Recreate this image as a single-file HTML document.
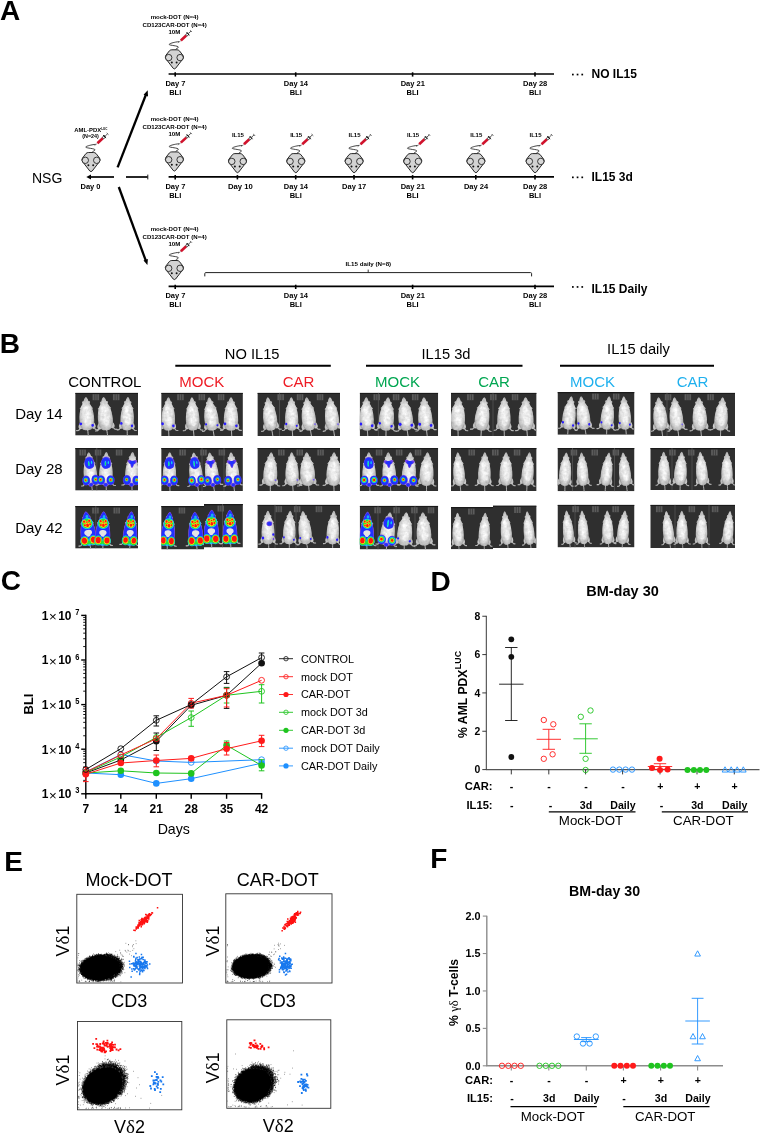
<!DOCTYPE html>
<html lang="en"><head><meta charset="utf-8"><title>Figure</title>
<style>
html,body{margin:0;padding:0;background:#fff;width:760px;height:1134px;overflow:hidden}
svg{display:block;font-family:"Liberation Sans",sans-serif}
.ser{font-family:"Liberation Serif",serif}
</style></head><body>
<svg width="760" height="1134" viewBox="0 0 760 1134">
<rect width="760" height="1134" fill="#fff"/>
<g id="panelA">
<text x="-0.1" y="19.7" font-size="28" font-weight="bold">A</text>
<defs>
<g id="mh">
<path d="M-2.6,-9.7 L2.6,-9.7 Q4,-9.7 5,-8.7 L8.5,-4.2 Q9.7,-2.4 8.6,-0.8 L1.2,8.8 Q0,10 -1.2,8.8 L-8.6,-0.8 Q-9.7,-2.4 -8.5,-4.2 L-5,-8.7 Q-4,-9.7 -2.6,-9.7Z" fill="#d3d3d3" stroke="#111" stroke-width="0.9" stroke-linejoin="round"/>
<circle cx="-5.7" cy="-1.9" r="3.2" fill="#d8d8d8" stroke="#111" stroke-width="0.8"/>
<circle cx="5.7" cy="-1.9" r="3.2" fill="#d8d8d8" stroke="#111" stroke-width="0.8"/>
<circle cx="-2.6" cy="3.1" r="1" fill="#111"/>
<circle cx="2.2" cy="3.1" r="1" fill="#111"/>
<path d="M4.9,-17.9 C1,-17.6 -5.6,-16 -5.2,-15 C-4.8,-14 4.2,-13.8 4,-12.3 C3.9,-11.4 1.8,-11 1.3,-10.2" fill="none" stroke="#222" stroke-width="0.85"/>
<line x1="3.4" y1="-16.5" x2="6.4" y2="-18.8" stroke="#555" stroke-width="0.6"/>
<line x1="6.45" y1="-19" x2="11.8" y2="-24" stroke="#d0122c" stroke-width="2.6"/>
<line x1="11.8" y1="-24" x2="14.2" y2="-26.2" stroke="#222" stroke-width="2.6"/>
<line x1="12.1" y1="-24.3" x2="13.9" y2="-25.9" stroke="#fff" stroke-width="1.4"/>
<line x1="12.2" y1="-27.2" x2="14.9" y2="-24.1" stroke="#111" stroke-width="1"/>
<line x1="14.2" y1="-26.2" x2="16.6" y2="-28.4" stroke="#444" stroke-width="0.9"/>
<line x1="15.7" y1="-29.3" x2="17.5" y2="-27.5" stroke="#444" stroke-width="0.8"/>
</g>
</defs>
<text x="32" y="183" font-size="14">NSG</text>
<use href="#mh" x="91" y="162.2"/>
<text x="74.3" y="131.7" font-size="5.9" font-weight="bold">AML-PDX<tspan font-size="3" dy="-1.7">LUC</tspan></text>
<text x="90.6" y="138.3" font-size="5.4" font-weight="bold" text-anchor="middle">(N=24)</text>
<line x1="89" y1="177" x2="114" y2="177" stroke="#000" stroke-width="1.7"/>
<path d="M86.3,177 L91,174.6 L91,179.4 Z"/>
<text x="90.5" y="188.6" font-size="7.5" font-weight="bold" text-anchor="middle">Day 0</text>
<line x1="126" y1="177" x2="147.6" y2="177" stroke="#000" stroke-width="1.7"/>
<line x1="147.8" y1="174.6" x2="147.8" y2="179.4" stroke="#000" stroke-width="0.9"/>
<line x1="117.6" y1="167.4" x2="146.2" y2="94" stroke="#000" stroke-width="2.3"/>
<path d="M147.7,90.2 L148,96.4 L143.6,94.7 Z"/>
<line x1="118.8" y1="187" x2="146" y2="261.2" stroke="#000" stroke-width="2.3"/>
<path d="M147.4,265 L143.5,260.6 L147.9,259 Z"/>
<line x1="168.6" y1="74" x2="554" y2="74" stroke="#000" stroke-width="1.7"/>
<line x1="175.2" y1="72.3" x2="175.2" y2="76.6" stroke="#000" stroke-width="1.6"/>
<text x="175.4" y="85.8" font-size="7.5" font-weight="bold" text-anchor="middle">Day 7</text>
<text x="175.2" y="94.9" font-size="7.5" font-weight="bold" text-anchor="middle">BLI</text>
<line x1="295.7" y1="72.3" x2="295.7" y2="76.6" stroke="#000" stroke-width="1.6"/>
<text x="295.9" y="85.8" font-size="7.5" font-weight="bold" text-anchor="middle">Day 14</text>
<text x="295.7" y="94.9" font-size="7.5" font-weight="bold" text-anchor="middle">BLI</text>
<line x1="412.6" y1="72.3" x2="412.6" y2="76.6" stroke="#000" stroke-width="1.6"/>
<text x="412.8" y="85.8" font-size="7.5" font-weight="bold" text-anchor="middle">Day 21</text>
<text x="412.6" y="94.9" font-size="7.5" font-weight="bold" text-anchor="middle">BLI</text>
<line x1="535" y1="72.3" x2="535" y2="76.6" stroke="#000" stroke-width="1.6"/>
<text x="535.2" y="85.8" font-size="7.5" font-weight="bold" text-anchor="middle">Day 28</text>
<text x="535" y="94.9" font-size="7.5" font-weight="bold" text-anchor="middle">BLI</text>
<rect x="572" y="73.7" width="1.7" height="1.7"/>
<rect x="576.7" y="73.7" width="1.7" height="1.7"/>
<rect x="581.4" y="73.7" width="1.7" height="1.7"/>
<text x="591.5" y="78.4" font-size="12" font-weight="bold">NO IL15</text>
<line x1="168.6" y1="176.8" x2="554" y2="176.8" stroke="#000" stroke-width="1.7"/>
<line x1="175.2" y1="175.1" x2="175.2" y2="179.4" stroke="#000" stroke-width="1.6"/>
<text x="175.4" y="188.6" font-size="7.5" font-weight="bold" text-anchor="middle">Day 7</text>
<text x="175.2" y="197.7" font-size="7.5" font-weight="bold" text-anchor="middle">BLI</text>
<line x1="237.4" y1="175.1" x2="237.4" y2="179.4" stroke="#000" stroke-width="1.6"/>
<text x="240.4" y="188.6" font-size="7.7" font-weight="bold" text-anchor="middle">Day 10</text>
<line x1="295.7" y1="175.1" x2="295.7" y2="179.4" stroke="#000" stroke-width="1.6"/>
<text x="295.9" y="188.6" font-size="7.5" font-weight="bold" text-anchor="middle">Day 14</text>
<text x="295.7" y="197.7" font-size="7.5" font-weight="bold" text-anchor="middle">BLI</text>
<line x1="354" y1="175.1" x2="354" y2="179.4" stroke="#000" stroke-width="1.6"/>
<text x="354.2" y="188.6" font-size="7.5" font-weight="bold" text-anchor="middle">Day 17</text>
<line x1="412.6" y1="175.1" x2="412.6" y2="179.4" stroke="#000" stroke-width="1.6"/>
<text x="412.8" y="188.6" font-size="7.5" font-weight="bold" text-anchor="middle">Day 21</text>
<text x="412.6" y="197.7" font-size="7.5" font-weight="bold" text-anchor="middle">BLI</text>
<line x1="475.8" y1="175.1" x2="475.8" y2="179.4" stroke="#000" stroke-width="1.6"/>
<text x="476" y="188.6" font-size="7.5" font-weight="bold" text-anchor="middle">Day 24</text>
<line x1="535" y1="175.1" x2="535" y2="179.4" stroke="#000" stroke-width="1.6"/>
<text x="535.2" y="188.6" font-size="7.5" font-weight="bold" text-anchor="middle">Day 28</text>
<text x="535" y="197.7" font-size="7.5" font-weight="bold" text-anchor="middle">BLI</text>
<rect x="572" y="176.5" width="1.7" height="1.7"/>
<rect x="576.7" y="176.5" width="1.7" height="1.7"/>
<rect x="581.4" y="176.5" width="1.7" height="1.7"/>
<text x="591.5" y="181.2" font-size="12" font-weight="bold">IL15 3d</text>
<line x1="168.6" y1="286.4" x2="554" y2="286.4" stroke="#000" stroke-width="1.7"/>
<line x1="175.2" y1="284.7" x2="175.2" y2="289" stroke="#000" stroke-width="1.6"/>
<text x="175.4" y="298.2" font-size="7.5" font-weight="bold" text-anchor="middle">Day 7</text>
<text x="175.2" y="307.3" font-size="7.5" font-weight="bold" text-anchor="middle">BLI</text>
<line x1="295.7" y1="284.7" x2="295.7" y2="289" stroke="#000" stroke-width="1.6"/>
<text x="295.9" y="298.2" font-size="7.5" font-weight="bold" text-anchor="middle">Day 14</text>
<text x="295.7" y="307.3" font-size="7.5" font-weight="bold" text-anchor="middle">BLI</text>
<line x1="412.6" y1="284.7" x2="412.6" y2="289" stroke="#000" stroke-width="1.6"/>
<text x="412.8" y="298.2" font-size="7.5" font-weight="bold" text-anchor="middle">Day 21</text>
<text x="412.6" y="307.3" font-size="7.5" font-weight="bold" text-anchor="middle">BLI</text>
<line x1="535" y1="284.7" x2="535" y2="289" stroke="#000" stroke-width="1.6"/>
<text x="535.2" y="298.2" font-size="7.5" font-weight="bold" text-anchor="middle">Day 28</text>
<text x="535" y="307.3" font-size="7.5" font-weight="bold" text-anchor="middle">BLI</text>
<rect x="572" y="286.1" width="1.7" height="1.7"/>
<rect x="576.7" y="286.1" width="1.7" height="1.7"/>
<rect x="581.4" y="286.1" width="1.7" height="1.7"/>
<text x="591.5" y="293" font-size="12" font-weight="bold">IL15 Daily</text>
<use href="#mh" x="174.4" y="59.5"/>
<text x="174.6" y="19" font-size="6.1" font-weight="bold" text-anchor="middle">mock-DOT (N=4)</text>
<text x="174.6" y="26.5" font-size="6.1" font-weight="bold" text-anchor="middle">CD123CAR-DOT (N=4)</text>
<text x="174.4" y="33.9" font-size="6.1" font-weight="bold" text-anchor="middle">10M</text>
<use href="#mh" x="174.4" y="161.6"/>
<text x="174.6" y="121.1" font-size="6.1" font-weight="bold" text-anchor="middle">mock-DOT (N=4)</text>
<text x="174.6" y="128.6" font-size="6.1" font-weight="bold" text-anchor="middle">CD123CAR-DOT (N=4)</text>
<text x="174.4" y="136" font-size="6.1" font-weight="bold" text-anchor="middle">10M</text>
<use href="#mh" x="174.4" y="270.2"/>
<text x="174.6" y="231.3" font-size="6.1" font-weight="bold" text-anchor="middle">mock-DOT (N=4)</text>
<text x="174.6" y="238.8" font-size="6.1" font-weight="bold" text-anchor="middle">CD123CAR-DOT (N=4)</text>
<text x="174.4" y="246.2" font-size="6.1" font-weight="bold" text-anchor="middle">10M</text>
<use href="#mh" x="237.5" y="163.3"/>
<text x="237.9" y="136.8" font-size="6" font-weight="bold" text-anchor="middle">IL15</text>
<use href="#mh" x="295.8" y="163.3"/>
<text x="296.2" y="136.8" font-size="6" font-weight="bold" text-anchor="middle">IL15</text>
<use href="#mh" x="354.1" y="163.3"/>
<text x="354.5" y="136.8" font-size="6" font-weight="bold" text-anchor="middle">IL15</text>
<use href="#mh" x="412.7" y="163.3"/>
<text x="413.1" y="136.8" font-size="6" font-weight="bold" text-anchor="middle">IL15</text>
<use href="#mh" x="475.9" y="163.3"/>
<text x="476.3" y="136.8" font-size="6" font-weight="bold" text-anchor="middle">IL15</text>
<use href="#mh" x="535.1" y="163.3"/>
<text x="535.5" y="136.8" font-size="6" font-weight="bold" text-anchor="middle">IL15</text>
<path d="M204.8,276.4 L204.8,273.6 Q204.8,272.6 205.8,272.6 L530.6,272.6 Q531.6,272.6 531.6,273.6 L531.6,276.4" fill="none" stroke="#222" stroke-width="1"/>
<line x1="368.2" y1="269.6" x2="368.2" y2="272.6" stroke="#222" stroke-width="0.9"/>
<text x="368.4" y="265.6" font-size="6.2" font-weight="bold" text-anchor="middle">IL15 daily (N=8)</text>
</g>
<g id="panelB">
<text x="-0.3" y="352.8" font-size="28" font-weight="bold">B</text>
<defs>
<filter id="bl" x="-5%" y="-5%" width="110%" height="110%"><feTurbulence type="fractalNoise" baseFrequency="0.32" numOctaves="2" seed="4" result="n"/><feColorMatrix in="n" type="matrix" values="0.5 0.5 0 0 0  0.5 0.5 0 0 0  0.5 0.5 0 0 0  0 0 0 0 1" result="g"/><feComposite in="SourceGraphic" in2="g" operator="arithmetic" k1="0.7" k2="0.64" k3="0" k4="0" result="m"/><feGaussianBlur in="m" stdDeviation="0.5"/></filter>
<filter id="bl2" x="-10%" y="-10%" width="120%" height="120%"><feGaussianBlur stdDeviation="0.75"/></filter>
<radialGradient id="mg" cx="50%" cy="52%" r="58%"><stop offset="0" stop-color="#f3f3f3"/><stop offset="0.5" stop-color="#e0e0e0"/><stop offset="0.82" stop-color="#bdbdbd"/><stop offset="1" stop-color="#8a8a8a"/></radialGradient>
<radialGradient id="hot"><stop offset="0" stop-color="#ff0a00"/><stop offset="0.28" stop-color="#ff3000"/><stop offset="0.42" stop-color="#ffe000"/><stop offset="0.55" stop-color="#20e020"/><stop offset="0.68" stop-color="#00d8f0"/><stop offset="0.82" stop-color="#1038ff"/><stop offset="1" stop-color="#5a20e8" stop-opacity="0.85"/></radialGradient>
<radialGradient id="warm"><stop offset="0" stop-color="#ffe000"/><stop offset="0.25" stop-color="#30e030"/><stop offset="0.5" stop-color="#00d0f0"/><stop offset="0.75" stop-color="#1038ff"/><stop offset="1" stop-color="#5a20e8" stop-opacity="0.85"/></radialGradient>
<radialGradient id="cool"><stop offset="0" stop-color="#00e8e0"/><stop offset="0.35" stop-color="#0070ff"/><stop offset="0.7" stop-color="#2828ff"/><stop offset="1" stop-color="#6a28e0" stop-opacity="0.8"/></radialGradient>
<radialGradient id="vio"><stop offset="0" stop-color="#2a2aff"/><stop offset="0.6" stop-color="#4a28f0"/><stop offset="1" stop-color="#7a40e0" stop-opacity="0.7"/></radialGradient>
<g id="pm">
<path d="M-5.6,12 L-8.6,15.4 L-10.6,15.6 M5.6,12 L8.6,15.4 L10.6,15.6 M-3.8,-8.4 L-6,-6.4 M3.8,-8.4 L6,-6.4" stroke="#b4b4b4" stroke-width="1.15" fill="none" stroke-linecap="round"/>
<path d="M0.3,15 C1,18 0.3,20.5 1.4,24" stroke="#b8b8b8" stroke-width="0.9" fill="none"/>
<ellipse cx="-5.7" cy="10.6" rx="2.5" ry="3.8" transform="rotate(22 -5.7 10.6)" fill="#c4c4c4"/>
<ellipse cx="5.7" cy="10.6" rx="2.5" ry="3.8" transform="rotate(-22 5.7 10.6)" fill="#c4c4c4"/>
<circle cx="-2.7" cy="-12.4" r="1.3" fill="#bdbdbd"/><circle cx="2.7" cy="-12.4" r="1.3" fill="#bdbdbd"/>
<path d="M0,-18 C1.2,-17.6 2,-15.5 2.6,-13 C3,-11.5 4.6,-10 5.4,-7.5 C6.6,-4 7.3,0 7.4,5 C7.5,10 5.8,14.5 3,15.4 C1.5,15.9 -1.5,15.9 -3,15.4 C-5.8,14.5 -7.5,10 -7.4,5 C-7.3,0 -6.6,-4 -5.4,-7.5 C-4.6,-10 -3,-11.5 -2.6,-13 C-2,-15.5 -1.2,-17.6 0,-18Z" fill="url(#mg)"/>
<ellipse cx="-0.8" cy="-5.5" rx="2.4" ry="3.2" fill="#fff" opacity="0.5"/>
<ellipse cx="1" cy="6.5" rx="3.2" ry="4.6" fill="#fff" opacity="0.42"/>
</g>
<path id="sil" d="M0,-18.6 C2.2,-17.4 3.6,-13.5 4.6,-10 C6.1,-6 7.6,-1 7.9,5 C8.2,10.4 6,16.4 0,16.4 C-6,16.4 -8.2,10.4 -7.9,5 C-7.6,-1 -6.1,-6 -4.6,-10 C-3.6,-13.5 -2.2,-17.4 0,-18.6Z"/>
</defs>
<text x="252.2" y="359.2" font-size="14.7" text-anchor="middle">NO IL15</text>
<text x="446" y="359.2" font-size="14.7" text-anchor="middle">IL15 3d</text>
<text x="638.5" y="354.3" font-size="14.7" text-anchor="middle">IL15 daily</text>
<line x1="175.3" y1="365.7" x2="330.8" y2="365.7" stroke="#000" stroke-width="2"/>
<line x1="366" y1="365.7" x2="522.5" y2="365.7" stroke="#000" stroke-width="2"/>
<line x1="560" y1="365.7" x2="714" y2="365.7" stroke="#000" stroke-width="2"/>
<text x="104.8" y="386.8" font-size="15" text-anchor="middle">CONTROL</text>
<text x="201.8" y="386.8" font-size="15" text-anchor="middle" fill="#ee1c25">MOCK</text>
<text x="298.5" y="386.8" font-size="15" text-anchor="middle" fill="#ee1c25">CAR</text>
<text x="397.6" y="386.8" font-size="15" text-anchor="middle" fill="#00a651">MOCK</text>
<text x="494" y="386.8" font-size="15" text-anchor="middle" fill="#00a651">CAR</text>
<text x="592.5" y="386.8" font-size="15" text-anchor="middle" fill="#1fb0ee">MOCK</text>
<text x="692.5" y="386.8" font-size="15" text-anchor="middle" fill="#1fb0ee">CAR</text>
<text x="15.2" y="418.7" font-size="15">Day 14</text>
<text x="15.2" y="474" font-size="15">Day 28</text>
<text x="15.2" y="532.5" font-size="15">Day 42</text>
<clipPath id="c0"><rect x="75.2" y="392.7" width="62.8" height="42.9"/></clipPath>
<g clip-path="url(#c0)">
<rect x="75.2" y="392.7" width="62.8" height="42.9" fill="#2f2f2f"/>
<rect x="92.6" y="394.2" width="6.5" height="6" fill="#5c5c5c"/>
<path d="M94.8,394.2v6M97,394.2v6" stroke="#333" stroke-width="0.7"/>
<rect x="112.95" y="394.2" width="6.5" height="6" fill="#5c5c5c"/>
<path d="M115.15,394.2v6M117.35,394.2v6" stroke="#333" stroke-width="0.7"/>
<rect x="75.2" y="392.7" width="62.8" height="1.2" fill="#1a1a1a"/>
<g filter="url(#bl)">
<use href="#pm" transform="translate(86.6,414.75) rotate(-2.47) scale(1,0.99)"/>
<use href="#pm" transform="translate(105,414.75) rotate(-4.89) scale(1.01,0.99)"/>
<use href="#pm" transform="translate(127.3,414.75) rotate(2.11) scale(0.91,0.99)"/>
</g>
<g filter="url(#bl2)">
<g transform="translate(86.6,414.75) rotate(-2.47) scale(1,0.99)"><ellipse cx="-6.2" cy="9" rx="1.4" ry="1.4" fill="#2a1cff"/><ellipse cx="5.6" cy="11" rx="1.33" ry="1.33" fill="#2a1cff"/></g>
<g transform="translate(127.3,414.75) rotate(2.11) scale(0.91,0.99)"><ellipse cx="-6.2" cy="9" rx="1.4" ry="1.4" fill="#2a1cff"/><ellipse cx="5.6" cy="11" rx="1.33" ry="1.33" fill="#2a1cff"/></g>
</g>
</g>
<clipPath id="c1"><rect x="161.2" y="392.7" width="81.7" height="43.3"/></clipPath>
<g clip-path="url(#c1)">
<rect x="161.2" y="392.7" width="81.7" height="43.3" fill="#2f2f2f"/>
<rect x="177.2" y="394.2" width="6.5" height="6" fill="#5c5c5c"/>
<path d="M179.4,394.2v6M181.6,394.2v6" stroke="#333" stroke-width="0.7"/>
<rect x="198.55" y="394.2" width="6.5" height="6" fill="#5c5c5c"/>
<path d="M200.75,394.2v6M202.95,394.2v6" stroke="#333" stroke-width="0.7"/>
<rect x="217.8" y="394.2" width="6.5" height="6" fill="#5c5c5c"/>
<path d="M220,394.2v6M222.2,394.2v6" stroke="#333" stroke-width="0.7"/>
<rect x="161.2" y="392.7" width="81.7" height="1.2" fill="#1a1a1a"/>
<g filter="url(#bl)">
<use href="#pm" transform="translate(168.3,414.95) rotate(0.5) scale(0.92,0.99)"/>
<use href="#pm" transform="translate(192.5,414.95) rotate(-1.88) scale(0.92,0.99)"/>
<use href="#pm" transform="translate(211,414.95) rotate(-6.19) scale(0.95,0.99)"/>
<use href="#pm" transform="translate(231,414.95) rotate(0.1) scale(0.97,0.99)"/>
</g>
<g filter="url(#bl2)">
<g transform="translate(168.3,414.95) rotate(0.5) scale(0.92,0.99)"><ellipse cx="-6.2" cy="9" rx="1.53" ry="1.53" fill="#2a1cff"/><ellipse cx="5.6" cy="11" rx="1.45" ry="1.45" fill="#2a1cff"/></g>
<g transform="translate(211,414.95) rotate(-6.19) scale(0.95,0.99)"><ellipse cx="-6.2" cy="9" rx="1.14" ry="1.14" fill="#2a1cff"/><ellipse cx="5.6" cy="11" rx="1.08" ry="1.08" fill="#2a1cff"/></g>
<g transform="translate(231,414.95) rotate(0.1) scale(0.97,0.99)"><ellipse cx="-6.2" cy="9" rx="1.4" ry="1.4" fill="#2a1cff"/><ellipse cx="5.6" cy="11" rx="1.33" ry="1.33" fill="#2a1cff"/></g>
</g>
</g>
<clipPath id="c2"><rect x="257.4" y="392.7" width="82.6" height="43.3"/></clipPath>
<g clip-path="url(#c2)">
<rect x="257.4" y="392.7" width="82.6" height="43.3" fill="#2f2f2f"/>
<rect x="277.45" y="394.2" width="6.5" height="6" fill="#5c5c5c"/>
<path d="M279.65,394.2v6M281.85,394.2v6" stroke="#333" stroke-width="0.7"/>
<rect x="296.8" y="394.2" width="6.5" height="6" fill="#5c5c5c"/>
<path d="M299,394.2v6M301.2,394.2v6" stroke="#333" stroke-width="0.7"/>
<rect x="316.8" y="394.2" width="6.5" height="6" fill="#5c5c5c"/>
<path d="M319,394.2v6M321.2,394.2v6" stroke="#333" stroke-width="0.7"/>
<rect x="257.4" y="392.7" width="82.6" height="1.2" fill="#1a1a1a"/>
<line x1="279.5" y1="392.7" x2="279.5" y2="436" stroke="#5a5a5a" stroke-width="0.7"/>
<g filter="url(#bl)">
<use href="#pm" transform="translate(269.7,414.95) rotate(-6.48) scale(0.93,0.99)"/>
<use href="#pm" transform="translate(291.6,414.95) rotate(-0.93) scale(0.89,0.99)"/>
<use href="#pm" transform="translate(308.4,414.95) rotate(-6.02) scale(0.95,0.99)"/>
<use href="#pm" transform="translate(331.6,414.95) rotate(-5.73) scale(0.94,0.99)"/>
</g>
<g filter="url(#bl2)">
<g transform="translate(291.6,414.95) rotate(-0.93) scale(0.89,0.99)"><ellipse cx="-6.2" cy="9" rx="1.21" ry="1.21" fill="#2a1cff"/><ellipse cx="5.6" cy="11" rx="1.14" ry="1.14" fill="#2a1cff"/></g>
<g transform="translate(308.4,414.95) rotate(-6.02) scale(0.95,0.99)"><ellipse cx="5.8" cy="10" rx="0.9" ry="0.9" fill="#6a50ff" opacity="0.85"/></g>
<g transform="translate(331.6,414.95) rotate(-5.73) scale(0.94,0.99)"><ellipse cx="5.8" cy="10" rx="0.9" ry="0.9" fill="#6a50ff" opacity="0.85"/></g>
</g>
</g>
<clipPath id="c3"><rect x="359.7" y="392.7" width="78.5" height="43.3"/></clipPath>
<g clip-path="url(#c3)">
<rect x="359.7" y="392.7" width="78.5" height="43.3" fill="#2f2f2f"/>
<rect x="373.5" y="394.2" width="6.5" height="6" fill="#5c5c5c"/>
<path d="M375.7,394.2v6M377.9,394.2v6" stroke="#333" stroke-width="0.7"/>
<rect x="392.85" y="394.2" width="6.5" height="6" fill="#5c5c5c"/>
<path d="M395.05,394.2v6M397.25,394.2v6" stroke="#333" stroke-width="0.7"/>
<rect x="411.95" y="394.2" width="6.5" height="6" fill="#5c5c5c"/>
<path d="M414.15,394.2v6M416.35,394.2v6" stroke="#333" stroke-width="0.7"/>
<rect x="359.7" y="392.7" width="78.5" height="1.2" fill="#1a1a1a"/>
<line x1="378.4" y1="392.7" x2="378.4" y2="436" stroke="#5a5a5a" stroke-width="0.7"/>
<g filter="url(#bl)">
<use href="#pm" transform="translate(366.6,414.95) rotate(-1.06) scale(0.96,0.99)"/>
<use href="#pm" transform="translate(386.8,414.95) rotate(4.58) scale(1.01,0.99)"/>
<use href="#pm" transform="translate(405.3,414.95) rotate(-5.27) scale(0.98,0.99)"/>
<use href="#pm" transform="translate(425,414.95) rotate(-3.87) scale(0.96,0.99)"/>
</g>
<g filter="url(#bl2)">
<g transform="translate(366.6,414.95) rotate(-1.06) scale(0.96,0.99)"><ellipse cx="-6.2" cy="9" rx="1.53" ry="1.53" fill="#2a1cff"/><ellipse cx="5.6" cy="11" rx="1.45" ry="1.45" fill="#2a1cff"/></g>
<g transform="translate(386.8,414.95) rotate(4.58) scale(1.01,0.99)"><ellipse cx="-6.2" cy="9" rx="1.27" ry="1.27" fill="#2a1cff"/><ellipse cx="5.6" cy="11" rx="1.21" ry="1.21" fill="#2a1cff"/></g>
<g transform="translate(405.3,414.95) rotate(-5.27) scale(0.98,0.99)"><ellipse cx="-6.2" cy="9" rx="1.53" ry="1.53" fill="#2a1cff"/><ellipse cx="5.6" cy="11" rx="1.45" ry="1.45" fill="#2a1cff"/></g>
<g transform="translate(425,414.95) rotate(-3.87) scale(0.96,0.99)"><ellipse cx="-6.2" cy="9" rx="1.53" ry="1.53" fill="#2a1cff"/><ellipse cx="5.6" cy="11" rx="1.45" ry="1.45" fill="#2a1cff"/></g>
</g>
</g>
<clipPath id="c4"><rect x="451" y="392.7" width="85.6" height="43.3"/></clipPath>
<g clip-path="url(#c4)">
<rect x="451" y="392.7" width="85.6" height="43.3" fill="#2f2f2f"/>
<rect x="467.05" y="394.2" width="6.5" height="6" fill="#5c5c5c"/>
<path d="M469.25,394.2v6M471.45,394.2v6" stroke="#333" stroke-width="0.7"/>
<rect x="490.05" y="394.2" width="6.5" height="6" fill="#5c5c5c"/>
<path d="M492.25,394.2v6M494.45,394.2v6" stroke="#333" stroke-width="0.7"/>
<rect x="511.8" y="394.2" width="6.5" height="6" fill="#5c5c5c"/>
<path d="M514,394.2v6M516.2,394.2v6" stroke="#333" stroke-width="0.7"/>
<rect x="451" y="392.7" width="85.6" height="1.2" fill="#1a1a1a"/>
<line x1="493" y1="392.7" x2="493" y2="436" stroke="#5a5a5a" stroke-width="0.7"/>
<g filter="url(#bl)">
<use href="#pm" transform="translate(458,414.95) rotate(1.78) scale(0.97,0.99)"/>
<use href="#pm" transform="translate(482.5,414.95) rotate(6.27) scale(0.98,0.99)"/>
<use href="#pm" transform="translate(504,414.95) rotate(1.08) scale(0.9,0.99)"/>
<use href="#pm" transform="translate(526,414.95) rotate(-1.45) scale(1.01,0.99)"/>
</g>
</g>
<clipPath id="c5"><rect x="557.5" y="392" width="77" height="42.8"/></clipPath>
<g clip-path="url(#c5)">
<rect x="557.5" y="392" width="77" height="42.8" fill="#2f2f2f"/>
<rect x="592.15" y="393.5" width="6.5" height="6" fill="#5c5c5c"/>
<path d="M594.35,393.5v6M596.55,393.5v6" stroke="#333" stroke-width="0.7"/>
<rect x="612.95" y="393.5" width="6.5" height="6" fill="#5c5c5c"/>
<path d="M615.15,393.5v6M617.35,393.5v6" stroke="#333" stroke-width="0.7"/>
<rect x="557.5" y="392" width="77" height="1.2" fill="#1a1a1a"/>
<g filter="url(#bl)">
<use href="#pm" transform="translate(569.4,414) rotate(6.67) scale(0.89,0.99)"/>
<use href="#pm" transform="translate(583,414) rotate(-6.35) scale(0.9,0.99)"/>
<use href="#pm" transform="translate(607.7,414) rotate(5.02) scale(0.89,0.99)"/>
<use href="#pm" transform="translate(624.6,414) rotate(-2.95) scale(0.84,0.99)"/>
</g>
<g filter="url(#bl2)">
<g transform="translate(569.4,414) rotate(6.67) scale(0.89,0.99)"><ellipse cx="-6.2" cy="9" rx="1.33" ry="1.33" fill="#2a1cff"/><ellipse cx="5.6" cy="11" rx="1.27" ry="1.27" fill="#2a1cff"/></g>
<g transform="translate(583,414) rotate(-6.35) scale(0.9,0.99)"><ellipse cx="-6.2" cy="9" rx="1.27" ry="1.27" fill="#2a1cff"/><ellipse cx="5.6" cy="11" rx="1.21" ry="1.21" fill="#2a1cff"/></g>
<g transform="translate(607.7,414) rotate(5.02) scale(0.89,0.99)"><ellipse cx="-6.2" cy="9" rx="1.14" ry="1.14" fill="#2a1cff"/><ellipse cx="5.6" cy="11" rx="1.08" ry="1.08" fill="#2a1cff"/></g>
<g transform="translate(624.6,414) rotate(-2.95) scale(0.84,0.99)"><ellipse cx="-6.2" cy="9" rx="1.14" ry="1.14" fill="#2a1cff"/><ellipse cx="5.6" cy="11" rx="1.08" ry="1.08" fill="#2a1cff"/></g>
</g>
</g>
<clipPath id="c6"><rect x="650.3" y="392.7" width="84.7" height="43.3"/></clipPath>
<g clip-path="url(#c6)">
<rect x="650.3" y="392.7" width="84.7" height="43.3" fill="#2f2f2f"/>
<rect x="664.8" y="394.2" width="6.5" height="6" fill="#5c5c5c"/>
<path d="M667,394.2v6M669.2,394.2v6" stroke="#333" stroke-width="0.7"/>
<rect x="684.6" y="394.2" width="6.5" height="6" fill="#5c5c5c"/>
<path d="M686.8,394.2v6M689,394.2v6" stroke="#333" stroke-width="0.7"/>
<rect x="707.3" y="394.2" width="6.5" height="6" fill="#5c5c5c"/>
<path d="M709.5,394.2v6M711.7,394.2v6" stroke="#333" stroke-width="0.7"/>
<rect x="650.3" y="392.7" width="84.7" height="1.2" fill="#1a1a1a"/>
<line x1="667" y1="392.7" x2="667" y2="436" stroke="#5a5a5a" stroke-width="0.7"/>
<g filter="url(#bl)">
<use href="#pm" transform="translate(660,414.95) rotate(-4.98) scale(0.94,0.99)"/>
<use href="#pm" transform="translate(676,414.95) rotate(-5.35) scale(0.91,0.99)"/>
<use href="#pm" transform="translate(699.6,414.95) rotate(-2.68) scale(0.97,0.99)"/>
<use href="#pm" transform="translate(721.4,414.95) rotate(4.43) scale(0.9,0.99)"/>
</g>
<g filter="url(#bl2)">
<g transform="translate(676,414.95) rotate(-5.35) scale(0.91,0.99)"><ellipse cx="5.8" cy="10" rx="0.9" ry="0.9" fill="#6a50ff" opacity="0.85"/></g>
</g>
</g>
<clipPath id="c7"><rect x="75.2" y="448" width="62.8" height="42.6"/></clipPath>
<g clip-path="url(#c7)">
<rect x="75.2" y="448" width="62.8" height="42.6" fill="#2f2f2f"/>
<rect x="79.4" y="449.5" width="6.5" height="6" fill="#5c5c5c"/>
<path d="M81.6,449.5v6M83.8,449.5v6" stroke="#333" stroke-width="0.7"/>
<rect x="94.8" y="449.5" width="6.5" height="6" fill="#5c5c5c"/>
<path d="M97,449.5v6M99.2,449.5v6" stroke="#333" stroke-width="0.7"/>
<rect x="115.8" y="449.5" width="6.5" height="6" fill="#5c5c5c"/>
<path d="M118,449.5v6M120.2,449.5v6" stroke="#333" stroke-width="0.7"/>
<rect x="75.2" y="448" width="62.8" height="1.2" fill="#1a1a1a"/>
<line x1="96.8" y1="448" x2="96.8" y2="490.6" stroke="#5a5a5a" stroke-width="0.7"/>
<g filter="url(#bl)">
<use href="#pm" transform="translate(90,469.9) rotate(-4.47) scale(0.9,0.99)"/>
<use href="#pm" transform="translate(106,469.9) rotate(1.14) scale(0.92,0.99)"/>
<use href="#pm" transform="translate(132,469.9) rotate(1.94) scale(0.91,0.99)"/>
</g>
<g filter="url(#bl2)">
<g transform="translate(90,469.9) rotate(-4.47) scale(0.9,0.99)"><ellipse cx="0" cy="-7.2" rx="5.6" ry="6.4" fill="#6d3fe6" opacity="0.8"/><ellipse cx="-0.3" cy="-7" rx="5" ry="5.7" fill="#2230ff"/><ellipse cx="2.8" cy="-4.5" rx="2" ry="2.4" fill="#2230ff"/><ellipse cx="-0.8" cy="-6.5" rx="1" ry="2.7" fill="#14d2ee"/><ellipse cx="2.4" cy="-7.5" rx="0.8" ry="1.6" fill="#14d2ee"/><ellipse cx="-0.8" cy="-6.2" rx="0.45" ry="1.5" fill="#2fe02f"/><ellipse cx="-5.2" cy="10.4" rx="4.5" ry="5" fill="#6d3fe6" opacity="0.8"/><ellipse cx="-5.2" cy="10.4" rx="4" ry="4.5" fill="#2230ff"/><ellipse cx="-5.5" cy="10" rx="2.5" ry="2.5" fill="#14d2ee"/><ellipse cx="-5.5" cy="10" rx="1.95" ry="1.95" fill="#2fe02f"/><ellipse cx="-5.5" cy="10" rx="1.45" ry="1.45" fill="#ffe614"/><ellipse cx="-5.5" cy="10" rx="1" ry="1" fill="#ff1408"/><ellipse cx="5.2" cy="10.4" rx="4.5" ry="5" fill="#6d3fe6" opacity="0.8"/><ellipse cx="5.2" cy="10.4" rx="4" ry="4.5" fill="#2230ff"/><ellipse cx="5.5" cy="10" rx="2.5" ry="2.5" fill="#14d2ee"/><ellipse cx="5.5" cy="10" rx="1.95" ry="1.95" fill="#2fe02f"/><ellipse cx="5.5" cy="10" rx="1.45" ry="1.45" fill="#ffe614"/><ellipse cx="5.5" cy="10" rx="1" ry="1" fill="#ff1408"/><ellipse cx="0" cy="15" rx="2.6" ry="2.1" fill="#6d3fe6"/><ellipse cx="0" cy="15" rx="1.8" ry="1.4" fill="#2230ff"/></g>
<g transform="translate(106,469.9) rotate(1.14) scale(0.92,0.99)"><ellipse cx="0" cy="-7.2" rx="5.6" ry="6.4" fill="#6d3fe6" opacity="0.8"/><ellipse cx="-0.3" cy="-7" rx="5" ry="5.7" fill="#2230ff"/><ellipse cx="2.8" cy="-4.5" rx="2" ry="2.4" fill="#2230ff"/><ellipse cx="-0.8" cy="-6.5" rx="1" ry="2.7" fill="#14d2ee"/><ellipse cx="2.4" cy="-7.5" rx="0.8" ry="1.6" fill="#14d2ee"/><ellipse cx="-0.8" cy="-6.2" rx="0.45" ry="1.5" fill="#2fe02f"/><ellipse cx="-5.2" cy="10.4" rx="4.5" ry="5" fill="#6d3fe6" opacity="0.8"/><ellipse cx="-5.2" cy="10.4" rx="4" ry="4.5" fill="#2230ff"/><ellipse cx="-5.5" cy="10" rx="2.5" ry="2.5" fill="#14d2ee"/><ellipse cx="-5.5" cy="10" rx="1.95" ry="1.95" fill="#2fe02f"/><ellipse cx="-5.5" cy="10" rx="1.45" ry="1.45" fill="#ffe614"/><ellipse cx="-5.5" cy="10" rx="1" ry="1" fill="#ff1408"/><ellipse cx="5.2" cy="10.4" rx="4.5" ry="5" fill="#6d3fe6" opacity="0.8"/><ellipse cx="5.2" cy="10.4" rx="4" ry="4.5" fill="#2230ff"/><ellipse cx="5.5" cy="10" rx="2.5" ry="2.5" fill="#14d2ee"/><ellipse cx="5.5" cy="10" rx="1.95" ry="1.95" fill="#2fe02f"/><ellipse cx="5.5" cy="10" rx="1.45" ry="1.45" fill="#ffe614"/><ellipse cx="5.5" cy="10" rx="1" ry="1" fill="#ff1408"/><ellipse cx="0" cy="15" rx="2.6" ry="2.1" fill="#6d3fe6"/><ellipse cx="0" cy="15" rx="1.8" ry="1.4" fill="#2230ff"/></g>
<g transform="translate(132,469.9) rotate(1.94) scale(0.91,0.99)"><path d="M-5.4,-9.5 C-3,-11 -1,-9.5 0,-8.5 C1,-9.5 3,-11 5.4,-9.5 C5,-7 3,-6.5 2,-5.5 C1.6,-3.6 0.8,-2.2 0,-2 C-0.8,-2.2 -1.6,-3.6 -2,-5.5 C-3,-6.5 -5,-7 -5.4,-9.5Z" fill="#6d3fe6"/><ellipse cx="0" cy="-7.6" rx="3.4" ry="1.7" fill="#2230ff"/><ellipse cx="0" cy="-5.5" rx="1.1" ry="2.2" fill="#2230ff"/><ellipse cx="-5.2" cy="10.4" rx="4.5" ry="5" fill="#6d3fe6" opacity="0.8"/><ellipse cx="-5.2" cy="10.4" rx="4" ry="4.5" fill="#2230ff"/><ellipse cx="-5.5" cy="10" rx="2" ry="2" fill="#14d2ee"/><ellipse cx="-5.5" cy="10" rx="1.56" ry="1.56" fill="#2fe02f"/><ellipse cx="-5.5" cy="10" rx="1.16" ry="1.16" fill="#ffe614"/><ellipse cx="-5.5" cy="10" rx="0.8" ry="0.8" fill="#ff1408"/><ellipse cx="5.2" cy="10.4" rx="4.5" ry="5" fill="#6d3fe6" opacity="0.8"/><ellipse cx="5.2" cy="10.4" rx="4" ry="4.5" fill="#2230ff"/><ellipse cx="5.5" cy="10" rx="2" ry="2" fill="#14d2ee"/><ellipse cx="5.5" cy="10" rx="1.56" ry="1.56" fill="#2fe02f"/><ellipse cx="5.5" cy="10" rx="1.16" ry="1.16" fill="#ffe614"/><ellipse cx="5.5" cy="10" rx="0.8" ry="0.8" fill="#ff1408"/><ellipse cx="0" cy="15" rx="2.6" ry="2.1" fill="#6d3fe6"/><ellipse cx="0" cy="15" rx="1.8" ry="1.4" fill="#2230ff"/></g>
</g>
</g>
<clipPath id="c8"><rect x="161.2" y="448" width="81.7" height="43"/></clipPath>
<g clip-path="url(#c8)">
<rect x="161.2" y="448" width="81.7" height="43" fill="#2f2f2f"/>
<rect x="179.3" y="449.5" width="6.5" height="6" fill="#5c5c5c"/>
<path d="M181.5,449.5v6M183.7,449.5v6" stroke="#333" stroke-width="0.7"/>
<rect x="200.25" y="449.5" width="6.5" height="6" fill="#5c5c5c"/>
<path d="M202.45,449.5v6M204.65,449.5v6" stroke="#333" stroke-width="0.7"/>
<rect x="218.6" y="449.5" width="6.5" height="6" fill="#5c5c5c"/>
<path d="M220.8,449.5v6M223,449.5v6" stroke="#333" stroke-width="0.7"/>
<rect x="161.2" y="448" width="81.7" height="1.2" fill="#1a1a1a"/>
<line x1="202" y1="448" x2="202" y2="491" stroke="#5a5a5a" stroke-width="0.7"/>
<line x1="224" y1="448" x2="224" y2="491" stroke="#5a5a5a" stroke-width="0.7"/>
<g filter="url(#bl)">
<use href="#pm" transform="translate(169.5,470.1) rotate(0.67) scale(0.9,0.99)"/>
<use href="#pm" transform="translate(195.5,470.1) rotate(-6.12) scale(0.89,0.99)"/>
<use href="#pm" transform="translate(211.4,470.1) rotate(-6.17) scale(0.91,0.99)"/>
<use href="#pm" transform="translate(232.2,470.1) rotate(-4.12) scale(0.91,0.99)"/>
</g>
<g filter="url(#bl2)">
<g transform="translate(169.5,470.1) rotate(0.67) scale(0.9,0.99)"><ellipse cx="0" cy="-7.2" rx="5.6" ry="6.4" fill="#6d3fe6" opacity="0.8"/><ellipse cx="-0.3" cy="-7" rx="5" ry="5.7" fill="#2230ff"/><ellipse cx="2.8" cy="-4.5" rx="2" ry="2.4" fill="#2230ff"/><ellipse cx="-0.8" cy="-6.5" rx="1" ry="2.7" fill="#14d2ee"/><ellipse cx="2.4" cy="-7.5" rx="0.8" ry="1.6" fill="#14d2ee"/><ellipse cx="-0.8" cy="-6.2" rx="0.45" ry="1.5" fill="#2fe02f"/><ellipse cx="-5.2" cy="10.4" rx="4.5" ry="5" fill="#6d3fe6" opacity="0.8"/><ellipse cx="-5.2" cy="10.4" rx="4" ry="4.5" fill="#2230ff"/><ellipse cx="-5.5" cy="10" rx="2.5" ry="2.5" fill="#14d2ee"/><ellipse cx="-5.5" cy="10" rx="1.95" ry="1.95" fill="#2fe02f"/><ellipse cx="-5.5" cy="10" rx="1.45" ry="1.45" fill="#ffe614"/><ellipse cx="-5.5" cy="10" rx="1" ry="1" fill="#ff1408"/><ellipse cx="5.2" cy="10.4" rx="4.5" ry="5" fill="#6d3fe6" opacity="0.8"/><ellipse cx="5.2" cy="10.4" rx="4" ry="4.5" fill="#2230ff"/><ellipse cx="5.5" cy="10" rx="2.5" ry="2.5" fill="#14d2ee"/><ellipse cx="5.5" cy="10" rx="1.95" ry="1.95" fill="#2fe02f"/><ellipse cx="5.5" cy="10" rx="1.45" ry="1.45" fill="#ffe614"/><ellipse cx="5.5" cy="10" rx="1" ry="1" fill="#ff1408"/><ellipse cx="0" cy="15" rx="2.6" ry="2.1" fill="#6d3fe6"/><ellipse cx="0" cy="15" rx="1.8" ry="1.4" fill="#2230ff"/></g>
<g transform="translate(195.5,470.1) rotate(-6.12) scale(0.89,0.99)"><ellipse cx="0" cy="-7.2" rx="5.6" ry="6.4" fill="#6d3fe6" opacity="0.8"/><ellipse cx="-0.3" cy="-7" rx="5" ry="5.7" fill="#2230ff"/><ellipse cx="2.8" cy="-4.5" rx="2" ry="2.4" fill="#2230ff"/><ellipse cx="-0.8" cy="-6.5" rx="1" ry="3.24" fill="#14d2ee"/><ellipse cx="2.4" cy="-7.5" rx="0.8" ry="1.6" fill="#14d2ee"/><ellipse cx="-0.8" cy="-6.2" rx="0.45" ry="1.5" fill="#2fe02f"/><ellipse cx="-5.2" cy="10.4" rx="4.5" ry="5" fill="#6d3fe6" opacity="0.8"/><ellipse cx="-5.2" cy="10.4" rx="4" ry="4.5" fill="#2230ff"/><ellipse cx="-5.5" cy="10" rx="3" ry="3" fill="#14d2ee"/><ellipse cx="-5.5" cy="10" rx="2.34" ry="2.34" fill="#2fe02f"/><ellipse cx="-5.5" cy="10" rx="1.74" ry="1.74" fill="#ffe614"/><ellipse cx="-5.5" cy="10" rx="1.2" ry="1.2" fill="#ff1408"/><ellipse cx="5.2" cy="10.4" rx="4.5" ry="5" fill="#6d3fe6" opacity="0.8"/><ellipse cx="5.2" cy="10.4" rx="4" ry="4.5" fill="#2230ff"/><ellipse cx="5.5" cy="10" rx="3" ry="3" fill="#14d2ee"/><ellipse cx="5.5" cy="10" rx="2.34" ry="2.34" fill="#2fe02f"/><ellipse cx="5.5" cy="10" rx="1.74" ry="1.74" fill="#ffe614"/><ellipse cx="5.5" cy="10" rx="1.2" ry="1.2" fill="#ff1408"/><ellipse cx="0" cy="15" rx="2.6" ry="2.1" fill="#6d3fe6"/><ellipse cx="0" cy="15" rx="1.8" ry="1.4" fill="#2230ff"/></g>
<g transform="translate(211.4,470.1) rotate(-6.17) scale(0.91,0.99)"><path d="M-5.4,-9.5 C-3,-11 -1,-9.5 0,-8.5 C1,-9.5 3,-11 5.4,-9.5 C5,-7 3,-6.5 2,-5.5 C1.6,-3.6 0.8,-2.2 0,-2 C-0.8,-2.2 -1.6,-3.6 -2,-5.5 C-3,-6.5 -5,-7 -5.4,-9.5Z" fill="#6d3fe6"/><ellipse cx="0" cy="-7.6" rx="3.4" ry="1.7" fill="#2230ff"/><ellipse cx="0" cy="-5.5" rx="1.1" ry="2.2" fill="#2230ff"/><ellipse cx="-5.2" cy="10.4" rx="4.5" ry="5" fill="#6d3fe6" opacity="0.8"/><ellipse cx="-5.2" cy="10.4" rx="4" ry="4.5" fill="#2230ff"/><ellipse cx="-5.5" cy="10" rx="2.25" ry="2.25" fill="#14d2ee"/><ellipse cx="-5.5" cy="10" rx="1.75" ry="1.75" fill="#2fe02f"/><ellipse cx="-5.5" cy="10" rx="1.3" ry="1.3" fill="#ffe614"/><ellipse cx="-5.5" cy="10" rx="0.9" ry="0.9" fill="#ff1408"/><ellipse cx="5.2" cy="10.4" rx="4.5" ry="5" fill="#6d3fe6" opacity="0.8"/><ellipse cx="5.2" cy="10.4" rx="4" ry="4.5" fill="#2230ff"/><ellipse cx="5.5" cy="10" rx="2.25" ry="2.25" fill="#14d2ee"/><ellipse cx="5.5" cy="10" rx="1.75" ry="1.75" fill="#2fe02f"/><ellipse cx="5.5" cy="10" rx="1.3" ry="1.3" fill="#ffe614"/><ellipse cx="5.5" cy="10" rx="0.9" ry="0.9" fill="#ff1408"/><ellipse cx="0" cy="15" rx="2.6" ry="2.1" fill="#6d3fe6"/><ellipse cx="0" cy="15" rx="1.8" ry="1.4" fill="#2230ff"/></g>
<g transform="translate(232.2,470.1) rotate(-4.12) scale(0.91,0.99)"><path d="M-5.4,-9.5 C-3,-11 -1,-9.5 0,-8.5 C1,-9.5 3,-11 5.4,-9.5 C5,-7 3,-6.5 2,-5.5 C1.6,-3.6 0.8,-2.2 0,-2 C-0.8,-2.2 -1.6,-3.6 -2,-5.5 C-3,-6.5 -5,-7 -5.4,-9.5Z" fill="#6d3fe6"/><ellipse cx="0" cy="-7.6" rx="3.4" ry="1.7" fill="#2230ff"/><ellipse cx="0" cy="-5.5" rx="1.1" ry="2.2" fill="#2230ff"/><ellipse cx="-5.2" cy="10.4" rx="4.5" ry="5" fill="#6d3fe6" opacity="0.8"/><ellipse cx="-5.2" cy="10.4" rx="4" ry="4.5" fill="#2230ff"/><ellipse cx="-5.5" cy="10" rx="2.25" ry="2.25" fill="#14d2ee"/><ellipse cx="-5.5" cy="10" rx="1.75" ry="1.75" fill="#2fe02f"/><ellipse cx="-5.5" cy="10" rx="1.3" ry="1.3" fill="#ffe614"/><ellipse cx="-5.5" cy="10" rx="0.9" ry="0.9" fill="#ff1408"/><ellipse cx="5.2" cy="10.4" rx="4.5" ry="5" fill="#6d3fe6" opacity="0.8"/><ellipse cx="5.2" cy="10.4" rx="4" ry="4.5" fill="#2230ff"/><ellipse cx="5.5" cy="10" rx="2.25" ry="2.25" fill="#14d2ee"/><ellipse cx="5.5" cy="10" rx="1.75" ry="1.75" fill="#2fe02f"/><ellipse cx="5.5" cy="10" rx="1.3" ry="1.3" fill="#ffe614"/><ellipse cx="5.5" cy="10" rx="0.9" ry="0.9" fill="#ff1408"/><ellipse cx="0" cy="15" rx="2.6" ry="2.1" fill="#6d3fe6"/><ellipse cx="0" cy="15" rx="1.8" ry="1.4" fill="#2230ff"/></g>
</g>
</g>
<clipPath id="c9"><rect x="257.4" y="448" width="82.6" height="43"/></clipPath>
<g clip-path="url(#c9)">
<rect x="257.4" y="448" width="82.6" height="43" fill="#2f2f2f"/>
<rect x="278.05" y="449.5" width="6.5" height="6" fill="#5c5c5c"/>
<path d="M280.25,449.5v6M282.45,449.5v6" stroke="#333" stroke-width="0.7"/>
<rect x="296.5" y="449.5" width="6.5" height="6" fill="#5c5c5c"/>
<path d="M298.7,449.5v6M300.9,449.5v6" stroke="#333" stroke-width="0.7"/>
<rect x="317.35" y="449.5" width="6.5" height="6" fill="#5c5c5c"/>
<path d="M319.55,449.5v6M321.75,449.5v6" stroke="#333" stroke-width="0.7"/>
<rect x="257.4" y="448" width="82.6" height="1.2" fill="#1a1a1a"/>
<g filter="url(#bl)">
<use href="#pm" transform="translate(270.5,470.1) rotate(2.53) scale(0.94,0.99)"/>
<use href="#pm" transform="translate(292,470.1) rotate(-1.01) scale(0.9,0.99)"/>
<use href="#pm" transform="translate(307.4,470.1) rotate(-2.6) scale(1,0.99)"/>
<use href="#pm" transform="translate(333.7,470.1) rotate(1.2) scale(0.97,0.99)"/>
</g>
<g filter="url(#bl2)">
<g transform="translate(270.5,470.1) rotate(2.53) scale(0.94,0.99)"><ellipse cx="5.8" cy="10" rx="0.9" ry="0.9" fill="#6a50ff" opacity="0.85"/></g>
<g transform="translate(292,470.1) rotate(-1.01) scale(0.9,0.99)"><ellipse cx="5.8" cy="10" rx="0.9" ry="0.9" fill="#6a50ff" opacity="0.85"/></g>
<g transform="translate(307.4,470.1) rotate(-2.6) scale(1,0.99)"><ellipse cx="5.8" cy="10" rx="0.9" ry="0.9" fill="#6a50ff" opacity="0.85"/></g>
</g>
</g>
<clipPath id="c10"><rect x="359.7" y="448" width="78.5" height="43"/></clipPath>
<g clip-path="url(#c10)">
<rect x="359.7" y="448" width="78.5" height="43" fill="#2f2f2f"/>
<rect x="375.8" y="449.5" width="6.5" height="6" fill="#5c5c5c"/>
<path d="M378,449.5v6M380.2,449.5v6" stroke="#333" stroke-width="0.7"/>
<rect x="395.9" y="449.5" width="6.5" height="6" fill="#5c5c5c"/>
<path d="M398.1,449.5v6M400.3,449.5v6" stroke="#333" stroke-width="0.7"/>
<rect x="414.8" y="449.5" width="6.5" height="6" fill="#5c5c5c"/>
<path d="M417,449.5v6M419.2,449.5v6" stroke="#333" stroke-width="0.7"/>
<rect x="359.7" y="448" width="78.5" height="1.2" fill="#1a1a1a"/>
<g filter="url(#bl)">
<use href="#pm" transform="translate(369,470.1) rotate(-0.66) scale(0.91,0.99)"/>
<use href="#pm" transform="translate(389,470.1) rotate(-2.8) scale(0.92,0.99)"/>
<use href="#pm" transform="translate(409.2,470.1) rotate(4.12) scale(0.94,0.99)"/>
<use href="#pm" transform="translate(426.8,470.1) rotate(2.79) scale(0.94,0.99)"/>
</g>
<g filter="url(#bl2)">
<g transform="translate(369,470.1) rotate(-0.66) scale(0.91,0.99)"><ellipse cx="0" cy="-7.2" rx="5.6" ry="6.4" fill="#6d3fe6" opacity="0.8"/><ellipse cx="-0.3" cy="-7" rx="5" ry="5.7" fill="#2230ff"/><ellipse cx="2.8" cy="-4.5" rx="2" ry="2.4" fill="#2230ff"/><ellipse cx="-0.8" cy="-6.5" rx="1" ry="3.24" fill="#14d2ee"/><ellipse cx="2.4" cy="-7.5" rx="0.8" ry="1.6" fill="#14d2ee"/><ellipse cx="-0.8" cy="-6.2" rx="0.45" ry="1.5" fill="#2fe02f"/><ellipse cx="-5.2" cy="10.4" rx="4.5" ry="5" fill="#6d3fe6" opacity="0.8"/><ellipse cx="-5.2" cy="10.4" rx="4" ry="4.5" fill="#2230ff"/><ellipse cx="-5.5" cy="10" rx="3" ry="3" fill="#14d2ee"/><ellipse cx="-5.5" cy="10" rx="2.34" ry="2.34" fill="#2fe02f"/><ellipse cx="-5.5" cy="10" rx="1.74" ry="1.74" fill="#ffe614"/><ellipse cx="-5.5" cy="10" rx="1.2" ry="1.2" fill="#ff1408"/><ellipse cx="5.2" cy="10.4" rx="4.5" ry="5" fill="#6d3fe6" opacity="0.8"/><ellipse cx="5.2" cy="10.4" rx="4" ry="4.5" fill="#2230ff"/><ellipse cx="5.5" cy="10" rx="3" ry="3" fill="#14d2ee"/><ellipse cx="5.5" cy="10" rx="2.34" ry="2.34" fill="#2fe02f"/><ellipse cx="5.5" cy="10" rx="1.74" ry="1.74" fill="#ffe614"/><ellipse cx="5.5" cy="10" rx="1.2" ry="1.2" fill="#ff1408"/><ellipse cx="0" cy="15" rx="2.6" ry="2.1" fill="#6d3fe6"/><ellipse cx="0" cy="15" rx="1.8" ry="1.4" fill="#2230ff"/></g>
<g transform="translate(389,470.1) rotate(-2.8) scale(0.92,0.99)"><path d="M-5.4,-9.5 C-3,-11 -1,-9.5 0,-8.5 C1,-9.5 3,-11 5.4,-9.5 C5,-7 3,-6.5 2,-5.5 C1.6,-3.6 0.8,-2.2 0,-2 C-0.8,-2.2 -1.6,-3.6 -2,-5.5 C-3,-6.5 -5,-7 -5.4,-9.5Z" fill="#6d3fe6"/><ellipse cx="0" cy="-7.6" rx="3.4" ry="1.7" fill="#2230ff"/><ellipse cx="0" cy="-5.5" rx="1.1" ry="2.2" fill="#2230ff"/><ellipse cx="-5.2" cy="10.4" rx="4.5" ry="5" fill="#6d3fe6" opacity="0.8"/><ellipse cx="-5.2" cy="10.4" rx="4" ry="4.5" fill="#2230ff"/><ellipse cx="-5.5" cy="10" rx="2.25" ry="2.25" fill="#14d2ee"/><ellipse cx="-5.5" cy="10" rx="1.75" ry="1.75" fill="#2fe02f"/><ellipse cx="-5.5" cy="10" rx="1.3" ry="1.3" fill="#ffe614"/><ellipse cx="-5.5" cy="10" rx="0.9" ry="0.9" fill="#ff1408"/><ellipse cx="5.2" cy="10.4" rx="4.5" ry="5" fill="#6d3fe6" opacity="0.8"/><ellipse cx="5.2" cy="10.4" rx="4" ry="4.5" fill="#2230ff"/><ellipse cx="5.5" cy="10" rx="2.25" ry="2.25" fill="#14d2ee"/><ellipse cx="5.5" cy="10" rx="1.75" ry="1.75" fill="#2fe02f"/><ellipse cx="5.5" cy="10" rx="1.3" ry="1.3" fill="#ffe614"/><ellipse cx="5.5" cy="10" rx="0.9" ry="0.9" fill="#ff1408"/><ellipse cx="0" cy="15" rx="2.6" ry="2.1" fill="#6d3fe6"/><ellipse cx="0" cy="15" rx="1.8" ry="1.4" fill="#2230ff"/></g>
<g transform="translate(409.2,470.1) rotate(4.12) scale(0.94,0.99)"><path d="M-5.4,-9.5 C-3,-11 -1,-9.5 0,-8.5 C1,-9.5 3,-11 5.4,-9.5 C5,-7 3,-6.5 2,-5.5 C1.6,-3.6 0.8,-2.2 0,-2 C-0.8,-2.2 -1.6,-3.6 -2,-5.5 C-3,-6.5 -5,-7 -5.4,-9.5Z" fill="#6d3fe6"/><ellipse cx="0" cy="-7.6" rx="3.4" ry="1.7" fill="#2230ff"/><ellipse cx="0" cy="-5.5" rx="1.1" ry="2.2" fill="#2230ff"/><ellipse cx="-5.2" cy="10.4" rx="4.5" ry="5" fill="#6d3fe6" opacity="0.8"/><ellipse cx="-5.2" cy="10.4" rx="4" ry="4.5" fill="#2230ff"/><ellipse cx="-5.5" cy="10" rx="2.25" ry="2.25" fill="#14d2ee"/><ellipse cx="-5.5" cy="10" rx="1.75" ry="1.75" fill="#2fe02f"/><ellipse cx="-5.5" cy="10" rx="1.3" ry="1.3" fill="#ffe614"/><ellipse cx="-5.5" cy="10" rx="0.9" ry="0.9" fill="#ff1408"/><ellipse cx="5.2" cy="10.4" rx="4.5" ry="5" fill="#6d3fe6" opacity="0.8"/><ellipse cx="5.2" cy="10.4" rx="4" ry="4.5" fill="#2230ff"/><ellipse cx="5.5" cy="10" rx="2.25" ry="2.25" fill="#14d2ee"/><ellipse cx="5.5" cy="10" rx="1.75" ry="1.75" fill="#2fe02f"/><ellipse cx="5.5" cy="10" rx="1.3" ry="1.3" fill="#ffe614"/><ellipse cx="5.5" cy="10" rx="0.9" ry="0.9" fill="#ff1408"/><ellipse cx="0" cy="15" rx="2.6" ry="2.1" fill="#6d3fe6"/><ellipse cx="0" cy="15" rx="1.8" ry="1.4" fill="#2230ff"/></g>
</g>
</g>
<clipPath id="c11"><rect x="451" y="448" width="85.6" height="43"/></clipPath>
<g clip-path="url(#c11)">
<rect x="451" y="448" width="85.6" height="43" fill="#2f2f2f"/>
<rect x="468.45" y="449.5" width="6.5" height="6" fill="#5c5c5c"/>
<path d="M470.65,449.5v6M472.85,449.5v6" stroke="#333" stroke-width="0.7"/>
<rect x="492.05" y="449.5" width="6.5" height="6" fill="#5c5c5c"/>
<path d="M494.25,449.5v6M496.45,449.5v6" stroke="#333" stroke-width="0.7"/>
<rect x="513.8" y="449.5" width="6.5" height="6" fill="#5c5c5c"/>
<path d="M516,449.5v6M518.2,449.5v6" stroke="#333" stroke-width="0.7"/>
<rect x="451" y="448" width="85.6" height="1.2" fill="#1a1a1a"/>
<g filter="url(#bl)">
<use href="#pm" transform="translate(458.8,470.1) rotate(-3.58) scale(0.78,0.99)"/>
<use href="#pm" transform="translate(484.5,470.1) rotate(1.04) scale(0.85,0.99)"/>
<use href="#pm" transform="translate(506,470.1) rotate(0.35) scale(0.87,0.99)"/>
<use href="#pm" transform="translate(528,470.1) rotate(5.25) scale(0.81,0.99)"/>
</g>
</g>
<clipPath id="c12"><rect x="557.5" y="448" width="77" height="43.3"/></clipPath>
<g clip-path="url(#c12)">
<rect x="557.5" y="448" width="77" height="43.3" fill="#2f2f2f"/>
<rect x="570.7" y="449.5" width="6.5" height="6" fill="#5c5c5c"/>
<path d="M572.9,449.5v6M575.1,449.5v6" stroke="#333" stroke-width="0.7"/>
<rect x="591.5" y="449.5" width="6.5" height="6" fill="#5c5c5c"/>
<path d="M593.7,449.5v6M595.9,449.5v6" stroke="#333" stroke-width="0.7"/>
<rect x="612.6" y="449.5" width="6.5" height="6" fill="#5c5c5c"/>
<path d="M614.8,449.5v6M617,449.5v6" stroke="#333" stroke-width="0.7"/>
<rect x="557.5" y="448" width="77" height="1.2" fill="#1a1a1a"/>
<line x1="572.5" y1="448" x2="572.5" y2="491.3" stroke="#5a5a5a" stroke-width="0.7"/>
<line x1="614.5" y1="448" x2="614.5" y2="491.3" stroke="#5a5a5a" stroke-width="0.7"/>
<g filter="url(#bl)">
<use href="#pm" transform="translate(565.4,470.25) rotate(3.21) scale(0.81,0.99)"/>
<use href="#pm" transform="translate(582.4,470.25) rotate(-2.97) scale(0.77,0.99)"/>
<use href="#pm" transform="translate(607,470.25) rotate(6.72) scale(0.77,0.99)"/>
<use href="#pm" transform="translate(624.6,470.25) rotate(-5.35) scale(0.8,0.99)"/>
</g>
</g>
<clipPath id="c13"><rect x="650.3" y="448" width="84.7" height="42"/></clipPath>
<g clip-path="url(#c13)">
<rect x="650.3" y="448" width="84.7" height="42" fill="#2f2f2f"/>
<rect x="669.15" y="449.5" width="6.5" height="6" fill="#5c5c5c"/>
<path d="M671.35,449.5v6M673.55,449.5v6" stroke="#333" stroke-width="0.7"/>
<rect x="687.95" y="449.5" width="6.5" height="6" fill="#5c5c5c"/>
<path d="M690.15,449.5v6M692.35,449.5v6" stroke="#333" stroke-width="0.7"/>
<rect x="711.1" y="449.5" width="6.5" height="6" fill="#5c5c5c"/>
<path d="M713.3,449.5v6M715.5,449.5v6" stroke="#333" stroke-width="0.7"/>
<rect x="650.3" y="448" width="84.7" height="1.2" fill="#1a1a1a"/>
<line x1="672" y1="448" x2="672" y2="490" stroke="#5a5a5a" stroke-width="0.7"/>
<line x1="692" y1="448" x2="692" y2="490" stroke="#5a5a5a" stroke-width="0.7"/>
<g filter="url(#bl)">
<use href="#pm" transform="translate(664,469.6) rotate(-1.15) scale(0.79,0.99)"/>
<use href="#pm" transform="translate(680.7,469.6) rotate(3.6) scale(0.85,0.99)"/>
<use href="#pm" transform="translate(701.6,469.6) rotate(-4.87) scale(0.78,0.99)"/>
<use href="#pm" transform="translate(727,469.6) rotate(-0.15) scale(0.77,0.99)"/>
</g>
</g>
<clipPath id="c14"><rect x="75.2" y="506" width="62.8" height="42.6"/></clipPath>
<g clip-path="url(#c14)">
<rect x="75.2" y="506" width="62.8" height="42.6" fill="#2f2f2f"/>
<rect x="92.2" y="507.5" width="6.5" height="6" fill="#5c5c5c"/>
<path d="M94.4,507.5v6M96.6,507.5v6" stroke="#333" stroke-width="0.7"/>
<rect x="113.5" y="507.5" width="6.5" height="6" fill="#5c5c5c"/>
<path d="M115.7,507.5v6M117.9,507.5v6" stroke="#333" stroke-width="0.7"/>
<rect x="75.2" y="506" width="62.8" height="1.2" fill="#1a1a1a"/>
<line x1="95.8" y1="506" x2="95.8" y2="548.6" stroke="#5a5a5a" stroke-width="0.7"/>
<g filter="url(#bl)">
<use href="#pm" transform="translate(87.8,529.6) rotate(-6.45) scale(1,0.99)"/>
<use href="#pm" transform="translate(103,529.6) rotate(2.36) scale(0.95,0.99)"/>
<use href="#pm" transform="translate(130.4,529.6) rotate(3.7) scale(0.9,0.99)"/>
</g>
<g filter="url(#bl2)">
<g transform="translate(87.8,529.6) rotate(-6.45) scale(1,0.99)"><use href="#sil" fill="#6d3fe6"/><use href="#sil" fill="#2230ff" transform="scale(0.9,0.95)"/><ellipse cx="0" cy="3" rx="3.9" ry="2.7" fill="#e4e4e4"/><ellipse cx="0" cy="4" rx="2.4" ry="3.2" fill="#e4e4e4"/><ellipse cx="0" cy="-6.2" rx="5.9" ry="5.7" fill="#14d2ee"/><ellipse cx="0" cy="-6.2" rx="5" ry="4.8" fill="#2fe02f"/><ellipse cx="-2.8" cy="-8.4" rx="1.8" ry="1.8" fill="#ffe614"/><ellipse cx="-2.8" cy="-8.4" rx="1.2" ry="1.2" fill="#ff1408"/><ellipse cx="2.4" cy="-8.6" rx="1.65" ry="1.65" fill="#ffe614"/><ellipse cx="2.4" cy="-8.6" rx="1.1" ry="1.1" fill="#ff1408"/><ellipse cx="0.3" cy="-4.4" rx="2.55" ry="2.55" fill="#ffe614"/><ellipse cx="0.3" cy="-4.4" rx="1.7" ry="1.7" fill="#ff1408"/><ellipse cx="-2.4" cy="-4.6" rx="1.5" ry="1.5" fill="#ffe614"/><ellipse cx="-2.4" cy="-4.6" rx="1" ry="1" fill="#ff1408"/><ellipse cx="2.9" cy="-5.2" rx="1.5" ry="1.5" fill="#ffe614"/><ellipse cx="2.9" cy="-5.2" rx="1" ry="1" fill="#ff1408"/><ellipse cx="0" cy="-7.6" rx="1.2" ry="1.2" fill="#ffe614"/><ellipse cx="0" cy="-7.6" rx="0.8" ry="0.8" fill="#ff1408"/><ellipse cx="0.6" cy="-13.2" rx="1.5" ry="1.6" fill="#14d2ee" opacity="0.8"/><ellipse cx="-4.4" cy="11.2" rx="4.4" ry="5" fill="#14d2ee"/><ellipse cx="-4.4" cy="11.2" rx="3.8" ry="4.3" fill="#2fe02f"/><ellipse cx="-4.5" cy="11" rx="3.2" ry="3.6" fill="#ffe614"/><ellipse cx="-4.6" cy="10.8" rx="2.7" ry="3.1" fill="#ff1408"/><ellipse cx="4.4" cy="11.2" rx="4.4" ry="5" fill="#14d2ee"/><ellipse cx="4.4" cy="11.2" rx="3.8" ry="4.3" fill="#2fe02f"/><ellipse cx="4.5" cy="11" rx="3.2" ry="3.6" fill="#ffe614"/><ellipse cx="4.6" cy="10.8" rx="2.7" ry="3.1" fill="#ff1408"/><ellipse cx="0" cy="13.6" rx="1.6" ry="2.2" fill="#2fe02f"/><ellipse cx="0" cy="15.4" rx="1.4" ry="1" fill="#14d2ee"/></g>
<g transform="translate(103,529.6) rotate(2.36) scale(0.95,0.99)"><use href="#sil" fill="#6d3fe6"/><use href="#sil" fill="#2230ff" transform="scale(0.9,0.95)"/><ellipse cx="0" cy="3" rx="3.9" ry="2.7" fill="#e4e4e4"/><ellipse cx="0" cy="4" rx="2.4" ry="3.2" fill="#e4e4e4"/><ellipse cx="0" cy="-6.2" rx="5.9" ry="5.7" fill="#14d2ee"/><ellipse cx="0" cy="-6.2" rx="5" ry="4.8" fill="#2fe02f"/><ellipse cx="-2.8" cy="-8.4" rx="1.8" ry="1.8" fill="#ffe614"/><ellipse cx="-2.8" cy="-8.4" rx="1.2" ry="1.2" fill="#ff1408"/><ellipse cx="2.4" cy="-8.6" rx="1.65" ry="1.65" fill="#ffe614"/><ellipse cx="2.4" cy="-8.6" rx="1.1" ry="1.1" fill="#ff1408"/><ellipse cx="0.3" cy="-4.4" rx="2.55" ry="2.55" fill="#ffe614"/><ellipse cx="0.3" cy="-4.4" rx="1.7" ry="1.7" fill="#ff1408"/><ellipse cx="-2.4" cy="-4.6" rx="1.5" ry="1.5" fill="#ffe614"/><ellipse cx="-2.4" cy="-4.6" rx="1" ry="1" fill="#ff1408"/><ellipse cx="2.9" cy="-5.2" rx="1.5" ry="1.5" fill="#ffe614"/><ellipse cx="2.9" cy="-5.2" rx="1" ry="1" fill="#ff1408"/><ellipse cx="0" cy="-7.6" rx="1.2" ry="1.2" fill="#ffe614"/><ellipse cx="0" cy="-7.6" rx="0.8" ry="0.8" fill="#ff1408"/><ellipse cx="0.6" cy="-13.2" rx="1.5" ry="1.6" fill="#14d2ee" opacity="0.8"/><ellipse cx="-4.4" cy="11.2" rx="4.4" ry="5" fill="#14d2ee"/><ellipse cx="-4.4" cy="11.2" rx="3.8" ry="4.3" fill="#2fe02f"/><ellipse cx="-4.5" cy="11" rx="3.2" ry="3.6" fill="#ffe614"/><ellipse cx="-4.6" cy="10.8" rx="2.7" ry="3.1" fill="#ff1408"/><ellipse cx="4.4" cy="11.2" rx="4.4" ry="5" fill="#14d2ee"/><ellipse cx="4.4" cy="11.2" rx="3.8" ry="4.3" fill="#2fe02f"/><ellipse cx="4.5" cy="11" rx="3.2" ry="3.6" fill="#ffe614"/><ellipse cx="4.6" cy="10.8" rx="2.7" ry="3.1" fill="#ff1408"/><ellipse cx="0" cy="13.6" rx="1.6" ry="2.2" fill="#2fe02f"/><ellipse cx="0" cy="15.4" rx="1.4" ry="1" fill="#14d2ee"/></g>
<g transform="translate(130.4,529.6) rotate(3.7) scale(0.9,0.99)"><use href="#sil" fill="#6d3fe6"/><use href="#sil" fill="#2230ff" transform="scale(0.9,0.95)"/><ellipse cx="0" cy="3" rx="3.9" ry="2.7" fill="#e4e4e4"/><ellipse cx="0" cy="4" rx="2.4" ry="3.2" fill="#e4e4e4"/><ellipse cx="0" cy="-6.2" rx="5.51" ry="5.32" fill="#14d2ee"/><ellipse cx="0" cy="-6.2" rx="4.67" ry="4.48" fill="#2fe02f"/><ellipse cx="-2.8" cy="-8.4" rx="1.68" ry="1.68" fill="#ffe614"/><ellipse cx="-2.8" cy="-8.4" rx="1.12" ry="1.12" fill="#ff1408"/><ellipse cx="2.4" cy="-8.6" rx="1.54" ry="1.54" fill="#ffe614"/><ellipse cx="2.4" cy="-8.6" rx="1.03" ry="1.03" fill="#ff1408"/><ellipse cx="0.3" cy="-4.4" rx="2.38" ry="2.38" fill="#ffe614"/><ellipse cx="0.3" cy="-4.4" rx="1.59" ry="1.59" fill="#ff1408"/><ellipse cx="-2.4" cy="-4.6" rx="1.4" ry="1.4" fill="#ffe614"/><ellipse cx="-2.4" cy="-4.6" rx="0.93" ry="0.93" fill="#ff1408"/><ellipse cx="2.9" cy="-5.2" rx="1.4" ry="1.4" fill="#ffe614"/><ellipse cx="2.9" cy="-5.2" rx="0.93" ry="0.93" fill="#ff1408"/><ellipse cx="0" cy="-7.6" rx="1.12" ry="1.12" fill="#ffe614"/><ellipse cx="0" cy="-7.6" rx="0.75" ry="0.75" fill="#ff1408"/><ellipse cx="0.6" cy="-13.2" rx="1.5" ry="1.6" fill="#14d2ee" opacity="0.8"/><ellipse cx="-4.4" cy="11.2" rx="4.4" ry="5" fill="#14d2ee"/><ellipse cx="-4.4" cy="11.2" rx="3.8" ry="4.3" fill="#2fe02f"/><ellipse cx="-4.5" cy="11" rx="2.99" ry="3.36" fill="#ffe614"/><ellipse cx="-4.6" cy="10.8" rx="2.52" ry="2.89" fill="#ff1408"/><ellipse cx="4.4" cy="11.2" rx="4.4" ry="5" fill="#14d2ee"/><ellipse cx="4.4" cy="11.2" rx="3.8" ry="4.3" fill="#2fe02f"/><ellipse cx="4.5" cy="11" rx="2.99" ry="3.36" fill="#ffe614"/><ellipse cx="4.6" cy="10.8" rx="2.52" ry="2.89" fill="#ff1408"/><ellipse cx="0" cy="13.6" rx="1.6" ry="2.2" fill="#2fe02f"/><ellipse cx="0" cy="15.4" rx="1.4" ry="1" fill="#14d2ee"/></g>
</g>
</g>
<clipPath id="c15"><rect x="161.2" y="506" width="42.8" height="43.5"/></clipPath>
<g clip-path="url(#c15)">
<rect x="161.2" y="506" width="42.8" height="43.5" fill="#2f2f2f"/>
<rect x="178.7" y="507.5" width="6.5" height="6" fill="#5c5c5c"/>
<path d="M180.9,507.5v6M183.1,507.5v6" stroke="#333" stroke-width="0.7"/>
<rect x="161.2" y="506" width="42.8" height="1.2" fill="#1a1a1a"/>
<g filter="url(#bl)">
<use href="#pm" transform="translate(168.3,530.05) rotate(5.26) scale(0.89,0.99)"/>
<use href="#pm" transform="translate(195.5,530.05) rotate(-2.61) scale(0.95,0.99)"/>
</g>
<g filter="url(#bl2)">
<g transform="translate(168.3,530.05) rotate(5.26) scale(0.89,0.99)"><use href="#sil" fill="#6d3fe6"/><use href="#sil" fill="#2230ff" transform="scale(0.9,0.95)"/><ellipse cx="0" cy="3" rx="3.9" ry="2.7" fill="#e4e4e4"/><ellipse cx="0" cy="4" rx="2.4" ry="3.2" fill="#e4e4e4"/><ellipse cx="0" cy="-6.2" rx="5.9" ry="5.7" fill="#14d2ee"/><ellipse cx="0" cy="-6.2" rx="5" ry="4.8" fill="#2fe02f"/><ellipse cx="-2.8" cy="-8.4" rx="1.8" ry="1.8" fill="#ffe614"/><ellipse cx="-2.8" cy="-8.4" rx="1.2" ry="1.2" fill="#ff1408"/><ellipse cx="2.4" cy="-8.6" rx="1.65" ry="1.65" fill="#ffe614"/><ellipse cx="2.4" cy="-8.6" rx="1.1" ry="1.1" fill="#ff1408"/><ellipse cx="0.3" cy="-4.4" rx="2.55" ry="2.55" fill="#ffe614"/><ellipse cx="0.3" cy="-4.4" rx="1.7" ry="1.7" fill="#ff1408"/><ellipse cx="-2.4" cy="-4.6" rx="1.5" ry="1.5" fill="#ffe614"/><ellipse cx="-2.4" cy="-4.6" rx="1" ry="1" fill="#ff1408"/><ellipse cx="2.9" cy="-5.2" rx="1.5" ry="1.5" fill="#ffe614"/><ellipse cx="2.9" cy="-5.2" rx="1" ry="1" fill="#ff1408"/><ellipse cx="0" cy="-7.6" rx="1.2" ry="1.2" fill="#ffe614"/><ellipse cx="0" cy="-7.6" rx="0.8" ry="0.8" fill="#ff1408"/><ellipse cx="0.6" cy="-13.2" rx="1.5" ry="1.6" fill="#14d2ee" opacity="0.8"/><ellipse cx="-4.4" cy="11.2" rx="4.4" ry="5" fill="#14d2ee"/><ellipse cx="-4.4" cy="11.2" rx="3.8" ry="4.3" fill="#2fe02f"/><ellipse cx="-4.5" cy="11" rx="3.2" ry="3.6" fill="#ffe614"/><ellipse cx="-4.6" cy="10.8" rx="2.7" ry="3.1" fill="#ff1408"/><ellipse cx="4.4" cy="11.2" rx="4.4" ry="5" fill="#14d2ee"/><ellipse cx="4.4" cy="11.2" rx="3.8" ry="4.3" fill="#2fe02f"/><ellipse cx="4.5" cy="11" rx="3.2" ry="3.6" fill="#ffe614"/><ellipse cx="4.6" cy="10.8" rx="2.7" ry="3.1" fill="#ff1408"/><ellipse cx="0" cy="13.6" rx="1.6" ry="2.2" fill="#2fe02f"/><ellipse cx="0" cy="15.4" rx="1.4" ry="1" fill="#14d2ee"/></g>
<g transform="translate(195.5,530.05) rotate(-2.61) scale(0.95,0.99)"><use href="#sil" fill="#6d3fe6"/><use href="#sil" fill="#2230ff" transform="scale(0.9,0.95)"/><ellipse cx="0" cy="3" rx="3.9" ry="2.7" fill="#e4e4e4"/><ellipse cx="0" cy="4" rx="2.4" ry="3.2" fill="#e4e4e4"/><ellipse cx="0" cy="-6.2" rx="5.9" ry="5.7" fill="#14d2ee"/><ellipse cx="0" cy="-6.2" rx="5" ry="4.8" fill="#2fe02f"/><ellipse cx="-2.8" cy="-8.4" rx="1.8" ry="1.8" fill="#ffe614"/><ellipse cx="-2.8" cy="-8.4" rx="1.2" ry="1.2" fill="#ff1408"/><ellipse cx="2.4" cy="-8.6" rx="1.65" ry="1.65" fill="#ffe614"/><ellipse cx="2.4" cy="-8.6" rx="1.1" ry="1.1" fill="#ff1408"/><ellipse cx="0.3" cy="-4.4" rx="2.55" ry="2.55" fill="#ffe614"/><ellipse cx="0.3" cy="-4.4" rx="1.7" ry="1.7" fill="#ff1408"/><ellipse cx="-2.4" cy="-4.6" rx="1.5" ry="1.5" fill="#ffe614"/><ellipse cx="-2.4" cy="-4.6" rx="1" ry="1" fill="#ff1408"/><ellipse cx="2.9" cy="-5.2" rx="1.5" ry="1.5" fill="#ffe614"/><ellipse cx="2.9" cy="-5.2" rx="1" ry="1" fill="#ff1408"/><ellipse cx="0" cy="-7.6" rx="1.2" ry="1.2" fill="#ffe614"/><ellipse cx="0" cy="-7.6" rx="0.8" ry="0.8" fill="#ff1408"/><ellipse cx="0.6" cy="-13.2" rx="1.5" ry="1.6" fill="#14d2ee" opacity="0.8"/><ellipse cx="-4.4" cy="11.2" rx="4.4" ry="5" fill="#14d2ee"/><ellipse cx="-4.4" cy="11.2" rx="3.8" ry="4.3" fill="#2fe02f"/><ellipse cx="-4.5" cy="11" rx="3.2" ry="3.6" fill="#ffe614"/><ellipse cx="-4.6" cy="10.8" rx="2.7" ry="3.1" fill="#ff1408"/><ellipse cx="4.4" cy="11.2" rx="4.4" ry="5" fill="#14d2ee"/><ellipse cx="4.4" cy="11.2" rx="3.8" ry="4.3" fill="#2fe02f"/><ellipse cx="4.5" cy="11" rx="3.2" ry="3.6" fill="#ffe614"/><ellipse cx="4.6" cy="10.8" rx="2.7" ry="3.1" fill="#ff1408"/><ellipse cx="0" cy="13.6" rx="1.6" ry="2.2" fill="#2fe02f"/><ellipse cx="0" cy="15.4" rx="1.4" ry="1" fill="#14d2ee"/></g>
</g>
</g>
<clipPath id="c16"><rect x="204" y="504" width="38.9" height="43.5"/></clipPath>
<g clip-path="url(#c16)">
<rect x="204" y="504" width="38.9" height="43.5" fill="#2f2f2f"/>
<rect x="217.5" y="505.5" width="6.5" height="6" fill="#5c5c5c"/>
<path d="M219.7,505.5v6M221.9,505.5v6" stroke="#333" stroke-width="0.7"/>
<rect x="204" y="504" width="38.9" height="1.2" fill="#1a1a1a"/>
<line x1="222.5" y1="504" x2="222.5" y2="547.5" stroke="#5a5a5a" stroke-width="0.7"/>
<g filter="url(#bl)">
<use href="#pm" transform="translate(211.4,528.05) rotate(1.12) scale(0.97,0.99)"/>
<use href="#pm" transform="translate(230,528.05) rotate(-0.61) scale(0.92,0.99)"/>
</g>
<g filter="url(#bl2)">
<g transform="translate(211.4,528.05) rotate(1.12) scale(0.97,0.99)"><use href="#sil" fill="#6d3fe6"/><use href="#sil" fill="#2230ff" transform="scale(0.9,0.95)"/><ellipse cx="0" cy="3" rx="3.9" ry="2.7" fill="#e4e4e4"/><ellipse cx="0" cy="4" rx="2.4" ry="3.2" fill="#e4e4e4"/><ellipse cx="0" cy="-6.2" rx="5.9" ry="5.7" fill="#14d2ee"/><ellipse cx="0" cy="-6.2" rx="5" ry="4.8" fill="#2fe02f"/><ellipse cx="-2.8" cy="-8.4" rx="1.8" ry="1.8" fill="#ffe614"/><ellipse cx="-2.8" cy="-8.4" rx="1.2" ry="1.2" fill="#ff1408"/><ellipse cx="2.4" cy="-8.6" rx="1.65" ry="1.65" fill="#ffe614"/><ellipse cx="2.4" cy="-8.6" rx="1.1" ry="1.1" fill="#ff1408"/><ellipse cx="0.3" cy="-4.4" rx="2.55" ry="2.55" fill="#ffe614"/><ellipse cx="0.3" cy="-4.4" rx="1.7" ry="1.7" fill="#ff1408"/><ellipse cx="-2.4" cy="-4.6" rx="1.5" ry="1.5" fill="#ffe614"/><ellipse cx="-2.4" cy="-4.6" rx="1" ry="1" fill="#ff1408"/><ellipse cx="2.9" cy="-5.2" rx="1.5" ry="1.5" fill="#ffe614"/><ellipse cx="2.9" cy="-5.2" rx="1" ry="1" fill="#ff1408"/><ellipse cx="0" cy="-7.6" rx="1.2" ry="1.2" fill="#ffe614"/><ellipse cx="0" cy="-7.6" rx="0.8" ry="0.8" fill="#ff1408"/><ellipse cx="0.6" cy="-13.2" rx="1.5" ry="1.6" fill="#14d2ee" opacity="0.8"/><ellipse cx="-4.4" cy="11.2" rx="4.4" ry="5" fill="#14d2ee"/><ellipse cx="-4.4" cy="11.2" rx="3.8" ry="4.3" fill="#2fe02f"/><ellipse cx="-4.5" cy="11" rx="3.2" ry="3.6" fill="#ffe614"/><ellipse cx="-4.6" cy="10.8" rx="2.7" ry="3.1" fill="#ff1408"/><ellipse cx="4.4" cy="11.2" rx="4.4" ry="5" fill="#14d2ee"/><ellipse cx="4.4" cy="11.2" rx="3.8" ry="4.3" fill="#2fe02f"/><ellipse cx="4.5" cy="11" rx="3.2" ry="3.6" fill="#ffe614"/><ellipse cx="4.6" cy="10.8" rx="2.7" ry="3.1" fill="#ff1408"/><ellipse cx="0" cy="13.6" rx="1.6" ry="2.2" fill="#2fe02f"/><ellipse cx="0" cy="15.4" rx="1.4" ry="1" fill="#14d2ee"/></g>
<g transform="translate(230,528.05) rotate(-0.61) scale(0.92,0.99)"><use href="#sil" fill="#6d3fe6"/><use href="#sil" fill="#2230ff" transform="scale(0.9,0.95)"/><ellipse cx="0" cy="3" rx="3.9" ry="2.7" fill="#e4e4e4"/><ellipse cx="0" cy="4" rx="2.4" ry="3.2" fill="#e4e4e4"/><ellipse cx="0" cy="-6.2" rx="5.9" ry="5.7" fill="#14d2ee"/><ellipse cx="0" cy="-6.2" rx="5" ry="4.8" fill="#2fe02f"/><ellipse cx="-2.8" cy="-8.4" rx="1.8" ry="1.8" fill="#ffe614"/><ellipse cx="-2.8" cy="-8.4" rx="1.2" ry="1.2" fill="#ff1408"/><ellipse cx="2.4" cy="-8.6" rx="1.65" ry="1.65" fill="#ffe614"/><ellipse cx="2.4" cy="-8.6" rx="1.1" ry="1.1" fill="#ff1408"/><ellipse cx="0.3" cy="-4.4" rx="2.55" ry="2.55" fill="#ffe614"/><ellipse cx="0.3" cy="-4.4" rx="1.7" ry="1.7" fill="#ff1408"/><ellipse cx="-2.4" cy="-4.6" rx="1.5" ry="1.5" fill="#ffe614"/><ellipse cx="-2.4" cy="-4.6" rx="1" ry="1" fill="#ff1408"/><ellipse cx="2.9" cy="-5.2" rx="1.5" ry="1.5" fill="#ffe614"/><ellipse cx="2.9" cy="-5.2" rx="1" ry="1" fill="#ff1408"/><ellipse cx="0" cy="-7.6" rx="1.2" ry="1.2" fill="#ffe614"/><ellipse cx="0" cy="-7.6" rx="0.8" ry="0.8" fill="#ff1408"/><ellipse cx="0.6" cy="-13.2" rx="1.5" ry="1.6" fill="#14d2ee" opacity="0.8"/><ellipse cx="-4.4" cy="11.2" rx="4.4" ry="5" fill="#14d2ee"/><ellipse cx="-4.4" cy="11.2" rx="3.8" ry="4.3" fill="#2fe02f"/><ellipse cx="-4.5" cy="11" rx="3.2" ry="3.6" fill="#ffe614"/><ellipse cx="-4.6" cy="10.8" rx="2.7" ry="3.1" fill="#ff1408"/><ellipse cx="4.4" cy="11.2" rx="4.4" ry="5" fill="#14d2ee"/><ellipse cx="4.4" cy="11.2" rx="3.8" ry="4.3" fill="#2fe02f"/><ellipse cx="4.5" cy="11" rx="3.2" ry="3.6" fill="#ffe614"/><ellipse cx="4.6" cy="10.8" rx="2.7" ry="3.1" fill="#ff1408"/><ellipse cx="0" cy="13.6" rx="1.6" ry="2.2" fill="#2fe02f"/><ellipse cx="0" cy="15.4" rx="1.4" ry="1" fill="#14d2ee"/></g>
</g>
</g>
<clipPath id="c17"><rect x="257.4" y="504.7" width="82.6" height="43.3"/></clipPath>
<g clip-path="url(#c17)">
<rect x="257.4" y="504.7" width="82.6" height="43.3" fill="#2f2f2f"/>
<rect x="275.55" y="506.2" width="6.5" height="6" fill="#5c5c5c"/>
<path d="M277.75,506.2v6M279.95,506.2v6" stroke="#333" stroke-width="0.7"/>
<rect x="293.9" y="506.2" width="6.5" height="6" fill="#5c5c5c"/>
<path d="M296.1,506.2v6M298.3,506.2v6" stroke="#333" stroke-width="0.7"/>
<rect x="315.65" y="506.2" width="6.5" height="6" fill="#5c5c5c"/>
<path d="M317.85,506.2v6M320.05,506.2v6" stroke="#333" stroke-width="0.7"/>
<rect x="257.4" y="504.7" width="82.6" height="1.2" fill="#1a1a1a"/>
<line x1="275" y1="504.7" x2="275" y2="548" stroke="#5a5a5a" stroke-width="0.7"/>
<line x1="296" y1="504.7" x2="296" y2="548" stroke="#5a5a5a" stroke-width="0.7"/>
<g filter="url(#bl)">
<use href="#pm" transform="translate(268,528.65) rotate(-0.36) scale(0.88,0.99)"/>
<use href="#pm" transform="translate(289.5,528.65) rotate(2.3) scale(0.85,0.99)"/>
<use href="#pm" transform="translate(304.7,528.65) rotate(-6.15) scale(0.88,0.99)"/>
<use href="#pm" transform="translate(333,528.65) rotate(2.82) scale(0.83,0.99)"/>
</g>
<g filter="url(#bl2)">
<g transform="translate(268,528.65) rotate(-0.36) scale(0.88,0.99)"><ellipse cx="1.6" cy="-5" rx="3.3" ry="2.5" fill="#6d3fe6"/><ellipse cx="1.6" cy="-5" rx="2.3" ry="1.6" fill="#2230ff"/><ellipse cx="-5.8" cy="9.5" rx="1.5" ry="1.5" fill="#2a1cff"/><ellipse cx="6" cy="6" rx="1.3" ry="1.3" fill="#2a1cff"/><ellipse cx="6.2" cy="10.5" rx="0.9" ry="0.9" fill="#6d3fe6"/></g>
<g transform="translate(289.5,528.65) rotate(2.3) scale(0.85,0.99)"><ellipse cx="-6.2" cy="9" rx="1.07" ry="1.07" fill="#2a1cff"/><ellipse cx="5.6" cy="11" rx="1.02" ry="1.02" fill="#2a1cff"/></g>
<g transform="translate(304.7,528.65) rotate(-6.15) scale(0.88,0.99)"><ellipse cx="-6.2" cy="9" rx="1.07" ry="1.07" fill="#2a1cff"/><ellipse cx="5.6" cy="11" rx="1.02" ry="1.02" fill="#2a1cff"/></g>
<g transform="translate(333,528.65) rotate(2.82) scale(0.83,0.99)"><ellipse cx="-6.2" cy="9" rx="1.4" ry="1.4" fill="#2a1cff"/><ellipse cx="5.6" cy="11" rx="1.33" ry="1.33" fill="#2a1cff"/></g>
</g>
</g>
<clipPath id="c18"><rect x="359.7" y="505.8" width="78.5" height="43.7"/></clipPath>
<g clip-path="url(#c18)">
<rect x="359.7" y="505.8" width="78.5" height="43.7" fill="#2f2f2f"/>
<rect x="374.3" y="507.3" width="6.5" height="6" fill="#5c5c5c"/>
<path d="M376.5,507.3v6M378.7,507.3v6" stroke="#333" stroke-width="0.7"/>
<rect x="393.3" y="507.3" width="6.5" height="6" fill="#5c5c5c"/>
<path d="M395.5,507.3v6M397.7,507.3v6" stroke="#333" stroke-width="0.7"/>
<rect x="411.15" y="507.3" width="6.5" height="6" fill="#5c5c5c"/>
<path d="M413.35,507.3v6M415.55,507.3v6" stroke="#333" stroke-width="0.7"/>
<rect x="427.75" y="507.3" width="6.5" height="6" fill="#5c5c5c"/>
<path d="M429.95,507.3v6M432.15,507.3v6" stroke="#333" stroke-width="0.7"/>
<rect x="359.7" y="505.8" width="78.5" height="1.2" fill="#1a1a1a"/>
<line x1="378" y1="505.8" x2="378" y2="549.5" stroke="#5a5a5a" stroke-width="0.7"/>
<line x1="396" y1="505.8" x2="396" y2="549.5" stroke="#5a5a5a" stroke-width="0.7"/>
<line x1="415" y1="505.8" x2="415" y2="549.5" stroke="#5a5a5a" stroke-width="0.7"/>
<g filter="url(#bl)">
<use href="#pm" transform="translate(367,529.95) rotate(2.06) scale(0.91,0.99)"/>
<use href="#pm" transform="translate(388,529.95) rotate(6.9) scale(0.98,0.99)"/>
<use href="#pm" transform="translate(405,529.95) rotate(4.51) scale(1.01,0.99)"/>
<use href="#pm" transform="translate(423.7,529.95) rotate(-3.02) scale(0.99,0.99)"/>
</g>
<g filter="url(#bl2)">
<g transform="translate(367,529.95) rotate(2.06) scale(0.91,0.99)"><use href="#sil" fill="#6d3fe6"/><use href="#sil" fill="#2230ff" transform="scale(0.9,0.95)"/><ellipse cx="0" cy="3" rx="3.9" ry="2.7" fill="#e4e4e4"/><ellipse cx="0" cy="4" rx="2.4" ry="3.2" fill="#e4e4e4"/><ellipse cx="0" cy="-6.2" rx="5.41" ry="5.22" fill="#14d2ee"/><ellipse cx="0" cy="-6.2" rx="4.58" ry="4.4" fill="#2fe02f"/><ellipse cx="-2.8" cy="-8.4" rx="1.65" ry="1.65" fill="#ffe614"/><ellipse cx="-2.8" cy="-8.4" rx="1.1" ry="1.1" fill="#ff1408"/><ellipse cx="2.4" cy="-8.6" rx="1.51" ry="1.51" fill="#ffe614"/><ellipse cx="2.4" cy="-8.6" rx="1.01" ry="1.01" fill="#ff1408"/><ellipse cx="0.3" cy="-4.4" rx="2.34" ry="2.34" fill="#ffe614"/><ellipse cx="0.3" cy="-4.4" rx="1.56" ry="1.56" fill="#ff1408"/><ellipse cx="-2.4" cy="-4.6" rx="1.38" ry="1.38" fill="#ffe614"/><ellipse cx="-2.4" cy="-4.6" rx="0.92" ry="0.92" fill="#ff1408"/><ellipse cx="2.9" cy="-5.2" rx="1.38" ry="1.38" fill="#ffe614"/><ellipse cx="2.9" cy="-5.2" rx="0.92" ry="0.92" fill="#ff1408"/><ellipse cx="0" cy="-7.6" rx="1.1" ry="1.1" fill="#ffe614"/><ellipse cx="0" cy="-7.6" rx="0.73" ry="0.73" fill="#ff1408"/><ellipse cx="0.6" cy="-13.2" rx="1.5" ry="1.6" fill="#14d2ee" opacity="0.8"/><ellipse cx="-4.4" cy="11.2" rx="4.4" ry="5" fill="#14d2ee"/><ellipse cx="-4.4" cy="11.2" rx="3.8" ry="4.3" fill="#2fe02f"/><ellipse cx="-4.5" cy="11" rx="2.93" ry="3.3" fill="#ffe614"/><ellipse cx="-4.6" cy="10.8" rx="2.48" ry="2.84" fill="#ff1408"/><ellipse cx="4.4" cy="11.2" rx="4.4" ry="5" fill="#14d2ee"/><ellipse cx="4.4" cy="11.2" rx="3.8" ry="4.3" fill="#2fe02f"/><ellipse cx="4.5" cy="11" rx="2.93" ry="3.3" fill="#ffe614"/><ellipse cx="4.6" cy="10.8" rx="2.48" ry="2.84" fill="#ff1408"/><ellipse cx="0" cy="13.6" rx="1.6" ry="2.2" fill="#2fe02f"/><ellipse cx="0" cy="15.4" rx="1.4" ry="1" fill="#14d2ee"/></g>
<g transform="translate(388,529.95) rotate(6.9) scale(0.98,0.99)"><ellipse cx="0" cy="-7.2" rx="5.6" ry="6.4" fill="#6d3fe6" opacity="0.8"/><ellipse cx="-0.3" cy="-7" rx="5" ry="5.7" fill="#2230ff"/><ellipse cx="2.8" cy="-4.5" rx="2" ry="2.4" fill="#2230ff"/><ellipse cx="-0.8" cy="-6.5" rx="1" ry="3.78" fill="#14d2ee"/><ellipse cx="2.4" cy="-7.5" rx="0.8" ry="1.6" fill="#14d2ee"/><ellipse cx="-0.8" cy="-6.2" rx="0.45" ry="1.5" fill="#2fe02f"/><ellipse cx="-5.2" cy="10.4" rx="4.5" ry="5" fill="#6d3fe6" opacity="0.8"/><ellipse cx="-5.2" cy="10.4" rx="4" ry="4.5" fill="#2230ff"/><ellipse cx="-5.5" cy="10" rx="3.5" ry="3.5" fill="#14d2ee"/><ellipse cx="-5.5" cy="10" rx="2.73" ry="2.73" fill="#2fe02f"/><ellipse cx="-5.5" cy="10" rx="2.03" ry="2.03" fill="#ffe614"/><ellipse cx="-5.5" cy="10" rx="1.4" ry="1.4" fill="#ff1408"/><ellipse cx="5.2" cy="10.4" rx="4.5" ry="5" fill="#6d3fe6" opacity="0.8"/><ellipse cx="5.2" cy="10.4" rx="4" ry="4.5" fill="#2230ff"/><ellipse cx="5.5" cy="10" rx="3.5" ry="3.5" fill="#14d2ee"/><ellipse cx="5.5" cy="10" rx="2.73" ry="2.73" fill="#2fe02f"/><ellipse cx="5.5" cy="10" rx="2.03" ry="2.03" fill="#ffe614"/><ellipse cx="5.5" cy="10" rx="1.4" ry="1.4" fill="#ff1408"/><ellipse cx="0" cy="15" rx="2.6" ry="2.1" fill="#6d3fe6"/><ellipse cx="0" cy="15" rx="1.8" ry="1.4" fill="#2230ff"/></g>
<g transform="translate(405,529.95) rotate(4.51) scale(1.01,0.99)"><ellipse cx="-6.2" cy="9" rx="1.14" ry="1.14" fill="#2a1cff"/><ellipse cx="5.6" cy="11" rx="1.08" ry="1.08" fill="#2a1cff"/></g>
</g>
</g>
<clipPath id="c19"><rect x="451" y="507" width="42" height="42.3"/></clipPath>
<g clip-path="url(#c19)">
<rect x="451" y="507" width="42" height="42.3" fill="#2f2f2f"/>
<rect x="468.05" y="508.5" width="6.5" height="6" fill="#5c5c5c"/>
<path d="M470.25,508.5v6M472.45,508.5v6" stroke="#333" stroke-width="0.7"/>
<rect x="451" y="507" width="42" height="1.2" fill="#1a1a1a"/>
<g filter="url(#bl)">
<use href="#pm" transform="translate(458,530.45) rotate(-1.6) scale(0.77,0.99)"/>
<use href="#pm" transform="translate(484.5,530.45) rotate(2.36) scale(0.77,0.99)"/>
</g>
</g>
<clipPath id="c20"><rect x="493" y="505.5" width="43.6" height="42.5"/></clipPath>
<g clip-path="url(#c20)">
<rect x="493" y="505.5" width="43.6" height="42.5" fill="#2f2f2f"/>
<rect x="514.15" y="507" width="6.5" height="6" fill="#5c5c5c"/>
<path d="M516.35,507v6M518.55,507v6" stroke="#333" stroke-width="0.7"/>
<rect x="493" y="505.5" width="43.6" height="1.2" fill="#1a1a1a"/>
<g filter="url(#bl)">
<use href="#pm" transform="translate(506,529.05) rotate(-4.65) scale(0.74,0.99)"/>
<use href="#pm" transform="translate(528.7,529.05) rotate(-5.36) scale(0.72,0.99)"/>
</g>
</g>
<clipPath id="c21"><rect x="557.5" y="504.7" width="77" height="42.7"/></clipPath>
<g clip-path="url(#c21)">
<rect x="557.5" y="504.7" width="77" height="42.7" fill="#2f2f2f"/>
<rect x="572.3" y="506.2" width="6.5" height="6" fill="#5c5c5c"/>
<path d="M574.5,506.2v6M576.7,506.2v6" stroke="#333" stroke-width="0.7"/>
<rect x="592.15" y="506.2" width="6.5" height="6" fill="#5c5c5c"/>
<path d="M594.35,506.2v6M596.55,506.2v6" stroke="#333" stroke-width="0.7"/>
<rect x="612.35" y="506.2" width="6.5" height="6" fill="#5c5c5c"/>
<path d="M614.55,506.2v6M616.75,506.2v6" stroke="#333" stroke-width="0.7"/>
<rect x="557.5" y="504.7" width="77" height="1.2" fill="#1a1a1a"/>
<line x1="575" y1="504.7" x2="575" y2="547.4" stroke="#5a5a5a" stroke-width="0.7"/>
<g filter="url(#bl)">
<use href="#pm" transform="translate(568,528.35) rotate(-5.19) scale(0.72,0.99)"/>
<use href="#pm" transform="translate(583,528.35) rotate(-3.53) scale(0.71,0.99)"/>
<use href="#pm" transform="translate(607.7,528.35) rotate(-1.53) scale(0.75,0.99)"/>
<use href="#pm" transform="translate(623.4,528.35) rotate(5.2) scale(0.78,0.99)"/>
</g>
</g>
<clipPath id="c22"><rect x="650.3" y="504.7" width="84.7" height="43.3"/></clipPath>
<g clip-path="url(#c22)">
<rect x="650.3" y="504.7" width="84.7" height="43.3" fill="#2f2f2f"/>
<rect x="655.95" y="506.2" width="6.5" height="6" fill="#5c5c5c"/>
<path d="M658.15,506.2v6M660.35,506.2v6" stroke="#333" stroke-width="0.7"/>
<rect x="688.6" y="506.2" width="6.5" height="6" fill="#5c5c5c"/>
<path d="M690.8,506.2v6M693,506.2v6" stroke="#333" stroke-width="0.7"/>
<rect x="711.85" y="506.2" width="6.5" height="6" fill="#5c5c5c"/>
<path d="M714.05,506.2v6M716.25,506.2v6" stroke="#333" stroke-width="0.7"/>
<rect x="650.3" y="504.7" width="84.7" height="1.2" fill="#1a1a1a"/>
<line x1="675" y1="504.7" x2="675" y2="548" stroke="#5a5a5a" stroke-width="0.7"/>
<line x1="709" y1="504.7" x2="709" y2="548" stroke="#5a5a5a" stroke-width="0.7"/>
<g filter="url(#bl)">
<use href="#pm" transform="translate(668,528.65) rotate(-5.87) scale(0.73,0.99)"/>
<use href="#pm" transform="translate(682,528.65) rotate(-0.71) scale(0.77,0.99)"/>
<use href="#pm" transform="translate(701.6,528.65) rotate(0.69) scale(0.78,0.99)"/>
<use href="#pm" transform="translate(728.5,528.65) rotate(5.37) scale(0.7,0.99)"/>
</g>
</g>
</g>
<g id="panelC">
<text x="0.7" y="590.3" font-size="28" font-weight="bold">C</text>
<line x1="85.8" y1="614.75" x2="85.8" y2="794.45" stroke="#000" stroke-width="1.4"/>
<line x1="85.1" y1="793.8" x2="262.3" y2="793.8" stroke="#000" stroke-width="1.4"/>
<line x1="81.2" y1="793.8" x2="85.8" y2="793.8" stroke="#000" stroke-width="1.4"/>
<text transform="translate(41.7,798.1) scale(0.9,1)" font-size="13.3" font-weight="bold">1</text>
<text x="48.9" y="799.6" font-size="13.3">×</text>
<text transform="translate(58.2,798.1) scale(0.9,1)" font-size="13.3" font-weight="bold">10</text>
<text transform="translate(75.2,793.4) scale(0.87,1)" font-size="8.6" font-weight="bold">3</text>
<line x1="83.2" y1="780.37" x2="85.8" y2="780.37" stroke="#000" stroke-width="0.9"/>
<line x1="83.2" y1="772.52" x2="85.8" y2="772.52" stroke="#000" stroke-width="0.9"/>
<line x1="83.2" y1="766.95" x2="85.8" y2="766.95" stroke="#000" stroke-width="0.9"/>
<line x1="83.2" y1="762.63" x2="85.8" y2="762.63" stroke="#000" stroke-width="0.9"/>
<line x1="83.2" y1="759.09" x2="85.8" y2="759.09" stroke="#000" stroke-width="0.9"/>
<line x1="83.2" y1="756.11" x2="85.8" y2="756.11" stroke="#000" stroke-width="0.9"/>
<line x1="83.2" y1="753.52" x2="85.8" y2="753.52" stroke="#000" stroke-width="0.9"/>
<line x1="83.2" y1="751.24" x2="85.8" y2="751.24" stroke="#000" stroke-width="0.9"/>
<line x1="81.2" y1="749.2" x2="85.8" y2="749.2" stroke="#000" stroke-width="1.4"/>
<text transform="translate(41.7,753.5) scale(0.9,1)" font-size="13.3" font-weight="bold">1</text>
<text x="48.9" y="755" font-size="13.3">×</text>
<text transform="translate(58.2,753.5) scale(0.9,1)" font-size="13.3" font-weight="bold">10</text>
<text transform="translate(75.2,748.8) scale(0.87,1)" font-size="8.6" font-weight="bold">4</text>
<line x1="83.2" y1="735.77" x2="85.8" y2="735.77" stroke="#000" stroke-width="0.9"/>
<line x1="83.2" y1="727.92" x2="85.8" y2="727.92" stroke="#000" stroke-width="0.9"/>
<line x1="83.2" y1="722.35" x2="85.8" y2="722.35" stroke="#000" stroke-width="0.9"/>
<line x1="83.2" y1="718.03" x2="85.8" y2="718.03" stroke="#000" stroke-width="0.9"/>
<line x1="83.2" y1="714.49" x2="85.8" y2="714.49" stroke="#000" stroke-width="0.9"/>
<line x1="83.2" y1="711.51" x2="85.8" y2="711.51" stroke="#000" stroke-width="0.9"/>
<line x1="83.2" y1="708.92" x2="85.8" y2="708.92" stroke="#000" stroke-width="0.9"/>
<line x1="83.2" y1="706.64" x2="85.8" y2="706.64" stroke="#000" stroke-width="0.9"/>
<line x1="81.2" y1="704.6" x2="85.8" y2="704.6" stroke="#000" stroke-width="1.4"/>
<text transform="translate(41.7,708.9) scale(0.9,1)" font-size="13.3" font-weight="bold">1</text>
<text x="48.9" y="710.4" font-size="13.3">×</text>
<text transform="translate(58.2,708.9) scale(0.9,1)" font-size="13.3" font-weight="bold">10</text>
<text transform="translate(75.2,704.2) scale(0.87,1)" font-size="8.6" font-weight="bold">5</text>
<line x1="83.2" y1="691.17" x2="85.8" y2="691.17" stroke="#000" stroke-width="0.9"/>
<line x1="83.2" y1="683.32" x2="85.8" y2="683.32" stroke="#000" stroke-width="0.9"/>
<line x1="83.2" y1="677.75" x2="85.8" y2="677.75" stroke="#000" stroke-width="0.9"/>
<line x1="83.2" y1="673.43" x2="85.8" y2="673.43" stroke="#000" stroke-width="0.9"/>
<line x1="83.2" y1="669.89" x2="85.8" y2="669.89" stroke="#000" stroke-width="0.9"/>
<line x1="83.2" y1="666.91" x2="85.8" y2="666.91" stroke="#000" stroke-width="0.9"/>
<line x1="83.2" y1="664.32" x2="85.8" y2="664.32" stroke="#000" stroke-width="0.9"/>
<line x1="83.2" y1="662.04" x2="85.8" y2="662.04" stroke="#000" stroke-width="0.9"/>
<line x1="81.2" y1="660" x2="85.8" y2="660" stroke="#000" stroke-width="1.4"/>
<text transform="translate(41.7,664.3) scale(0.9,1)" font-size="13.3" font-weight="bold">1</text>
<text x="48.9" y="665.8" font-size="13.3">×</text>
<text transform="translate(58.2,664.3) scale(0.9,1)" font-size="13.3" font-weight="bold">10</text>
<text transform="translate(75.2,659.6) scale(0.87,1)" font-size="8.6" font-weight="bold">6</text>
<line x1="83.2" y1="646.57" x2="85.8" y2="646.57" stroke="#000" stroke-width="0.9"/>
<line x1="83.2" y1="638.72" x2="85.8" y2="638.72" stroke="#000" stroke-width="0.9"/>
<line x1="83.2" y1="633.15" x2="85.8" y2="633.15" stroke="#000" stroke-width="0.9"/>
<line x1="83.2" y1="628.83" x2="85.8" y2="628.83" stroke="#000" stroke-width="0.9"/>
<line x1="83.2" y1="625.29" x2="85.8" y2="625.29" stroke="#000" stroke-width="0.9"/>
<line x1="83.2" y1="622.31" x2="85.8" y2="622.31" stroke="#000" stroke-width="0.9"/>
<line x1="83.2" y1="619.72" x2="85.8" y2="619.72" stroke="#000" stroke-width="0.9"/>
<line x1="83.2" y1="617.44" x2="85.8" y2="617.44" stroke="#000" stroke-width="0.9"/>
<line x1="81.2" y1="615.4" x2="85.8" y2="615.4" stroke="#000" stroke-width="1.4"/>
<text transform="translate(41.7,619.7) scale(0.9,1)" font-size="13.3" font-weight="bold">1</text>
<text x="48.9" y="621.2" font-size="13.3">×</text>
<text transform="translate(58.2,619.7) scale(0.9,1)" font-size="13.3" font-weight="bold">10</text>
<text transform="translate(75.2,615) scale(0.87,1)" font-size="8.6" font-weight="bold">7</text>
<line x1="85.8" y1="793.8" x2="85.8" y2="798.8" stroke="#000" stroke-width="1.4"/>
<text x="85.8" y="813" font-size="12" font-weight="bold" text-anchor="middle">7</text>
<line x1="120.8" y1="793.8" x2="120.8" y2="798.8" stroke="#000" stroke-width="1.4"/>
<text x="120.8" y="813" font-size="12" font-weight="bold" text-anchor="middle">14</text>
<line x1="156.3" y1="793.8" x2="156.3" y2="798.8" stroke="#000" stroke-width="1.4"/>
<text x="156.3" y="813" font-size="12" font-weight="bold" text-anchor="middle">21</text>
<line x1="191.2" y1="793.8" x2="191.2" y2="798.8" stroke="#000" stroke-width="1.4"/>
<text x="191.2" y="813" font-size="12" font-weight="bold" text-anchor="middle">28</text>
<line x1="226.6" y1="793.8" x2="226.6" y2="798.8" stroke="#000" stroke-width="1.4"/>
<text x="226.6" y="813" font-size="12" font-weight="bold" text-anchor="middle">35</text>
<line x1="261.6" y1="793.8" x2="261.6" y2="798.8" stroke="#000" stroke-width="1.4"/>
<text x="261.6" y="813" font-size="12" font-weight="bold" text-anchor="middle">42</text>
<text x="173.8" y="834.3" font-size="14.2" text-anchor="middle">Days</text>
<text transform="translate(32.6,704) rotate(-90)" font-size="13" font-weight="bold" text-anchor="middle">BLI</text>
<polyline points="85.8,773 120.8,760 156.3,741.3 191.2,705.3 226.6,695.3 261.6,663.2" fill="none" stroke="#111" stroke-width="1"/>
<path d="M156.3,733V750.5M153.5,733h5.6M153.5,750.5h5.6" stroke="#111" stroke-width="1" fill="none"/>
<path d="M226.6,687.4V708.4M223.8,687.4h5.6M223.8,708.4h5.6" stroke="#111" stroke-width="1" fill="none"/>
<circle cx="85.8" cy="773" r="3.3" fill="#111"/>
<circle cx="120.8" cy="760" r="3.3" fill="#111"/>
<circle cx="156.3" cy="741.3" r="3.3" fill="#111"/>
<circle cx="191.2" cy="705.3" r="3.3" fill="#111"/>
<circle cx="226.6" cy="695.3" r="3.3" fill="#111"/>
<circle cx="261.6" cy="663.2" r="3.3" fill="#111"/>
<polyline points="85.8,773 120.8,774.7 156.3,783.4 191.2,778.7 261.6,763.2" fill="none" stroke="#1e90ff" stroke-width="1"/>
<circle cx="85.8" cy="773" r="3.3" fill="#1e90ff"/>
<circle cx="120.8" cy="774.7" r="3.3" fill="#1e90ff"/>
<circle cx="156.3" cy="783.4" r="3.3" fill="#1e90ff"/>
<circle cx="191.2" cy="778.7" r="3.3" fill="#1e90ff"/>
<circle cx="261.6" cy="763.2" r="3.3" fill="#1e90ff"/>
<polyline points="85.8,772 120.8,754.5 156.3,761 191.2,762.4 261.6,759.7" fill="none" stroke="#1e90ff" stroke-width="1"/>
<circle cx="85.8" cy="772" r="2.9" fill="none" stroke="#1e90ff" stroke-width="0.9"/>
<circle cx="120.8" cy="754.5" r="2.9" fill="none" stroke="#1e90ff" stroke-width="0.9"/>
<circle cx="156.3" cy="761" r="2.9" fill="none" stroke="#1e90ff" stroke-width="0.9"/>
<circle cx="191.2" cy="762.4" r="2.9" fill="none" stroke="#1e90ff" stroke-width="0.9"/>
<circle cx="261.6" cy="759.7" r="2.9" fill="none" stroke="#1e90ff" stroke-width="0.9"/>
<polyline points="85.8,773 120.8,770.8 156.3,773 191.2,773.4 226.6,745.3 261.6,765.5" fill="none" stroke="#1fc41f" stroke-width="1"/>
<path d="M261.6,759.7V770.8M258.8,759.7h5.6M258.8,770.8h5.6" stroke="#1fc41f" stroke-width="1" fill="none"/>
<path d="M226.6,741V749.5M223.8,741h5.6M223.8,749.5h5.6" stroke="#1fc41f" stroke-width="1" fill="none"/>
<circle cx="85.8" cy="773" r="3.3" fill="#1fc41f"/>
<circle cx="120.8" cy="770.8" r="3.3" fill="#1fc41f"/>
<circle cx="156.3" cy="773" r="3.3" fill="#1fc41f"/>
<circle cx="191.2" cy="773.4" r="3.3" fill="#1fc41f"/>
<circle cx="226.6" cy="745.3" r="3.3" fill="#1fc41f"/>
<circle cx="261.6" cy="765.5" r="3.3" fill="#1fc41f"/>
<polyline points="85.8,772.5 120.8,757 156.3,737.4 191.2,717.6 226.6,695.3 261.6,691.3" fill="none" stroke="#1fc41f" stroke-width="1"/>
<path d="M191.2,711V726.3M188.4,711h5.6M188.4,726.3h5.6" stroke="#1fc41f" stroke-width="1" fill="none"/>
<path d="M261.6,684.7V703M258.8,684.7h5.6M258.8,703h5.6" stroke="#1fc41f" stroke-width="1" fill="none"/>
<path d="M226.6,688V703M223.8,688h5.6M223.8,703h5.6" stroke="#1fc41f" stroke-width="1" fill="none"/>
<circle cx="85.8" cy="772.5" r="2.9" fill="none" stroke="#1fc41f" stroke-width="0.9"/>
<circle cx="120.8" cy="757" r="2.9" fill="none" stroke="#1fc41f" stroke-width="0.9"/>
<circle cx="156.3" cy="737.4" r="2.9" fill="none" stroke="#1fc41f" stroke-width="0.9"/>
<circle cx="191.2" cy="717.6" r="2.9" fill="none" stroke="#1fc41f" stroke-width="0.9"/>
<circle cx="226.6" cy="695.3" r="2.9" fill="none" stroke="#1fc41f" stroke-width="0.9"/>
<circle cx="261.6" cy="691.3" r="2.9" fill="none" stroke="#1fc41f" stroke-width="0.9"/>
<polyline points="85.8,774.2 120.8,763 156.3,760.5 191.2,758.4 226.6,748.7 261.6,740.8" fill="none" stroke="#ff1a1a" stroke-width="1"/>
<path d="M85.8,767.6V781.6M83,767.6h5.6M83,781.6h5.6" stroke="#ff1a1a" stroke-width="1" fill="none"/>
<path d="M156.3,755V766.8M153.5,755h5.6M153.5,766.8h5.6" stroke="#ff1a1a" stroke-width="1" fill="none"/>
<path d="M226.6,742.6V755M223.8,742.6h5.6M223.8,755h5.6" stroke="#ff1a1a" stroke-width="1" fill="none"/>
<path d="M261.6,735.3V746.6M258.8,735.3h5.6M258.8,746.6h5.6" stroke="#ff1a1a" stroke-width="1" fill="none"/>
<circle cx="85.8" cy="774.2" r="3.3" fill="#ff1a1a"/>
<circle cx="120.8" cy="763" r="3.3" fill="#ff1a1a"/>
<circle cx="156.3" cy="760.5" r="3.3" fill="#ff1a1a"/>
<circle cx="191.2" cy="758.4" r="3.3" fill="#ff1a1a"/>
<circle cx="226.6" cy="748.7" r="3.3" fill="#ff1a1a"/>
<circle cx="261.6" cy="740.8" r="3.3" fill="#ff1a1a"/>
<polyline points="85.8,772 120.8,755 156.3,738.7 191.2,703.2 226.6,695.3 261.6,680.3" fill="none" stroke="#ff1a1a" stroke-width="1"/>
<path d="M191.2,698.4V708M188.4,698.4h5.6M188.4,708h5.6" stroke="#ff1a1a" stroke-width="1" fill="none"/>
<path d="M226.6,688.7V707M223.8,688.7h5.6M223.8,707h5.6" stroke="#ff1a1a" stroke-width="1" fill="none"/>
<circle cx="85.8" cy="772" r="2.9" fill="none" stroke="#ff1a1a" stroke-width="0.9"/>
<circle cx="120.8" cy="755" r="2.9" fill="none" stroke="#ff1a1a" stroke-width="0.9"/>
<circle cx="156.3" cy="738.7" r="2.9" fill="none" stroke="#ff1a1a" stroke-width="0.9"/>
<circle cx="191.2" cy="703.2" r="2.9" fill="none" stroke="#ff1a1a" stroke-width="0.9"/>
<circle cx="226.6" cy="695.3" r="2.9" fill="none" stroke="#ff1a1a" stroke-width="0.9"/>
<circle cx="261.6" cy="680.3" r="2.9" fill="none" stroke="#ff1a1a" stroke-width="0.9"/>
<polyline points="85.8,769.5 120.8,748.7 156.3,720.3 191.2,704.5 226.6,676.8 261.6,657.6" fill="none" stroke="#111" stroke-width="1"/>
<path d="M156.3,715.8V726M153.5,715.8h5.6M153.5,726h5.6" stroke="#111" stroke-width="1" fill="none"/>
<path d="M226.6,671.6V683.4M223.8,671.6h5.6M223.8,683.4h5.6" stroke="#111" stroke-width="1" fill="none"/>
<path d="M261.6,653V662M258.8,653h5.6M258.8,662h5.6" stroke="#111" stroke-width="1" fill="none"/>
<circle cx="85.8" cy="769.5" r="2.9" fill="none" stroke="#111" stroke-width="0.9"/>
<circle cx="120.8" cy="748.7" r="2.9" fill="none" stroke="#111" stroke-width="0.9"/>
<circle cx="156.3" cy="720.3" r="2.9" fill="none" stroke="#111" stroke-width="0.9"/>
<circle cx="191.2" cy="704.5" r="2.9" fill="none" stroke="#111" stroke-width="0.9"/>
<circle cx="226.6" cy="676.8" r="2.9" fill="none" stroke="#111" stroke-width="0.9"/>
<circle cx="261.6" cy="657.6" r="2.9" fill="none" stroke="#111" stroke-width="0.9"/>
<line x1="279" y1="658.7" x2="293" y2="658.7" stroke="#111" stroke-width="0.9"/>
<circle cx="286" cy="658.7" r="2.2" fill="none" stroke="#111" stroke-width="0.8"/>
<text x="301" y="662.6" font-size="10.85">CONTROL</text>
<line x1="279" y1="676.7" x2="293" y2="676.7" stroke="#ff1a1a" stroke-width="0.9"/>
<circle cx="286" cy="676.7" r="2.2" fill="none" stroke="#ff1a1a" stroke-width="0.8"/>
<text x="301" y="680.6" font-size="10.85">mock DOT</text>
<line x1="279" y1="694.5" x2="293" y2="694.5" stroke="#ff1a1a" stroke-width="0.9"/>
<circle cx="286" cy="694.5" r="2.6" fill="#ff1a1a"/>
<text x="301" y="698.4" font-size="10.85">CAR-DOT</text>
<line x1="279" y1="712.3" x2="293" y2="712.3" stroke="#1fc41f" stroke-width="0.9"/>
<circle cx="286" cy="712.3" r="2.2" fill="none" stroke="#1fc41f" stroke-width="0.8"/>
<text x="301" y="716.2" font-size="10.85">mock DOT 3d</text>
<line x1="279" y1="730.3" x2="293" y2="730.3" stroke="#1fc41f" stroke-width="0.9"/>
<circle cx="286" cy="730.3" r="2.6" fill="#1fc41f"/>
<text x="301" y="734.2" font-size="10.85">CAR-DOT 3d</text>
<line x1="279" y1="748.2" x2="293" y2="748.2" stroke="#1e90ff" stroke-width="0.9"/>
<circle cx="286" cy="748.2" r="2.2" fill="none" stroke="#1e90ff" stroke-width="0.8"/>
<text x="301" y="752.1" font-size="10.85">mock DOT Daily</text>
<line x1="279" y1="765.9" x2="293" y2="765.9" stroke="#1e90ff" stroke-width="0.9"/>
<circle cx="286" cy="765.9" r="2.6" fill="#1e90ff"/>
<text x="301" y="769.8" font-size="10.85">CAR-DOT Daily</text>
</g>
<g id="panelD">
<text x="430.5" y="591" font-size="28" font-weight="bold">D</text>
<text x="622.5" y="596" font-size="14.5" font-weight="bold" text-anchor="middle">BM-day 30</text>
<line x1="486.3" y1="615.8" x2="486.3" y2="769.6" stroke="#222" stroke-width="0.9"/>
<line x1="485.9" y1="769.6" x2="759.5" y2="769.6" stroke="#555" stroke-width="1.3"/>
<line x1="482.3" y1="769.6" x2="486.3" y2="769.6" stroke="#222" stroke-width="0.9"/>
<text x="480.4" y="773.3" font-size="10.4" font-weight="bold" text-anchor="end">0</text>
<line x1="482.3" y1="731.26" x2="486.3" y2="731.26" stroke="#222" stroke-width="0.9"/>
<text x="480.4" y="734.96" font-size="10.4" font-weight="bold" text-anchor="end">2</text>
<line x1="482.3" y1="692.92" x2="486.3" y2="692.92" stroke="#222" stroke-width="0.9"/>
<text x="480.4" y="696.62" font-size="10.4" font-weight="bold" text-anchor="end">4</text>
<line x1="482.3" y1="654.58" x2="486.3" y2="654.58" stroke="#222" stroke-width="0.9"/>
<text x="480.4" y="658.28" font-size="10.4" font-weight="bold" text-anchor="end">6</text>
<line x1="482.3" y1="616.24" x2="486.3" y2="616.24" stroke="#222" stroke-width="0.9"/>
<text x="480.4" y="619.94" font-size="10.4" font-weight="bold" text-anchor="end">8</text>
<text transform="translate(467.2,737.9) rotate(-90)" font-size="12.2" font-weight="bold">% AML PDX<tspan font-size="8.9" dy="-6.2" dx="0.3">LUC</tspan></text>
<line x1="511.3" y1="769.6" x2="511.3" y2="774.4" stroke="#222" stroke-width="0.9"/>
<line x1="548.8" y1="769.6" x2="548.8" y2="774.4" stroke="#222" stroke-width="0.9"/>
<line x1="585.6" y1="769.6" x2="585.6" y2="774.4" stroke="#222" stroke-width="0.9"/>
<line x1="622.6" y1="769.6" x2="622.6" y2="774.4" stroke="#222" stroke-width="0.9"/>
<line x1="660" y1="769.6" x2="660" y2="774.4" stroke="#222" stroke-width="0.9"/>
<line x1="697" y1="769.6" x2="697" y2="774.4" stroke="#222" stroke-width="0.9"/>
<line x1="734.3" y1="769.6" x2="734.3" y2="774.4" stroke="#222" stroke-width="0.9"/>
<path d="M499.1,684.2h24.4M511.3,647.5V720.5M505.1,647.5h12.4M505.1,720.5h12.4" stroke="#111" stroke-width="0.9" fill="none"/>
<circle cx="511.3" cy="639.3" r="2.9" fill="#111"/>
<circle cx="511.3" cy="656.8" r="2.9" fill="#111"/>
<circle cx="511.3" cy="757" r="2.9" fill="#111"/>
<path d="M536.6,739.3h24.4M548.8,729.3V749.3M542.6,729.3h12.4M542.6,749.3h12.4" stroke="#ff1a1a" stroke-width="0.9" fill="none"/>
<circle cx="543.8" cy="720" r="2.7" fill="none" stroke="#ff1a1a" stroke-width="0.9"/>
<circle cx="553.3" cy="724.3" r="2.7" fill="none" stroke="#ff1a1a" stroke-width="0.9"/>
<circle cx="543.8" cy="758.8" r="2.7" fill="none" stroke="#ff1a1a" stroke-width="0.9"/>
<circle cx="552.6" cy="754.3" r="2.7" fill="none" stroke="#ff1a1a" stroke-width="0.9"/>
<path d="M573.4,738.8h24.4M585.6,723.8V753.3M579.4,723.8h12.4M579.4,753.3h12.4" stroke="#1fc41f" stroke-width="0.9" fill="none"/>
<circle cx="580.8" cy="716.8" r="2.7" fill="none" stroke="#1fc41f" stroke-width="0.9"/>
<circle cx="590.5" cy="710.5" r="2.7" fill="none" stroke="#1fc41f" stroke-width="0.9"/>
<circle cx="585.6" cy="758.8" r="2.7" fill="none" stroke="#1fc41f" stroke-width="0.9"/>
<circle cx="585.6" cy="770" r="2.7" fill="none" stroke="#1fc41f" stroke-width="0.9"/>
<circle cx="613" cy="769.6" r="2.7" fill="none" stroke="#1e90ff" stroke-width="0.9"/>
<circle cx="619.3" cy="769.6" r="2.7" fill="none" stroke="#1e90ff" stroke-width="0.9"/>
<circle cx="625.6" cy="769.6" r="2.7" fill="none" stroke="#1e90ff" stroke-width="0.9"/>
<circle cx="632" cy="769.6" r="2.7" fill="none" stroke="#1e90ff" stroke-width="0.9"/>
<path d="M647.8,766.5h24.4M660,763.7V769.3M653.8,763.7h12.4M653.8,769.3h12.4" stroke="#ff1a1a" stroke-width="0.9" fill="none"/>
<circle cx="659.6" cy="758.8" r="3" fill="#ff1a1a"/>
<circle cx="652" cy="768" r="3" fill="#ff1a1a"/>
<circle cx="660" cy="770" r="3" fill="#ff1a1a"/>
<circle cx="667.6" cy="769.5" r="3" fill="#ff1a1a"/>
<circle cx="687.5" cy="770" r="3" fill="#1fc41f"/>
<circle cx="693.8" cy="770" r="3" fill="#1fc41f"/>
<circle cx="700" cy="770" r="3" fill="#1fc41f"/>
<circle cx="706.3" cy="770" r="3" fill="#1fc41f"/>
<path d="M725,766.8L727.85,772.05L722.15,772.05Z" fill="none" stroke="#1e90ff" stroke-width="0.9"/>
<path d="M731.2,766.8L734.05,772.05L728.35,772.05Z" fill="none" stroke="#1e90ff" stroke-width="0.9"/>
<path d="M737.2,766.8L740.05,772.05L734.35,772.05Z" fill="none" stroke="#1e90ff" stroke-width="0.9"/>
<path d="M743.3,766.8L746.15,772.05L740.45,772.05Z" fill="none" stroke="#1e90ff" stroke-width="0.9"/>
<text x="492.6" y="789.6" font-size="11.2" font-weight="bold" text-anchor="end">CAR:</text>
<text x="492.6" y="808.8" font-size="11.2" font-weight="bold" text-anchor="end">IL15:</text>
<text x="511.6" y="789.6" font-size="10.6" font-weight="bold" text-anchor="middle">-</text>
<text x="549.1" y="789.6" font-size="10.6" font-weight="bold" text-anchor="middle">-</text>
<text x="585.9" y="789.6" font-size="10.6" font-weight="bold" text-anchor="middle">-</text>
<text x="622.9" y="789.6" font-size="10.6" font-weight="bold" text-anchor="middle">-</text>
<text x="660.3" y="789.6" font-size="10.6" font-weight="bold" text-anchor="middle">+</text>
<text x="697.3" y="789.6" font-size="10.6" font-weight="bold" text-anchor="middle">+</text>
<text x="734.6" y="789.6" font-size="10.6" font-weight="bold" text-anchor="middle">+</text>
<text x="511.7" y="808.8" font-size="10.6" font-weight="bold" text-anchor="middle">-</text>
<text x="550.4" y="808.8" font-size="10.6" font-weight="bold" text-anchor="middle">-</text>
<text x="586" y="808.8" font-size="10.6" font-weight="bold" text-anchor="middle">3d</text>
<text x="623" y="808.8" font-size="10.6" font-weight="bold" text-anchor="middle">Daily</text>
<text x="661.6" y="808.8" font-size="10.6" font-weight="bold" text-anchor="middle">-</text>
<text x="697.4" y="808.8" font-size="10.6" font-weight="bold" text-anchor="middle">3d</text>
<text x="734.7" y="808.8" font-size="10.6" font-weight="bold" text-anchor="middle">Daily</text>
<line x1="548.8" y1="811.8" x2="635.5" y2="811.8" stroke="#000" stroke-width="1.3"/>
<line x1="661.8" y1="811.8" x2="748" y2="811.8" stroke="#000" stroke-width="1.3"/>
<text x="591" y="825" font-size="13.3" text-anchor="middle">Mock-DOT</text>
<text x="703.4" y="825" font-size="13.3" text-anchor="middle">CAR-DOT</text>
</g>
<g id="panelE">
<text x="4.3" y="870.7" font-size="28" font-weight="bold">E</text>
<text x="129" y="886.2" font-size="18" text-anchor="middle">Mock-DOT</text>
<text x="277.8" y="886.2" font-size="18" text-anchor="middle">CAR-DOT</text>
<clipPath id="e0"><rect x="77.3" y="894.8" width="104.7" height="87.7"/></clipPath>
<g clip-path="url(#e0)">
<ellipse cx="100.4" cy="967.6" rx="19.35" ry="11.75" transform="rotate(-5.73 100.4 967.6)" fill="#000"/>
<path d="M79.7,973.6h0.6M81.3,972.1h0.6M81.1,968.9h0.6M81.5,968.6h0.6M86.8,960.7h0.6M95.0,979.1h0.6M118.6,972.8h0.6M122.8,969.0h0.6M88.5,959.2h0.6M119.3,966.8h0.6M107.8,977.3h0.6M82.4,971.9h0.6M82.7,973.7h0.6M86.6,959.5h0.6M81.1,969.5h0.6M97.8,979.8h0.6M121.6,965.2h0.6M94.2,957.1h0.6M96.6,979.5h0.6M118.4,971.0h0.6M112.5,954.2h0.6M110.2,956.8h0.6M119.4,957.8h0.6M84.6,976.7h0.6M102.3,955.7h0.6M98.9,979.6h0.6M118.2,963.2h0.6M101.7,979.1h0.6M118.6,973.8h0.6M110.2,978.0h0.6M108.1,977.7h0.6M87.2,959.5h0.6M105.7,978.6h0.6M98.8,980.8h0.6M95.0,979.0h0.6M114.2,958.0h0.6M110.8,957.2h0.6M119.4,964.9h0.6M101.6,956.0h0.6M119.5,971.4h0.6M102.1,979.3h0.6M83.8,962.1h0.6M120.4,962.2h0.6M111.7,957.9h0.6M115.7,959.5h0.6M108.4,978.0h0.6M109.9,981.4h0.6M84.2,962.0h0.6M84.5,974.6h0.6M117.8,963.2h0.6M100.5,980.5h0.6M107.9,955.8h0.6M109.5,977.0h0.6M104.3,980.3h0.6M84.8,961.3h0.6M97.7,979.4h0.6M118.9,966.9h0.6M119.7,970.4h0.6M82.0,964.1h0.6M116.6,976.4h0.6M121.2,963.9h0.6M83.8,963.5h0.6M120.4,967.0h0.6M120.8,962.4h0.6M82.0,970.7h0.6M96.3,955.1h0.6M124.6,972.7h0.6M114.8,959.2h0.6M104.5,954.7h0.6M117.9,959.0h0.6M115.9,958.6h0.6M103.9,955.5h0.6M85.3,960.4h0.6M86.1,977.4h0.6M120.2,972.2h0.6M115.6,956.4h0.6M97.0,955.7h0.6M80.9,963.1h0.6M117.3,971.9h0.6M84.6,962.4h0.6M82.0,970.8h0.6M79.4,969.9h0.6M84.9,961.3h0.6M119.5,966.5h0.6M107.3,979.1h0.6M111.6,978.1h0.6M82.6,973.6h0.6M89.5,958.5h0.6M108.4,979.8h0.6M116.9,959.5h0.6M83.6,963.6h0.6M81.3,969.7h0.6M110.2,955.2h0.6M117.9,962.2h0.6M83.1,972.7h0.6M84.2,975.3h0.6M85.5,960.5h0.6M109.5,956.3h0.6M119.6,971.6h0.6M119.0,968.8h0.6M93.9,979.9h0.6M103.9,955.9h0.6M83.0,972.5h0.6M119.6,967.5h0.6M114.4,976.3h0.6M81.8,973.5h0.6M106.6,954.1h0.6M107.4,978.4h0.6M120.6,966.4h0.6M109.2,977.1h0.6M92.6,956.8h0.6M79.8,968.0h0.6M85.2,976.8h0.6M103.8,956.1h0.6M116.5,961.2h0.6M82.3,972.8h0.6M85.5,960.5h0.6M82.4,964.5h0.6M115.6,956.4h0.6M82.2,972.0h0.6M95.6,956.5h0.6M107.9,954.6h0.6M106.5,980.3h0.6M123.2,963.2h0.6M93.1,978.8h0.6M116.4,959.3h0.6M118.8,972.1h0.6M101.1,956.2h0.6M106.4,955.1h0.6M110.8,977.8h0.6M115.0,976.6h0.6M95.6,956.0h0.6M111.2,954.5h0.6M81.5,970.0h0.6M104.5,978.3h0.6M81.5,967.5h0.6M85.7,959.2h0.6M80.9,967.8h0.6M93.7,979.7h0.6M86.1,977.5h0.6M106.9,979.6h0.6M111.2,956.2h0.6M82.9,964.2h0.6M80.0,969.4h0.6M81.3,960.8h0.6M81.3,968.3h0.6M85.6,975.8h0.6M80.0,970.3h0.6M91.7,956.9h0.6M84.5,975.2h0.6M118.8,962.4h0.6M81.3,971.5h0.6M107.3,955.1h0.6M93.3,979.1h0.6M109.8,980.1h0.6M113.5,974.5h0.6M108.4,978.8h0.6M92.6,979.2h0.6M116.7,973.5h0.6M81.2,968.7h0.6M101.2,979.1h0.6M82.1,974.2h0.6M86.8,977.6h0.6M111.7,976.8h0.6M86.0,959.3h0.6M80.8,967.3h0.6M111.7,956.6h0.6M107.0,954.2h0.6M93.7,979.0h0.6M121.1,958.4h0.6M114.3,958.2h0.6M96.4,956.9h0.6M109.4,955.3h0.6M116.0,975.4h0.6M120.4,967.0h0.6M117.5,958.9h0.6M81.9,969.0h0.6M99.9,954.8h0.6M108.1,977.5h0.6M119.9,968.5h0.6M82.7,964.5h0.6M112.8,975.9h0.6M110.9,954.8h0.6M120.3,973.8h0.6M82.8,972.0h0.6M81.2,972.0h0.6M79.9,968.4h0.6M120.0,966.6h0.6M111.3,979.8h0.6M85.2,975.6h0.6M108.3,978.8h0.6M122.3,966.7h0.6M93.4,956.6h0.6M84.3,976.2h0.6M80.5,961.2h0.6M105.2,956.4h0.6M98.0,954.2h0.6M102.2,956.0h0.6M116.3,958.0h0.6M101.0,955.2h0.6M100.8,954.9h0.6M119.2,971.1h0.6M121.1,966.4h0.6M85.0,960.4h0.6M103.7,979.9h0.6M91.2,978.5h0.6M88.3,958.3h0.6M86.3,976.5h0.6M121.7,965.4h0.6M100.3,956.2h0.6M85.9,961.6h0.6M97.7,956.7h0.6M119.8,969.6h0.6M116.8,973.0h0.6M78.8,965.5h0.6M79.8,969.0h0.6M120.3,965.2h0.6M120.8,972.0h0.6M120.2,969.1h0.6M82.2,971.4h0.6M111.2,977.6h0.6M119.5,970.2h0.6M80.8,967.5h0.6M97.0,979.4h0.6M88.2,958.9h0.6M95.1,956.9h0.6M95.7,979.5h0.6M119.2,968.9h0.6M85.1,977.2h0.6M114.2,959.3h0.6M118.8,964.9h0.6M116.4,958.8h0.6M119.5,963.6h0.6M118.1,961.0h0.6M120.6,963.8h0.6M116.4,974.4h0.6M107.0,978.8h0.6M115.7,975.1h0.6M82.2,972.6h0.6M99.8,979.8h0.6M102.3,955.8h0.6M77.8,967.2h0.6M97.2,956.8h0.6M102.9,980.2h0.6M103.2,954.9h0.6M85.9,960.7h0.6M91.4,957.6h0.6M81.1,964.6h0.6M99.3,955.7h0.6M109.6,979.4h0.6M115.6,960.2h0.6M118.9,970.3h0.6M85.1,960.5h0.6M119.8,971.4h0.6M81.3,965.7h0.6M86.0,960.2h0.6M106.0,978.7h0.6M91.0,977.8h0.6M121.7,972.0h0.6M84.8,960.3h0.6M101.1,956.2h0.6M100.3,979.9h0.6M106.7,954.6h0.6M120.7,964.7h0.6M98.4,955.6h0.6M88.1,977.4h0.6M116.3,972.7h0.6M118.6,972.1h0.6M91.6,957.7h0.6M119.8,971.8h0.6M119.4,972.2h0.6M91.8,956.4h0.6M97.3,979.4h0.6M96.0,956.2h0.6M87.6,978.1h0.6M81.5,964.3h0.6M119.4,958.7h0.6M83.4,973.6h0.6M93.2,979.3h0.6M83.5,977.1h0.6M101.5,979.6h0.6M88.7,977.8h0.6M85.6,976.3h0.6M86.6,976.5h0.6M104.8,955.2h0.6M81.2,966.5h0.6M110.2,977.8h0.6M97.1,981.1h0.6M120.5,967.3h0.6M80.8,964.3h0.6M105.7,955.2h0.6M103.4,955.9h0.6M119.6,972.4h0.6M116.5,958.1h0.6M113.6,976.1h0.6M101.8,978.9h0.6M79.1,967.9h0.6M100.7,955.6h0.6M119.3,963.2h0.6M80.5,966.7h0.6M95.5,956.5h0.6M82.3,976.6h0.6M109.2,954.4h0.6M106.6,953.8h0.6M119.8,962.2h0.6M94.4,957.0h0.6M83.3,975.2h0.6M115.1,977.4h0.6M87.7,977.0h0.6M83.7,974.6h0.6M96.4,979.1h0.6M94.6,978.6h0.6M117.5,974.8h0.6M110.0,978.1h0.6M83.6,963.5h0.6M115.3,973.4h0.6M103.0,979.1h0.6M95.1,956.5h0.6M108.7,977.5h0.6M99.8,955.8h0.6M93.3,980.4h0.6M81.4,971.0h0.6M100.0,980.6h0.6M89.9,979.3h0.6M80.6,965.9h0.6M104.6,978.4h0.6M121.4,969.6h0.6M85.8,977.3h0.6M98.4,979.0h0.6M119.6,964.9h0.6M120.1,966.4h0.6M104.4,956.2h0.6M112.8,977.3h0.6M100.1,979.5h0.6M113.3,956.8h0.6M120.1,965.1h0.6M111.6,975.5h0.6M108.5,954.4h0.6M118.7,972.1h0.6M117.4,973.1h0.6M121.4,961.6h0.6M95.1,978.9h0.6M118.6,958.9h0.6M106.4,978.8h0.6M81.5,966.3h0.6M108.3,956.7h0.6M118.4,971.5h0.6M94.6,956.1h0.6M89.3,977.4h0.6M86.0,976.2h0.6M79.7,972.8h0.6M88.6,959.2h0.6M121.8,966.5h0.6M102.9,979.6h0.6M121.6,966.3h0.6M106.0,977.8h0.6M85.6,961.4h0.6M80.7,966.5h0.6M95.6,979.3h0.6M89.3,958.2h0.6M100.5,979.3h0.6M91.3,979.8h0.6M120.0,961.1h0.6M92.1,978.3h0.6M114.1,976.1h0.6M93.9,956.5h0.6M110.9,979.1h0.6M83.5,962.8h0.6M112.0,976.6h0.6M119.2,971.3h0.6M81.2,968.6h0.6M88.2,959.7h0.6M84.9,977.8h0.6M92.2,978.3h0.6M86.0,975.6h0.6M92.3,955.9h0.6M89.3,959.1h0.6M84.1,961.5h0.6M91.1,977.9h0.6M87.8,959.1h0.6M81.0,968.8h0.6M103.5,955.8h0.6M112.3,977.1h0.6M78.8,965.7h0.6M89.6,978.1h0.6M94.9,957.3h0.6M121.0,964.4h0.6M110.6,954.4h0.6M86.6,960.9h0.6M101.9,979.0h0.6M83.2,964.0h0.6M118.1,960.3h0.6M115.4,974.9h0.6M115.9,959.0h0.6M82.4,965.1h0.6M99.4,981.7h0.6M107.8,954.6h0.6M107.8,956.2h0.6M102.7,980.8h0.6M83.0,964.2h0.6M81.6,966.0h0.6M117.8,971.3h0.6M121.2,964.4h0.6M94.3,979.4h0.6M85.8,977.7h0.6M84.3,963.1h0.6M107.2,978.1h0.6M87.1,976.3h0.6M82.4,964.4h0.6M99.6,980.0h0.6M82.1,964.5h0.6M120.5,968.6h0.6M119.4,962.5h0.6M84.4,975.5h0.6M85.7,960.7h0.6M99.0,954.8h0.6M78.9,970.9h0.6M111.1,957.0h0.6M82.2,964.6h0.6M116.3,958.9h0.6M83.0,974.3h0.6M118.7,969.8h0.6M96.3,954.5h0.6M84.7,962.7h0.6M83.2,962.6h0.6M119.2,971.1h0.6M81.6,969.3h0.6M92.8,957.6h0.6M82.1,967.6h0.6M85.4,976.5h0.6M103.3,980.6h0.6M120.5,962.8h0.6M82.1,975.6h0.6M106.0,954.8h0.6M82.6,964.6h0.6M103.9,956.2h0.6M117.6,975.9h0.6M119.4,965.7h0.6M91.5,980.4h0.6M107.2,955.2h0.6M83.2,963.3h0.6M122.0,969.4h0.6M93.5,981.1h0.6M118.8,964.1h0.6M96.1,978.8h0.6M116.8,960.3h0.6M109.8,955.8h0.6M113.6,980.3h0.6M106.8,978.0h0.6M113.5,958.0h0.6M96.2,956.8h0.6M93.2,980.3h0.6M94.3,956.0h0.6M116.2,976.5h0.6M82.5,973.4h0.6M94.6,978.9h0.6M94.5,957.1h0.6M103.0,979.1h0.6M89.7,958.8h0.6M88.7,958.4h0.6M114.0,958.1h0.6M94.9,980.1h0.6M98.0,979.5h0.6M84.8,958.5h0.6M81.3,974.2h0.6M81.7,967.4h0.6M84.8,962.6h0.6M97.3,978.8h0.6M119.4,972.7h0.6M101.9,980.4h0.6M97.8,979.5h0.6M114.3,959.2h0.6M82.9,972.0h0.6M98.9,954.6h0.6M79.4,969.7h0.6M110.3,978.5h0.6M88.5,978.2h0.6M79.4,968.3h0.6M80.5,969.1h0.6M79.9,968.0h0.6M120.4,961.5h0.6M111.2,977.0h0.6M83.4,973.5h0.6M104.2,954.5h0.6M103.0,979.2h0.6M83.7,963.8h0.6M79.7,969.7h0.6M94.9,956.9h0.6M82.7,964.2h0.6M113.0,976.7h0.6M83.9,973.7h0.6M83.5,973.3h0.6M121.2,971.7h0.6M81.2,966.3h0.6M103.7,956.4h0.6M94.1,979.1h0.6M120.6,968.9h0.6M82.0,967.6h0.6M118.4,972.6h0.6M100.7,979.3h0.6M113.0,977.7h0.6M103.4,955.4h0.6M88.7,977.5h0.6M105.1,978.3h0.6M82.1,970.1h0.6M100.3,955.8h0.6M83.1,972.4h0.6M98.3,955.8h0.6M114.2,958.6h0.6M95.5,979.5h0.6M84.3,974.4h0.6M118.5,965.5h0.6M104.0,980.1h0.6M100.9,979.5h0.6M82.5,972.1h0.6M117.9,960.7h0.6M118.5,964.4h0.6M85.7,975.6h0.6M90.8,978.1h0.6M92.3,957.0h0.6M115.3,957.4h0.6M110.3,956.1h0.6M105.7,979.2h0.6M90.2,978.2h0.6M111.7,977.3h0.6M81.6,971.9h0.6M93.0,981.9h0.6M90.5,957.5h0.6M112.1,957.0h0.6M118.5,971.2h0.6M98.3,979.5h0.6M99.8,978.8h0.6M84.8,977.1h0.6M99.0,979.6h0.6M87.9,978.5h0.6M87.5,979.1h0.6M100.8,956.0h0.6M122.6,967.1h0.6M118.6,972.1h0.6M101.4,955.8h0.6M80.4,968.1h0.6M102.6,978.8h0.6M120.8,968.8h0.6M120.1,968.1h0.6M80.7,966.2h0.6M100.0,980.1h0.6M96.1,956.7h0.6M106.5,978.2h0.6M97.7,979.0h0.6M85.9,977.0h0.6M112.1,957.4h0.6M90.9,977.8h0.6M119.9,967.5h0.6M106.5,954.9h0.6M90.4,958.7h0.6M117.6,959.6h0.6M88.2,957.3h0.6M103.1,979.0h0.6M86.0,960.0h0.6M86.0,976.4h0.6M119.2,970.3h0.6M82.0,969.6h0.6M85.2,975.9h0.6M81.2,971.4h0.6M102.6,979.9h0.6M117.7,972.8h0.6M113.8,977.1h0.6M82.6,965.7h0.6M86.6,976.1h0.6M88.1,978.0h0.6M120.0,969.9h0.6M82.6,971.5h0.6M92.9,978.2h0.6M90.5,977.9h0.6M114.7,958.4h0.6M89.9,958.5h0.6M84.4,961.0h0.6M119.9,962.0h0.6M118.7,961.3h0.6M85.1,960.8h0.6M98.1,979.4h0.6M108.7,955.7h0.6M115.6,959.7h0.6M81.5,969.0h0.6M119.9,963.8h0.6M103.8,978.9h0.6M91.5,958.4h0.6M82.4,966.3h0.6M86.6,975.9h0.6M87.3,958.8h0.6M81.0,965.9h0.6M109.2,955.4h0.6M90.6,977.9h0.6M115.3,957.4h0.6M92.3,956.8h0.6M109.4,953.7h0.6M80.1,970.3h0.6M82.2,964.8h0.6M98.8,955.9h0.6M82.2,967.0h0.6M92.4,979.1h0.6M109.5,977.2h0.6M118.1,970.4h0.6M93.5,956.7h0.6M101.6,955.6h0.6M80.5,971.1h0.6M114.3,956.2h0.6M81.6,968.9h0.6M104.7,955.1h0.6M101.1,979.8h0.6M95.0,956.8h0.6M100.0,955.6h0.6M110.5,955.8h0.6M84.3,974.7h0.6M109.1,955.5h0.6M87.4,977.0h0.6M90.3,958.8h0.6M122.3,966.6h0.6M121.2,963.0h0.6M83.2,975.3h0.6M84.7,959.4h0.6M122.7,964.3h0.6M115.7,974.4h0.6M96.8,956.6h0.6M120.1,965.1h0.6M120.5,967.7h0.6M87.5,977.3h0.6M110.3,955.4h0.6M84.7,960.9h0.6M100.8,955.3h0.6M92.8,957.7h0.6M82.2,966.2h0.6M111.1,978.5h0.6M101.2,980.3h0.6M81.1,970.4h0.6M119.9,967.1h0.6M86.3,960.9h0.6M98.5,979.0h0.6M87.7,978.1h0.6M100.1,979.1h0.6M113.8,959.1h0.6M111.2,979.9h0.6M106.7,978.0h0.6M112.6,957.2h0.6M105.6,956.1h0.6M81.3,965.7h0.6M97.9,980.1h0.6M123.1,959.4h0.6M82.3,973.6h0.6M110.9,978.4h0.6M115.2,974.3h0.6M99.4,956.1h0.6M94.4,978.7h0.6M105.6,977.9h0.6M119.4,962.5h0.6M106.7,954.8h0.6M85.4,976.1h0.6M101.2,954.4h0.6M123.6,963.9h0.6M85.8,975.6h0.6M117.3,958.8h0.6M103.8,978.5h0.6M85.8,977.0h0.6M106.8,954.7h0.6M89.0,978.5h0.6M97.7,979.6h0.6M117.5,972.8h0.6M106.3,979.3h0.6M98.0,955.1h0.6M109.7,977.4h0.6M90.1,977.9h0.6M82.4,974.6h0.6M85.9,975.4h0.6M91.6,980.9h0.6M106.6,978.3h0.6M114.9,957.0h0.6M116.4,973.8h0.6M119.1,962.8h0.6M93.9,957.1h0.6M90.5,957.8h0.6M118.0,961.9h0.6M89.2,977.9h0.6M87.3,960.5h0.6M87.4,976.9h0.6M85.2,961.3h0.6M115.4,957.5h0.6M81.3,969.1h0.6M109.0,956.7h0.6M89.0,958.1h0.6M84.1,974.9h0.6M84.2,962.3h0.6M83.1,964.3h0.6M86.8,960.9h0.6M81.6,973.5h0.6M118.0,960.6h0.6M119.8,965.1h0.6M97.3,955.8h0.6M122.6,964.4h0.6M115.1,975.0h0.6M103.2,979.2h0.6M119.4,960.6h0.6M79.2,968.8h0.6M122.6,964.8h0.6M94.7,957.3h0.6M80.1,973.4h0.6M81.6,966.8h0.6M97.8,979.3h0.6M86.7,959.2h0.6M103.4,955.8h0.6M82.1,970.1h0.6M112.2,955.9h0.6M116.4,958.9h0.6M88.4,977.6h0.6M116.9,973.2h0.6M111.8,957.5h0.6M110.7,979.2h0.6M85.6,961.3h0.6M118.9,964.8h0.6M113.9,957.3h0.6M89.7,958.3h0.6M82.8,974.5h0.6M93.9,978.5h0.6M86.6,960.6h0.6M92.0,956.5h0.6M110.4,978.7h0.6M82.2,971.8h0.6M118.0,961.4h0.6M108.4,979.3h0.6M97.4,956.7h0.6M89.1,977.6h0.6M113.7,976.5h0.6M107.8,955.2h0.6M81.0,969.0h0.6M119.7,960.9h0.6M103.1,979.2h0.6M112.7,957.7h0.6M89.4,956.8h0.6M81.6,972.9h0.6M98.2,956.2h0.6M84.5,962.3h0.6M84.8,974.6h0.6M97.1,981.4h0.6M96.0,979.7h0.6M92.7,957.5h0.6M84.4,975.4h0.6M114.3,975.2h0.6M83.3,975.2h0.6M112.2,955.2h0.6M116.8,973.1h0.6M88.9,977.4h0.6M87.9,976.9h0.6M89.7,979.3h0.6M114.2,959.3h0.6M86.0,960.0h0.6M82.5,971.9h0.6M93.5,979.1h0.6M124.2,962.3h0.6M85.9,976.2h0.6M109.1,954.9h0.6M120.6,965.4h0.6M85.6,975.8h0.6M119.4,964.9h0.6M114.6,976.6h0.6M118.8,972.2h0.6M84.7,960.4h0.6M98.1,956.6h0.6M96.2,954.9h0.6M102.1,955.5h0.6M121.8,966.8h0.6M117.3,957.3h0.6M82.1,966.9h0.6M79.9,967.0h0.6M94.9,979.9h0.6M80.4,969.0h0.6M115.6,975.6h0.6M96.0,979.4h0.6M102.1,956.4h0.6M119.5,969.8h0.6M81.1,965.1h0.6M82.5,972.3h0.6M111.4,956.0h0.6M78.2,967.7h0.6M83.6,976.4h0.6M119.8,962.8h0.6M111.9,976.2h0.6M94.1,955.7h0.6M111.3,976.0h0.6M118.8,974.9h0.6M87.8,960.0h0.6M84.7,974.9h0.6M117.2,971.4h0.6M117.4,959.7h0.6M86.9,958.0h0.6M80.6,964.2h0.6M80.6,969.5h0.6M95.4,979.3h0.6M97.8,956.7h0.6M82.8,974.6h0.6M81.3,971.2h0.6M81.9,973.1h0.6M118.3,969.3h0.6M80.5,967.4h0.6M104.4,978.5h0.6M117.1,973.1h0.6M82.0,970.6h0.6M79.3,970.7h0.6M124.2,966.0h0.6M124.1,965.9h0.6M88.1,977.8h0.6M95.2,979.3h0.6M84.4,961.6h0.6M81.3,969.7h0.6M82.1,968.3h0.6M116.2,972.3h0.6M104.4,955.6h0.6M83.5,974.6h0.6M96.9,979.6h0.6M89.3,956.1h0.6M109.4,955.2h0.6M107.4,955.7h0.6M119.8,970.1h0.6M86.2,960.9h0.6M80.5,965.5h0.6M121.5,967.3h0.6M82.7,963.6h0.6M119.8,966.1h0.6M89.5,956.3h0.6M117.3,971.1h0.6M99.1,955.4h0.6M86.7,977.5h0.6M115.4,974.3h0.6M121.2,971.6h0.6M88.8,957.9h0.6M81.9,966.0h0.6M94.3,978.9h0.6M121.8,961.3h0.6M106.1,979.0h0.6M110.3,955.4h0.6M80.1,971.8h0.6M120.1,968.0h0.6M89.9,957.7h0.6M92.0,957.5h0.6M87.0,976.2h0.6M98.0,956.2h0.6M110.9,977.0h0.6M90.3,978.2h0.6M83.1,962.8h0.6M80.3,968.0h0.6M110.4,955.8h0.6M80.6,971.1h0.6M121.1,963.9h0.6M103.1,978.5h0.6M80.9,963.6h0.6M100.5,980.6h0.6M87.1,977.2h0.6M94.6,955.9h0.6M82.0,965.1h0.6M120.2,963.6h0.6M81.9,970.4h0.6M118.5,973.9h0.6M121.8,968.4h0.6M80.5,965.6h0.6M91.0,979.6h0.6M100.8,954.2h0.6M106.4,954.1h0.6M104.9,978.5h0.6M83.8,961.3h0.6M115.6,974.7h0.6M116.7,958.1h0.6M87.5,978.6h0.6M96.4,979.3h0.6M111.3,957.1h0.6M101.4,980.0h0.6M100.8,978.8h0.6M96.4,978.7h0.6M81.4,970.6h0.6M98.6,979.0h0.6M80.7,968.9h0.6M114.8,956.2h0.6M111.9,956.2h0.6M96.8,955.2h0.6M115.9,960.4h0.6M120.0,969.9h0.6M103.3,956.0h0.6M103.3,979.4h0.6M96.6,956.6h0.6M118.8,961.3h0.6M90.3,977.9h0.6M119.9,975.3h0.6M118.2,971.1h0.6M82.7,964.8h0.6M115.3,974.4h0.6M113.9,956.7h0.6M119.4,971.0h0.6M121.9,963.9h0.6M103.0,956.0h0.6M82.1,967.5h0.6M109.2,978.0h0.6M81.2,969.6h0.6M82.8,975.7h0.6M80.5,970.7h0.6M81.9,965.3h0.6M118.8,963.7h0.6M95.2,979.5h0.6M121.8,959.8h0.6M118.1,959.9h0.6M123.4,967.1h0.6M91.9,958.1h0.6M83.2,960.8h0.6M121.9,973.3h0.6M120.8,968.1h0.6M119.7,962.2h0.6M108.1,956.6h0.6M82.0,963.4h0.6M99.8,956.5h0.6M118.0,970.7h0.6M110.8,953.7h0.6M90.3,978.2h0.6M119.4,966.8h0.6M82.7,963.1h0.6M90.8,958.5h0.6M82.8,972.5h0.6M111.4,978.9h0.6M81.3,971.0h0.6M102.9,956.0h0.6M88.3,959.0h0.6M100.0,979.6h0.6M112.6,958.3h0.6M95.1,979.4h0.6M92.3,978.4h0.6M104.0,954.8h0.6M79.7,966.4h0.6M102.0,979.5h0.6M106.0,980.8h0.6M86.7,978.3h0.6M87.1,979.9h0.6M85.1,977.6h0.6M115.1,976.0h0.6M91.4,978.2h0.6M96.7,979.8h0.6M84.4,963.0h0.6M107.9,954.5h0.6M87.6,976.5h0.6M118.2,970.5h0.6M107.2,979.6h0.6M120.5,959.6h0.6M115.2,976.8h0.6M109.8,980.4h0.6M114.5,957.6h0.6M79.1,973.7h0.6M87.7,977.3h0.6M118.0,961.2h0.6M90.4,977.9h0.6M118.8,969.4h0.6M115.7,974.9h0.6M83.1,964.7h0.6M119.6,961.4h0.6M118.0,971.4h0.6M118.8,959.5h0.6M92.4,978.1h0.6M82.5,964.5h0.6M122.6,962.9h0.6M110.2,956.6h0.6M117.1,961.9h0.6M100.4,956.4h0.6M85.4,976.0h0.6M109.7,976.7h0.6M119.8,967.1h0.6M78.9,969.8h0.6M88.2,959.1h0.6M118.5,966.8h0.6M100.0,979.0h0.6M85.1,961.0h0.6M85.4,960.6h0.6M92.9,979.8h0.6M81.2,963.2h0.6M83.4,975.4h0.6M91.9,978.4h0.6M118.2,958.8h0.6M110.8,956.9h0.6M80.6,968.9h0.6M109.8,976.6h0.6M82.8,963.3h0.6M112.0,976.7h0.6M117.1,972.9h0.6M79.0,964.7h0.6M82.0,968.4h0.6M86.4,977.6h0.6M99.0,978.8h0.6M82.3,964.0h0.6M118.7,972.8h0.6M87.9,960.2h0.6M119.5,963.4h0.6M117.4,972.0h0.6M108.3,956.2h0.6M115.7,958.9h0.6M80.9,965.3h0.6M81.7,970.7h0.6M96.4,979.5h0.6M90.3,978.8h0.6M108.4,979.3h0.6M106.2,953.9h0.6M91.6,957.7h0.6M106.6,954.8h0.6M106.7,955.9h0.6M117.9,959.5h0.6M90.9,978.0h0.6M104.3,954.6h0.6M118.6,960.4h0.6M89.9,958.7h0.6M117.9,974.5h0.6M94.1,979.2h0.6M99.9,954.9h0.6M119.1,964.6h0.6M95.7,954.9h0.6M101.2,955.6h0.6M103.2,955.4h0.6M119.1,961.2h0.6M86.2,977.1h0.6M89.5,978.1h0.6M104.2,956.4h0.6M103.9,979.4h0.6M91.9,956.4h0.6M81.5,968.3h0.6M109.2,978.5h0.6M120.0,960.8h0.6M118.5,958.4h0.6M82.8,959.9h0.6M118.8,962.9h0.6M97.6,980.1h0.6M119.4,968.3h0.6M80.9,971.6h0.6M98.4,956.6h0.6M82.8,963.6h0.6M102.2,978.7h0.6M119.1,969.6h0.6M119.4,961.6h0.6M84.6,975.8h0.6M103.5,981.2h0.6M116.0,975.0h0.6M100.4,955.8h0.6M80.2,965.2h0.6M116.8,958.3h0.6M121.3,965.3h0.6M100.8,956.3h0.6M120.1,970.1h0.6M98.6,979.1h0.6M92.5,980.1h0.6M101.0,955.4h0.6M80.9,972.9h0.6M82.7,974.3h0.6M118.6,962.3h0.6M117.4,970.9h0.6M81.4,974.4h0.6M115.6,975.4h0.6M98.1,955.3h0.6M90.9,957.6h0.6M83.8,960.7h0.6M115.1,975.2h0.6M120.1,966.9h0.6M81.9,971.7h0.6M118.4,974.2h0.6M80.9,970.5h0.6M119.6,964.4h0.6M104.7,978.7h0.6M112.4,957.1h0.6M85.5,976.1h0.6M103.8,955.9h0.6M93.8,956.5h0.6M83.5,973.7h0.6M82.3,972.8h0.6M83.5,975.9h0.6M95.1,978.8h0.6M80.6,971.6h0.6M113.8,957.7h0.6M116.6,958.0h0.6M85.0,976.1h0.6M95.4,980.3h0.6M95.5,955.5h0.6M89.9,958.5h0.6M83.4,973.9h0.6M101.4,955.8h0.6M80.8,966.6h0.6M94.7,957.2h0.6M122.1,966.8h0.6M100.1,979.3h0.6M85.7,976.0h0.6M122.4,964.8h0.6M121.3,970.5h0.6M110.0,955.4h0.6M94.7,957.2h0.6M81.0,963.3h0.6M101.1,979.0h0.6M80.3,966.1h0.6M121.9,964.3h0.6M92.7,978.6h0.6M98.0,981.5h0.6M81.3,964.4h0.6M111.4,977.5h0.6M88.3,957.8h0.6M96.7,979.1h0.6M114.0,976.5h0.6M81.0,967.3h0.6M123.6,964.4h0.6M90.2,977.5h0.6M95.4,979.1h0.6M92.1,957.3h0.6M85.6,978.0h0.6M98.4,979.7h0.6M121.3,967.5h0.6M113.6,976.7h0.6M119.1,960.3h0.6M116.8,974.9h0.6M97.5,955.7h0.6M99.5,980.5h0.6M119.4,967.8h0.6M106.5,979.7h0.6M93.7,957.3h0.6M113.6,957.7h0.6M93.4,979.7h0.6M82.9,973.5h0.6M83.7,961.3h0.6M119.2,964.7h0.6M84.1,960.4h0.6M89.4,980.0h0.6M81.0,974.3h0.6M116.6,959.7h0.6M89.4,978.0h0.6M93.9,957.0h0.6M114.3,956.4h0.6M103.9,979.3h0.6M94.8,955.6h0.6M118.9,970.4h0.6M82.3,963.2h0.6M117.3,972.9h0.6M122.5,964.0h0.6M117.6,970.2h0.6M92.9,957.4h0.6M89.5,958.3h0.6M92.7,957.3h0.6M96.5,979.9h0.6M82.0,965.0h0.6M101.4,979.4h0.6M96.5,978.7h0.6M94.4,978.7h0.6M84.4,963.1h0.6M110.8,956.0h0.6M94.2,978.7h0.6M114.6,958.0h0.6M89.0,958.9h0.6M83.7,975.7h0.6M85.5,977.0h0.6M82.2,967.4h0.6M81.4,967.1h0.6M105.0,980.4h0.6M118.6,967.3h0.6M104.4,955.8h0.6M108.9,978.8h0.6M90.6,956.9h0.6M92.6,957.9h0.6M84.9,976.6h0.6M78.8,965.3h0.6M118.6,958.9h0.6M101.6,979.0h0.6M120.1,963.3h0.6M94.1,979.4h0.6M123.8,964.3h0.6M121.6,966.6h0.6M86.8,959.7h0.6M118.9,975.0h0.6M83.9,973.7h0.6M81.8,963.2h0.6M111.8,978.8h0.6M90.7,958.4h0.6M80.6,966.2h0.6M90.7,979.3h0.6M119.7,967.0h0.6M105.9,979.5h0.6M118.1,971.1h0.6M118.1,962.7h0.6M87.4,960.3h0.6M95.4,955.0h0.6M99.9,956.2h0.6M104.4,956.4h0.6M112.7,975.2h0.6M113.3,978.5h0.6M93.2,978.4h0.6M110.5,979.5h0.6M119.5,960.3h0.6M87.1,976.7h0.6M108.1,955.5h0.6M110.4,979.6h0.6M102.4,978.9h0.6M88.9,956.6h0.6M118.4,970.6h0.6M96.4,979.7h0.6M121.1,963.8h0.6M85.9,977.4h0.6M95.2,956.8h0.6M82.2,970.0h0.6M87.0,976.6h0.6M119.5,967.8h0.6M92.3,978.2h0.6M115.1,977.6h0.6M109.7,977.9h0.6M100.8,955.7h0.6M108.0,977.5h0.6M112.2,957.2h0.6M82.5,971.6h0.6M111.2,955.2h0.6M100.2,956.4h0.6M107.7,956.3h0.6M121.7,968.6h0.6M87.2,976.7h0.6M119.8,972.7h0.6M84.6,962.4h0.6M114.9,973.6h0.6M116.0,974.0h0.6M111.8,978.0h0.6M86.8,977.6h0.6M113.3,976.6h0.6M86.7,976.4h0.6M85.8,961.6h0.6M107.5,977.5h0.6M114.7,958.0h0.6M81.6,966.4h0.6M87.2,976.5h0.6M93.7,956.3h0.6M117.2,958.7h0.6M96.3,978.9h0.6M99.0,956.2h0.6M118.5,959.7h0.6M111.0,956.7h0.6M118.8,964.2h0.6M87.1,979.1h0.6M82.1,961.1h0.6M82.8,963.9h0.6M115.8,957.5h0.6M88.6,959.0h0.6M85.8,975.5h0.6M81.1,964.6h0.6M120.1,970.6h0.6M92.7,978.9h0.6M84.8,961.9h0.6M112.2,956.2h0.6M88.9,977.1h0.6M92.3,957.2h0.6M108.6,980.0h0.6M118.7,965.8h0.6M92.6,978.2h0.6M98.1,980.4h0.6M117.4,970.4h0.6M81.1,970.9h0.6M95.3,955.5h0.6M82.0,975.7h0.6M93.2,979.1h0.6M97.9,956.1h0.6M82.5,972.0h0.6M102.8,955.8h0.6M120.1,962.9h0.6M111.7,977.1h0.6M109.5,978.1h0.6M90.6,958.3h0.6M116.9,973.0h0.6M107.7,956.2h0.6M111.8,956.4h0.6M87.5,959.9h0.6M118.4,967.6h0.6M112.1,977.3h0.6M116.6,975.9h0.6M90.0,978.9h0.6M96.2,955.8h0.6M114.8,957.5h0.6M114.5,955.0h0.6M97.0,979.0h0.6M80.2,972.1h0.6M119.7,966.5h0.6M83.2,961.9h0.6M118.7,970.1h0.6M90.8,957.4h0.6M119.6,964.9h0.6M80.0,973.2h0.6M86.5,975.9h0.6M117.0,960.0h0.6M78.0,971.6h0.6M123.6,969.5h0.6M91.0,958.2h0.6M113.0,976.6h0.6M84.9,962.4h0.6M95.7,979.9h0.6M88.2,977.5h0.6M120.2,966.5h0.6M115.5,975.9h0.6M98.7,954.8h0.6M118.5,970.5h0.6M83.1,973.1h0.6M116.9,961.3h0.6M102.5,955.9h0.6M117.2,974.1h0.6M80.1,972.0h0.6M106.6,978.8h0.6M120.3,969.2h0.6M95.2,979.3h0.6M87.6,959.8h0.6M121.9,971.9h0.6M85.1,961.1h0.6M116.4,958.6h0.6M81.6,969.2h0.6M116.1,977.1h0.6M112.3,957.1h0.6M93.2,979.3h0.6M100.0,954.9h0.6M90.6,979.4h0.6M96.2,956.1h0.6M82.3,972.0h0.6M110.5,977.0h0.6M86.9,959.2h0.6M88.6,977.5h0.6M119.1,963.8h0.6M93.6,957.3h0.6M82.8,962.1h0.6M83.8,961.4h0.6M113.6,957.5h0.6M87.6,959.2h0.6M88.1,977.7h0.6M87.7,959.4h0.6M110.5,956.4h0.6M111.3,955.0h0.6M101.2,979.7h0.6M93.0,980.0h0.6M117.4,959.9h0.6M116.5,974.7h0.6M115.6,957.9h0.6M100.0,956.0h0.6M104.2,979.0h0.6M81.4,971.4h0.6M106.7,977.9h0.6M97.8,979.9h0.6M96.2,955.4h0.6M105.1,956.0h0.6M116.6,975.0h0.6M83.8,961.9h0.6M121.0,966.7h0.6M92.8,979.5h0.6M89.9,977.7h0.6M122.7,962.8h0.6M112.2,957.6h0.6M106.3,954.8h0.6M117.5,973.1h0.6M112.5,976.9h0.6M116.5,957.9h0.6M86.2,958.6h0.6M90.1,958.6h0.6M112.1,976.8h0.6M81.5,968.3h0.6M80.8,964.1h0.6M103.4,956.2h0.6M113.0,975.9h0.6M118.1,962.8h0.6M81.0,972.2h0.6M82.6,964.8h0.6M90.9,979.9h0.6M109.4,957.4h0.6M79.5,965.8h0.6M119.1,971.0h0.6M81.7,962.4h0.6M89.1,958.0h0.6M106.8,978.3h0.6M82.8,972.0h0.6M117.6,974.1h0.6M81.4,967.1h0.6M79.1,962.6h0.6M108.7,956.8h0.6M108.0,956.0h0.6M99.7,956.4h0.6M107.1,955.9h0.6M115.2,974.4h0.6M116.0,958.5h0.6M114.7,974.9h0.6M88.1,959.6h0.6M81.2,974.5h0.6M81.5,972.7h0.6M82.8,972.5h0.6M91.8,958.0h0.6M81.8,964.5h0.6M113.4,976.1h0.6M89.1,977.7h0.6M84.4,974.2h0.6M117.0,961.8h0.6M93.4,979.1h0.6M115.1,976.2h0.6M86.3,977.3h0.6M109.3,976.9h0.6M100.7,956.2h0.6M104.1,954.7h0.6M117.8,972.0h0.6M101.1,956.4h0.6M81.8,973.0h0.6M88.2,979.2h0.6M99.9,979.1h0.6M106.7,954.8h0.6M118.5,962.7h0.6M121.5,964.7h0.6M115.5,974.7h0.6M109.4,956.5h0.6M116.0,958.3h0.6M119.0,969.5h0.6M83.0,975.4h0.6M107.4,955.7h0.6M96.8,956.5h0.6M91.3,977.9h0.6M119.7,969.6h0.6M85.3,976.1h0.6M83.1,964.9h0.6M90.7,958.5h0.6M91.0,979.0h0.6M98.9,978.8h0.6M119.1,969.6h0.6M116.2,974.3h0.6M120.3,967.1h0.6M83.3,973.2h0.6M115.6,972.9h0.6M79.9,970.2h0.6M91.0,977.8h0.6M104.2,955.2h0.6M110.1,955.0h0.6M89.7,957.5h0.6M83.3,963.8h0.6M80.7,967.6h0.6M120.6,969.8h0.6M82.7,962.0h0.6M116.6,959.0h0.6M87.5,977.2h0.6M82.8,965.0h0.6M113.2,975.9h0.6M97.2,956.0h0.6M122.0,966.0h0.6M114.5,957.1h0.6M118.2,971.8h0.6M121.5,970.6h0.6M120.1,968.2h0.6M117.4,973.7h0.6M116.6,975.5h0.6M90.4,958.5h0.6M116.5,973.9h0.6M80.4,971.7h0.6M120.0,960.6h0.6M108.4,956.0h0.6M81.7,972.4h0.6M87.2,959.5h0.6M119.1,965.1h0.6M116.6,972.3h0.6M110.8,955.1h0.6M102.1,978.7h0.6M103.3,955.7h0.6M119.1,974.1h0.6M95.0,956.6h0.6M82.5,971.3h0.6M79.0,969.0h0.6M98.6,980.4h0.6M92.8,978.5h0.6M85.7,959.1h0.6M106.6,980.1h0.6M104.8,980.8h0.6M117.9,960.0h0.6M108.2,954.8h0.6M96.9,956.7h0.6M108.7,956.8h0.6M119.0,970.3h0.6M115.1,958.4h0.6M90.3,957.9h0.6M87.3,978.2h0.6M85.3,958.8h0.6M95.7,956.1h0.6M105.3,955.7h0.6M82.4,972.9h0.6M117.7,974.3h0.6M101.8,978.6h0.6M103.9,978.5h0.6M92.3,956.8h0.6M115.2,960.1h0.6M113.8,956.2h0.6M85.0,961.4h0.6M118.2,971.0h0.6M91.3,958.1h0.6M117.2,959.0h0.6M106.6,954.3h0.6M118.3,965.1h0.6M84.0,960.9h0.6M83.5,960.9h0.6M87.1,978.9h0.6M86.5,961.1h0.6M122.4,964.1h0.6M101.7,955.2h0.6M114.0,959.4h0.6M92.8,978.3h0.6M89.3,978.6h0.6M98.4,978.8h0.6M92.0,957.3h0.6M85.9,976.2h0.6M115.5,975.0h0.6M106.4,952.8h0.6M107.7,978.2h0.6M122.4,966.6h0.6M96.1,980.1h0.6M99.4,978.9h0.6M80.8,966.9h0.6M97.2,979.2h0.6M107.2,955.2h0.6M82.9,962.4h0.6M121.1,970.1h0.6M111.1,954.6h0.6M112.1,976.8h0.6M84.3,962.0h0.6M114.6,975.6h0.6M99.0,979.9h0.6M117.6,970.8h0.6M105.1,978.8h0.6M95.0,979.4h0.6M89.4,958.6h0.6M117.5,958.2h0.6M117.8,959.7h0.6M116.7,972.2h0.6M116.3,972.9h0.6M95.3,957.1h0.6M103.9,956.5h0.6M121.3,970.6h0.6M81.8,969.7h0.6M93.4,957.6h0.6M122.4,968.8h0.6M90.2,957.4h0.6M93.0,956.5h0.6M92.4,978.3h0.6M83.3,975.8h0.6M81.9,967.6h0.6M115.3,957.7h0.6M87.3,978.3h0.6M109.7,979.7h0.6M99.1,955.1h0.6M117.6,970.2h0.6M85.3,961.7h0.6M85.3,960.7h0.6M103.2,978.6h0.6M104.5,978.3h0.6M81.8,969.9h0.6M82.3,975.7h0.6M93.0,980.5h0.6M107.9,956.4h0.6M122.7,967.9h0.6M118.9,969.5h0.6M91.5,957.3h0.6M102.1,980.1h0.6M113.8,977.9h0.6M116.1,960.6h0.6M88.3,977.2h0.6M96.0,978.9h0.6M119.9,968.9h0.6M117.7,971.8h0.6M82.4,974.4h0.6M117.4,973.0h0.6M83.6,973.3h0.6M106.4,954.8h0.6M102.1,980.1h0.6M121.9,965.7h0.6M94.9,956.8h0.6M118.1,961.9h0.6M107.4,978.4h0.6M80.5,965.4h0.6M83.8,975.3h0.6M122.9,969.8h0.6M110.9,956.3h0.6M121.4,964.2h0.6M116.6,961.9h0.6M116.6,975.7h0.6M84.6,961.9h0.6M87.9,960.1h0.6M114.8,976.0h0.6M87.4,959.6h0.6M115.1,976.2h0.6M81.3,970.1h0.6M121.5,967.8h0.6M106.8,954.1h0.6M110.1,954.9h0.6M105.1,978.2h0.6M100.6,956.1h0.6M81.1,971.5h0.6M84.1,973.9h0.6M113.5,956.4h0.6M113.9,957.9h0.6M84.0,960.7h0.6M118.7,962.1h0.6M83.3,964.6h0.6M117.8,970.5h0.6M84.0,975.1h0.6M112.5,955.4h0.6M118.3,969.8h0.6M83.8,976.1h0.6M112.5,975.5h0.6M115.8,974.7h0.6M114.7,976.0h0.6M112.1,957.5h0.6M98.1,979.6h0.6M87.0,959.1h0.6M86.4,960.2h0.6M83.9,974.0h0.6M110.7,955.8h0.6M100.1,980.1h0.6M85.0,975.4h0.6M117.1,960.9h0.6M121.8,966.8h0.6M112.0,958.2h0.6M83.6,964.1h0.6M116.9,959.2h0.6M84.1,961.7h0.6M96.7,978.8h0.6M113.3,956.9h0.6M89.1,979.7h0.6M118.7,962.3h0.6M88.2,959.8h0.6M119.4,968.7h0.6M116.1,972.9h0.6M99.5,955.9h0.6M98.4,980.5h0.6M109.9,953.9h0.6M81.5,961.1h0.6M118.9,960.5h0.6M92.4,979.3h0.6M101.7,979.6h0.6M86.7,959.4h0.6M104.5,979.5h0.6M120.5,967.8h0.6M110.8,956.0h0.6M83.1,961.4h0.6M82.0,965.3h0.6M82.7,965.7h0.6M83.0,973.7h0.6M114.3,958.1h0.6M81.7,963.8h0.6M109.1,976.9h0.6M103.8,978.7h0.6M97.9,979.0h0.6M118.3,971.7h0.6M87.9,960.0h0.6M83.7,962.1h0.6M84.5,961.3h0.6M95.5,980.4h0.6M105.2,978.3h0.6M96.4,954.3h0.6M84.0,960.7h0.6M82.5,966.0h0.6M87.4,977.5h0.6M83.9,973.9h0.6M111.4,980.7h0.6M80.7,969.9h0.6M120.3,965.2h0.6M118.4,972.4h0.6M94.9,955.8h0.6M82.1,974.3h0.6M97.9,955.4h0.6M81.1,965.9h0.6M89.8,958.6h0.6M90.8,958.4h0.6M92.4,955.1h0.6M80.3,971.1h0.6M111.1,977.1h0.6M111.0,976.9h0.6M94.5,956.7h0.6M122.5,965.1h0.6M123.3,965.8h0.6M82.9,973.0h0.6M86.9,959.9h0.6M89.7,977.5h0.6M83.2,973.5h0.6M81.8,966.6h0.6M79.7,972.0h0.6M84.0,962.3h0.6M92.2,979.7h0.6M98.8,979.2h0.6M82.2,966.1h0.6M88.2,959.7h0.6M82.0,970.3h0.6M103.4,979.0h0.6M82.0,974.2h0.6M98.8,979.5h0.6M83.8,960.3h0.6M105.3,956.1h0.6M77.7,965.8h0.6M91.9,978.1h0.6M81.4,974.5h0.6M91.8,958.2h0.6M99.5,981.0h0.6M113.1,957.2h0.6M81.6,963.6h0.6M82.7,965.1h0.6M117.5,962.3h0.6M118.6,964.9h0.6M106.7,956.6h0.6M111.0,978.5h0.6M118.4,967.2h0.6M119.8,969.8h0.6M121.9,962.7h0.6M82.4,962.6h0.6M102.5,979.4h0.6M87.8,977.2h0.6M116.5,960.5h0.6M82.1,970.0h0.6M105.8,955.2h0.6M116.7,972.3h0.6M81.6,969.1h0.6M91.8,957.4h0.6M84.1,963.5h0.6M89.4,981.5h0.6M120.6,965.3h0.6M110.6,978.4h0.6M115.8,973.1h0.6M82.0,966.4h0.6M101.0,955.6h0.6M82.0,973.4h0.6M121.4,965.0h0.6M81.0,966.7h0.6M93.2,956.6h0.6M101.6,980.3h0.6M102.5,956.0h0.6M81.5,968.9h0.6M109.1,978.0h0.6M120.4,960.8h0.6M120.0,961.0h0.6M81.5,970.0h0.6M89.1,959.1h0.6M117.0,960.1h0.6M81.1,967.6h0.6M101.7,955.5h0.6M120.5,966.1h0.6M112.7,975.9h0.6M85.9,975.4h0.6M82.1,974.7h0.6M90.5,956.8h0.6M81.3,965.7h0.6M116.2,973.4h0.6M95.4,979.9h0.6M97.7,956.3h0.6M111.7,976.3h0.6M104.4,978.3h0.6M115.9,959.3h0.6M118.7,966.6h0.6M120.3,969.2h0.6M103.2,978.8h0.6M102.3,956.3h0.6M80.8,968.9h0.6M105.4,954.8h0.6M108.9,977.8h0.6M80.5,967.7h0.6M86.7,960.0h0.6M82.1,964.8h0.6M111.2,954.8h0.6M119.8,964.5h0.6M91.3,956.5h0.6M82.7,965.7h0.6M89.1,958.8h0.6M101.5,979.7h0.6M84.1,961.7h0.6M84.3,974.0h0.6M92.6,956.9h0.6M114.2,958.1h0.6M81.3,973.5h0.6M99.6,955.8h0.6M101.0,955.8h0.6M121.7,963.0h0.6M88.4,959.4h0.6M93.8,979.0h0.6M81.3,965.2h0.6M82.0,968.0h0.6M98.0,978.9h0.6M81.6,971.2h0.6M116.5,958.5h0.6M97.8,979.1h0.6M119.0,967.1h0.6M95.2,980.2h0.6M107.7,956.0h0.6M81.1,969.2h0.6M118.0,973.0h0.6M107.4,955.1h0.6M112.7,975.2h0.6M81.6,963.3h0.6M83.6,975.1h0.6M118.3,960.9h0.6M113.1,957.6h0.6M79.1,965.4h0.6M90.1,957.1h0.6M120.1,969.3h0.6M106.2,977.8h0.6M112.3,955.8h0.6M82.2,971.5h0.6M81.4,972.0h0.6M112.9,976.3h0.6M121.3,967.7h0.6M85.7,975.6h0.6M116.8,958.3h0.6M96.9,979.6h0.6M109.9,956.8h0.6M89.7,955.9h0.6M109.4,977.3h0.6M86.5,976.8h0.6M88.7,977.8h0.6M111.2,976.5h0.6M104.5,955.4h0.6M82.4,974.9h0.6M121.3,963.3h0.6M111.5,954.3h0.6M84.8,975.1h0.6M88.9,977.3h0.6M92.6,978.3h0.6M99.5,956.4h0.6M119.1,971.5h0.6M109.6,956.6h0.6M90.0,958.8h0.6M83.2,975.9h0.6M118.7,962.4h0.6M94.0,979.5h0.6M102.1,978.8h0.6M80.3,966.9h0.6M120.9,972.3h0.6M79.6,970.0h0.6M92.4,957.8h0.6M118.8,969.4h0.6M109.3,977.7h0.6M121.4,967.6h0.6M112.2,977.1h0.6M118.9,971.9h0.6M95.5,979.7h0.6M103.3,955.1h0.6M88.2,976.8h0.6M120.1,967.8h0.6M108.5,955.5h0.6M82.0,966.6h0.6M122.6,959.2h0.6M79.3,966.1h0.6M96.8,955.8h0.6M110.7,977.6h0.6M90.6,957.7h0.6M118.7,968.8h0.6M100.5,955.5h0.6M102.6,956.3h0.6M81.7,968.0h0.6M120.2,965.7h0.6M118.8,962.9h0.6M119.9,960.7h0.6M117.1,973.7h0.6M84.8,975.5h0.6M88.0,958.9h0.6M106.6,979.0h0.6M80.3,970.4h0.6M118.4,969.8h0.6M114.4,979.9h0.6M84.8,961.7h0.6M97.1,956.4h0.6M83.7,978.4h0.6M86.5,975.8h0.6M82.3,971.6h0.6M98.6,980.5h0.6M112.8,956.2h0.6M118.2,971.7h0.6M83.1,960.5h0.6M80.4,970.3h0.6M109.3,977.3h0.6M79.0,968.4h0.6M122.2,968.7h0.6M87.5,958.8h0.6M111.2,979.8h0.6M110.2,976.3h0.6M111.7,977.9h0.6M89.8,958.6h0.6M101.1,979.8h0.6M82.6,972.5h0.6M118.0,960.2h0.6M98.6,956.5h0.6M118.6,971.0h0.6M82.4,961.7h0.6M114.9,974.0h0.6M104.8,955.4h0.6M119.7,971.6h0.6M117.6,974.5h0.6M110.7,957.0h0.6M118.5,972.0h0.6M92.5,956.0h0.6M106.0,977.7h0.6M110.5,977.4h0.6M123.2,968.5h0.6M100.4,954.9h0.6M99.0,980.7h0.6M120.7,963.1h0.6M117.4,972.0h0.6M109.1,955.5h0.6M121.4,963.5h0.6M87.2,960.2h0.6M104.0,954.2h0.6M98.6,980.2h0.6M115.4,958.5h0.6M121.2,967.8h0.6M120.6,962.2h0.6M100.1,955.7h0.6M81.8,974.2h0.6M105.0,978.2h0.6M97.0,955.8h0.6M82.5,965.7h0.6M103.3,956.1h0.6M99.4,955.5h0.6M120.0,970.7h0.6M95.5,979.9h0.6M107.3,956.7h0.6M82.9,972.8h0.6M85.2,962.2h0.6M84.6,962.1h0.6M82.8,965.1h0.6M81.7,967.8h0.6M112.6,976.9h0.6M83.9,963.5h0.6M90.7,958.4h0.6M100.3,980.2h0.6M98.4,956.2h0.6M97.1,955.4h0.6M105.7,953.7h0.6M119.7,964.6h0.6M99.3,979.2h0.6M110.3,977.9h0.6M86.1,976.9h0.6M117.5,959.8h0.6M91.2,978.0h0.6M115.7,973.7h0.6M120.7,966.2h0.6M101.8,956.3h0.6M82.5,972.7h0.6M82.4,971.2h0.6M85.8,958.1h0.6M91.3,978.3h0.6M90.9,958.1h0.6M117.1,972.0h0.6M119.1,958.6h0.6M102.1,956.3h0.6M81.6,969.0h0.6M80.8,964.4h0.6M110.1,976.9h0.6M83.2,974.2h0.6M121.9,969.6h0.6M116.6,973.4h0.6M84.1,962.7h0.6M82.8,963.2h0.6M113.4,975.6h0.6M83.6,962.1h0.6M107.5,955.4h0.6M88.9,978.8h0.6M107.5,978.1h0.6M82.0,968.4h0.6M119.4,971.1h0.6M81.8,966.7h0.6M93.6,979.9h0.6M92.6,955.7h0.6M82.4,973.1h0.6M110.8,977.9h0.6M117.0,972.7h0.6M84.0,975.7h0.6M118.5,962.9h0.6M81.6,966.0h0.6M87.2,959.9h0.6M84.3,962.0h0.6M102.8,980.2h0.6M112.4,957.5h0.6M106.3,979.8h0.6M93.9,979.8h0.6M85.6,960.5h0.6M82.6,965.7h0.6M119.0,972.4h0.6M119.2,972.6h0.6M115.3,977.5h0.6M119.7,966.1h0.6M94.3,979.2h0.6M117.2,970.5h0.6M82.2,973.2h0.6M116.8,960.4h0.6M105.5,954.8h0.6M102.4,954.9h0.6M90.2,977.6h0.6M110.6,977.7h0.6M95.3,956.9h0.6M101.2,980.7h0.6M84.8,962.7h0.6M116.8,959.0h0.6M97.8,955.8h0.6M81.3,961.9h0.6M88.4,958.2h0.6M117.4,961.6h0.6M81.0,969.4h0.6M94.2,978.8h0.6M121.1,965.7h0.6M84.6,976.8h0.6M91.0,957.9h0.6M92.3,957.9h0.6M120.8,963.3h0.6M84.5,961.2h0.6M80.7,969.0h0.6M120.4,964.7h0.6M107.3,954.3h0.6M119.6,965.5h0.6M103.5,979.4h0.6M104.6,980.5h0.6M80.1,970.8h0.6M82.5,963.0h0.6M114.2,958.9h0.6M120.0,962.9h0.6M99.3,956.3h0.6M116.4,958.8h0.6M121.3,973.9h0.6M119.3,962.3h0.6M116.9,973.2h0.6M82.2,964.3h0.6M93.0,978.6h0.6M91.7,957.8h0.6M107.1,955.1h0.6M120.6,963.9h0.6M107.1,954.2h0.6M101.8,956.3h0.6M80.6,970.2h0.6M117.3,961.6h0.6M87.1,959.8h0.6M109.1,978.7h0.6M82.4,964.8h0.6M88.8,958.7h0.6M83.8,963.4h0.6M96.0,956.6h0.6M93.9,978.7h0.6M84.8,975.0h0.6M119.6,971.5h0.6M84.8,959.2h0.6M118.0,959.4h0.6M88.2,977.8h0.6M84.2,961.1h0.6M115.9,959.9h0.6M82.1,974.1h0.6M104.4,978.9h0.6M93.3,957.6h0.6M113.8,958.6h0.6M81.1,968.0h0.6M120.0,970.1h0.6M115.1,974.1h0.6M81.0,967.3h0.6M82.6,972.9h0.6M80.2,966.1h0.6M90.3,980.0h0.6M90.0,978.0h0.6M87.0,978.5h0.6M105.6,978.3h0.6M110.4,954.7h0.6M81.4,971.6h0.6M83.8,963.7h0.6M95.7,955.9h0.6M117.6,972.0h0.6M96.5,979.1h0.6M82.7,963.9h0.6M119.0,968.7h0.6M110.3,978.6h0.6M114.2,958.4h0.6M93.0,980.5h0.6M108.4,957.0h0.6M119.1,967.7h0.6M120.2,966.1h0.6M112.6,957.9h0.6M110.3,977.6h0.6M83.2,973.6h0.6M104.5,978.2h0.6M93.4,953.9h0.6M97.0,954.9h0.6M121.9,962.4h0.6M120.1,969.4h0.6M113.0,956.3h0.6M102.1,978.6h0.6M118.5,964.6h0.6M106.9,979.6h0.6M97.8,956.2h0.6M87.3,957.2h0.6M95.7,979.1h0.6M101.6,955.2h0.6M81.7,967.6h0.6M117.1,959.8h0.6M111.1,956.6h0.6M92.7,979.4h0.6M121.3,965.6h0.6M81.8,970.9h0.6M119.8,970.5h0.6M96.0,979.7h0.6M82.8,963.8h0.6M115.7,975.3h0.6M98.0,953.8h0.6M100.6,980.6h0.6M98.8,954.4h0.6M80.6,966.1h0.6M111.7,978.7h0.6M117.6,976.7h0.6M89.5,977.8h0.6M80.6,964.3h0.6M86.2,976.8h0.6M103.1,954.5h0.6M119.4,961.3h0.6M94.1,957.4h0.6M114.1,959.0h0.6M90.9,979.7h0.6M83.6,973.5h0.6M95.8,956.6h0.6M92.8,955.0h0.6M86.4,960.3h0.6M114.2,957.9h0.6M95.8,980.6h0.6M120.5,964.9h0.6M119.8,963.7h0.6M119.7,973.1h0.6M116.9,973.6h0.6M102.1,979.2h0.6M118.0,971.9h0.6M119.1,961.6h0.6M112.9,977.4h0.6M84.0,961.1h0.6M85.4,975.0h0.6M115.7,959.3h0.6M104.1,956.1h0.6M82.9,974.3h0.6M96.0,978.7h0.6M82.1,965.4h0.6M94.6,956.3h0.6M88.6,978.8h0.6M85.5,960.8h0.6M82.1,965.0h0.6M85.3,961.7h0.6M82.3,966.6h0.6M111.9,957.5h0.6M86.2,961.3h0.6M119.4,971.5h0.6M101.6,954.8h0.6M82.1,962.6h0.6M99.0,980.3h0.6M84.7,978.5h0.6M87.4,959.9h0.6M86.7,960.6h0.6M92.2,978.5h0.6M103.7,979.4h0.6M85.5,960.1h0.6M115.8,959.7h0.6M119.7,974.1h0.6M82.4,971.7h0.6M89.4,978.0h0.6M105.2,954.6h0.6M84.7,962.5h0.6M89.3,977.4h0.6M119.8,964.4h0.6M121.7,965.4h0.6M81.1,970.7h0.6M98.3,979.6h0.6M96.5,979.0h0.6M119.6,972.8h0.6M119.8,964.8h0.6M97.7,955.1h0.6M106.1,977.9h0.6M82.1,968.0h0.6M119.1,968.1h0.6M90.2,978.4h0.6M119.1,971.7h0.6M121.6,964.2h0.6M106.7,977.9h0.6M113.1,958.1h0.6M86.0,958.0h0.6M110.2,956.4h0.6M121.5,959.7h0.6M100.4,954.7h0.6M103.2,956.1h0.6M81.8,964.0h0.6M116.3,961.1h0.6M81.6,973.5h0.6M80.3,970.9h0.6M117.1,961.1h0.6M93.6,957.5h0.6M118.8,960.8h0.6M120.1,966.6h0.6M105.2,978.9h0.6M88.9,959.0h0.6M117.5,958.7h0.6M85.4,975.9h0.6M103.9,956.2h0.6M117.0,954.4h0.6M107.6,955.1h0.6M110.5,957.3h0.6M119.6,967.9h0.6M109.8,979.7h0.6M112.3,977.9h0.6M84.8,960.4h0.6M111.6,976.7h0.6M108.6,956.5h0.6M92.2,955.5h0.6M82.5,973.5h0.6M85.1,975.1h0.6M92.1,980.4h0.6M118.3,958.4h0.6M122.4,967.0h0.6M92.7,979.3h0.6M118.9,970.6h0.6M105.5,954.9h0.6M103.5,978.5h0.6M106.5,956.5h0.6M86.1,977.9h0.6M112.0,956.6h0.6M88.0,979.0h0.6M100.9,956.2h0.6M82.1,971.6h0.6M82.8,975.1h0.6M92.3,957.7h0.6M83.4,976.9h0.6M91.3,958.1h0.6M108.2,978.3h0.6M121.4,961.2h0.6M119.2,963.0h0.6M98.0,953.9h0.6M82.1,969.3h0.6M86.8,960.0h0.6M110.8,978.7h0.6M91.1,958.0h0.6M101.8,956.1h0.6M100.5,979.7h0.6M119.3,962.7h0.6M120.9,962.6h0.6M80.9,969.3h0.6M118.5,972.2h0.6M81.3,971.0h0.6M119.0,964.1h0.6M110.1,978.1h0.6M84.0,975.8h0.6M91.2,958.4h0.6M82.7,962.5h0.6M101.2,979.0h0.6M81.3,963.0h0.6M118.2,963.2h0.6M79.6,969.1h0.6M115.3,973.8h0.6M86.9,977.1h0.6M113.8,955.6h0.6M120.7,967.3h0.6M83.3,964.1h0.6M86.1,958.3h0.6M81.6,974.0h0.6M88.6,976.9h0.6M98.9,980.2h0.6M116.0,960.5h0.6M79.4,966.6h0.6M107.5,954.8h0.6M96.4,979.6h0.6M112.6,978.2h0.6M79.7,965.3h0.6M82.1,966.3h0.6M81.4,962.3h0.6M109.6,955.2h0.6M89.4,956.7h0.6M89.4,977.3h0.6M92.1,956.8h0.6M79.3,969.3h0.6M116.6,957.1h0.6M95.0,957.1h0.6M89.2,958.1h0.6M97.7,979.5h0.6M88.0,959.5h0.6M101.0,979.5h0.6M97.3,980.8h0.6M86.9,959.6h0.6M88.3,959.9h0.6M82.8,974.7h0.6M88.2,959.3h0.6M118.2,959.5h0.6M115.5,960.2h0.6M85.3,961.2h0.6M90.2,978.3h0.6M80.1,966.8h0.6M79.9,966.7h0.6M102.1,956.3h0.6M95.5,956.5h0.6M79.5,972.1h0.6M87.4,960.0h0.6M82.8,972.7h0.6M91.3,958.1h0.6M95.9,981.6h0.6M77.5,970.6h0.6M111.8,976.1h0.6M87.7,978.5h0.6M89.7,979.3h0.6M81.0,974.1h0.6M83.6,963.9h0.6M118.6,974.3h0.6M81.6,967.2h0.6M92.2,979.3h0.6M109.5,956.3h0.6M118.4,964.8h0.6M100.1,979.0h0.6M88.2,978.1h0.6M95.0,978.8h0.6M81.4,971.4h0.6M81.9,968.1h0.6M81.2,963.6h0.6M82.0,972.9h0.6M105.6,978.4h0.6M95.1,978.8h0.6M84.2,975.1h0.6M111.5,957.3h0.6M83.7,961.3h0.6M114.1,974.9h0.6M82.0,966.4h0.6M120.7,960.3h0.6M89.4,958.3h0.6M86.9,977.7h0.6M112.9,957.2h0.6M92.8,957.4h0.6M110.3,955.1h0.6M100.1,955.0h0.6M80.6,968.3h0.6M118.1,974.9h0.6M115.5,957.9h0.6M119.3,968.6h0.6M80.4,969.2h0.6M82.7,974.2h0.6M100.0,956.0h0.6M107.4,978.2h0.6M83.2,974.8h0.6M81.6,969.2h0.6M99.9,981.9h0.6M96.1,978.8h0.6M87.4,960.5h0.6M120.9,968.6h0.6M86.4,977.1h0.6M119.0,967.0h0.6M97.5,956.2h0.6M97.5,955.3h0.6M112.2,977.6h0.6M80.0,967.0h0.6M103.8,955.6h0.6M84.5,959.3h0.6M91.9,957.4h0.6M82.6,964.9h0.6M118.1,961.5h0.6M94.7,978.6h0.6M86.5,958.5h0.6M115.7,976.2h0.6M119.6,970.8h0.6M114.3,957.5h0.6M82.8,976.8h0.6M83.4,962.3h0.6M98.2,954.4h0.6M101.2,955.9h0.6M81.6,968.8h0.6M119.6,964.0h0.6M81.6,968.0h0.6M83.4,974.5h0.6M117.2,958.3h0.6M100.1,979.0h0.6M115.0,957.8h0.6M82.1,974.4h0.6M81.5,967.0h0.6M88.3,977.9h0.6M83.2,973.2h0.6M99.6,979.7h0.6M119.1,967.7h0.6M115.3,959.4h0.6M81.4,965.8h0.6M96.5,978.9h0.6M117.1,960.0h0.6M113.1,958.5h0.6M87.1,959.6h0.6M88.6,978.0h0.6M82.3,966.6h0.6M88.0,959.5h0.6M82.3,964.3h0.6M81.9,964.5h0.6M112.9,956.6h0.6M85.1,975.6h0.6M120.3,963.1h0.6M102.3,955.3h0.6M88.6,958.7h0.6M99.9,978.8h0.6M95.7,957.0h0.6M108.9,954.3h0.6M99.6,955.7h0.6M118.3,959.5h0.6M104.8,955.1h0.6M113.8,976.7h0.6M87.5,958.6h0.6M108.6,978.0h0.6M120.0,966.6h0.6M116.0,959.1h0.6M121.1,965.7h0.6M88.4,959.5h0.6M100.5,955.9h0.6M101.7,978.8h0.6M96.6,956.1h0.6M117.7,960.7h0.6M88.3,959.5h0.6M90.3,977.8h0.6M108.6,955.8h0.6M81.6,966.0h0.6M80.9,973.9h0.6M89.8,979.4h0.6M82.3,960.5h0.6M119.7,964.1h0.6M89.3,958.7h0.6M81.5,971.8h0.6M112.3,976.2h0.6M98.5,955.4h0.6M97.5,955.6h0.6M94.9,979.4h0.6M87.3,958.2h0.6M96.2,979.6h0.6M87.3,976.6h0.6M105.2,978.1h0.6M120.3,966.9h0.6M117.0,955.8h0.6M117.4,972.8h0.6M101.8,979.4h0.6M120.7,966.8h0.6M95.1,955.9h0.6M120.6,965.0h0.6M90.4,978.6h0.6M85.3,975.0h0.6M116.3,959.7h0.6M117.8,958.4h0.6M80.6,967.0h0.6M87.4,958.5h0.6M87.2,976.8h0.6M110.0,957.4h0.6M79.8,971.8h0.6M98.7,955.0h0.6M113.0,956.7h0.6M92.4,956.9h0.6M81.9,969.3h0.6M117.4,975.4h0.6M112.1,977.7h0.6M119.8,966.6h0.6M88.4,977.8h0.6M92.9,957.0h0.6M113.1,977.3h0.6M120.3,965.2h0.6M91.0,956.7h0.6M116.0,959.9h0.6M110.4,956.1h0.6M84.3,976.4h0.6M104.3,979.0h0.6M119.5,970.7h0.6M82.2,971.7h0.6M89.4,977.4h0.6M108.3,956.3h0.6M111.1,979.1h0.6M85.2,975.6h0.6M115.9,956.6h0.6M111.9,956.3h0.6M118.4,961.4h0.6M88.3,978.8h0.6M119.6,968.4h0.6M115.4,957.6h0.6M82.7,974.0h0.6M94.4,978.8h0.6M101.9,956.1h0.6M112.7,978.4h0.6M92.8,979.4h0.6M106.0,977.7h0.6M82.2,966.8h0.6M114.2,975.3h0.6M80.2,972.6h0.6M83.4,974.3h0.6M118.9,965.0h0.6M87.2,960.3h0.6M79.2,969.1h0.6M95.4,955.7h0.6M97.5,954.4h0.6M105.9,953.6h0.6M80.8,971.9h0.6M118.1,962.2h0.6M81.1,964.9h0.6M80.8,965.7h0.6M110.2,978.7h0.6M84.2,976.2h0.6M119.8,975.9h0.6M96.0,956.6h0.6M93.2,978.5h0.6M91.9,979.0h0.6M88.3,977.5h0.6M84.6,975.2h0.6M118.2,962.2h0.6M83.0,972.9h0.6M88.5,977.7h0.6M98.4,956.6h0.6M121.3,959.4h0.6M107.1,955.2h0.6M92.3,957.7h0.6M82.8,972.7h0.6M106.6,956.4h0.6M108.5,955.4h0.6M109.7,977.4h0.6M85.2,961.3h0.6M78.4,969.3h0.6M118.1,970.1h0.6M114.7,975.0h0.6M112.9,976.4h0.6M82.2,970.9h0.6M81.0,969.4h0.6M122.2,968.9h0.6M82.5,964.6h0.6M79.7,969.5h0.6M80.3,969.8h0.6M117.6,956.4h0.6M106.3,955.6h0.6M108.9,979.5h0.6M81.1,974.7h0.6M118.9,967.2h0.6M98.6,979.4h0.6M107.8,956.5h0.6M85.4,978.0h0.6M82.0,964.9h0.6M106.8,979.3h0.6M90.2,958.4h0.6M102.3,955.7h0.6M112.0,976.1h0.6M83.2,963.5h0.6M120.9,963.8h0.6M118.7,968.1h0.6M85.6,961.1h0.6M111.9,976.2h0.6M97.8,956.2h0.6M93.6,979.2h0.6M98.0,980.2h0.6M114.4,975.3h0.6M97.6,980.1h0.6M89.9,958.8h0.6M118.6,971.0h0.6M121.1,967.1h0.6M105.2,979.2h0.6M109.0,955.8h0.6M81.7,963.8h0.6M77.7,965.8h0.6M113.4,974.6h0.6M91.0,957.6h0.6M122.9,967.4h0.6M110.4,956.5h0.6M108.2,952.8h0.6M120.9,966.6h0.6M106.0,978.5h0.6M77.6,969.9h0.6M106.0,978.6h0.6M90.5,957.0h0.6M79.9,964.7h0.6M82.0,969.7h0.6M81.1,973.3h0.6M110.9,977.9h0.6M80.9,972.3h0.6M98.0,956.6h0.6M112.2,977.7h0.6M100.3,982.1h0.6M88.1,959.9h0.6M95.4,956.9h0.6M113.7,955.3h0.6M88.7,959.2h0.6M101.4,979.3h0.6M81.9,967.6h0.6M86.9,960.1h0.6M111.0,977.2h0.6M100.2,979.0h0.6M81.9,970.2h0.6M110.7,977.8h0.6M109.9,977.4h0.6M121.2,962.4h0.6M117.6,972.3h0.6M97.9,978.9h0.6M119.3,971.6h0.6M98.3,979.2h0.6M77.3,965.1h0.6M93.2,957.7h0.6M94.4,954.6h0.6M80.6,968.9h0.6M119.9,967.5h0.6M117.4,974.4h0.6M119.8,963.1h0.6M80.7,967.1h0.6M118.5,969.1h0.6M92.5,980.0h0.6M78.9,975.3h0.6M95.5,979.1h0.6M111.8,977.1h0.6M88.8,978.9h0.6M104.1,980.2h0.6M95.6,979.1h0.6M98.7,980.5h0.6M78.9,965.5h0.6M120.4,971.3h0.6M121.7,966.9h0.6M80.2,971.5h0.6M106.8,980.6h0.6M111.6,979.9h0.6M94.1,957.2h0.6M105.2,978.0h0.6M89.5,958.6h0.6M90.2,958.8h0.6M132.5,950.4h0.6M118.7,958.8h0.6M125.2,951.1h0.6M129.4,954.1h0.6M128.4,944.8h0.6M135.6,940.8h0.6M131.1,955.7h0.6M119.0,960.8h0.6M133.1,944.5h0.6M116.5,962.7h0.6M121.4,960.1h0.6M135.8,943.6h0.6M129.8,951.4h0.6M123.4,956.4h0.6M120.5,953.2h0.6M128.2,950.8h0.6M132.2,946.7h0.6M128.2,944.5h0.6M118.0,959.5h0.6M126.6,952.1h0.6M117.3,956.6h0.6M119.5,950.2h0.6M119.0,956.9h0.6M118.3,957.0h0.6M132.5,945.4h0.6M125.6,943.3h0.6M122.0,956.3h0.6M121.9,955.2h0.6M124.8,950.4h0.6M115.5,951.6h0.6M120.2,952.8h0.6M127.6,950.2h0.6M117.3,956.4h0.6M133.6,948.7h0.6M120.8,954.8h0.6M92.6,981.5h0.6M85.9,981.6h0.6M120.6,981.9h0.6M76.9,981.8h0.6M101.7,980.9h0.6M114.4,981.7h0.6M114.3,980.4h0.6M97.2,980.2h0.6M97.7,981.6h0.6M84.9,981.5h0.6M89.2,981.3h0.6M88.6,981.8h0.6M81.5,980.2h0.6M96.3,981.2h0.6M96.9,980.2h0.6M77.1,980.1h0.6M111.9,981.3h0.6M98.4,981.8h0.6M97.0,981.7h0.6M108.1,980.9h0.6M79.5,981.8h0.6M98.2,981.3h0.6M95.4,981.6h0.6M79.2,981.7h0.6M79.0,980.6h0.6M103.3,980.1h0.6M85.4,981.2h0.6M89.3,981.3h0.6M112.8,981.9h0.6M78.6,981.2h0.6M77.4,988.5h0.6M78.7,969.5h0.6M78.0,968.1h0.6M78.0,976.3h0.6M77.7,978.0h0.6M78.2,969.0h0.6M78.1,974.6h0.6M79.2,963.7h0.6M78.6,953.6h0.6M78.0,970.2h0.6M77.6,963.8h0.6M77.5,969.9h0.6M77.9,953.5h0.6M77.8,965.0h0.6M78.0,955.4h0.6M78.2,964.8h0.6M77.6,957.8h0.6M79.2,960.6h0.6" stroke="#000" stroke-width="0.6" fill="none"/>
<path d="M141.5,923.9h1.5M137.5,928.1h1.5M145.3,917.0h1.5M142.2,922.8h1.5M139.9,921.7h1.5M139.8,922.6h1.5M143.5,920.1h1.5M138.4,925.9h1.5M141.3,919.3h1.5M147.0,920.7h1.5M148.5,914.7h1.5M144.2,918.4h1.5M145.3,919.6h1.5M135.9,927.3h1.5M140.5,926.7h1.5M144.0,919.2h1.5M156.8,907.7h1.5M137.5,926.5h1.5M145.2,917.4h1.5M151.2,912.7h1.5M146.7,916.2h1.5M143.3,920.2h1.5M147.9,914.8h1.5M149.0,914.2h1.5M142.7,921.9h1.5M136.4,927.3h1.5M139.1,924.3h1.5M144.6,920.1h1.5M144.7,920.5h1.5M135.6,929.1h1.5M144.0,921.0h1.5M141.1,918.5h1.5M144.8,920.4h1.5M142.8,921.3h1.5M148.2,916.7h1.5M144.5,920.6h1.5M144.2,917.6h1.5M138.4,924.5h1.5M141.3,918.4h1.5M145.4,918.1h1.5M143.5,919.9h1.5M146.3,918.4h1.5M145.6,918.9h1.5M146.1,920.9h1.5M143.7,918.0h1.5M137.6,925.4h1.5M142.3,921.1h1.5M141.5,922.6h1.5M134.4,930.5h1.5M145.5,919.6h1.5M138.5,924.1h1.5M143.4,922.1h1.5M135.4,928.6h1.5M151.6,913.1h1.5M135.5,927.1h1.5M140.5,925.0h1.5M146.4,917.5h1.5M141.2,921.4h1.5M133.2,930.3h1.5M138.3,924.7h1.5M140.9,922.4h1.5M147.2,916.3h1.5M147.7,916.3h1.5M141.9,922.5h1.5M142.6,921.5h1.5M147.5,915.4h1.5M143.8,922.1h1.5M140.2,922.6h1.5M144.3,917.6h1.5M148.5,913.7h1.5M142.5,920.3h1.5M138.5,920.6h1.5M143.9,919.3h1.5M143.8,920.1h1.5M138.3,922.4h1.5M140.5,921.0h1.5M137.7,925.5h1.5M137.1,925.9h1.5M146.9,918.5h1.5M142.6,920.7h1.5M135.5,926.9h1.5M149.5,915.6h1.5M140.4,919.7h1.5M148.5,914.5h1.5M139.8,922.9h1.5M139.6,925.1h1.5M141.7,924.8h1.5M139.8,923.5h1.5M137.9,925.7h1.5M145.8,915.1h1.5M142.4,920.1h1.5M145.6,918.1h1.5M148.0,916.7h1.5M147.9,916.7h1.5M142.9,918.9h1.5M145.5,916.9h1.5M141.0,923.0h1.5M147.9,917.5h1.5M145.6,918.8h1.5M143.7,922.9h1.5M146.2,917.3h1.5M146.7,921.7h1.5M137.3,925.1h1.5M149.1,914.5h1.5M146.5,922.3h1.5M143.9,919.7h1.5M148.6,914.5h1.5M145.2,920.5h1.5M143.2,923.5h1.5M142.7,921.5h1.5M145.7,916.9h1.5M147.6,918.5h1.5M148.0,917.4h1.5M142.2,921.9h1.5M148.7,914.1h1.5M151.7,913.1h1.5M138.3,923.0h1.5M143.5,919.2h1.5M143.4,921.4h1.5M145.0,914.6h1.5M138.4,924.4h1.5M147.9,915.4h1.5M141.3,923.1h1.5M145.6,918.1h1.5M148.0,918.9h1.5M146.2,917.7h1.5M141.0,922.6h1.5M143.3,920.8h1.5M142.7,920.4h1.5M143.7,920.8h1.5M142.3,920.3h1.5M142.8,920.8h1.5M140.4,922.8h1.5M145.4,917.6h1.5M143.4,923.8h1.5M148.0,916.4h1.5M140.8,923.1h1.5M146.8,918.7h1.5M144.3,919.5h1.5M143.8,921.6h1.5M144.9,921.7h1.5M140.1,925.0h1.5M138.2,924.2h1.5M147.5,915.2h1.5M141.1,920.6h1.5M150.6,914.5h1.5M142.7,921.0h1.5M142.5,919.2h1.5M147.0,916.0h1.5M136.5,928.1h1.5" stroke="#ff1010" stroke-width="1.5" fill="none"/>
<path d="M145.0,961.9h1.5M135.6,965.8h1.5M138.6,957.1h1.5M133.7,965.9h1.5M134.9,962.8h1.5M139.9,967.3h1.5M138.9,974.6h1.5M141.8,964.9h1.5M141.2,970.7h1.5M137.7,961.9h1.5M143.6,967.8h1.5M139.1,959.5h1.5M138.2,959.9h1.5M145.7,965.7h1.5M140.8,963.0h1.5M131.4,971.2h1.5M146.0,963.5h1.5M140.4,962.8h1.5M144.1,959.9h1.5M141.8,971.8h1.5M142.4,957.3h1.5M140.6,963.6h1.5M142.5,970.0h1.5M140.8,967.4h1.5M140.9,958.1h1.5M136.2,966.6h1.5M135.2,953.6h1.5M136.9,962.2h1.5M139.4,966.7h1.5M134.7,960.9h1.5M140.3,970.2h1.5M135.4,961.7h1.5M135.5,963.9h1.5M143.8,964.9h1.5M135.2,958.3h1.5M144.5,963.6h1.5M143.2,970.4h1.5M131.1,969.1h1.5M140.8,964.0h1.5M140.4,964.9h1.5M137.3,960.9h1.5M136.9,962.3h1.5M137.9,963.6h1.5M140.9,970.0h1.5M139.5,966.2h1.5M133.0,956.4h1.5M146.3,961.7h1.5M139.1,964.1h1.5M142.0,968.3h1.5M132.3,963.2h1.5M144.3,965.4h1.5M144.8,967.1h1.5M142.9,966.7h1.5M140.7,954.4h1.5M141.1,958.7h1.5M137.7,969.3h1.5M135.1,963.4h1.5M135.9,962.4h1.5M134.7,968.6h1.5M133.2,956.9h1.5M145.2,961.7h1.5M142.6,967.1h1.5M132.7,964.6h1.5M141.3,963.3h1.5M146.7,965.0h1.5M142.6,964.0h1.5M136.3,962.5h1.5M135.3,967.8h1.5M136.4,957.5h1.5M136.4,967.6h1.5M129.0,967.6h1.5M131.0,963.7h1.5M140.1,964.3h1.5M139.5,962.8h1.5M134.0,964.6h1.5M143.5,966.7h1.5M138.0,961.5h1.5M135.6,963.6h1.5M140.9,966.7h1.5M144.2,962.7h1.5M132.8,962.9h1.5M142.5,959.5h1.5M135.5,967.0h1.5M138.7,965.6h1.5M140.6,963.8h1.5M134.2,969.4h1.5M136.2,971.7h1.5M141.3,964.8h1.5M134.3,966.1h1.5M141.4,957.3h1.5M140.3,962.5h1.5M140.4,964.4h1.5M135.9,965.2h1.5M141.7,964.9h1.5M149.0,964.1h1.5M130.4,976.9h1.5M139.2,963.6h1.5M137.2,963.1h1.5M138.2,970.0h1.5M140.2,967.6h1.5M142.5,964.6h1.5M138.6,966.1h1.5M142.3,966.6h1.5M146.8,968.5h1.5M139.1,967.8h1.5M145.5,967.0h1.5M139.8,965.8h1.5M133.6,970.1h1.5M142.9,962.6h1.5M138.0,963.8h1.5M144.3,961.1h1.5M139.4,971.2h1.5M141.5,967.9h1.5M138.2,968.9h1.5M139.2,968.9h1.5M139.2,965.1h1.5M144.2,968.5h1.5M135.1,965.9h1.5M137.7,962.2h1.5M140.7,967.8h1.5M139.3,958.8h1.5M134.4,965.7h1.5M139.0,973.0h1.5M135.0,959.6h1.5M135.9,967.9h1.5M138.1,960.3h1.5M139.4,961.7h1.5M140.0,961.5h1.5M137.2,964.3h1.5M132.9,968.7h1.5M141.6,964.9h1.5M134.0,963.2h1.5M137.1,959.6h1.5M138.3,959.8h1.5M141.9,968.1h1.5M139.2,964.9h1.5M129.2,964.1h1.5M133.1,965.7h1.5M138.5,963.8h1.5M128.7,961.3h1.5M137.5,962.1h1.5M143.8,961.6h1.5M145.8,961.7h1.5M135.7,962.5h1.5M136.1,963.9h1.5M140.4,963.0h1.5M142.6,964.3h1.5M134.5,966.3h1.5M137.4,968.9h1.5M146.3,966.9h1.5" stroke="#1878ee" stroke-width="1.5" fill="none"/>
</g>
<rect x="76.8" y="894.3" width="105.7" height="88.7" fill="none" stroke="#333" stroke-width="0.9"/>
<text transform="translate(68.6,941) rotate(-90)" font-size="18" text-anchor="middle">V<tspan class="ser" font-size="19">δ</tspan>1</text>
<text x="129.2" y="1006.5" font-size="18" text-anchor="middle">CD3</text>
<clipPath id="e1"><rect x="226.3" y="894.3" width="105.2" height="88.2"/></clipPath>
<g clip-path="url(#e1)">
<ellipse cx="251" cy="966.4" rx="17.64" ry="10.86" transform="rotate(-4.58 251 966.4)" fill="#000"/>
<path d="M267.6,973.0h0.6M253.7,956.2h0.6M234.4,963.2h0.6M268.6,969.4h0.6M255.7,976.4h0.6M241.7,958.1h0.6M243.9,955.9h0.6M263.5,957.4h0.6M248.8,978.7h0.6M270.7,966.1h0.6M258.2,976.7h0.6M266.9,970.8h0.6M263.5,973.6h0.6M232.9,970.6h0.6M268.0,970.9h0.6M236.4,972.2h0.6M246.8,955.5h0.6M248.8,955.4h0.6M254.6,976.5h0.6M269.9,963.8h0.6M239.0,959.6h0.6M247.3,977.2h0.6M269.3,964.6h0.6M266.6,970.9h0.6M258.1,956.4h0.6M270.0,968.1h0.6M238.8,976.8h0.6M243.3,976.0h0.6M250.6,955.4h0.6M267.2,962.9h0.6M253.2,955.7h0.6M233.3,962.1h0.6M266.2,972.6h0.6M234.3,968.6h0.6M238.9,975.0h0.6M236.1,958.1h0.6M264.9,957.2h0.6M232.6,966.1h0.6M233.7,970.5h0.6M267.7,960.0h0.6M267.0,956.5h0.6M268.9,963.2h0.6M266.8,962.1h0.6M262.6,975.2h0.6M235.3,961.5h0.6M235.4,961.2h0.6M233.7,964.4h0.6M233.4,971.6h0.6M237.7,957.4h0.6M232.3,968.3h0.6M268.9,968.1h0.6M238.3,973.9h0.6M254.5,976.4h0.6M264.6,973.1h0.6M267.2,972.5h0.6M255.8,976.8h0.6M252.3,955.4h0.6M269.6,965.0h0.6M230.8,968.5h0.6M235.4,971.9h0.6M261.9,974.7h0.6M243.9,977.3h0.6M261.9,956.8h0.6M253.6,955.6h0.6M268.2,963.7h0.6M233.0,966.8h0.6M233.5,963.4h0.6M253.0,955.8h0.6M251.5,978.1h0.6M263.6,958.4h0.6M233.2,969.9h0.6M249.4,979.2h0.6M253.3,976.6h0.6M259.1,955.4h0.6M240.8,976.2h0.6M260.3,956.0h0.6M258.6,955.7h0.6M251.7,955.0h0.6M233.7,967.1h0.6M241.9,977.1h0.6M241.5,957.7h0.6M252.6,954.3h0.6M264.7,973.5h0.6M238.3,959.0h0.6M267.7,969.2h0.6M234.3,965.2h0.6M242.7,978.2h0.6M268.2,969.6h0.6M242.3,956.3h0.6M255.2,977.2h0.6M258.1,955.4h0.6M268.9,961.7h0.6M235.8,961.8h0.6M268.2,962.7h0.6M262.7,973.9h0.6M241.1,976.0h0.6M256.2,976.0h0.6M240.1,956.3h0.6M243.7,976.1h0.6M250.7,953.3h0.6M267.3,959.1h0.6M233.2,969.6h0.6M232.6,970.0h0.6M262.9,975.2h0.6M235.2,973.9h0.6M249.5,976.7h0.6M265.1,973.4h0.6M243.2,956.7h0.6M249.0,955.7h0.6M241.3,975.5h0.6M268.0,969.3h0.6M259.2,956.4h0.6M263.7,975.0h0.6M234.5,964.3h0.6M249.1,977.2h0.6M252.1,954.7h0.6M260.8,954.3h0.6M258.2,955.5h0.6M233.6,967.6h0.6M236.9,973.0h0.6M249.9,956.1h0.6M259.7,956.2h0.6M259.3,956.5h0.6M257.0,953.2h0.6M257.3,975.7h0.6M267.2,974.2h0.6M250.4,955.7h0.6M233.3,964.4h0.6M261.1,974.9h0.6M245.3,979.2h0.6M269.2,963.0h0.6M234.6,964.2h0.6M260.5,954.1h0.6M268.3,961.9h0.6M271.7,960.9h0.6M233.9,967.7h0.6M237.7,974.0h0.6M240.2,958.0h0.6M234.9,975.5h0.6M235.2,963.4h0.6M244.5,956.2h0.6M248.1,956.2h0.6M242.0,976.6h0.6M234.5,962.0h0.6M234.8,963.4h0.6M250.8,955.7h0.6M264.1,973.5h0.6M265.7,960.7h0.6M251.8,955.0h0.6M248.0,977.3h0.6M245.1,956.6h0.6M241.3,976.0h0.6M246.0,976.7h0.6M233.6,968.1h0.6M267.1,972.6h0.6M240.1,974.8h0.6M269.0,963.8h0.6M240.3,975.0h0.6M234.0,969.6h0.6M234.3,965.5h0.6M268.7,967.1h0.6M247.1,956.0h0.6M262.6,957.8h0.6M253.1,955.7h0.6M270.3,964.9h0.6M255.9,976.5h0.6M259.0,978.0h0.6M245.2,976.7h0.6M241.4,976.4h0.6M238.8,974.4h0.6M240.6,975.0h0.6M233.7,964.5h0.6M246.7,956.0h0.6M234.4,972.8h0.6M256.8,977.6h0.6M245.0,956.5h0.6M250.5,955.9h0.6M253.0,954.8h0.6M266.6,976.2h0.6M233.8,966.1h0.6M263.9,956.7h0.6M233.8,968.7h0.6M246.0,955.1h0.6M250.9,955.8h0.6M254.9,954.8h0.6M249.4,955.7h0.6M271.0,965.9h0.6M252.0,976.8h0.6M236.4,961.1h0.6M254.0,954.9h0.6M261.9,956.2h0.6M233.6,965.2h0.6M269.8,967.4h0.6M259.4,954.7h0.6M258.2,977.4h0.6M269.7,959.3h0.6M245.8,956.7h0.6M244.3,956.6h0.6M249.2,955.5h0.6M256.5,976.3h0.6M260.2,975.6h0.6M255.7,976.6h0.6M266.0,972.0h0.6M263.1,974.3h0.6M266.4,969.7h0.6M248.6,955.5h0.6M264.0,974.4h0.6M243.9,954.6h0.6M266.2,970.8h0.6M265.1,957.0h0.6M252.0,955.5h0.6M235.6,973.2h0.6M241.0,976.0h0.6M244.9,956.0h0.6M234.7,971.9h0.6M249.3,977.9h0.6M236.3,972.5h0.6M271.4,968.6h0.6M236.5,960.8h0.6M265.2,971.9h0.6M248.6,976.8h0.6M270.4,964.7h0.6M242.9,956.8h0.6M267.6,959.9h0.6M234.2,971.5h0.6M260.0,976.3h0.6M269.8,963.1h0.6M256.5,976.5h0.6M233.5,963.7h0.6M250.4,954.4h0.6M238.5,975.3h0.6M233.1,972.6h0.6M267.5,970.5h0.6M264.5,972.8h0.6M258.0,976.2h0.6M241.6,978.0h0.6M235.4,961.7h0.6M234.4,972.4h0.6M269.4,958.0h0.6M252.6,955.8h0.6M245.9,956.6h0.6M256.6,977.3h0.6M266.4,960.5h0.6M234.0,965.6h0.6M237.8,959.6h0.6M263.4,974.5h0.6M237.6,960.5h0.6M245.3,976.5h0.6M266.2,973.8h0.6M262.6,975.3h0.6M236.6,959.6h0.6M255.6,976.1h0.6M268.5,969.4h0.6M262.7,974.4h0.6M270.2,965.8h0.6M249.0,954.1h0.6M242.0,957.2h0.6M266.7,960.6h0.6M235.6,972.1h0.6M237.1,975.1h0.6M234.3,970.3h0.6M235.7,961.8h0.6M247.3,956.2h0.6M237.3,960.4h0.6M236.2,959.1h0.6M266.7,961.2h0.6M269.0,960.2h0.6M256.2,976.3h0.6M243.9,976.7h0.6M249.0,977.3h0.6M259.4,976.7h0.6M235.1,971.9h0.6M267.9,959.8h0.6M240.8,958.4h0.6M266.0,960.2h0.6M271.8,966.4h0.6M262.2,958.3h0.6M265.6,972.3h0.6M234.5,963.0h0.6M238.3,959.0h0.6M267.6,960.8h0.6M246.0,956.4h0.6M248.0,978.1h0.6M269.0,966.9h0.6M265.3,957.8h0.6M239.1,974.2h0.6M230.3,970.1h0.6M239.0,958.7h0.6M265.1,959.0h0.6M266.6,959.8h0.6M256.0,976.3h0.6M239.9,974.7h0.6M236.3,959.4h0.6M267.7,961.5h0.6M236.5,959.4h0.6M261.0,956.9h0.6M239.2,959.3h0.6M252.0,977.3h0.6M256.4,954.4h0.6M261.9,975.4h0.6M232.9,963.6h0.6M234.7,964.6h0.6M260.4,977.2h0.6M233.5,968.1h0.6M234.9,963.7h0.6M268.8,968.9h0.6M250.2,978.3h0.6M257.7,976.5h0.6M250.6,956.1h0.6M236.6,973.8h0.6M261.0,957.2h0.6M263.8,974.7h0.6M240.3,958.4h0.6M261.7,955.6h0.6M258.4,955.9h0.6M248.7,955.6h0.6M267.2,959.4h0.6M233.6,960.2h0.6M240.5,957.4h0.6M233.0,968.6h0.6M235.4,972.8h0.6M242.4,957.1h0.6M256.6,975.8h0.6M252.1,954.7h0.6M257.6,976.1h0.6M259.9,975.7h0.6M268.6,961.5h0.6M265.7,971.2h0.6M261.3,956.6h0.6M265.3,971.5h0.6M241.2,957.5h0.6M240.2,958.8h0.6M244.7,954.9h0.6M263.4,957.1h0.6M240.5,977.7h0.6M266.0,974.7h0.6M241.9,956.6h0.6M256.9,954.1h0.6M263.2,956.7h0.6M234.3,963.0h0.6M253.6,955.8h0.6M258.4,976.4h0.6M246.5,977.0h0.6M274.2,964.5h0.6M237.1,973.2h0.6M235.6,961.0h0.6M269.4,966.8h0.6M240.3,975.1h0.6M268.8,969.6h0.6M238.9,958.6h0.6M236.8,961.2h0.6M234.7,971.4h0.6M242.4,956.6h0.6M266.8,970.5h0.6M238.4,974.1h0.6M256.1,955.2h0.6M234.4,971.0h0.6M264.8,973.1h0.6M271.3,965.0h0.6M259.1,955.8h0.6M241.2,976.2h0.6M267.5,960.7h0.6M240.5,975.0h0.6M271.4,964.3h0.6M265.6,959.7h0.6M233.6,967.2h0.6M249.4,978.3h0.6M266.6,972.3h0.6M252.2,954.9h0.6M262.0,974.2h0.6M235.5,972.5h0.6M236.4,973.5h0.6M232.7,966.8h0.6M267.0,970.2h0.6M234.0,968.8h0.6M271.1,965.1h0.6M249.2,955.1h0.6M250.4,955.8h0.6M267.8,970.5h0.6M260.0,975.8h0.6M263.4,974.4h0.6M263.9,973.3h0.6M234.4,963.1h0.6M234.8,960.9h0.6M270.5,965.0h0.6M242.7,976.1h0.6M267.9,959.5h0.6M232.8,969.3h0.6M266.4,970.9h0.6M254.9,955.9h0.6M251.3,954.7h0.6M235.3,972.3h0.6M271.1,965.9h0.6M233.8,967.9h0.6M265.0,958.8h0.6M261.3,975.1h0.6M267.6,973.5h0.6M253.2,955.5h0.6M233.7,968.0h0.6M242.8,976.5h0.6M237.6,959.9h0.6M251.6,956.0h0.6M234.3,963.2h0.6M233.6,962.6h0.6M233.0,970.6h0.6M233.8,968.2h0.6M265.2,973.4h0.6M241.8,957.8h0.6M253.1,955.9h0.6M237.2,973.4h0.6M270.3,966.2h0.6M256.7,976.0h0.6M262.4,974.3h0.6M238.6,957.8h0.6M234.1,970.8h0.6M235.6,972.3h0.6M253.6,955.8h0.6M234.2,966.4h0.6M253.2,977.6h0.6M250.7,977.9h0.6M232.5,967.8h0.6M237.8,974.9h0.6M241.1,975.4h0.6M254.4,976.4h0.6M233.0,967.0h0.6M234.1,973.6h0.6M241.3,975.7h0.6M234.1,959.8h0.6M236.5,961.6h0.6M266.5,960.4h0.6M255.9,976.1h0.6M247.2,977.1h0.6M261.2,955.5h0.6M237.9,974.1h0.6M262.9,955.5h0.6M234.2,964.1h0.6M267.4,970.1h0.6M244.2,977.4h0.6M234.6,963.7h0.6M264.3,973.6h0.6M258.7,954.1h0.6M234.6,971.9h0.6M235.9,973.9h0.6M235.1,970.5h0.6M266.7,972.4h0.6M269.7,963.5h0.6M268.0,971.3h0.6M241.1,976.6h0.6M239.6,975.2h0.6M258.5,977.0h0.6M266.2,960.2h0.6M233.3,967.7h0.6M253.0,977.6h0.6M233.7,964.7h0.6M264.1,956.2h0.6M264.3,972.8h0.6M234.0,966.9h0.6M256.7,978.0h0.6M237.8,974.5h0.6M245.5,956.4h0.6M233.9,968.2h0.6M259.5,955.7h0.6M267.6,960.5h0.6M234.4,964.4h0.6M263.5,956.5h0.6M245.9,976.9h0.6M268.1,961.0h0.6M269.6,965.8h0.6M246.5,977.5h0.6M266.6,959.1h0.6M254.1,976.4h0.6M263.3,975.1h0.6M262.6,973.6h0.6M256.5,954.4h0.6M246.5,956.1h0.6M262.3,957.7h0.6M232.9,969.2h0.6M241.3,977.1h0.6M240.5,975.8h0.6M240.2,975.4h0.6M249.9,976.9h0.6M246.9,955.7h0.6M264.9,973.5h0.6M270.3,966.5h0.6M252.1,976.9h0.6M263.0,957.2h0.6M235.7,962.1h0.6M240.0,957.7h0.6M234.3,970.1h0.6M250.6,955.5h0.6M233.6,968.2h0.6M235.9,973.2h0.6M268.3,962.7h0.6M271.0,966.1h0.6M247.4,977.1h0.6M235.8,972.5h0.6M233.8,967.1h0.6M254.6,954.5h0.6M267.6,965.0h0.6M243.4,976.8h0.6M234.8,964.6h0.6M262.2,954.5h0.6M245.3,955.5h0.6M262.2,957.5h0.6M254.7,978.5h0.6M244.2,977.7h0.6M257.3,954.8h0.6M263.0,957.0h0.6M235.4,961.2h0.6M256.2,977.7h0.6M264.7,973.8h0.6M233.7,970.4h0.6M242.1,955.6h0.6M262.4,956.6h0.6M234.0,967.0h0.6M236.5,961.7h0.6M240.1,976.0h0.6M240.7,956.9h0.6M235.6,962.9h0.6M240.5,957.1h0.6M250.8,977.0h0.6M242.3,957.9h0.6M235.6,972.0h0.6M255.5,954.7h0.6M255.3,977.4h0.6M268.2,961.5h0.6M236.0,960.6h0.6M244.8,956.0h0.6M270.6,968.2h0.6M245.6,955.8h0.6M236.5,961.8h0.6M268.9,963.8h0.6M271.0,965.7h0.6M258.5,977.8h0.6M247.8,956.4h0.6M234.6,971.6h0.6M257.2,977.5h0.6M237.3,975.2h0.6M234.3,963.1h0.6M268.3,967.2h0.6M262.1,957.0h0.6M234.2,963.2h0.6M242.7,954.9h0.6M262.9,957.9h0.6M254.1,955.3h0.6M251.9,954.3h0.6M262.7,956.3h0.6M267.8,967.0h0.6M266.8,969.2h0.6M233.7,968.1h0.6M255.8,954.6h0.6M237.7,960.6h0.6M260.6,977.4h0.6M267.3,970.0h0.6M254.6,977.2h0.6M241.7,977.0h0.6M270.0,963.7h0.6M240.5,975.0h0.6M267.5,964.0h0.6M243.1,977.8h0.6M268.1,966.2h0.6M253.2,956.1h0.6M234.1,965.2h0.6M234.7,961.9h0.6M270.5,968.8h0.6M249.4,955.2h0.6M268.3,965.4h0.6M263.4,957.8h0.6M255.7,976.0h0.6M234.0,970.1h0.6M250.2,955.7h0.6M233.4,966.9h0.6M258.7,977.0h0.6M253.3,977.4h0.6M269.6,965.7h0.6M233.7,960.9h0.6M233.0,966.2h0.6M233.8,965.0h0.6M237.2,960.4h0.6M262.2,974.5h0.6M245.2,976.5h0.6M232.9,967.1h0.6M269.6,963.9h0.6M265.8,956.1h0.6M244.3,956.6h0.6M248.5,954.7h0.6M238.9,958.4h0.6M258.0,954.7h0.6M264.0,957.0h0.6M250.1,977.8h0.6M259.4,954.9h0.6M234.2,964.5h0.6M253.0,978.4h0.6M267.0,958.6h0.6M253.0,955.6h0.6M231.5,962.5h0.6M259.4,976.6h0.6M258.9,954.8h0.6M269.7,960.3h0.6M259.4,956.3h0.6M245.7,956.4h0.6M261.7,956.1h0.6M260.3,955.2h0.6M265.0,959.1h0.6M242.5,975.8h0.6M248.1,976.7h0.6M262.9,957.0h0.6M232.7,966.7h0.6M267.1,960.3h0.6M257.9,954.3h0.6M246.0,956.5h0.6M259.4,975.8h0.6M268.7,969.7h0.6M249.7,955.8h0.6M233.8,966.9h0.6M247.4,978.0h0.6M239.3,976.3h0.6M243.2,977.0h0.6M243.1,955.7h0.6M242.8,976.2h0.6M267.4,964.3h0.6M260.2,975.5h0.6M269.4,972.9h0.6M240.6,957.1h0.6M266.3,960.3h0.6M266.7,970.9h0.6M263.2,957.3h0.6M251.6,955.8h0.6M264.9,973.5h0.6M235.8,972.4h0.6M269.6,966.7h0.6M242.6,976.0h0.6M231.5,968.6h0.6M233.9,963.2h0.6M234.4,969.9h0.6M259.1,956.8h0.6M234.5,965.3h0.6M265.5,972.4h0.6M250.0,976.8h0.6M244.8,956.2h0.6M233.9,968.0h0.6M252.2,977.5h0.6M234.8,970.5h0.6M267.3,961.7h0.6M231.5,969.8h0.6M245.3,976.5h0.6M267.4,970.1h0.6M268.7,971.0h0.6M239.1,975.3h0.6M240.4,956.1h0.6M262.9,958.1h0.6M242.7,957.8h0.6M267.2,957.0h0.6M268.9,968.5h0.6M266.2,959.5h0.6M251.0,955.8h0.6M234.4,959.3h0.6M267.6,970.0h0.6M252.4,976.9h0.6M239.5,957.3h0.6M245.3,977.0h0.6M254.8,955.6h0.6M254.3,955.7h0.6M265.2,959.9h0.6M234.1,971.7h0.6M248.1,977.1h0.6M232.6,965.8h0.6M254.8,954.9h0.6M268.2,968.9h0.6M247.3,956.4h0.6M260.9,957.6h0.6M237.8,960.3h0.6M231.6,965.3h0.6M234.1,969.8h0.6M253.1,955.2h0.6M244.2,977.0h0.6M239.7,958.1h0.6M236.4,959.7h0.6M261.1,975.5h0.6M247.1,956.3h0.6M251.1,976.7h0.6M235.8,961.7h0.6M236.3,973.5h0.6M262.8,974.4h0.6M264.9,959.6h0.6M238.5,973.9h0.6M245.7,956.9h0.6M246.6,956.7h0.6M245.4,976.6h0.6M243.5,976.2h0.6M260.0,974.9h0.6M236.3,961.6h0.6M239.4,975.1h0.6M241.8,976.5h0.6M254.8,955.1h0.6M242.9,957.0h0.6M260.4,955.8h0.6M270.0,966.9h0.6M264.1,974.5h0.6M232.9,965.6h0.6M242.5,976.1h0.6M236.7,961.2h0.6M234.2,965.1h0.6M234.2,970.3h0.6M234.6,970.9h0.6M264.6,972.9h0.6M262.2,957.6h0.6M259.0,977.0h0.6M262.9,956.7h0.6M240.7,975.7h0.6M262.6,957.4h0.6M265.8,972.1h0.6M268.2,963.9h0.6M266.6,970.3h0.6M268.9,970.0h0.6M251.6,955.1h0.6M242.0,976.2h0.6M243.2,956.8h0.6M269.9,963.9h0.6M254.7,956.2h0.6M233.7,967.0h0.6M232.1,967.1h0.6M242.4,976.9h0.6M256.0,955.6h0.6M253.9,978.3h0.6M263.5,957.0h0.6M233.9,968.1h0.6M249.5,954.6h0.6M233.9,966.7h0.6M234.8,963.6h0.6M233.6,967.0h0.6M267.9,961.6h0.6M248.7,976.9h0.6M264.0,974.7h0.6M234.5,971.5h0.6M255.2,955.0h0.6M268.4,971.8h0.6M267.4,970.5h0.6M239.8,958.9h0.6M255.7,976.6h0.6M234.1,966.1h0.6M236.1,972.6h0.6M239.9,958.4h0.6M266.9,959.9h0.6M256.1,976.5h0.6M250.7,955.6h0.6M250.8,977.4h0.6M246.9,976.7h0.6M239.0,959.1h0.6M242.8,976.3h0.6M241.0,957.9h0.6M247.4,977.9h0.6M233.8,963.4h0.6M264.9,972.7h0.6M268.3,961.3h0.6M253.5,977.0h0.6M239.2,974.7h0.6M252.2,955.0h0.6M268.2,967.1h0.6M237.6,960.2h0.6M240.5,977.0h0.6M264.4,958.5h0.6M262.6,974.8h0.6M236.5,961.1h0.6M249.8,956.0h0.6M239.3,958.3h0.6M236.1,961.4h0.6M235.4,972.3h0.6M233.4,968.3h0.6M254.0,955.4h0.6M266.9,972.1h0.6M234.3,969.7h0.6M260.8,975.5h0.6M258.7,976.4h0.6M236.6,957.3h0.6M261.1,955.0h0.6M248.2,956.3h0.6M272.3,968.2h0.6M270.7,970.5h0.6M247.9,976.8h0.6M271.3,965.1h0.6M258.2,955.5h0.6M269.4,966.7h0.6M268.3,959.4h0.6M244.6,957.0h0.6M238.5,975.2h0.6M249.0,955.7h0.6M267.9,963.4h0.6M231.5,964.0h0.6M244.1,976.6h0.6M237.5,974.0h0.6M232.2,968.3h0.6M237.0,961.3h0.6M235.3,971.8h0.6M234.2,965.8h0.6M242.2,976.8h0.6M267.7,962.2h0.6M260.5,957.2h0.6M255.5,953.9h0.6M235.4,971.9h0.6M270.0,968.0h0.6M253.3,976.8h0.6M241.4,957.6h0.6M268.3,965.8h0.6M238.2,974.4h0.6M268.1,970.4h0.6M234.9,963.3h0.6M232.1,966.0h0.6M257.2,955.7h0.6M233.1,967.6h0.6M262.2,975.7h0.6M268.6,963.8h0.6M241.4,977.6h0.6M236.5,961.6h0.6M268.7,971.0h0.6M239.9,975.1h0.6M243.0,957.1h0.6M233.6,966.9h0.6M251.6,977.0h0.6M235.4,975.5h0.6M258.2,976.3h0.6M254.7,977.4h0.6M268.9,965.3h0.6M240.1,958.5h0.6M235.7,971.4h0.6M268.5,972.0h0.6M266.5,958.3h0.6M236.1,960.0h0.6M244.6,976.3h0.6M264.4,956.0h0.6M240.8,975.1h0.6M244.5,955.6h0.6M234.3,968.6h0.6M238.5,959.5h0.6M263.8,974.1h0.6M247.1,956.3h0.6M252.8,978.7h0.6M270.4,964.2h0.6M246.0,977.8h0.6M248.1,955.9h0.6M234.6,964.7h0.6M238.5,975.1h0.6M240.8,957.7h0.6M257.2,976.2h0.6M269.5,966.8h0.6M248.8,955.9h0.6M269.4,961.9h0.6M264.8,958.2h0.6M262.3,956.6h0.6M251.1,976.7h0.6M244.4,977.0h0.6M232.7,972.0h0.6M269.4,965.0h0.6M252.6,954.4h0.6M268.8,966.5h0.6M268.5,966.3h0.6M270.0,963.4h0.6M255.5,976.1h0.6M250.2,956.0h0.6M269.7,958.6h0.6M261.8,956.5h0.6M267.8,965.4h0.6M242.2,975.6h0.6M266.9,969.3h0.6M263.0,973.8h0.6M266.9,971.1h0.6M254.4,976.7h0.6M268.9,968.1h0.6M233.0,961.9h0.6M264.2,959.1h0.6M243.8,956.1h0.6M255.2,976.9h0.6M270.1,966.8h0.6M246.5,978.8h0.6M264.7,973.1h0.6M234.9,962.8h0.6M243.8,976.7h0.6M267.8,960.1h0.6M237.7,960.6h0.6M267.8,958.7h0.6M247.3,956.3h0.6M262.5,975.0h0.6M234.0,966.7h0.6M244.5,977.6h0.6M271.0,966.1h0.6M240.0,956.7h0.6M267.6,968.3h0.6M270.7,966.6h0.6M233.2,969.9h0.6M239.9,958.0h0.6M268.1,959.0h0.6M241.6,976.1h0.6M247.6,977.8h0.6M251.7,955.0h0.6M266.6,957.6h0.6M239.7,958.6h0.6M253.0,976.8h0.6M265.8,972.5h0.6M249.0,955.0h0.6M239.3,959.0h0.6M242.7,956.8h0.6M233.6,966.3h0.6M234.9,962.3h0.6M232.9,967.7h0.6M251.0,955.5h0.6M246.2,954.1h0.6M237.5,959.9h0.6M242.5,975.7h0.6M245.2,976.8h0.6M267.3,966.4h0.6M246.4,976.5h0.6M236.5,974.0h0.6M247.5,976.7h0.6M232.1,969.0h0.6M242.8,956.1h0.6M269.9,970.9h0.6M267.8,972.9h0.6M259.8,956.1h0.6M238.9,959.3h0.6M234.6,960.3h0.6M263.9,957.7h0.6M266.8,961.5h0.6M267.4,958.5h0.6M264.4,957.5h0.6M243.3,977.1h0.6M256.0,956.0h0.6M252.6,955.1h0.6M265.4,972.8h0.6M242.5,957.5h0.6M264.3,957.9h0.6M265.0,972.1h0.6M247.2,976.9h0.6M262.5,973.5h0.6M264.9,971.7h0.6M245.4,976.9h0.6M235.4,962.4h0.6M239.3,974.8h0.6M239.8,958.3h0.6M248.1,977.4h0.6M266.3,971.3h0.6M267.5,965.2h0.6M264.7,971.6h0.6M239.1,975.2h0.6M242.5,976.5h0.6M237.3,975.6h0.6M266.4,957.7h0.6M235.1,972.2h0.6M270.8,964.7h0.6M258.2,955.6h0.6M268.8,964.8h0.6M231.4,969.9h0.6M264.6,972.9h0.6M244.7,978.1h0.6M233.7,962.4h0.6M240.3,958.2h0.6M251.8,955.1h0.6M234.9,960.1h0.6M263.8,958.0h0.6M261.3,974.2h0.6M262.7,956.8h0.6M258.0,956.2h0.6M271.4,967.7h0.6M235.2,962.0h0.6M268.1,964.0h0.6M252.2,977.8h0.6M232.8,964.6h0.6M251.5,976.7h0.6M258.3,977.7h0.6M258.8,955.6h0.6M271.1,961.8h0.6M234.2,967.5h0.6M233.6,966.7h0.6M249.9,977.3h0.6M268.6,963.2h0.6M248.8,956.1h0.6M253.8,954.3h0.6M245.6,976.4h0.6M248.5,955.1h0.6M249.6,977.1h0.6M253.4,976.7h0.6M238.6,974.3h0.6M245.0,976.8h0.6M269.8,965.5h0.6M262.5,974.2h0.6M233.4,964.5h0.6M265.3,972.4h0.6M263.3,958.4h0.6M234.7,970.9h0.6M243.0,975.9h0.6M254.3,976.5h0.6M244.4,977.2h0.6M265.3,957.8h0.6M268.7,965.7h0.6M233.8,965.4h0.6M236.7,959.6h0.6M251.2,977.1h0.6M266.3,970.8h0.6M244.3,977.8h0.6M236.7,961.0h0.6M270.1,965.8h0.6M263.2,956.5h0.6M249.2,978.1h0.6M243.9,978.2h0.6M265.5,959.2h0.6M269.0,962.3h0.6M268.3,965.7h0.6M234.2,963.3h0.6M266.0,960.5h0.6M263.0,958.4h0.6M263.5,974.9h0.6M245.6,977.9h0.6M252.0,955.8h0.6M245.1,956.6h0.6M247.3,977.2h0.6M268.7,967.5h0.6M270.1,963.6h0.6M236.5,961.6h0.6M268.9,964.0h0.6M233.3,969.6h0.6M257.7,955.0h0.6M243.3,976.1h0.6M261.4,956.7h0.6M270.5,965.9h0.6M268.3,967.9h0.6M271.8,963.9h0.6M235.9,973.1h0.6M267.4,971.4h0.6M259.6,975.9h0.6M246.3,955.5h0.6M237.1,961.1h0.6M258.9,976.4h0.6M263.5,973.5h0.6M268.5,963.3h0.6M269.2,963.8h0.6M241.8,977.9h0.6M232.6,965.3h0.6M243.0,957.3h0.6M251.8,954.9h0.6M264.0,956.6h0.6M234.8,970.0h0.6M258.9,976.1h0.6M239.0,975.3h0.6M243.0,976.3h0.6M239.5,957.3h0.6M264.3,973.5h0.6M263.5,974.8h0.6M259.2,955.4h0.6M259.0,977.1h0.6M252.8,976.6h0.6M257.1,955.3h0.6M263.9,957.9h0.6M241.9,957.3h0.6M235.2,972.5h0.6M259.4,975.6h0.6M233.6,964.8h0.6M242.8,977.1h0.6M246.6,955.6h0.6M259.3,955.7h0.6M263.5,959.0h0.6M249.5,955.8h0.6M266.3,971.5h0.6M267.5,968.5h0.6M244.5,956.6h0.6M233.7,963.7h0.6M235.7,975.4h0.6M253.3,978.0h0.6M233.6,960.6h0.6M267.8,968.9h0.6M234.1,964.7h0.6M251.5,977.2h0.6M257.6,954.6h0.6M252.1,976.8h0.6M243.3,977.7h0.6M256.5,953.7h0.6M231.5,968.2h0.6M235.0,961.3h0.6M255.9,977.2h0.6M240.0,976.5h0.6M246.9,956.1h0.6M254.2,976.8h0.6M234.4,973.0h0.6M271.7,962.6h0.6M270.7,963.2h0.6M269.8,968.9h0.6M261.7,977.1h0.6M260.0,975.8h0.6M241.6,975.6h0.6M234.2,970.7h0.6M260.2,955.9h0.6M266.0,961.2h0.6M235.2,963.2h0.6M264.1,955.4h0.6M271.2,966.0h0.6M239.7,974.7h0.6M265.9,972.6h0.6M269.2,963.9h0.6M267.5,972.9h0.6M267.9,974.2h0.6M235.0,961.3h0.6M233.4,969.8h0.6M260.7,955.6h0.6M265.6,959.3h0.6M234.7,973.6h0.6M232.9,964.9h0.6M266.4,970.8h0.6M256.0,955.8h0.6M240.2,957.0h0.6M268.5,969.3h0.6M235.0,971.1h0.6M260.7,975.8h0.6M252.8,955.8h0.6M241.1,976.4h0.6M250.5,977.0h0.6M244.8,956.1h0.6M265.1,972.9h0.6M271.3,965.2h0.6M234.8,972.0h0.6M241.6,976.1h0.6M240.9,975.8h0.6M267.2,969.2h0.6M257.3,976.2h0.6M262.6,974.6h0.6M248.5,977.3h0.6M245.0,956.3h0.6M261.3,957.3h0.6M233.9,967.9h0.6M270.4,968.5h0.6M238.1,974.0h0.6M235.7,971.3h0.6M263.1,956.9h0.6M267.8,964.0h0.6M257.8,955.5h0.6M234.4,969.2h0.6M269.0,963.9h0.6M257.3,955.5h0.6M257.3,955.2h0.6M266.0,959.4h0.6M263.7,958.3h0.6M233.3,965.9h0.6M260.8,974.6h0.6M269.1,964.6h0.6M266.4,958.8h0.6M264.1,959.6h0.6M244.3,977.9h0.6M256.8,976.1h0.6M268.1,965.3h0.6M233.5,973.9h0.6M249.9,977.2h0.6M252.3,977.6h0.6M255.8,977.0h0.6M267.6,963.3h0.6M266.9,969.0h0.6M234.8,961.3h0.6M267.4,962.2h0.6M234.4,974.3h0.6M234.4,963.3h0.6M249.2,955.9h0.6M256.0,977.0h0.6M236.5,961.4h0.6M261.7,956.4h0.6M244.7,955.2h0.6M262.1,957.0h0.6M238.8,974.3h0.6M269.4,962.9h0.6M232.2,974.5h0.6M233.6,967.0h0.6M270.0,973.4h0.6M238.3,976.0h0.6M239.4,976.1h0.6M234.8,972.4h0.6M239.3,975.2h0.6M270.5,967.8h0.6M235.4,971.6h0.6M249.9,977.1h0.6M264.6,972.6h0.6M245.1,976.4h0.6M233.5,963.8h0.6M262.8,956.1h0.6M253.0,977.5h0.6M239.0,974.4h0.6M232.8,968.4h0.6M268.4,963.8h0.6M248.0,976.8h0.6M269.4,962.7h0.6M264.1,958.4h0.6M245.7,976.9h0.6M253.2,977.0h0.6M233.8,969.2h0.6M248.7,979.6h0.6M267.8,968.7h0.6M255.5,976.4h0.6M268.5,962.2h0.6M267.7,964.9h0.6M260.2,976.8h0.6M241.9,976.5h0.6M235.8,961.4h0.6M252.7,956.0h0.6M241.9,977.1h0.6M262.5,977.3h0.6M270.5,964.3h0.6M272.2,966.0h0.6M232.9,967.1h0.6M233.5,963.4h0.6M239.6,958.0h0.6M267.4,961.6h0.6M267.8,961.7h0.6M268.7,965.7h0.6M233.7,968.6h0.6M269.8,966.7h0.6M238.9,958.7h0.6M236.4,972.6h0.6M270.1,961.8h0.6M248.2,976.8h0.6M264.0,972.4h0.6M264.6,972.7h0.6M262.8,973.5h0.6M260.1,956.4h0.6M257.6,955.8h0.6M270.3,970.8h0.6M266.4,961.8h0.6M239.7,975.6h0.6M269.2,966.9h0.6M260.3,955.7h0.6M236.1,960.7h0.6M266.5,961.0h0.6M259.3,975.1h0.6M273.7,966.5h0.6M260.6,955.4h0.6M235.6,961.3h0.6M234.3,962.2h0.6M267.6,960.8h0.6M268.0,963.8h0.6M234.5,971.9h0.6M261.6,954.7h0.6M255.1,955.1h0.6M250.1,956.1h0.6M254.7,956.0h0.6M235.0,970.8h0.6M244.5,978.5h0.6M259.4,976.2h0.6M246.5,956.4h0.6M242.5,957.6h0.6M252.6,978.2h0.6M238.8,957.5h0.6M265.8,974.1h0.6M268.5,967.2h0.6M236.0,961.2h0.6M234.6,971.0h0.6M268.1,967.1h0.6M233.9,964.7h0.6M242.0,976.4h0.6M254.6,977.1h0.6M254.8,954.8h0.6M265.9,960.0h0.6M241.5,975.9h0.6M246.6,977.5h0.6M249.3,956.0h0.6M271.1,963.3h0.6M258.2,977.1h0.6M268.8,963.0h0.6M239.8,975.1h0.6M251.3,954.3h0.6M254.8,954.6h0.6M260.1,957.2h0.6M258.3,956.5h0.6M235.0,963.8h0.6M246.2,976.8h0.6M261.2,956.2h0.6M236.4,960.9h0.6M263.0,975.4h0.6M234.5,973.9h0.6M257.7,954.7h0.6M243.6,976.1h0.6M270.2,965.6h0.6M267.0,967.4h0.6M268.2,963.2h0.6M266.9,960.0h0.6M265.4,960.6h0.6M240.4,957.5h0.6M236.7,973.8h0.6M251.3,955.8h0.6M259.4,954.8h0.6M268.3,969.7h0.6M269.2,967.2h0.6M237.8,977.8h0.6M267.5,962.4h0.6M250.7,977.2h0.6M247.5,978.2h0.6M233.5,967.0h0.6M259.8,953.8h0.6M237.5,958.9h0.6M233.7,962.5h0.6M233.8,966.5h0.6M270.7,968.8h0.6M233.5,966.7h0.6M260.9,975.4h0.6M239.9,958.2h0.6M263.0,974.1h0.6M269.7,970.4h0.6M264.8,958.7h0.6M267.4,958.3h0.6M259.3,975.5h0.6M269.3,967.0h0.6M263.1,956.9h0.6M269.5,966.0h0.6M271.5,967.7h0.6M268.7,969.3h0.6M267.8,965.0h0.6M233.3,969.8h0.6M244.4,957.1h0.6M259.5,956.0h0.6M253.3,977.4h0.6M246.4,956.5h0.6M237.1,974.4h0.6M248.6,978.2h0.6M237.8,973.7h0.6M262.9,974.6h0.6M234.4,964.6h0.6M270.7,965.9h0.6M233.1,961.6h0.6M264.2,972.8h0.6M250.2,955.3h0.6M237.9,974.8h0.6M267.7,968.9h0.6M265.5,958.7h0.6M232.5,968.9h0.6M233.8,967.9h0.6M262.6,973.9h0.6M247.5,977.6h0.6M254.4,976.7h0.6M239.5,976.2h0.6M238.4,959.6h0.6M257.7,976.7h0.6M245.9,977.2h0.6M264.0,973.4h0.6M242.2,956.7h0.6M233.0,966.0h0.6M267.3,959.6h0.6M259.0,977.0h0.6M269.0,966.4h0.6M261.0,974.4h0.6M235.8,972.7h0.6M243.4,955.9h0.6M254.5,954.8h0.6M266.4,958.2h0.6M247.0,977.9h0.6M236.6,973.0h0.6M235.1,971.2h0.6M246.8,956.4h0.6M239.4,974.6h0.6M258.3,955.7h0.6M251.6,976.6h0.6M250.8,955.8h0.6M247.6,978.6h0.6M255.2,956.0h0.6M263.3,974.4h0.6M247.6,977.6h0.6M235.8,974.4h0.6M251.2,954.8h0.6M235.9,971.6h0.6M248.6,978.6h0.6M257.5,975.8h0.6M247.3,955.9h0.6M263.6,958.0h0.6M264.9,956.6h0.6M235.5,962.8h0.6M267.8,968.6h0.6M241.1,975.7h0.6M242.2,975.9h0.6M267.2,960.0h0.6M269.2,968.0h0.6M261.5,957.1h0.6M249.6,976.8h0.6M266.7,960.5h0.6M237.6,974.2h0.6M237.6,959.9h0.6M235.9,972.2h0.6M264.7,972.4h0.6M261.7,956.6h0.6M238.8,975.1h0.6M261.9,974.8h0.6M245.5,976.7h0.6M250.7,977.8h0.6M250.4,955.8h0.6M270.5,966.5h0.6M236.8,959.9h0.6M262.4,957.5h0.6M232.5,966.8h0.6M232.1,971.7h0.6M235.0,961.1h0.6M267.1,960.9h0.6M272.3,962.8h0.6M268.3,969.9h0.6M262.5,957.6h0.6M269.4,966.7h0.6M253.2,977.6h0.6M264.6,975.3h0.6M265.6,957.6h0.6M263.0,957.4h0.6M266.2,971.2h0.6M236.1,971.9h0.6M245.8,956.5h0.6M237.2,973.4h0.6M242.6,957.6h0.6M236.5,972.5h0.6M246.6,956.2h0.6M254.1,955.3h0.6M259.5,956.8h0.6M253.5,976.6h0.6M263.8,975.1h0.6M232.9,968.5h0.6M241.2,976.5h0.6M234.3,964.8h0.6M267.1,959.0h0.6M236.5,973.2h0.6M270.4,965.3h0.6M244.5,977.4h0.6M249.9,955.0h0.6M265.6,971.7h0.6M265.3,971.8h0.6M269.2,964.7h0.6M252.5,976.6h0.6M237.6,974.2h0.6M232.0,969.5h0.6M237.3,960.0h0.6M262.7,973.9h0.6M233.1,969.0h0.6M268.4,967.3h0.6M243.1,956.5h0.6M268.3,969.5h0.6M236.1,973.1h0.6M234.7,963.5h0.6M240.0,975.6h0.6M249.4,954.8h0.6M259.9,975.6h0.6M252.4,954.3h0.6M237.0,972.8h0.6M236.5,960.8h0.6M232.4,963.3h0.6M233.0,966.3h0.6M252.7,977.7h0.6M267.4,972.8h0.6M270.5,968.8h0.6M262.1,956.0h0.6M269.1,965.5h0.6M231.4,968.4h0.6M241.0,958.4h0.6M237.0,974.1h0.6M251.3,955.5h0.6M266.4,961.5h0.6M254.1,955.7h0.6M246.8,977.6h0.6M265.0,972.0h0.6M252.4,976.9h0.6M267.6,970.3h0.6M253.7,976.9h0.6M262.6,976.0h0.6M235.8,972.9h0.6M235.0,972.2h0.6M265.9,958.8h0.6M233.9,967.7h0.6M233.3,965.3h0.6M239.2,974.3h0.6M242.1,978.6h0.6M233.2,971.9h0.6M241.1,975.8h0.6M251.8,976.8h0.6M234.0,964.0h0.6M258.2,955.1h0.6M260.1,956.7h0.6M263.4,974.3h0.6M239.0,974.4h0.6M241.5,958.3h0.6M239.7,975.0h0.6M239.3,959.3h0.6M240.1,958.4h0.6M243.0,977.2h0.6M267.8,963.2h0.6M243.8,977.4h0.6M249.8,976.7h0.6M268.7,964.3h0.6M264.4,975.0h0.6M237.7,960.1h0.6M255.0,976.4h0.6M237.1,973.1h0.6M234.5,972.8h0.6M234.2,964.4h0.6M235.9,971.8h0.6M262.4,957.2h0.6M234.4,971.0h0.6M231.6,966.4h0.6M252.5,955.3h0.6M241.3,975.9h0.6M262.3,976.2h0.6M251.0,977.9h0.6M251.7,977.5h0.6M233.0,964.7h0.6M265.7,971.2h0.6M267.5,961.6h0.6M240.1,958.4h0.6M238.2,959.9h0.6M270.3,961.3h0.6M237.5,960.8h0.6M268.0,970.1h0.6M265.4,957.9h0.6M262.0,956.6h0.6M267.2,961.1h0.6M236.0,961.9h0.6M232.5,966.4h0.6M254.6,955.5h0.6M253.1,954.3h0.6M232.4,969.5h0.6M252.3,955.9h0.6M234.5,972.1h0.6M270.3,964.5h0.6M245.1,977.0h0.6M256.2,955.0h0.6M235.8,974.0h0.6M268.8,966.3h0.6M238.6,974.5h0.6M262.5,956.5h0.6M234.7,963.9h0.6M246.2,977.5h0.6M239.8,976.4h0.6M244.2,956.9h0.6M257.0,954.6h0.6M233.0,967.9h0.6M251.2,955.9h0.6M232.4,964.6h0.6M263.9,956.0h0.6M234.0,965.0h0.6M234.7,974.1h0.6M244.1,977.4h0.6M264.9,975.2h0.6M251.8,954.9h0.6M239.4,959.3h0.6M233.9,966.8h0.6M245.5,956.3h0.6M266.5,974.0h0.6M240.2,958.7h0.6M255.3,955.2h0.6M232.3,971.1h0.6M263.5,956.3h0.6M244.8,977.2h0.6M265.7,960.2h0.6M242.7,955.9h0.6M267.9,960.2h0.6M271.0,966.7h0.6M241.4,958.2h0.6M236.7,961.3h0.6M266.1,960.6h0.6M247.1,978.1h0.6M268.7,960.8h0.6M233.5,963.2h0.6M231.1,965.7h0.6M263.3,973.5h0.6M253.6,955.1h0.6M262.7,958.2h0.6M258.8,955.4h0.6M263.6,975.0h0.6M261.6,957.0h0.6M263.2,955.8h0.6M235.5,959.3h0.6M233.9,967.7h0.6M234.3,965.5h0.6M231.3,971.6h0.6M232.9,966.3h0.6M264.6,972.4h0.6M266.9,972.5h0.6M233.9,969.3h0.6M244.4,955.8h0.6M256.8,955.0h0.6M250.3,976.7h0.6M236.2,975.5h0.6M244.3,977.1h0.6M237.4,959.2h0.6M239.9,958.3h0.6M269.1,967.6h0.6M250.2,955.4h0.6M271.9,966.1h0.6M261.2,975.6h0.6M266.5,971.0h0.6M238.5,975.3h0.6M236.3,962.0h0.6M259.4,975.9h0.6M267.1,958.1h0.6M268.8,962.9h0.6M248.6,956.1h0.6M238.8,957.9h0.6M267.2,969.0h0.6M258.6,956.9h0.6M234.3,970.5h0.6M254.4,955.4h0.6M268.8,967.6h0.6M266.5,960.7h0.6M269.3,963.8h0.6M237.4,956.4h0.6M233.0,972.5h0.6M249.4,955.5h0.6M249.7,978.5h0.6M232.8,966.0h0.6M234.8,961.9h0.6M250.6,977.8h0.6M252.4,954.7h0.6M235.2,973.4h0.6M239.3,959.4h0.6M248.7,976.9h0.6M237.0,973.4h0.6M234.4,972.3h0.6M268.4,968.6h0.6M236.5,960.9h0.6M244.1,976.6h0.6M231.7,969.9h0.6M254.6,977.5h0.6M251.7,955.3h0.6M234.7,960.4h0.6M234.2,970.8h0.6M262.8,957.4h0.6M234.5,971.3h0.6M258.0,955.1h0.6M243.9,957.0h0.6M258.8,952.8h0.6M254.3,977.7h0.6M258.2,978.0h0.6M254.4,976.4h0.6M233.0,960.4h0.6M234.2,970.4h0.6M234.7,963.4h0.6M268.0,962.5h0.6M238.3,959.4h0.6M235.8,959.9h0.6M232.4,968.1h0.6M264.1,974.7h0.6M267.4,961.8h0.6M252.2,978.6h0.6M254.8,976.2h0.6M253.8,955.9h0.6M239.0,959.7h0.6M237.8,959.1h0.6M266.5,958.9h0.6M267.0,973.4h0.6M260.5,957.1h0.6M256.9,977.1h0.6M267.7,961.8h0.6M234.1,963.7h0.6M241.5,955.6h0.6M252.0,977.2h0.6M237.7,974.4h0.6M235.5,972.6h0.6M248.1,956.2h0.6M235.2,960.1h0.6M263.4,957.9h0.6M266.3,961.6h0.6M240.1,975.3h0.6M269.1,968.4h0.6M243.8,957.0h0.6M267.8,972.7h0.6M243.4,976.7h0.6M242.8,976.1h0.6M239.4,974.9h0.6M259.3,976.4h0.6M259.5,955.5h0.6M233.7,967.7h0.6M264.7,959.3h0.6M256.3,956.0h0.6M246.0,976.8h0.6M254.1,976.6h0.6M267.7,969.6h0.6M234.7,971.5h0.6M266.6,958.6h0.6M267.7,963.5h0.6M233.7,966.0h0.6M235.2,962.1h0.6M263.6,958.2h0.6M262.9,974.7h0.6M264.0,957.0h0.6M256.5,955.7h0.6M240.5,958.0h0.6M245.8,977.5h0.6M233.7,961.1h0.6M243.1,957.5h0.6M255.8,954.4h0.6M245.4,977.7h0.6M267.6,961.0h0.6M250.4,955.9h0.6M233.8,964.7h0.6M239.2,958.0h0.6M264.6,957.8h0.6M268.6,967.3h0.6M253.4,955.7h0.6M239.4,974.8h0.6M235.7,960.6h0.6M246.8,977.0h0.6M233.7,969.4h0.6M253.6,977.9h0.6M247.6,954.2h0.6M241.1,957.0h0.6M266.0,971.6h0.6M262.8,957.3h0.6M234.1,968.2h0.6M241.5,956.3h0.6M270.0,963.5h0.6M268.7,963.0h0.6M270.5,965.4h0.6M265.8,958.5h0.6M233.4,964.7h0.6M233.6,969.6h0.6M234.3,968.6h0.6M260.5,957.3h0.6M260.2,954.7h0.6M265.5,958.8h0.6M262.1,976.4h0.6M245.1,956.1h0.6M265.3,971.4h0.6M240.6,976.6h0.6M252.3,954.8h0.6M246.5,956.5h0.6M259.3,975.2h0.6M265.3,973.2h0.6M235.3,971.4h0.6M253.8,955.6h0.6M238.4,958.9h0.6M244.3,976.5h0.6M273.8,963.3h0.6M242.5,975.9h0.6M236.2,975.1h0.6M265.2,972.7h0.6M239.9,975.7h0.6M271.7,967.1h0.6M267.6,960.8h0.6M245.0,976.8h0.6M269.4,970.5h0.6M267.5,961.3h0.6M260.6,975.8h0.6M234.3,971.4h0.6M270.2,969.7h0.6M250.5,954.0h0.6M247.8,955.8h0.6M234.1,960.0h0.6M236.1,961.8h0.6M248.3,978.2h0.6M266.9,958.7h0.6M247.0,955.3h0.6M259.9,975.7h0.6M258.9,955.7h0.6M260.6,954.5h0.6M254.4,978.6h0.6M265.5,956.9h0.6M254.7,955.6h0.6M231.9,970.0h0.6M269.9,961.7h0.6M252.4,955.9h0.6M264.8,958.7h0.6M250.5,955.4h0.6M233.7,968.1h0.6M265.1,958.4h0.6M253.0,955.7h0.6M233.4,964.6h0.6M257.6,955.9h0.6M233.9,968.0h0.6M265.5,972.2h0.6M270.7,965.1h0.6M250.7,955.7h0.6M271.0,964.6h0.6M239.7,957.7h0.6M255.9,976.4h0.6M258.3,977.4h0.6M234.2,974.7h0.6M239.8,959.1h0.6M260.9,975.1h0.6M238.9,974.2h0.6M266.6,958.9h0.6M233.6,966.2h0.6M253.6,955.8h0.6M250.0,977.3h0.6M269.4,971.4h0.6M264.0,974.0h0.6M238.8,958.1h0.6M257.5,976.4h0.6M233.7,970.9h0.6M253.1,976.7h0.6M247.2,976.9h0.6M244.8,978.6h0.6M270.0,967.7h0.6M235.6,961.6h0.6M247.3,956.5h0.6M264.1,958.5h0.6M244.4,956.3h0.6M249.4,977.6h0.6M264.7,972.6h0.6M268.5,965.2h0.6M265.4,972.3h0.6M235.3,974.8h0.6M260.7,975.9h0.6M233.1,965.5h0.6M234.5,961.0h0.6M265.7,972.5h0.6M239.4,975.0h0.6M235.2,973.3h0.6M234.3,966.0h0.6M246.0,978.2h0.6M233.8,969.1h0.6M251.9,956.0h0.6M234.7,961.9h0.6M251.9,955.1h0.6M263.4,956.7h0.6M249.4,976.9h0.6M239.0,958.2h0.6M243.2,956.5h0.6M235.2,960.5h0.6M259.8,954.3h0.6M236.7,960.7h0.6M235.6,960.9h0.6M243.5,956.3h0.6M268.7,962.9h0.6M233.6,966.8h0.6M244.4,957.2h0.6M235.7,973.6h0.6M269.8,971.1h0.6M265.0,958.8h0.6M248.8,954.8h0.6M270.3,970.6h0.6M259.5,955.3h0.6M231.4,969.9h0.6M241.5,977.0h0.6M261.1,974.2h0.6M244.6,956.2h0.6M260.9,955.0h0.6M233.9,963.7h0.6M268.9,968.2h0.6M239.3,974.9h0.6M264.1,956.8h0.6M264.9,972.3h0.6M241.5,975.8h0.6M250.9,955.8h0.6M267.5,972.1h0.6M233.1,964.8h0.6M244.4,976.2h0.6M232.7,963.8h0.6M234.7,961.3h0.6M247.9,956.3h0.6M241.7,976.6h0.6M233.8,970.4h0.6M241.1,957.3h0.6M233.2,968.2h0.6M269.1,964.4h0.6M254.2,956.2h0.6M234.5,964.8h0.6M243.8,955.4h0.6M250.6,976.9h0.6M262.6,956.7h0.6M237.3,959.2h0.6M254.5,977.3h0.6M261.6,954.9h0.6M246.5,954.9h0.6M232.9,969.9h0.6M236.4,973.3h0.6M267.3,970.7h0.6M270.5,964.9h0.6M265.2,972.1h0.6M248.0,976.8h0.6M268.9,961.0h0.6M265.5,959.8h0.6M269.6,968.2h0.6M256.4,955.7h0.6M234.9,972.1h0.6M238.2,960.0h0.6M263.7,973.9h0.6M245.6,955.7h0.6M244.3,976.3h0.6M267.5,971.9h0.6M240.0,976.7h0.6M254.4,977.0h0.6M244.6,976.9h0.6M259.2,953.7h0.6M244.8,957.0h0.6M236.8,959.5h0.6M232.8,969.0h0.6M267.7,969.0h0.6M239.3,959.1h0.6M272.0,968.1h0.6M252.2,955.4h0.6M249.6,956.0h0.6M262.8,956.8h0.6M268.9,967.1h0.6M244.4,956.4h0.6M266.8,970.3h0.6M259.8,978.9h0.6M236.1,961.7h0.6M255.4,955.4h0.6M267.6,958.7h0.6M269.6,968.2h0.6M251.1,954.4h0.6M253.3,978.1h0.6M268.8,961.5h0.6M267.7,969.4h0.6M241.3,976.0h0.6M248.2,955.6h0.6M237.5,974.0h0.6M237.2,973.9h0.6M234.9,970.4h0.6M233.6,970.9h0.6M254.6,955.1h0.6M235.2,971.1h0.6M269.3,962.4h0.6M268.9,968.6h0.6M268.1,962.3h0.6M270.5,963.2h0.6M234.1,962.6h0.6M234.2,965.8h0.6M266.3,973.5h0.6M263.7,958.1h0.6M238.2,959.0h0.6M250.1,955.9h0.6M234.4,972.0h0.6M270.4,962.7h0.6M253.1,956.0h0.6M236.2,974.4h0.6M266.0,970.7h0.6M240.6,958.6h0.6M237.4,973.8h0.6M264.9,956.1h0.6M272.0,968.3h0.6M256.2,975.9h0.6M252.6,955.2h0.6M234.6,973.6h0.6M234.0,966.5h0.6M263.9,958.4h0.6M237.9,974.5h0.6M237.0,960.1h0.6M270.9,965.8h0.6M234.0,969.9h0.6M270.3,967.0h0.6M244.9,976.9h0.6M247.0,977.6h0.6M245.3,977.0h0.6M246.7,955.0h0.6M265.4,972.8h0.6M244.1,976.2h0.6M238.6,959.4h0.6M269.3,964.9h0.6M270.8,966.0h0.6M249.1,955.7h0.6M256.8,977.4h0.6M250.3,954.6h0.6M234.0,971.4h0.6M245.5,954.3h0.6M263.7,956.6h0.6M273.0,965.3h0.6M242.7,957.3h0.6M265.5,957.1h0.6M271.8,962.1h0.6M268.7,965.4h0.6M234.2,969.8h0.6M266.6,970.8h0.6M263.6,973.2h0.6M242.4,957.6h0.6M269.8,969.9h0.6M267.6,960.9h0.6M234.2,965.8h0.6M247.1,955.5h0.6M267.8,961.2h0.6M270.5,966.8h0.6M260.7,955.7h0.6M233.7,967.7h0.6M233.0,967.0h0.6M257.0,955.7h0.6M250.2,977.5h0.6M234.4,972.7h0.6M236.1,973.0h0.6M267.9,962.0h0.6M271.5,964.4h0.6M251.3,977.1h0.6M236.3,960.3h0.6M245.7,977.1h0.6M233.8,966.3h0.6M242.7,955.9h0.6M235.8,973.1h0.6M253.4,955.6h0.6M269.2,965.6h0.6M233.7,964.6h0.6M248.8,978.9h0.6M263.9,973.0h0.6M239.7,974.7h0.6M234.6,974.4h0.6M251.2,978.6h0.6M262.3,974.3h0.6M269.1,966.2h0.6M233.2,967.5h0.6M238.2,974.6h0.6M268.0,968.1h0.6M255.2,977.6h0.6M234.2,969.2h0.6M233.6,965.7h0.6M260.1,975.3h0.6M236.6,974.6h0.6M246.1,956.0h0.6M269.8,965.7h0.6M232.4,968.0h0.6M252.9,954.8h0.6M234.8,963.5h0.6M235.0,971.6h0.6M236.1,961.2h0.6M255.0,955.9h0.6M248.8,976.8h0.6M232.5,967.7h0.6M261.0,955.6h0.6M268.5,962.2h0.6M238.8,974.9h0.6M254.5,977.2h0.6M262.7,976.1h0.6M249.1,955.3h0.6M262.7,955.4h0.6M234.3,963.3h0.6M259.7,976.4h0.6M241.0,977.3h0.6M247.4,977.7h0.6M238.8,976.3h0.6M270.0,967.9h0.6M249.7,955.9h0.6M267.5,973.5h0.6M262.4,957.6h0.6M250.8,955.8h0.6M240.5,958.5h0.6M247.9,956.4h0.6M264.8,959.1h0.6M263.8,974.0h0.6M268.7,961.0h0.6M266.0,972.4h0.6M236.5,973.2h0.6M256.3,977.3h0.6M253.4,977.5h0.6M238.8,975.6h0.6M262.9,974.7h0.6M241.6,975.4h0.6M236.5,961.9h0.6M268.7,969.2h0.6M244.2,976.3h0.6M233.2,969.3h0.6M241.3,957.8h0.6M233.8,963.2h0.6M251.5,955.2h0.6M245.3,956.9h0.6M266.5,971.7h0.6M240.6,976.1h0.6M261.0,974.8h0.6M262.4,955.6h0.6M252.2,977.5h0.6M240.3,974.9h0.6M253.6,977.3h0.6M253.4,979.4h0.6M245.8,955.5h0.6M251.6,977.0h0.6M233.8,963.2h0.6M241.2,958.3h0.6M253.0,955.7h0.6M237.2,974.7h0.6M247.0,956.3h0.6M242.1,975.7h0.6M247.0,956.1h0.6M238.8,959.0h0.6M266.2,970.9h0.6M244.2,956.1h0.6M268.4,972.5h0.6M269.8,966.3h0.6M232.0,967.6h0.6M255.6,955.1h0.6M265.0,974.6h0.6M268.2,969.5h0.6M233.7,965.9h0.6M265.3,972.7h0.6M265.2,971.9h0.6M235.5,961.6h0.6M240.8,975.9h0.6M230.7,967.1h0.6M237.3,960.5h0.6M270.0,963.6h0.6M257.3,953.7h0.6M242.5,957.1h0.6M260.5,974.8h0.6M235.1,962.5h0.6M244.3,976.6h0.6M263.2,958.0h0.6M237.5,973.8h0.6M255.3,977.8h0.6M266.2,960.7h0.6M250.2,977.5h0.6M235.5,971.8h0.6M233.8,971.9h0.6M262.9,957.0h0.6M267.9,961.9h0.6M262.9,955.8h0.6M268.2,958.1h0.6M240.3,958.1h0.6M266.6,956.3h0.6M242.1,956.5h0.6M234.2,961.7h0.6M260.0,953.4h0.6M251.8,977.1h0.6M258.5,976.5h0.6M253.2,955.1h0.6M247.4,978.3h0.6M244.6,976.6h0.6M264.1,958.7h0.6M258.3,954.8h0.6M252.4,955.6h0.6M262.4,973.5h0.6M239.4,959.4h0.6M252.4,978.2h0.6M237.1,960.9h0.6M250.2,955.4h0.6M258.4,954.8h0.6M234.3,962.5h0.6M238.8,959.6h0.6M234.1,961.5h0.6M262.9,955.6h0.6M261.4,955.4h0.6M236.8,974.1h0.6M264.4,976.0h0.6M247.0,956.5h0.6M252.1,955.7h0.6M256.7,955.4h0.6M270.2,968.8h0.6M259.2,954.2h0.6M235.5,962.0h0.6M258.4,955.5h0.6M256.0,976.3h0.6M242.4,957.1h0.6M255.4,976.2h0.6M265.7,974.1h0.6M256.0,956.0h0.6M267.9,970.5h0.6M258.5,955.8h0.6M237.9,960.1h0.6M238.1,960.3h0.6M232.0,965.8h0.6M237.5,973.2h0.6M264.2,975.0h0.6M232.4,969.2h0.6M232.8,963.7h0.6M262.5,957.0h0.6M233.5,968.4h0.6M265.3,971.6h0.6M233.6,966.1h0.6M241.8,976.4h0.6M265.9,959.7h0.6M268.4,965.8h0.6M236.0,973.9h0.6M266.5,959.9h0.6M267.1,960.9h0.6M232.8,962.5h0.6M235.9,972.7h0.6M259.3,956.0h0.6M241.9,976.5h0.6M267.4,970.2h0.6M256.4,977.4h0.6M233.9,963.4h0.6M240.8,957.9h0.6M267.1,970.2h0.6M235.7,971.5h0.6M235.3,971.2h0.6M232.8,964.5h0.6M263.7,957.4h0.6M232.0,966.6h0.6M261.7,974.1h0.6M268.9,970.2h0.6M245.4,956.9h0.6M263.9,974.4h0.6M247.0,976.8h0.6M249.3,956.2h0.6M250.4,977.6h0.6M232.1,967.6h0.6M248.0,954.7h0.6M245.9,956.7h0.6M244.7,956.9h0.6M268.4,965.9h0.6M246.5,976.7h0.6M255.3,977.7h0.6M269.0,963.1h0.6M258.6,954.9h0.6M248.9,976.9h0.6M249.1,956.2h0.6M235.3,962.2h0.6M263.7,973.4h0.6M241.3,976.1h0.6M252.1,977.4h0.6M242.2,957.8h0.6M238.3,974.6h0.6M268.5,965.5h0.6M245.6,977.1h0.6M234.9,963.9h0.6M234.5,961.9h0.6M265.3,959.4h0.6M267.3,972.8h0.6M236.9,961.3h0.6M268.1,960.6h0.6M263.6,975.2h0.6M255.4,977.6h0.6M245.4,954.1h0.6M233.3,969.7h0.6M232.5,966.1h0.6M259.5,978.6h0.6M269.1,962.1h0.6M237.4,974.0h0.6M253.9,977.8h0.6M235.2,971.6h0.6M233.6,963.3h0.6M236.1,974.1h0.6M248.4,977.8h0.6M240.6,958.1h0.6M269.8,964.8h0.6M260.4,976.3h0.6M234.3,968.3h0.6M236.9,973.6h0.6M252.7,977.2h0.6M266.6,959.5h0.6M266.5,971.5h0.6M270.0,964.8h0.6M233.6,971.3h0.6M268.2,969.6h0.6M256.5,977.8h0.6M235.7,971.4h0.6M242.5,956.0h0.6M238.2,973.9h0.6M242.8,976.1h0.6M267.5,971.1h0.6M242.2,976.2h0.6M256.6,953.9h0.6M255.3,977.4h0.6M249.4,976.8h0.6M254.7,976.8h0.6M259.6,975.4h0.6M263.4,956.6h0.6M233.4,970.6h0.6M248.0,976.9h0.6M265.9,973.5h0.6M267.3,964.2h0.6M235.6,962.8h0.6M237.0,959.5h0.6M255.6,977.0h0.6M244.5,976.5h0.6M232.3,964.2h0.6M235.9,972.7h0.6M235.5,974.4h0.6M260.8,975.4h0.6M243.4,976.0h0.6M235.0,963.2h0.6M231.4,971.5h0.6M267.8,960.8h0.6M245.9,956.2h0.6M245.8,976.7h0.6M256.0,977.3h0.6M234.3,966.6h0.6M269.0,965.1h0.6M242.7,957.6h0.6M269.4,969.7h0.6M266.8,961.8h0.6M244.9,976.9h0.6M240.7,976.8h0.6M259.9,956.9h0.6M239.1,975.5h0.6M268.9,969.6h0.6M263.9,958.2h0.6M241.6,958.0h0.6M262.6,976.2h0.6M262.2,955.7h0.6M249.0,954.7h0.6M254.1,977.8h0.6M264.2,955.5h0.6M238.8,975.7h0.6M240.2,975.4h0.6M260.1,977.3h0.6M240.4,958.8h0.6M266.2,961.6h0.6M253.7,955.7h0.6M250.0,955.6h0.6M265.5,959.1h0.6M249.6,978.6h0.6M261.0,976.0h0.6M238.4,975.0h0.6M241.5,957.6h0.6M268.0,960.4h0.6M267.5,963.9h0.6M259.8,976.6h0.6M269.8,965.3h0.6M248.3,977.6h0.6M270.5,964.5h0.6M253.0,978.4h0.6M235.4,963.2h0.6M237.2,973.7h0.6M270.8,967.2h0.6M240.8,975.3h0.6M234.4,969.9h0.6M260.9,956.3h0.6M248.7,977.8h0.6M235.8,974.8h0.6M266.6,962.6h0.6M255.1,976.6h0.6M247.6,955.1h0.6M248.0,977.9h0.6M260.8,956.8h0.6M269.0,967.0h0.6M243.8,957.4h0.6M234.8,960.2h0.6M257.2,955.3h0.6M268.2,966.7h0.6M234.3,970.8h0.6M239.7,976.1h0.6M269.2,960.6h0.6M266.6,971.5h0.6M245.7,956.4h0.6M237.7,959.0h0.6M238.3,974.3h0.6M234.6,960.9h0.6M233.1,966.4h0.6M255.1,977.2h0.6M257.6,955.8h0.6M267.2,971.7h0.6M255.7,955.8h0.6M243.4,956.5h0.6M245.4,956.5h0.6M267.2,960.0h0.6M233.2,964.4h0.6M271.4,960.7h0.6M264.8,971.7h0.6M268.9,968.6h0.6M268.5,971.7h0.6M231.9,969.8h0.6M241.2,977.8h0.6M252.0,977.3h0.6M231.5,967.3h0.6M241.0,957.7h0.6M268.2,968.1h0.6M235.9,962.0h0.6M246.9,955.9h0.6M243.7,957.4h0.6M270.0,966.5h0.6M264.8,956.7h0.6M234.2,964.3h0.6M237.3,960.1h0.6M268.8,971.5h0.6M271.4,964.1h0.6M260.3,956.0h0.6M243.5,977.3h0.6M232.6,972.8h0.6M256.7,955.5h0.6M268.7,969.2h0.6M235.9,973.1h0.6M271.6,964.9h0.6M265.0,971.8h0.6M235.0,962.6h0.6M267.6,964.5h0.6M268.8,964.9h0.6M251.1,977.0h0.6M259.1,956.3h0.6M239.2,958.6h0.6M253.0,954.4h0.6M265.9,960.1h0.6M231.4,968.6h0.6M262.1,975.7h0.6M269.8,969.5h0.6M267.5,960.6h0.6M235.6,962.6h0.6M235.1,971.3h0.6M231.4,967.2h0.6M249.9,976.8h0.6M258.0,976.6h0.6M268.9,968.1h0.6M267.4,960.1h0.6M246.6,977.3h0.6M252.4,976.8h0.6M234.5,974.4h0.6M256.9,955.2h0.6M265.2,957.4h0.6M237.4,960.0h0.6M258.3,977.2h0.6M242.7,956.8h0.6M265.4,974.4h0.6M266.1,956.9h0.6M259.7,975.0h0.6M236.8,973.8h0.6M268.0,963.7h0.6M252.2,953.9h0.6M261.0,976.0h0.6M236.0,958.9h0.6M272.4,965.4h0.6M269.4,966.0h0.6M257.3,975.7h0.6M233.7,967.7h0.6M248.3,977.3h0.6M270.8,965.0h0.6M244.5,976.3h0.6M241.5,958.3h0.6M270.4,967.9h0.6M261.9,956.8h0.6M269.0,964.3h0.6M233.0,970.7h0.6M236.0,971.8h0.6M248.8,955.0h0.6M268.2,961.4h0.6M234.0,969.1h0.6M234.0,970.9h0.6M248.2,976.9h0.6M270.0,965.7h0.6M236.8,973.8h0.6M240.5,958.5h0.6M269.4,965.2h0.6M243.2,976.1h0.6M248.2,956.3h0.6M243.7,977.4h0.6M257.4,954.6h0.6M250.8,977.0h0.6M235.3,962.4h0.6M246.9,955.1h0.6M266.3,972.5h0.6M249.8,977.3h0.6M256.5,977.0h0.6M270.5,969.7h0.6M261.9,975.1h0.6M262.6,957.4h0.6M261.0,974.4h0.6M259.4,976.1h0.6M246.9,977.6h0.6M246.6,977.4h0.6M269.0,960.5h0.6M254.2,976.4h0.6M245.7,956.4h0.6M236.4,961.7h0.6M238.0,973.7h0.6M236.4,974.3h0.6M236.5,974.8h0.6M235.7,971.6h0.6M246.8,976.8h0.6M243.9,956.1h0.6M243.0,956.6h0.6M248.0,954.7h0.6M240.1,958.1h0.6M255.2,977.3h0.6M236.1,973.9h0.6M253.9,977.3h0.6M233.6,962.9h0.6M269.7,964.7h0.6M245.7,955.6h0.6M241.5,977.0h0.6M241.4,957.8h0.6M250.0,978.1h0.6M232.4,971.0h0.6M261.9,976.9h0.6M259.0,978.9h0.6M256.3,975.8h0.6M266.9,959.6h0.6M261.5,955.7h0.6M249.0,977.4h0.6M248.5,955.9h0.6M247.2,955.7h0.6M249.2,955.6h0.6M236.6,973.4h0.6M253.0,955.3h0.6M268.0,960.3h0.6M241.0,975.4h0.6M267.6,961.7h0.6M270.5,972.8h0.6M267.9,963.4h0.6M243.5,957.2h0.6M260.0,975.6h0.6M269.7,965.1h0.6M251.4,977.8h0.6M268.5,962.5h0.6M263.4,954.8h0.6M233.8,965.5h0.6M249.7,978.0h0.6M242.7,975.8h0.6M248.9,955.4h0.6M241.7,957.6h0.6M237.5,974.5h0.6M232.4,969.6h0.6M235.5,962.2h0.6M260.5,974.4h0.6M247.2,976.8h0.6M238.5,958.6h0.6M257.0,976.5h0.6M268.5,966.0h0.6M232.3,966.3h0.6M270.8,968.4h0.6M267.4,968.8h0.6M232.7,968.1h0.6M246.2,977.6h0.6M251.8,954.0h0.6M247.4,977.7h0.6M262.4,957.0h0.6M264.8,957.5h0.6M267.1,968.8h0.6M263.0,976.0h0.6M232.5,969.4h0.6M252.4,956.1h0.6M246.7,976.6h0.6M238.5,977.2h0.6M252.2,978.3h0.6M262.5,973.4h0.6M260.6,976.7h0.6M263.4,972.6h0.6M269.6,967.5h0.6M260.9,956.5h0.6M235.1,970.6h0.6M268.9,958.6h0.6M255.4,976.3h0.6M248.4,956.3h0.6M245.2,956.8h0.6M255.4,955.4h0.6M266.4,959.4h0.6M265.2,959.7h0.6M257.3,955.5h0.6M234.4,964.0h0.6M235.7,960.8h0.6M268.7,973.2h0.6M269.2,968.1h0.6M238.3,960.1h0.6M265.4,973.9h0.6M246.3,955.1h0.6M258.2,976.9h0.6M265.8,971.6h0.6M246.9,976.6h0.6M235.5,958.3h0.6M256.6,954.8h0.6M251.6,977.1h0.6M247.3,955.8h0.6M260.4,976.8h0.6M269.9,966.2h0.6M255.0,955.0h0.6M242.7,957.8h0.6M263.9,958.2h0.6M264.1,958.2h0.6M259.7,956.0h0.6M234.2,966.2h0.6M234.2,965.5h0.6M256.0,954.9h0.6M265.3,972.6h0.6M259.6,976.6h0.6M245.0,976.6h0.6M265.4,958.4h0.6M255.0,977.9h0.6M275.4,967.3h0.6M235.7,961.3h0.6M230.1,970.7h0.6M252.9,977.0h0.6M236.2,972.2h0.6M235.9,960.8h0.6M250.7,976.7h0.6M260.4,955.3h0.6M236.3,961.3h0.6M232.7,970.1h0.6M236.3,961.5h0.6M262.6,957.2h0.6M265.3,971.4h0.6M241.3,957.5h0.6M263.2,974.7h0.6M237.0,960.7h0.6M257.0,976.9h0.6M267.5,959.1h0.6M267.0,961.7h0.6M253.3,954.0h0.6M269.1,967.0h0.6M255.0,977.1h0.6M232.6,967.9h0.6M233.3,966.2h0.6M247.9,976.9h0.6M234.4,968.5h0.6M264.6,973.2h0.6M235.9,961.7h0.6M233.4,973.6h0.6M256.6,976.6h0.6M246.6,956.6h0.6M237.1,974.0h0.6M235.2,963.3h0.6M246.8,976.9h0.6M234.3,961.9h0.6M268.0,964.0h0.6M234.5,964.3h0.6M246.7,976.6h0.6M241.2,976.7h0.6M267.6,965.1h0.6M257.9,976.7h0.6M268.2,964.4h0.6M239.3,975.8h0.6M269.2,970.7h0.6M240.4,975.5h0.6M245.0,956.8h0.6M235.6,973.5h0.6M245.2,957.0h0.6M236.9,960.3h0.6M262.5,957.7h0.6M245.6,977.8h0.6M235.9,973.5h0.6M262.4,973.7h0.6M264.8,974.1h0.6M246.3,956.1h0.6M270.7,965.2h0.6M240.2,958.2h0.6M232.2,966.0h0.6M263.3,973.2h0.6M274.3,945.3h0.6M280.0,948.7h0.6M278.0,945.7h0.6M275.1,951.8h0.6M269.2,961.2h0.6M271.0,956.4h0.6M274.1,954.1h0.6M280.3,943.9h0.6M266.4,960.1h0.6M273.3,954.7h0.6M278.0,943.2h0.6M277.7,944.6h0.6M268.3,954.7h0.6M264.7,956.5h0.6M263.8,958.6h0.6M265.8,957.1h0.6M284.3,945.4h0.6M268.5,958.3h0.6M278.8,946.1h0.6M269.2,954.6h0.6M269.1,952.1h0.6M271.6,952.3h0.6M278.6,944.8h0.6M270.1,956.1h0.6M262.5,958.4h0.6M275.6,951.8h0.6M265.7,961.9h0.6M267.1,961.5h0.6M273.8,948.9h0.6M278.2,949.5h0.6M264.6,960.3h0.6M270.5,960.0h0.6M271.0,952.1h0.6M266.2,958.0h0.6M267.0,958.8h0.6M247.1,980.7h0.6M258.8,981.0h0.6M244.0,981.8h0.6M252.8,981.6h0.6M269.0,981.7h0.6M267.2,981.6h0.6M244.0,981.4h0.6M240.3,981.1h0.6M242.4,981.6h0.6M269.5,981.0h0.6M226.9,981.8h0.6M262.6,982.0h0.6M261.9,981.3h0.6M232.1,981.3h0.6M232.5,979.5h0.6M232.7,981.4h0.6M259.0,980.9h0.6M260.0,981.3h0.6M253.6,981.6h0.6M249.8,981.3h0.6M254.3,981.4h0.6M255.8,981.0h0.6M247.5,980.5h0.6M227.8,981.7h0.6M244.9,981.3h0.6M230.9,981.8h0.6M234.3,980.5h0.6M253.0,981.5h0.6M240.3,981.3h0.6M227.5,981.7h0.6M227.8,966.9h0.6M226.7,969.5h0.6M226.6,970.2h0.6M227.2,957.0h0.6M226.5,971.9h0.6M226.9,960.6h0.6M227.2,944.9h0.6M226.9,961.8h0.6M227.8,969.8h0.6M226.4,983.6h0.6M226.9,974.9h0.6M226.7,981.8h0.6M226.5,972.8h0.6M226.5,961.3h0.6M227.6,976.8h0.6M226.9,980.8h0.6M227.0,944.5h0.6M227.0,945.8h0.6" stroke="#000" stroke-width="0.6" fill="none"/>
<path d="M288.7,920.7h1.5M286.5,921.6h1.5M286.8,922.1h1.5M290.0,919.7h1.5M289.8,918.3h1.5M299.4,913.5h1.5M292.6,919.4h1.5M294.5,914.4h1.5M292.4,921.6h1.5M283.5,929.3h1.5M291.8,918.5h1.5M293.1,918.4h1.5M289.6,922.4h1.5M290.8,921.9h1.5M291.7,918.1h1.5M297.0,912.9h1.5M291.8,918.8h1.5M293.9,915.5h1.5M288.7,923.4h1.5M285.6,925.7h1.5M294.5,919.1h1.5M284.7,924.4h1.5M289.0,923.1h1.5M293.1,916.8h1.5M294.3,915.4h1.5M292.1,918.4h1.5M297.7,915.1h1.5M294.1,915.7h1.5M285.3,925.6h1.5M288.5,921.5h1.5M288.1,922.5h1.5M293.4,919.5h1.5M295.5,917.7h1.5M284.6,928.2h1.5M299.8,912.3h1.5M294.4,918.0h1.5M290.2,920.4h1.5M288.8,921.6h1.5M289.5,920.6h1.5M296.4,915.2h1.5M295.5,918.1h1.5M292.7,919.9h1.5M289.0,923.0h1.5M292.2,916.7h1.5M293.4,917.6h1.5M290.5,923.0h1.5M291.3,919.6h1.5M293.3,916.6h1.5M287.0,925.9h1.5M294.0,915.9h1.5M291.9,919.2h1.5M292.8,920.0h1.5M292.1,920.2h1.5M293.5,916.8h1.5M291.9,918.5h1.5M291.7,921.6h1.5M289.1,923.5h1.5M290.1,920.3h1.5M291.0,919.1h1.5M286.7,926.7h1.5M293.1,917.0h1.5M286.0,923.8h1.5M295.9,913.2h1.5M290.5,924.1h1.5M283.3,926.5h1.5M287.3,923.1h1.5M284.2,927.8h1.5M285.5,923.8h1.5M291.2,918.2h1.5M291.6,918.0h1.5M295.3,913.3h1.5M290.9,918.2h1.5M293.9,913.7h1.5M290.0,921.4h1.5M289.5,921.4h1.5M288.9,921.5h1.5M293.5,920.6h1.5M292.9,918.8h1.5M288.2,921.7h1.5M290.6,919.3h1.5M296.4,914.2h1.5M296.0,914.2h1.5M293.5,914.7h1.5M295.7,912.8h1.5M291.6,919.2h1.5M291.3,921.2h1.5M288.4,923.8h1.5M284.6,924.5h1.5M294.7,918.4h1.5M288.1,924.2h1.5M291.3,922.6h1.5M293.8,920.2h1.5M291.4,923.0h1.5M290.5,923.6h1.5M292.1,916.4h1.5M294.7,916.4h1.5M293.2,916.2h1.5M288.6,920.5h1.5M296.3,914.2h1.5M283.9,929.3h1.5M293.9,921.6h1.5M290.6,921.5h1.5M287.0,919.1h1.5M293.8,916.1h1.5M293.5,917.4h1.5M283.4,928.3h1.5M294.9,917.6h1.5M293.8,916.2h1.5M287.3,924.9h1.5M288.6,925.1h1.5M291.1,921.4h1.5M293.0,919.5h1.5M292.8,918.9h1.5M291.0,918.7h1.5M284.2,924.7h1.5M294.3,915.2h1.5M290.7,917.1h1.5M291.7,923.3h1.5M298.3,913.4h1.5M292.5,919.7h1.5M297.0,911.5h1.5M290.8,919.5h1.5M281.4,930.8h1.5M294.0,915.8h1.5M288.6,925.2h1.5M288.9,922.0h1.5M289.2,921.7h1.5M292.5,920.1h1.5M294.3,920.3h1.5M287.5,924.4h1.5M292.5,922.7h1.5M285.5,926.0h1.5M293.6,915.9h1.5M291.3,920.0h1.5M292.8,918.6h1.5M288.0,924.9h1.5M282.1,928.1h1.5M288.0,923.1h1.5M294.6,922.3h1.5M296.0,914.5h1.5" stroke="#ff1010" stroke-width="1.5" fill="none"/>
<path d="M286.0,970.6h1.5M286.9,964.2h1.5M279.0,956.3h1.5M286.6,969.4h1.5M284.8,975.1h1.5M286.0,960.0h1.5M286.6,960.4h1.5M288.9,963.3h1.5M283.8,964.6h1.5M289.7,959.0h1.5M289.1,971.4h1.5M287.8,964.8h1.5M288.1,962.7h1.5M282.6,969.7h1.5M280.5,966.4h1.5M283.5,963.4h1.5M285.1,962.7h1.5M289.1,961.8h1.5M281.6,959.3h1.5M285.2,965.5h1.5M284.9,965.4h1.5M281.6,966.2h1.5M287.7,958.8h1.5M284.2,964.7h1.5M284.0,961.5h1.5M283.1,960.5h1.5M290.1,959.6h1.5M281.8,958.5h1.5M285.6,960.7h1.5M286.9,965.1h1.5M286.2,967.8h1.5M285.0,963.1h1.5M285.3,968.7h1.5M282.3,963.7h1.5M290.2,966.2h1.5M289.0,967.5h1.5M279.7,963.1h1.5M281.0,965.7h1.5M284.7,967.7h1.5M285.8,963.2h1.5M288.6,959.3h1.5M279.8,968.4h1.5M286.4,967.4h1.5M282.2,967.5h1.5M287.1,964.9h1.5M285.1,964.0h1.5M286.4,959.1h1.5M289.2,960.9h1.5M281.8,969.7h1.5M284.8,958.3h1.5M285.6,962.5h1.5M286.3,959.8h1.5M284.8,963.0h1.5M290.1,960.6h1.5M288.2,968.5h1.5M286.2,963.5h1.5M286.7,961.4h1.5M288.3,957.7h1.5M289.4,963.1h1.5M283.2,965.8h1.5M290.3,964.4h1.5M291.4,964.3h1.5M286.2,959.2h1.5M285.0,964.3h1.5M283.2,959.1h1.5M283.3,966.1h1.5M287.2,971.9h1.5M278.7,971.9h1.5M287.9,964.5h1.5M289.0,966.0h1.5M280.0,967.5h1.5M280.7,967.6h1.5M281.0,957.9h1.5M288.0,962.7h1.5M283.0,972.0h1.5M285.1,971.1h1.5M284.2,964.2h1.5M278.7,969.8h1.5M283.6,968.7h1.5M282.9,957.0h1.5M285.9,969.0h1.5M277.9,959.8h1.5M288.8,971.1h1.5M283.8,965.7h1.5M286.8,966.4h1.5M281.5,969.0h1.5M290.3,965.3h1.5M285.4,962.2h1.5M286.6,967.4h1.5M283.2,957.9h1.5M280.5,966.8h1.5M285.5,963.2h1.5M278.3,958.6h1.5M290.1,960.7h1.5M281.9,968.7h1.5M288.9,962.5h1.5M285.5,966.5h1.5M286.5,962.7h1.5M285.0,967.0h1.5M289.7,966.3h1.5M279.4,960.7h1.5M282.0,967.7h1.5M289.6,966.6h1.5M281.2,963.2h1.5M284.6,968.1h1.5M285.5,967.7h1.5M283.5,972.4h1.5M281.0,964.2h1.5M288.2,967.9h1.5M281.3,962.0h1.5M283.8,968.1h1.5M287.6,958.5h1.5M284.1,965.4h1.5M288.1,967.1h1.5M288.9,962.9h1.5M282.8,965.3h1.5M285.8,974.3h1.5M285.0,964.0h1.5M281.6,965.6h1.5M283.5,967.2h1.5M284.5,961.2h1.5M282.0,962.0h1.5M284.7,953.5h1.5M282.5,964.1h1.5M280.7,967.1h1.5M283.8,967.2h1.5M285.6,963.0h1.5M288.8,968.0h1.5M281.0,963.7h1.5M280.6,962.1h1.5M284.4,962.4h1.5M284.1,966.6h1.5M288.3,966.8h1.5M287.8,962.1h1.5M283.7,968.5h1.5M283.1,966.5h1.5M285.2,966.9h1.5M288.5,965.1h1.5M283.2,961.5h1.5M290.4,968.2h1.5" stroke="#1878ee" stroke-width="1.5" fill="none"/>
</g>
<rect x="225.8" y="893.8" width="106.2" height="89.2" fill="none" stroke="#333" stroke-width="0.9"/>
<text transform="translate(219.2,941) rotate(-90)" font-size="18" text-anchor="middle">V<tspan class="ser" font-size="19">δ</tspan>1</text>
<text x="277.8" y="1006.5" font-size="18" text-anchor="middle">CD3</text>
<clipPath id="e2"><rect x="78" y="1022" width="103.3" height="87.3"/></clipPath>
<g clip-path="url(#e2)">
<ellipse cx="103" cy="1085.2" rx="20.7" ry="16.55" transform="rotate(-35.52 103 1085.2)" fill="#000"/>
<path d="M84.6,1079.5h0.6M118.3,1072.0h0.6M86.7,1098.3h0.6M105.0,1067.9h0.6M125.3,1085.0h0.6M98.9,1068.6h0.6M110.3,1067.7h0.6M96.8,1070.0h0.6M84.8,1082.9h0.6M107.2,1102.0h0.6M98.0,1103.3h0.6M98.0,1104.2h0.6M119.9,1093.2h0.6M124.9,1084.3h0.6M101.6,1102.6h0.6M85.3,1094.4h0.6M121.3,1090.4h0.6M87.0,1099.0h0.6M113.9,1097.4h0.6M107.4,1067.2h0.6M110.6,1064.8h0.6M85.1,1094.5h0.6M88.7,1072.4h0.6M114.1,1096.4h0.6M97.0,1103.1h0.6M120.1,1071.5h0.6M105.1,1066.5h0.6M87.6,1098.5h0.6M83.8,1084.9h0.6M119.3,1073.9h0.6M107.8,1101.3h0.6M122.2,1072.5h0.6M124.4,1085.4h0.6M84.4,1092.4h0.6M85.8,1095.5h0.6M89.6,1100.2h0.6M122.6,1083.2h0.6M84.3,1082.9h0.6M117.6,1070.8h0.6M89.9,1071.1h0.6M112.2,1099.4h0.6M93.8,1070.9h0.6M82.8,1092.5h0.6M121.0,1073.4h0.6M117.7,1069.9h0.6M87.0,1099.7h0.6M123.4,1088.9h0.6M92.8,1104.7h0.6M120.3,1093.8h0.6M86.3,1080.1h0.6M84.6,1080.8h0.6M116.6,1068.4h0.6M93.5,1072.5h0.6M100.7,1102.2h0.6M109.9,1099.9h0.6M119.4,1090.6h0.6M110.6,1102.6h0.6M99.8,1066.3h0.6M105.3,1101.4h0.6M85.0,1093.5h0.6M126.6,1080.4h0.6M86.4,1078.1h0.6M94.8,1102.9h0.6M118.2,1070.1h0.6M119.3,1067.5h0.6M111.0,1068.1h0.6M123.2,1085.9h0.6M109.0,1064.5h0.6M110.0,1101.1h0.6M96.5,1070.4h0.6M122.0,1091.7h0.6M102.5,1102.6h0.6M115.2,1067.3h0.6M93.9,1103.2h0.6M107.9,1066.6h0.6M96.6,1103.9h0.6M91.6,1073.6h0.6M88.6,1076.5h0.6M123.2,1077.1h0.6M98.4,1069.8h0.6M118.9,1071.4h0.6M91.4,1070.8h0.6M123.2,1079.8h0.6M115.5,1068.6h0.6M116.8,1070.9h0.6M106.2,1065.9h0.6M91.4,1101.0h0.6M114.3,1097.4h0.6M120.6,1074.0h0.6M121.0,1087.4h0.6M92.7,1101.3h0.6M88.4,1099.5h0.6M92.2,1073.4h0.6M107.0,1102.2h0.6M92.3,1101.2h0.6M98.7,1103.2h0.6M102.4,1102.0h0.6M101.3,1066.6h0.6M100.2,1104.4h0.6M121.7,1087.8h0.6M88.7,1098.6h0.6M83.0,1087.8h0.6M112.6,1068.6h0.6M85.9,1078.2h0.6M95.8,1068.2h0.6M123.6,1079.1h0.6M109.2,1066.9h0.6M125.4,1080.7h0.6M101.6,1102.0h0.6M116.7,1094.5h0.6M84.9,1083.5h0.6M89.5,1073.1h0.6M119.0,1092.2h0.6M89.0,1101.5h0.6M87.0,1078.2h0.6M86.1,1098.8h0.6M87.0,1097.5h0.6M122.1,1079.0h0.6M117.4,1070.7h0.6M120.2,1071.1h0.6M121.7,1071.7h0.6M89.1,1103.4h0.6M120.5,1075.9h0.6M93.5,1072.0h0.6M118.4,1093.7h0.6M112.2,1099.7h0.6M117.6,1093.9h0.6M85.2,1079.8h0.6M118.2,1093.1h0.6M121.3,1092.8h0.6M112.0,1099.1h0.6M95.7,1102.6h0.6M88.5,1076.9h0.6M83.3,1094.7h0.6M83.7,1092.1h0.6M121.1,1075.7h0.6M125.2,1076.2h0.6M90.8,1105.3h0.6M115.1,1095.7h0.6M120.9,1090.6h0.6M98.7,1102.7h0.6M94.4,1101.9h0.6M90.2,1100.4h0.6M92.4,1072.3h0.6M102.0,1065.5h0.6M119.1,1071.2h0.6M89.2,1075.6h0.6M90.6,1100.0h0.6M124.4,1079.1h0.6M101.3,1104.8h0.6M88.6,1100.0h0.6M86.9,1099.2h0.6M114.9,1067.8h0.6M93.1,1102.1h0.6M119.1,1072.8h0.6M104.3,1065.9h0.6M85.9,1073.5h0.6M102.8,1064.8h0.6M86.7,1098.6h0.6M91.2,1100.3h0.6M109.8,1061.3h0.6M85.5,1099.6h0.6M119.7,1094.2h0.6M83.8,1088.0h0.6M104.9,1102.7h0.6M84.1,1094.5h0.6M111.4,1063.2h0.6M122.9,1077.7h0.6M122.6,1077.2h0.6M114.2,1064.4h0.6M100.4,1102.6h0.6M83.7,1082.5h0.6M121.5,1075.6h0.6M95.7,1102.1h0.6M85.7,1077.5h0.6M113.0,1098.9h0.6M83.2,1086.3h0.6M99.1,1068.2h0.6M85.1,1080.9h0.6M84.3,1084.9h0.6M84.3,1093.8h0.6M96.2,1103.4h0.6M125.7,1084.5h0.6M123.2,1078.3h0.6M98.8,1102.9h0.6M84.0,1090.5h0.6M84.9,1093.9h0.6M122.8,1080.9h0.6M82.6,1086.3h0.6M94.6,1069.0h0.6M93.2,1069.3h0.6M104.1,1066.5h0.6M122.3,1091.6h0.6M83.6,1087.7h0.6M120.1,1068.1h0.6M93.2,1070.5h0.6M123.4,1082.5h0.6M99.3,1068.3h0.6M90.0,1101.3h0.6M115.3,1068.1h0.6M103.3,1102.5h0.6M102.9,1103.2h0.6M124.4,1078.1h0.6M92.1,1102.2h0.6M120.0,1091.6h0.6M104.5,1067.8h0.6M125.7,1076.5h0.6M85.9,1080.9h0.6M83.2,1088.2h0.6M122.9,1075.0h0.6M118.0,1065.4h0.6M108.9,1067.0h0.6M92.9,1072.5h0.6M85.3,1095.1h0.6M108.0,1065.0h0.6M111.8,1067.8h0.6M95.9,1102.5h0.6M92.2,1103.2h0.6M100.7,1102.3h0.6M85.7,1094.6h0.6M100.6,1068.0h0.6M88.4,1076.3h0.6M110.8,1066.8h0.6M85.0,1081.8h0.6M90.1,1100.0h0.6M83.8,1085.9h0.6M114.6,1069.3h0.6M106.8,1103.2h0.6M103.5,1067.3h0.6M120.5,1088.6h0.6M90.9,1102.5h0.6M119.6,1093.6h0.6M117.4,1071.5h0.6M91.9,1072.4h0.6M115.8,1069.5h0.6M85.0,1083.1h0.6M99.2,1104.8h0.6M120.0,1090.2h0.6M86.5,1079.7h0.6M107.2,1100.8h0.6M85.2,1083.4h0.6M94.5,1103.3h0.6M123.4,1080.4h0.6M110.1,1099.7h0.6M108.3,1102.5h0.6M97.6,1068.4h0.6M89.5,1101.0h0.6M100.6,1102.2h0.6M88.2,1077.1h0.6M119.1,1072.9h0.6M84.5,1078.9h0.6M105.9,1102.5h0.6M82.1,1082.0h0.6M94.1,1069.0h0.6M123.3,1085.1h0.6M121.2,1089.1h0.6M93.1,1102.0h0.6M122.5,1083.6h0.6M120.6,1070.3h0.6M111.8,1067.6h0.6M109.0,1064.7h0.6M120.2,1093.3h0.6M90.8,1074.4h0.6M89.3,1099.8h0.6M117.5,1065.2h0.6M115.7,1097.3h0.6M112.2,1099.2h0.6M114.5,1098.3h0.6M93.4,1068.8h0.6M117.7,1093.4h0.6M96.5,1070.5h0.6M108.3,1100.7h0.6M119.4,1072.6h0.6M94.0,1071.0h0.6M106.1,1066.1h0.6M117.2,1070.1h0.6M98.3,1068.4h0.6M106.5,1067.8h0.6M123.4,1082.2h0.6M86.8,1102.6h0.6M110.1,1099.5h0.6M83.0,1093.3h0.6M118.6,1070.3h0.6M119.4,1073.5h0.6M111.8,1100.4h0.6M119.6,1068.4h0.6M90.4,1074.6h0.6M118.9,1070.3h0.6M120.3,1069.5h0.6M89.7,1101.1h0.6M101.9,1103.1h0.6M90.5,1101.8h0.6M119.7,1073.3h0.6M90.4,1075.1h0.6M124.2,1076.3h0.6M105.9,1062.7h0.6M120.1,1090.4h0.6M119.2,1072.9h0.6M88.1,1101.1h0.6M102.1,1062.8h0.6M98.8,1103.9h0.6M122.1,1072.7h0.6M88.0,1100.3h0.6M103.7,1106.1h0.6M83.1,1086.5h0.6M122.2,1074.3h0.6M107.8,1102.1h0.6M85.8,1094.4h0.6M124.2,1081.0h0.6M85.0,1098.8h0.6M123.3,1089.0h0.6M89.6,1099.4h0.6M109.1,1066.6h0.6M103.0,1064.6h0.6M82.1,1087.9h0.6M111.5,1067.5h0.6M121.0,1095.8h0.6M88.7,1100.5h0.6M87.5,1075.9h0.6M110.7,1066.6h0.6M91.8,1103.9h0.6M121.0,1081.4h0.6M101.3,1103.5h0.6M109.1,1064.4h0.6M89.2,1099.7h0.6M85.4,1082.6h0.6M84.2,1093.0h0.6M114.0,1096.2h0.6M99.4,1103.2h0.6M84.0,1086.7h0.6M87.0,1078.9h0.6M108.5,1103.0h0.6M121.3,1088.6h0.6M103.6,1101.9h0.6M89.1,1100.3h0.6M88.4,1100.8h0.6M99.7,1068.3h0.6M89.2,1101.9h0.6M115.5,1066.1h0.6M84.0,1088.6h0.6M88.2,1075.7h0.6M112.9,1098.3h0.6M114.4,1067.0h0.6M119.3,1074.5h0.6M125.3,1078.8h0.6M110.7,1065.4h0.6M88.8,1099.5h0.6M84.1,1092.1h0.6M88.8,1102.8h0.6M94.7,1070.2h0.6M120.1,1071.3h0.6M104.3,1066.7h0.6M124.6,1082.9h0.6M87.8,1077.3h0.6M123.1,1084.6h0.6M122.2,1086.3h0.6M84.7,1082.4h0.6M118.5,1069.3h0.6M84.9,1082.9h0.6M99.3,1104.0h0.6M98.3,1105.1h0.6M112.8,1065.8h0.6M101.2,1067.8h0.6M111.5,1099.3h0.6M87.1,1097.0h0.6M123.3,1087.1h0.6M124.1,1090.9h0.6M113.8,1097.9h0.6M82.7,1087.3h0.6M116.3,1098.0h0.6M122.2,1075.9h0.6M84.0,1082.4h0.6M110.4,1062.6h0.6M124.5,1083.1h0.6M90.0,1074.7h0.6M121.9,1074.6h0.6M93.7,1072.0h0.6M91.8,1100.7h0.6M116.9,1070.0h0.6M85.8,1080.2h0.6M106.3,1101.1h0.6M107.0,1100.8h0.6M100.6,1103.2h0.6M101.7,1103.4h0.6M97.2,1070.4h0.6M107.2,1066.0h0.6M101.0,1103.4h0.6M120.2,1073.5h0.6M119.7,1092.5h0.6M83.2,1094.4h0.6M118.4,1070.6h0.6M83.9,1080.9h0.6M112.4,1098.4h0.6M86.4,1079.9h0.6M100.5,1065.1h0.6M107.1,1101.9h0.6M119.0,1073.1h0.6M83.9,1101.7h0.6M103.8,1102.2h0.6M120.4,1090.8h0.6M117.5,1093.7h0.6M92.2,1069.2h0.6M84.0,1086.8h0.6M96.2,1102.7h0.6M99.5,1065.0h0.6M98.1,1102.5h0.6M120.9,1072.2h0.6M99.5,1102.2h0.6M84.2,1087.3h0.6M89.1,1072.0h0.6M97.8,1104.1h0.6M110.2,1064.6h0.6M110.0,1101.2h0.6M116.6,1069.8h0.6M92.5,1102.9h0.6M120.9,1091.4h0.6M92.1,1101.1h0.6M87.2,1098.3h0.6M92.5,1073.2h0.6M120.5,1069.0h0.6M95.0,1071.5h0.6M98.1,1069.8h0.6M104.3,1066.6h0.6M114.6,1098.0h0.6M119.7,1071.1h0.6M120.0,1072.8h0.6M100.9,1066.5h0.6M102.5,1066.9h0.6M122.6,1080.6h0.6M87.8,1099.5h0.6M124.6,1072.6h0.6M122.2,1086.3h0.6M108.3,1066.2h0.6M87.6,1074.1h0.6M121.6,1083.6h0.6M84.4,1095.1h0.6M120.4,1092.3h0.6M84.4,1089.0h0.6M120.6,1086.8h0.6M112.1,1066.1h0.6M112.9,1100.9h0.6M103.2,1104.1h0.6M101.4,1103.0h0.6M122.0,1083.9h0.6M123.2,1085.0h0.6M119.2,1092.6h0.6M101.1,1063.8h0.6M122.8,1082.8h0.6M121.7,1088.7h0.6M90.5,1071.6h0.6M114.9,1095.5h0.6M91.7,1100.5h0.6M110.4,1068.0h0.6M84.2,1091.0h0.6M113.6,1068.5h0.6M84.2,1087.4h0.6M82.8,1084.9h0.6M100.0,1102.2h0.6M122.4,1084.4h0.6M83.8,1089.5h0.6M112.9,1068.8h0.6M103.2,1102.8h0.6M122.5,1082.4h0.6M109.7,1066.0h0.6M100.8,1103.3h0.6M114.3,1068.7h0.6M125.0,1086.9h0.6M95.4,1070.3h0.6M122.0,1077.1h0.6M97.1,1069.9h0.6M89.9,1074.8h0.6M105.8,1101.5h0.6M83.8,1087.5h0.6M120.4,1076.7h0.6M120.5,1071.3h0.6M102.3,1102.3h0.6M102.9,1067.7h0.6M89.9,1074.0h0.6M87.4,1077.0h0.6M119.2,1092.6h0.6M122.0,1084.1h0.6M100.9,1066.6h0.6M112.0,1098.4h0.6M122.5,1085.4h0.6M109.0,1066.0h0.6M94.1,1101.5h0.6M84.7,1085.8h0.6M99.7,1103.4h0.6M119.5,1090.4h0.6M83.9,1086.1h0.6M83.3,1093.0h0.6M90.9,1101.0h0.6M87.2,1103.0h0.6M87.3,1079.1h0.6M112.1,1099.8h0.6M100.5,1103.4h0.6M117.8,1066.7h0.6M86.8,1078.4h0.6M84.0,1091.4h0.6M86.9,1078.2h0.6M87.8,1099.0h0.6M124.0,1089.3h0.6M123.1,1079.0h0.6M123.7,1080.6h0.6M83.6,1092.2h0.6M98.4,1069.4h0.6M120.6,1086.2h0.6M103.4,1066.7h0.6M122.4,1075.6h0.6M116.0,1065.8h0.6M118.3,1093.3h0.6M122.9,1079.1h0.6M119.5,1071.7h0.6M95.0,1103.1h0.6M120.5,1069.9h0.6M120.4,1090.8h0.6M123.0,1078.0h0.6M85.6,1101.1h0.6M93.8,1103.1h0.6M119.8,1070.6h0.6M88.5,1075.2h0.6M97.9,1067.7h0.6M122.7,1087.7h0.6M114.3,1097.4h0.6M101.8,1103.1h0.6M115.6,1097.1h0.6M119.3,1069.2h0.6M121.4,1090.9h0.6M82.4,1084.9h0.6M121.9,1074.2h0.6M118.7,1092.0h0.6M124.3,1086.6h0.6M84.6,1097.2h0.6M120.7,1067.9h0.6M88.8,1098.5h0.6M84.4,1093.9h0.6M95.9,1104.2h0.6M124.8,1083.1h0.6M109.3,1100.2h0.6M121.4,1074.2h0.6M114.9,1097.6h0.6M120.7,1087.2h0.6M108.8,1100.7h0.6M122.0,1082.0h0.6M85.0,1082.4h0.6M112.4,1068.2h0.6M88.1,1099.7h0.6M115.1,1068.2h0.6M121.6,1088.9h0.6M122.9,1081.3h0.6M85.6,1078.6h0.6M99.1,1103.4h0.6M84.8,1082.3h0.6M119.3,1075.1h0.6M87.7,1078.1h0.6M107.5,1103.3h0.6M118.0,1094.1h0.6M83.3,1087.2h0.6M114.8,1069.3h0.6M91.1,1100.3h0.6M120.5,1071.4h0.6M88.5,1077.1h0.6M91.0,1073.3h0.6M110.3,1099.1h0.6M85.6,1082.9h0.6M102.4,1102.9h0.6M123.4,1081.1h0.6M122.0,1094.2h0.6M97.1,1102.1h0.6M115.2,1095.0h0.6M97.0,1105.5h0.6M124.0,1075.7h0.6M121.4,1068.9h0.6M117.9,1072.2h0.6M90.9,1101.2h0.6M109.1,1100.9h0.6M85.5,1079.0h0.6M91.5,1102.2h0.6M123.3,1084.0h0.6M111.5,1098.3h0.6M95.0,1104.3h0.6M113.4,1098.9h0.6M123.5,1088.1h0.6M84.5,1095.0h0.6M122.4,1079.0h0.6M94.0,1070.7h0.6M88.5,1099.9h0.6M124.3,1079.8h0.6M120.4,1094.2h0.6M123.2,1076.4h0.6M122.0,1092.6h0.6M87.5,1099.2h0.6M116.6,1067.2h0.6M123.1,1091.6h0.6M110.3,1099.0h0.6M123.8,1076.8h0.6M122.1,1075.9h0.6M121.3,1088.2h0.6M104.1,1067.4h0.6M109.9,1066.2h0.6M88.5,1075.8h0.6M118.3,1093.0h0.6M123.1,1079.6h0.6M91.3,1100.6h0.6M93.1,1072.6h0.6M84.6,1083.0h0.6M105.7,1104.2h0.6M120.6,1087.0h0.6M87.1,1078.2h0.6M94.8,1071.5h0.6M88.6,1075.3h0.6M118.3,1070.4h0.6M85.3,1080.1h0.6M112.8,1066.7h0.6M90.5,1071.8h0.6M81.0,1093.4h0.6M85.5,1096.4h0.6M120.1,1071.4h0.6M123.8,1091.9h0.6M89.4,1076.2h0.6M84.6,1090.4h0.6M116.1,1096.3h0.6M90.1,1100.0h0.6M115.5,1095.1h0.6M116.0,1069.1h0.6M88.1,1076.0h0.6M86.2,1100.5h0.6M123.3,1079.3h0.6M92.2,1101.0h0.6M91.7,1102.3h0.6M112.7,1066.0h0.6M114.5,1097.7h0.6M111.6,1067.0h0.6M110.0,1068.1h0.6M115.8,1095.7h0.6M99.8,1103.3h0.6M94.4,1071.1h0.6M87.9,1075.9h0.6M113.1,1063.7h0.6M84.6,1094.5h0.6M99.7,1105.8h0.6M123.6,1083.9h0.6M89.9,1099.7h0.6M122.1,1089.6h0.6M123.4,1082.9h0.6M92.9,1101.1h0.6M85.8,1080.9h0.6M108.2,1065.6h0.6M115.2,1098.4h0.6M87.9,1100.0h0.6M94.8,1103.2h0.6M100.5,1066.1h0.6M102.2,1102.0h0.6M104.1,1101.8h0.6M93.8,1071.3h0.6M98.4,1066.7h0.6M123.0,1090.3h0.6M89.8,1072.7h0.6M84.1,1082.5h0.6M114.2,1066.5h0.6M122.0,1076.1h0.6M85.8,1096.1h0.6M83.9,1092.4h0.6M113.0,1064.4h0.6M100.3,1103.9h0.6M88.1,1075.9h0.6M97.4,1068.5h0.6M108.7,1067.2h0.6M119.6,1094.7h0.6M105.4,1067.8h0.6M115.8,1096.2h0.6M84.1,1086.2h0.6M85.1,1082.5h0.6M93.9,1070.9h0.6M99.7,1065.6h0.6M122.3,1081.1h0.6M118.6,1093.2h0.6M108.1,1068.1h0.6M87.3,1098.0h0.6M102.1,1103.2h0.6M93.0,1103.4h0.6M84.3,1098.1h0.6M97.4,1104.0h0.6M98.6,1066.7h0.6M92.8,1069.1h0.6M84.6,1080.6h0.6M120.5,1086.9h0.6M95.0,1071.0h0.6M90.9,1103.1h0.6M91.4,1102.8h0.6M82.0,1088.2h0.6M122.7,1071.3h0.6M93.1,1101.9h0.6M116.0,1094.3h0.6M102.9,1065.7h0.6M105.5,1063.6h0.6M89.9,1074.1h0.6M87.7,1073.9h0.6M89.4,1076.1h0.6M121.7,1081.6h0.6M88.9,1076.0h0.6M118.5,1096.6h0.6M121.9,1075.5h0.6M88.4,1075.0h0.6M122.5,1082.3h0.6M80.6,1089.2h0.6M121.2,1072.3h0.6M122.6,1075.8h0.6M116.8,1094.5h0.6M113.8,1066.4h0.6M111.3,1102.1h0.6M121.0,1074.9h0.6M82.4,1086.4h0.6M108.5,1064.3h0.6M84.9,1096.5h0.6M114.0,1096.5h0.6M83.6,1089.1h0.6M85.4,1095.2h0.6M88.7,1075.6h0.6M102.8,1102.7h0.6M86.0,1081.5h0.6M123.4,1083.3h0.6M103.9,1065.9h0.6M96.7,1070.0h0.6M124.1,1081.4h0.6M112.7,1097.9h0.6M106.9,1067.1h0.6M95.7,1068.8h0.6M116.5,1094.4h0.6M91.6,1101.9h0.6M104.7,1064.4h0.6M120.8,1090.0h0.6M113.1,1098.2h0.6M117.5,1068.3h0.6M84.4,1094.1h0.6M125.2,1081.4h0.6M125.2,1075.7h0.6M108.3,1101.7h0.6M84.7,1092.6h0.6M91.0,1073.9h0.6M85.4,1083.1h0.6M82.8,1086.3h0.6M121.1,1085.8h0.6M106.8,1067.8h0.6M87.2,1077.0h0.6M105.0,1102.3h0.6M91.8,1072.4h0.6M84.2,1083.3h0.6M92.6,1105.0h0.6M119.0,1073.4h0.6M81.9,1085.0h0.6M109.6,1101.8h0.6M86.1,1096.3h0.6M122.2,1089.1h0.6M94.5,1071.1h0.6M88.6,1076.2h0.6M96.1,1104.1h0.6M116.3,1095.4h0.6M123.0,1077.7h0.6M82.7,1096.9h0.6M115.3,1067.6h0.6M98.7,1067.6h0.6M84.3,1093.3h0.6M115.5,1097.1h0.6M87.1,1099.8h0.6M102.9,1102.0h0.6M103.9,1067.7h0.6M127.3,1082.0h0.6M109.1,1061.6h0.6M114.5,1096.2h0.6M114.8,1096.2h0.6M113.4,1068.2h0.6M115.3,1095.4h0.6M119.5,1094.3h0.6M88.8,1075.4h0.6M91.3,1074.1h0.6M83.7,1086.6h0.6M90.8,1100.6h0.6M100.4,1065.6h0.6M102.6,1103.4h0.6M115.0,1065.4h0.6M85.2,1093.8h0.6M88.6,1076.5h0.6M93.8,1102.1h0.6M84.4,1081.2h0.6M101.0,1064.7h0.6M89.6,1100.7h0.6M89.3,1075.8h0.6M112.8,1097.4h0.6M122.3,1088.1h0.6M91.1,1101.4h0.6M110.1,1064.4h0.6M122.8,1076.7h0.6M95.4,1104.6h0.6M83.3,1092.1h0.6M103.9,1103.3h0.6M113.0,1100.5h0.6M120.5,1087.8h0.6M85.0,1080.8h0.6M84.4,1084.6h0.6M86.9,1097.1h0.6M105.9,1066.6h0.6M119.8,1091.1h0.6M85.4,1093.9h0.6M102.1,1068.0h0.6M115.1,1063.9h0.6M125.2,1075.7h0.6M82.4,1083.7h0.6M106.4,1066.1h0.6M90.5,1071.8h0.6M108.0,1101.1h0.6M95.4,1103.0h0.6M81.8,1092.8h0.6M110.0,1066.3h0.6M92.5,1070.5h0.6M86.6,1078.5h0.6M87.4,1098.5h0.6M88.0,1100.1h0.6M105.5,1101.3h0.6M103.7,1065.6h0.6M94.7,1070.0h0.6M122.7,1079.9h0.6M85.3,1100.1h0.6M87.9,1076.5h0.6M96.2,1102.6h0.6M96.8,1070.1h0.6M106.3,1102.0h0.6M116.0,1095.0h0.6M121.3,1073.8h0.6M91.8,1103.1h0.6M119.8,1072.9h0.6M117.4,1071.3h0.6M103.2,1103.4h0.6M83.1,1087.7h0.6M105.2,1066.2h0.6M92.7,1102.8h0.6M102.3,1066.9h0.6M91.5,1073.3h0.6M123.0,1079.7h0.6M114.3,1097.8h0.6M90.3,1071.2h0.6M99.6,1067.5h0.6M110.4,1099.3h0.6M117.1,1095.9h0.6M114.8,1066.5h0.6M98.8,1102.7h0.6M114.4,1098.6h0.6M117.7,1067.3h0.6M94.0,1071.9h0.6M120.0,1093.8h0.6M93.9,1101.6h0.6M88.8,1076.4h0.6M115.6,1064.4h0.6M108.2,1066.0h0.6M124.2,1083.4h0.6M100.0,1102.4h0.6M121.0,1068.6h0.6M114.2,1096.6h0.6M98.3,1103.1h0.6M83.0,1085.4h0.6M91.6,1073.7h0.6M87.4,1077.9h0.6M89.6,1074.7h0.6M120.2,1089.8h0.6M121.1,1074.3h0.6M91.9,1073.5h0.6M116.1,1066.0h0.6M123.5,1081.7h0.6M116.0,1070.4h0.6M115.8,1097.6h0.6M84.2,1089.5h0.6M96.9,1066.0h0.6M124.6,1081.6h0.6M121.5,1079.0h0.6M83.6,1093.6h0.6M113.2,1068.1h0.6M109.3,1067.2h0.6M82.1,1087.4h0.6M122.5,1078.5h0.6M116.0,1097.7h0.6M96.8,1068.5h0.6M113.5,1096.9h0.6M86.2,1080.3h0.6M114.6,1067.6h0.6M107.1,1068.2h0.6M104.1,1103.4h0.6M84.8,1082.9h0.6M89.3,1076.4h0.6M92.5,1102.0h0.6M90.7,1101.1h0.6M89.2,1101.7h0.6M122.7,1082.2h0.6M83.7,1088.1h0.6M89.4,1099.8h0.6M113.7,1100.1h0.6M104.7,1102.6h0.6M120.9,1075.6h0.6M83.3,1093.1h0.6M121.1,1074.1h0.6M87.1,1075.7h0.6M82.3,1085.8h0.6M117.7,1092.5h0.6M119.4,1094.6h0.6M114.4,1099.1h0.6M122.3,1088.3h0.6M86.0,1096.5h0.6M122.5,1077.0h0.6M101.0,1106.2h0.6M92.1,1073.0h0.6M109.3,1101.0h0.6M83.2,1091.7h0.6M110.0,1067.0h0.6M84.4,1089.6h0.6M114.8,1097.1h0.6M120.6,1091.9h0.6M83.6,1091.0h0.6M117.5,1070.5h0.6M113.5,1098.4h0.6M114.3,1099.9h0.6M85.4,1079.6h0.6M91.4,1074.2h0.6M83.7,1082.9h0.6M119.8,1070.1h0.6M99.7,1105.4h0.6M112.2,1099.3h0.6M112.2,1099.1h0.6M98.4,1069.5h0.6M118.7,1092.7h0.6M82.9,1083.4h0.6M105.6,1101.6h0.6M104.5,1064.1h0.6M83.4,1087.1h0.6M107.8,1101.4h0.6M104.8,1067.2h0.6M113.1,1100.2h0.6M83.9,1083.8h0.6M116.2,1094.3h0.6M111.2,1098.3h0.6M85.6,1098.1h0.6M91.3,1102.6h0.6M84.5,1092.3h0.6M89.4,1074.5h0.6M114.8,1099.1h0.6M110.6,1068.2h0.6M120.8,1090.9h0.6M108.3,1102.1h0.6M93.3,1071.8h0.6M83.4,1082.2h0.6M85.2,1095.0h0.6M124.4,1086.3h0.6M91.0,1073.6h0.6M121.1,1072.4h0.6M95.9,1103.1h0.6M120.2,1069.9h0.6M83.0,1088.0h0.6M89.8,1074.6h0.6M95.2,1103.9h0.6M116.3,1070.7h0.6M112.8,1068.0h0.6M85.4,1082.2h0.6M81.7,1091.3h0.6M98.3,1103.6h0.6M118.3,1094.3h0.6M121.5,1087.3h0.6M84.1,1097.7h0.6M121.0,1090.3h0.6M96.8,1067.8h0.6M87.4,1100.9h0.6M85.2,1094.5h0.6M97.3,1066.2h0.6M96.8,1069.4h0.6M87.3,1073.5h0.6M88.7,1099.9h0.6M83.6,1095.5h0.6M113.9,1068.2h0.6M100.5,1102.3h0.6M113.3,1066.8h0.6M115.1,1096.1h0.6M121.6,1077.0h0.6M92.5,1102.4h0.6M120.9,1075.3h0.6M93.0,1102.4h0.6M121.6,1076.2h0.6M90.4,1100.6h0.6M124.4,1075.5h0.6M116.2,1067.9h0.6M113.2,1097.1h0.6M113.2,1068.8h0.6M84.8,1096.3h0.6M87.0,1079.4h0.6M123.6,1080.2h0.6M116.1,1098.2h0.6M84.5,1094.8h0.6M122.2,1086.4h0.6M95.5,1071.0h0.6M83.3,1094.3h0.6M83.5,1079.6h0.6M122.7,1085.7h0.6M115.4,1097.3h0.6M82.4,1091.1h0.6M117.6,1070.6h0.6M92.2,1070.3h0.6M97.2,1103.5h0.6M104.9,1102.1h0.6M87.0,1101.1h0.6M115.1,1097.1h0.6M92.4,1072.5h0.6M120.7,1067.2h0.6M114.5,1096.0h0.6M90.3,1073.2h0.6M83.8,1091.8h0.6M82.6,1088.6h0.6M117.2,1093.1h0.6M100.3,1104.1h0.6M84.4,1085.3h0.6M113.5,1068.0h0.6M85.3,1095.9h0.6M121.2,1094.6h0.6M117.7,1093.8h0.6M93.0,1103.4h0.6M103.8,1067.3h0.6M94.0,1103.2h0.6M114.3,1097.1h0.6M81.8,1085.5h0.6M119.9,1089.5h0.6M120.4,1075.2h0.6M124.6,1089.2h0.6M101.5,1103.8h0.6M123.8,1076.6h0.6M83.2,1094.7h0.6M113.5,1066.7h0.6M112.1,1067.3h0.6M89.0,1074.6h0.6M88.7,1077.2h0.6M90.4,1101.2h0.6M96.2,1103.5h0.6M82.6,1087.7h0.6M123.7,1084.8h0.6M122.7,1089.3h0.6M124.1,1084.1h0.6M120.7,1075.4h0.6M113.6,1097.5h0.6M118.9,1070.2h0.6M118.3,1093.3h0.6M84.8,1082.8h0.6M84.8,1076.8h0.6M107.6,1064.3h0.6M122.2,1082.6h0.6M83.6,1086.8h0.6M83.1,1088.8h0.6M82.8,1093.0h0.6M100.1,1103.3h0.6M90.3,1075.1h0.6M121.6,1081.7h0.6M110.6,1064.9h0.6M86.9,1075.0h0.6M113.2,1100.8h0.6M111.9,1098.6h0.6M86.1,1081.3h0.6M123.1,1076.2h0.6M105.6,1101.1h0.6M119.7,1090.6h0.6M88.0,1076.0h0.6M107.2,1100.8h0.6M118.0,1092.9h0.6M107.9,1103.5h0.6M123.9,1083.2h0.6M120.3,1089.1h0.6M102.7,1102.6h0.6M124.7,1076.6h0.6M95.9,1104.1h0.6M84.8,1084.4h0.6M82.5,1088.3h0.6M121.1,1092.4h0.6M97.7,1102.4h0.6M103.8,1066.8h0.6M109.3,1067.7h0.6M83.8,1093.1h0.6M119.9,1072.5h0.6M92.7,1071.3h0.6M121.7,1090.6h0.6M90.7,1100.6h0.6M99.7,1066.0h0.6M83.9,1091.8h0.6M100.3,1065.5h0.6M83.1,1091.4h0.6M123.7,1084.9h0.6M87.7,1075.8h0.6M114.3,1066.4h0.6M96.2,1102.4h0.6M108.9,1066.9h0.6M82.9,1078.8h0.6M112.4,1098.5h0.6M104.2,1102.1h0.6M84.4,1086.4h0.6M84.5,1075.1h0.6M84.3,1083.5h0.6M117.1,1094.6h0.6M86.2,1078.8h0.6M98.8,1067.6h0.6M103.3,1065.1h0.6M86.6,1077.5h0.6M116.0,1095.0h0.6M99.5,1067.5h0.6M87.0,1098.5h0.6M102.8,1103.6h0.6M83.6,1085.9h0.6M126.0,1078.0h0.6M94.0,1101.8h0.6M86.6,1096.9h0.6M122.6,1085.7h0.6M83.8,1096.5h0.6M89.1,1101.2h0.6M119.8,1096.2h0.6M85.0,1096.5h0.6M103.8,1064.9h0.6M88.1,1076.8h0.6M121.0,1089.0h0.6M83.8,1090.4h0.6M113.3,1097.6h0.6M124.8,1074.2h0.6M105.0,1065.0h0.6M109.2,1101.3h0.6M114.0,1068.6h0.6M112.4,1064.8h0.6M83.6,1081.4h0.6M122.2,1079.0h0.6M82.7,1090.9h0.6M106.1,1064.8h0.6M91.3,1100.7h0.6M88.1,1077.8h0.6M88.1,1099.7h0.6M105.8,1061.9h0.6M85.9,1080.4h0.6M82.0,1086.4h0.6M89.0,1101.1h0.6M105.0,1103.8h0.6M110.9,1066.2h0.6M98.2,1066.0h0.6M85.4,1097.8h0.6M124.3,1091.0h0.6M118.3,1092.5h0.6M121.1,1083.9h0.6M125.9,1077.4h0.6M90.0,1102.0h0.6M94.3,1071.3h0.6M119.7,1073.3h0.6M121.4,1085.9h0.6M121.4,1074.3h0.6M97.6,1070.1h0.6M84.3,1089.1h0.6M86.8,1077.8h0.6M91.2,1103.4h0.6M83.9,1100.6h0.6M116.9,1065.6h0.6M123.4,1088.9h0.6M119.0,1067.2h0.6M113.3,1100.2h0.6M83.7,1091.8h0.6M93.2,1104.4h0.6M84.0,1089.4h0.6M111.8,1100.0h0.6M121.3,1084.3h0.6M121.3,1078.2h0.6M92.4,1105.4h0.6M122.6,1088.3h0.6M107.8,1100.4h0.6M113.4,1101.1h0.6M88.9,1099.3h0.6M123.7,1086.7h0.6M121.1,1074.7h0.6M116.5,1067.7h0.6M122.0,1087.8h0.6M114.5,1068.1h0.6M107.2,1064.1h0.6M95.5,1104.0h0.6M89.1,1100.8h0.6M118.8,1073.7h0.6M84.1,1092.4h0.6M89.2,1100.8h0.6M99.0,1069.2h0.6M84.5,1085.5h0.6M122.4,1074.7h0.6M96.9,1104.1h0.6M113.9,1068.2h0.6M122.1,1078.2h0.6M121.0,1088.2h0.6M101.8,1104.7h0.6M98.2,1069.7h0.6M98.6,1067.2h0.6M107.2,1102.9h0.6M122.5,1076.2h0.6M84.8,1084.1h0.6M114.1,1101.1h0.6M119.0,1092.7h0.6M99.5,1067.0h0.6M99.7,1065.1h0.6M111.8,1102.5h0.6M95.4,1102.1h0.6M98.3,1064.5h0.6M94.6,1071.7h0.6M106.1,1102.7h0.6M119.2,1069.7h0.6M83.7,1085.1h0.6M121.3,1090.3h0.6M116.8,1071.5h0.6M93.6,1102.8h0.6M120.1,1092.3h0.6M83.5,1090.4h0.6M101.9,1102.9h0.6M88.7,1074.1h0.6M102.9,1064.9h0.6M110.0,1099.4h0.6M115.4,1095.6h0.6M90.6,1070.9h0.6M98.6,1069.2h0.6M96.8,1104.5h0.6M123.1,1087.7h0.6M123.3,1087.6h0.6M120.3,1073.1h0.6M128.6,1082.7h0.6M85.3,1076.0h0.6M108.7,1065.1h0.6M111.3,1067.5h0.6M117.0,1096.8h0.6M120.7,1078.0h0.6M82.4,1090.8h0.6M84.9,1082.9h0.6M114.5,1065.6h0.6M93.3,1070.8h0.6M120.7,1087.9h0.6M120.5,1075.6h0.6M111.8,1098.6h0.6M106.2,1066.8h0.6M80.9,1089.0h0.6M85.9,1081.7h0.6M123.5,1075.8h0.6M121.4,1088.1h0.6M106.8,1100.9h0.6M88.7,1075.4h0.6M94.7,1071.6h0.6M120.3,1091.1h0.6M120.3,1067.8h0.6M97.5,1068.7h0.6M86.0,1079.8h0.6M123.3,1084.7h0.6M83.3,1088.7h0.6M85.2,1094.5h0.6M89.2,1074.2h0.6M83.5,1093.7h0.6M99.8,1102.8h0.6M121.5,1069.2h0.6M89.3,1099.4h0.6M123.2,1084.5h0.6M84.1,1088.8h0.6M106.1,1065.9h0.6M83.2,1089.2h0.6M93.8,1071.3h0.6M123.3,1081.5h0.6M116.7,1068.9h0.6M92.4,1073.0h0.6M96.4,1103.8h0.6M123.6,1082.0h0.6M89.9,1102.2h0.6M83.9,1093.6h0.6M89.2,1073.7h0.6M93.5,1101.4h0.6M87.6,1102.8h0.6M106.5,1064.1h0.6M88.0,1075.7h0.6M97.5,1070.2h0.6M120.7,1071.3h0.6M84.6,1085.1h0.6M82.9,1085.8h0.6M105.5,1102.0h0.6M108.8,1067.4h0.6M98.5,1068.8h0.6M101.5,1104.0h0.6M114.3,1067.2h0.6M84.1,1087.0h0.6M83.4,1090.4h0.6M86.9,1078.9h0.6M82.9,1084.6h0.6M84.7,1082.8h0.6M103.5,1065.6h0.6M98.4,1102.5h0.6M118.4,1066.4h0.6M84.5,1086.9h0.6M84.3,1084.0h0.6M114.5,1069.4h0.6M83.7,1090.8h0.6M90.7,1074.3h0.6M81.7,1087.5h0.6M99.9,1067.7h0.6M82.7,1082.5h0.6M121.9,1072.2h0.6M108.2,1064.8h0.6M93.7,1104.1h0.6M103.8,1064.0h0.6M97.5,1069.9h0.6M84.9,1092.3h0.6M103.9,1104.2h0.6M116.0,1069.5h0.6M85.6,1080.9h0.6M109.8,1067.0h0.6M82.8,1090.8h0.6M115.7,1095.8h0.6M89.2,1099.1h0.6M93.1,1102.4h0.6M90.6,1100.3h0.6M101.0,1066.5h0.6M88.8,1074.6h0.6M113.8,1068.2h0.6M116.2,1095.9h0.6M95.1,1071.3h0.6M109.5,1068.0h0.6M126.7,1082.4h0.6M87.6,1098.9h0.6M121.7,1077.6h0.6M123.9,1082.9h0.6M123.6,1081.3h0.6M114.9,1066.6h0.6M82.8,1087.6h0.6M89.7,1100.7h0.6M120.4,1074.4h0.6M94.5,1102.9h0.6M84.5,1088.3h0.6M111.9,1099.4h0.6M100.2,1067.2h0.6M121.3,1078.9h0.6M96.2,1068.0h0.6M84.3,1096.8h0.6M103.5,1066.0h0.6M90.8,1100.8h0.6M122.2,1085.3h0.6M105.9,1102.7h0.6M95.8,1102.6h0.6M116.5,1094.6h0.6M121.0,1069.9h0.6M124.8,1080.6h0.6M107.1,1065.3h0.6M120.3,1074.2h0.6M124.3,1076.2h0.6M100.3,1105.3h0.6M84.4,1093.0h0.6M101.5,1066.2h0.6M88.3,1098.2h0.6M91.3,1073.5h0.6M99.4,1102.4h0.6M118.1,1093.9h0.6M115.6,1096.0h0.6M114.3,1069.5h0.6M98.1,1102.6h0.6M121.3,1075.9h0.6M86.8,1102.2h0.6M113.5,1066.1h0.6M104.0,1066.1h0.6M102.2,1066.0h0.6M98.0,1103.6h0.6M95.8,1102.3h0.6M120.7,1094.7h0.6M120.7,1089.9h0.6M110.9,1064.6h0.6M120.5,1093.4h0.6M106.9,1103.3h0.6M118.8,1091.0h0.6M82.9,1094.3h0.6M107.9,1101.8h0.6M82.8,1093.7h0.6M109.7,1101.0h0.6M109.7,1066.0h0.6M111.4,1099.7h0.6M99.3,1103.3h0.6M124.1,1078.3h0.6M109.5,1067.4h0.6M104.9,1066.0h0.6M102.1,1067.3h0.6M111.8,1099.2h0.6M82.8,1091.2h0.6M108.9,1066.6h0.6M114.2,1067.3h0.6M92.6,1102.4h0.6M97.5,1103.5h0.6M101.8,1106.7h0.6M99.1,1067.9h0.6M85.3,1098.2h0.6M84.1,1090.4h0.6M103.6,1065.7h0.6M104.0,1102.6h0.6M109.7,1100.5h0.6M96.9,1103.3h0.6M83.8,1083.3h0.6M122.3,1069.9h0.6M102.8,1103.0h0.6M84.3,1097.8h0.6M82.9,1087.1h0.6M107.1,1067.6h0.6M86.0,1096.7h0.6M99.6,1065.5h0.6M82.5,1091.4h0.6M92.3,1072.3h0.6M87.1,1097.4h0.6M106.0,1103.3h0.6M97.3,1068.7h0.6M98.9,1103.8h0.6M105.6,1103.0h0.6M103.0,1103.1h0.6M83.1,1081.8h0.6M84.6,1085.5h0.6M89.7,1074.1h0.6M113.6,1098.5h0.6M114.4,1067.4h0.6M119.1,1092.5h0.6M90.8,1100.4h0.6M121.3,1070.2h0.6M103.3,1062.9h0.6M99.8,1102.5h0.6M103.7,1106.6h0.6M119.3,1072.0h0.6M96.5,1103.7h0.6M86.2,1080.3h0.6M90.0,1101.1h0.6M123.2,1083.5h0.6M120.6,1073.0h0.6M121.4,1093.7h0.6M120.2,1087.1h0.6M119.7,1073.8h0.6M87.2,1076.9h0.6M86.6,1077.5h0.6M94.2,1102.7h0.6M121.3,1089.0h0.6M112.2,1065.5h0.6M90.0,1099.9h0.6M121.0,1084.3h0.6M98.2,1068.4h0.6M121.5,1069.9h0.6M102.0,1102.7h0.6M88.0,1100.5h0.6M83.0,1090.7h0.6M104.9,1065.8h0.6M99.4,1103.2h0.6M124.4,1081.8h0.6M92.5,1071.9h0.6M97.3,1069.5h0.6M90.2,1073.6h0.6M97.9,1104.2h0.6M116.3,1098.1h0.6M115.5,1097.1h0.6M94.1,1101.8h0.6M84.9,1079.1h0.6M117.5,1069.0h0.6M125.6,1078.4h0.6M104.3,1067.8h0.6M121.9,1090.4h0.6M86.9,1079.7h0.6M107.2,1103.5h0.6M114.1,1067.8h0.6M95.9,1070.4h0.6M119.6,1073.1h0.6M114.4,1067.9h0.6M121.5,1076.6h0.6M85.5,1096.2h0.6M93.9,1067.2h0.6M121.3,1072.9h0.6M86.2,1079.4h0.6M83.2,1088.9h0.6M82.0,1093.3h0.6M121.1,1076.1h0.6M104.2,1064.9h0.6M120.5,1087.9h0.6M83.6,1092.0h0.6M83.4,1095.1h0.6M91.8,1104.3h0.6M83.2,1084.7h0.6M90.0,1075.4h0.6M120.7,1068.9h0.6M85.4,1096.8h0.6M121.0,1073.6h0.6M94.8,1071.6h0.6M96.5,1069.8h0.6M123.3,1084.8h0.6M97.1,1102.7h0.6M103.7,1065.0h0.6M83.4,1086.0h0.6M93.6,1069.9h0.6M122.6,1083.6h0.6M122.0,1075.1h0.6M95.5,1102.1h0.6M120.7,1075.2h0.6M96.6,1104.5h0.6M83.5,1084.2h0.6M89.3,1076.4h0.6M85.5,1082.9h0.6M90.1,1074.9h0.6M115.5,1069.9h0.6M120.5,1090.2h0.6M89.0,1100.1h0.6M98.1,1103.0h0.6M103.7,1062.8h0.6M93.7,1103.3h0.6M120.5,1093.3h0.6M119.1,1093.3h0.6M120.5,1093.3h0.6M127.2,1077.8h0.6M113.2,1098.1h0.6M83.1,1091.7h0.6M90.7,1103.7h0.6M108.6,1100.0h0.6M111.0,1065.3h0.6M109.2,1100.1h0.6M124.2,1076.2h0.6M97.5,1069.5h0.6M116.6,1096.6h0.6M120.8,1077.6h0.6M118.4,1071.8h0.6M124.9,1087.0h0.6M89.4,1075.6h0.6M120.4,1071.4h0.6M94.0,1103.0h0.6M90.1,1074.0h0.6M117.8,1071.9h0.6M125.7,1073.6h0.6M84.0,1089.7h0.6M81.1,1095.1h0.6M84.2,1086.6h0.6M98.0,1102.5h0.6M87.1,1097.2h0.6M102.6,1102.2h0.6M82.6,1092.0h0.6M96.0,1102.4h0.6M116.3,1096.1h0.6M124.3,1078.3h0.6M110.7,1066.8h0.6M93.7,1070.5h0.6M85.1,1097.2h0.6M96.7,1068.5h0.6M110.7,1063.9h0.6M120.9,1088.3h0.6M88.7,1100.8h0.6M127.4,1081.9h0.6M82.3,1097.1h0.6M86.9,1098.1h0.6M89.4,1072.6h0.6M107.3,1064.6h0.6M108.6,1103.1h0.6M84.6,1084.2h0.6M115.2,1066.4h0.6M120.3,1089.9h0.6M82.1,1086.8h0.6M114.9,1095.4h0.6M84.5,1089.8h0.6M94.4,1069.9h0.6M114.0,1100.6h0.6M115.1,1069.4h0.6M93.1,1071.8h0.6M105.8,1064.7h0.6M108.7,1100.8h0.6M107.8,1101.1h0.6M109.8,1065.3h0.6M86.0,1096.2h0.6M119.4,1092.3h0.6M103.6,1103.1h0.6M123.0,1084.8h0.6M98.2,1104.1h0.6M114.8,1096.0h0.6M107.4,1101.1h0.6M99.2,1103.0h0.6M120.1,1069.8h0.6M86.4,1080.1h0.6M82.6,1087.7h0.6M99.4,1068.5h0.6M110.3,1067.7h0.6M82.7,1086.8h0.6M108.0,1103.9h0.6M98.0,1103.0h0.6M110.1,1101.2h0.6M114.4,1063.2h0.6M122.1,1082.5h0.6M117.1,1069.6h0.6M119.2,1069.5h0.6M100.6,1067.8h0.6M82.6,1097.7h0.6M117.9,1068.8h0.6M102.4,1102.8h0.6M107.3,1066.7h0.6M116.8,1070.7h0.6M84.2,1092.6h0.6M107.9,1103.4h0.6M105.5,1103.2h0.6M102.2,1061.7h0.6M108.9,1100.0h0.6M85.8,1094.7h0.6M117.8,1069.1h0.6M121.0,1086.9h0.6M123.8,1081.0h0.6M116.1,1067.2h0.6M108.7,1100.9h0.6M104.3,1067.0h0.6M101.9,1103.5h0.6M96.2,1069.3h0.6M106.8,1101.0h0.6M88.0,1100.0h0.6M118.9,1073.2h0.6M122.2,1084.4h0.6M122.2,1086.1h0.6M83.1,1083.3h0.6M85.2,1095.4h0.6M89.0,1076.1h0.6M120.0,1074.3h0.6M105.4,1101.3h0.6M120.5,1069.8h0.6M111.4,1102.0h0.6M110.9,1062.9h0.6M104.7,1064.3h0.6M116.6,1095.8h0.6M84.6,1076.8h0.6M90.2,1100.9h0.6M109.9,1066.0h0.6M92.0,1102.9h0.6M88.2,1076.4h0.6M97.2,1070.0h0.6M118.5,1093.7h0.6M94.0,1072.1h0.6M120.2,1073.7h0.6M85.6,1080.6h0.6M85.4,1082.9h0.6M102.7,1104.2h0.6M90.5,1103.4h0.6M99.1,1103.2h0.6M84.4,1095.6h0.6M84.1,1081.7h0.6M84.4,1089.3h0.6M119.1,1093.5h0.6M89.6,1101.2h0.6M83.3,1094.4h0.6M119.3,1070.2h0.6M84.2,1097.7h0.6M118.4,1072.6h0.6M121.5,1087.8h0.6M82.2,1089.0h0.6M102.8,1106.3h0.6M116.9,1097.0h0.6M102.6,1066.4h0.6M117.0,1068.1h0.6M123.1,1076.4h0.6M122.5,1074.5h0.6M84.3,1084.0h0.6M121.0,1087.5h0.6M114.2,1096.8h0.6M106.3,1103.4h0.6M84.7,1099.9h0.6M87.9,1077.6h0.6M95.1,1070.5h0.6M124.3,1088.8h0.6M110.7,1099.7h0.6M122.3,1091.7h0.6M123.1,1084.4h0.6M122.4,1089.9h0.6M100.4,1105.2h0.6M122.0,1090.0h0.6M100.6,1104.1h0.6M88.8,1099.9h0.6M116.0,1067.3h0.6M110.3,1099.5h0.6M83.2,1090.2h0.6M122.6,1084.3h0.6M85.1,1094.7h0.6M111.1,1102.2h0.6M84.5,1091.5h0.6M90.3,1074.3h0.6M115.5,1096.0h0.6M112.9,1098.0h0.6M89.7,1072.2h0.6M87.8,1076.1h0.6M96.2,1069.4h0.6M84.9,1083.4h0.6M95.2,1101.7h0.6M115.5,1095.0h0.6M91.3,1101.8h0.6M81.9,1089.4h0.6M121.2,1079.1h0.6M107.2,1101.1h0.6M85.5,1077.6h0.6M87.7,1100.3h0.6M106.2,1064.3h0.6M123.3,1082.9h0.6M122.3,1084.9h0.6M83.5,1085.2h0.6M92.5,1101.7h0.6M110.4,1067.5h0.6M113.9,1068.3h0.6M120.6,1089.3h0.6M104.2,1063.7h0.6M92.8,1101.8h0.6M114.7,1097.1h0.6M93.2,1101.8h0.6M98.1,1065.2h0.6M108.8,1067.7h0.6M115.6,1094.8h0.6M104.4,1104.7h0.6M83.4,1086.3h0.6M95.2,1070.9h0.6M85.1,1093.7h0.6M109.6,1065.6h0.6M121.4,1073.7h0.6M120.4,1091.1h0.6M106.6,1101.7h0.6M120.2,1072.5h0.6M116.5,1070.9h0.6M123.1,1072.8h0.6M122.3,1075.5h0.6M92.4,1070.9h0.6M83.0,1100.1h0.6M88.6,1100.1h0.6M124.7,1081.0h0.6M91.6,1073.2h0.6M98.1,1068.9h0.6M87.6,1098.5h0.6M121.5,1079.0h0.6M118.5,1065.7h0.6M120.9,1091.4h0.6M123.2,1068.2h0.6M107.0,1066.5h0.6M83.0,1089.1h0.6M83.6,1081.3h0.6M93.4,1101.5h0.6M87.7,1101.3h0.6M121.2,1086.3h0.6M89.6,1100.8h0.6M82.0,1078.1h0.6M122.0,1088.1h0.6M91.0,1072.0h0.6M114.6,1097.0h0.6M122.8,1086.1h0.6M115.7,1096.9h0.6M124.2,1080.2h0.6M119.0,1092.6h0.6M112.0,1098.2h0.6M104.0,1102.1h0.6M86.0,1098.1h0.6M122.2,1070.6h0.6M124.7,1077.1h0.6M116.1,1069.3h0.6M120.2,1074.8h0.6M86.1,1080.6h0.6M90.5,1103.6h0.6M117.8,1093.2h0.6M94.7,1101.8h0.6M115.7,1067.7h0.6M103.4,1101.8h0.6M120.9,1090.7h0.6M90.3,1074.6h0.6M122.9,1087.9h0.6M121.5,1071.0h0.6M117.9,1095.4h0.6M98.2,1103.2h0.6M106.8,1103.0h0.6M84.5,1091.4h0.6M114.8,1098.8h0.6M106.1,1102.2h0.6M104.8,1103.6h0.6M109.9,1062.9h0.6M93.1,1071.2h0.6M112.1,1064.9h0.6M106.6,1064.8h0.6M93.1,1070.8h0.6M83.4,1094.9h0.6M120.0,1071.4h0.6M95.6,1101.9h0.6M104.1,1102.9h0.6M94.4,1102.7h0.6M94.8,1071.4h0.6M119.7,1093.1h0.6M123.8,1085.5h0.6M82.7,1089.6h0.6M87.0,1098.9h0.6M86.4,1099.2h0.6M117.5,1069.6h0.6M115.9,1096.2h0.6M82.2,1087.3h0.6M116.6,1096.2h0.6M94.7,1102.5h0.6M122.5,1083.7h0.6M111.7,1066.7h0.6M113.3,1067.7h0.6M124.1,1085.3h0.6M98.4,1103.7h0.6M101.5,1066.8h0.6M94.6,1068.1h0.6M84.4,1078.2h0.6M112.3,1064.6h0.6M94.7,1103.3h0.6M96.4,1070.2h0.6M125.6,1083.9h0.6M112.4,1068.1h0.6M86.4,1102.4h0.6M118.2,1071.5h0.6M122.7,1079.4h0.6M115.0,1066.8h0.6M84.4,1088.4h0.6M113.3,1067.7h0.6M96.9,1102.6h0.6M122.0,1086.4h0.6M111.6,1068.8h0.6M110.5,1099.6h0.6M92.1,1101.7h0.6M84.8,1093.5h0.6M83.9,1091.6h0.6M123.2,1071.2h0.6M93.7,1071.1h0.6M117.2,1071.1h0.6M82.6,1088.6h0.6M102.4,1102.7h0.6M122.0,1079.4h0.6M83.3,1096.9h0.6M83.1,1091.8h0.6M106.8,1066.9h0.6M123.0,1077.1h0.6M110.8,1066.6h0.6M114.8,1096.4h0.6M122.7,1079.0h0.6M115.2,1096.2h0.6M82.2,1092.6h0.6M96.6,1068.4h0.6M104.6,1103.5h0.6M117.4,1068.5h0.6M84.2,1086.2h0.6M91.1,1100.4h0.6M94.3,1068.5h0.6M83.2,1089.4h0.6M84.8,1095.3h0.6M84.0,1087.6h0.6M102.2,1105.0h0.6M105.5,1064.5h0.6M94.2,1070.1h0.6M118.1,1098.5h0.6M120.5,1086.5h0.6M96.3,1070.1h0.6M88.0,1101.1h0.6M123.0,1071.8h0.6M87.0,1077.3h0.6M83.2,1087.0h0.6M119.6,1092.7h0.6M107.0,1102.1h0.6M108.5,1100.6h0.6M88.3,1099.4h0.6M113.4,1098.7h0.6M94.9,1101.8h0.6M124.9,1075.4h0.6M89.3,1101.6h0.6M84.7,1096.7h0.6M89.9,1101.8h0.6M106.8,1066.0h0.6M94.0,1101.9h0.6M97.0,1069.8h0.6M116.5,1070.4h0.6M100.7,1104.0h0.6M84.2,1099.4h0.6M96.0,1102.8h0.6M107.8,1066.1h0.6M84.4,1093.4h0.6M82.7,1094.3h0.6M103.9,1067.2h0.6M119.9,1090.4h0.6M112.5,1098.8h0.6M111.3,1099.8h0.6M119.9,1071.7h0.6M79.5,1089.0h0.6M118.1,1091.9h0.6M91.5,1104.1h0.6M120.8,1086.7h0.6M121.4,1074.5h0.6M94.8,1071.2h0.6M85.7,1080.5h0.6M110.8,1099.3h0.6M115.6,1067.8h0.6M83.8,1097.3h0.6M92.2,1070.0h0.6M83.8,1087.6h0.6M101.7,1067.4h0.6M87.4,1076.7h0.6M101.0,1104.1h0.6M115.9,1094.7h0.6M104.6,1102.5h0.6M106.1,1102.9h0.6M95.7,1102.0h0.6M110.9,1064.5h0.6M91.5,1072.9h0.6M105.4,1068.2h0.6M125.7,1081.5h0.6M116.3,1095.2h0.6M115.9,1070.2h0.6M109.4,1065.5h0.6M81.7,1082.6h0.6M90.8,1072.7h0.6M112.0,1098.6h0.6M84.6,1091.7h0.6M113.2,1098.4h0.6M87.0,1079.4h0.6M81.9,1096.9h0.6M82.5,1097.8h0.6M120.7,1074.2h0.6M84.7,1096.0h0.6M85.7,1097.2h0.6M98.9,1103.8h0.6M97.6,1069.0h0.6M85.9,1077.5h0.6M111.6,1099.1h0.6M122.6,1080.9h0.6M123.3,1080.3h0.6M91.5,1101.8h0.6M111.2,1099.4h0.6M96.2,1069.4h0.6M82.2,1097.2h0.6M123.2,1071.2h0.6M82.7,1091.0h0.6M115.2,1096.5h0.6M116.4,1068.4h0.6M121.2,1087.1h0.6M121.6,1085.6h0.6M84.9,1078.3h0.6M106.5,1100.8h0.6M94.2,1102.0h0.6M115.8,1066.4h0.6M111.3,1099.4h0.6M89.3,1101.8h0.6M83.4,1096.6h0.6M124.2,1078.2h0.6M93.2,1071.5h0.6M108.6,1101.9h0.6M108.4,1100.0h0.6M110.6,1100.3h0.6M123.4,1085.5h0.6M90.0,1074.9h0.6M124.8,1080.8h0.6M93.2,1102.7h0.6M102.6,1102.4h0.6M108.1,1063.3h0.6M85.4,1094.0h0.6M117.5,1071.7h0.6M103.5,1067.7h0.6M94.3,1071.0h0.6M122.6,1079.5h0.6M88.0,1077.5h0.6M101.5,1067.4h0.6M110.1,1099.3h0.6M88.8,1102.0h0.6M84.7,1085.4h0.6M86.7,1078.6h0.6M90.6,1103.2h0.6M109.1,1100.1h0.6M84.0,1082.1h0.6M89.3,1102.0h0.6M112.8,1068.0h0.6M120.2,1074.8h0.6M89.3,1101.3h0.6M111.2,1102.3h0.6M90.9,1101.2h0.6M88.7,1099.4h0.6M123.7,1076.9h0.6M103.0,1103.3h0.6M108.7,1102.8h0.6M86.9,1098.6h0.6M113.3,1097.7h0.6M110.5,1100.6h0.6M91.1,1073.8h0.6M108.1,1100.4h0.6M109.4,1100.9h0.6M109.2,1064.8h0.6M108.3,1100.4h0.6M88.5,1077.3h0.6M81.8,1097.2h0.6M116.2,1069.5h0.6M107.6,1100.9h0.6M111.4,1065.5h0.6M84.6,1097.4h0.6M101.4,1067.2h0.6M114.8,1095.5h0.6M101.5,1066.3h0.6M88.7,1099.7h0.6M85.3,1098.2h0.6M92.9,1102.4h0.6M86.7,1078.9h0.6M99.1,1102.4h0.6M104.1,1066.3h0.6M115.2,1066.9h0.6M96.1,1104.8h0.6M120.4,1071.4h0.6M101.4,1066.4h0.6M98.0,1104.9h0.6M87.3,1077.2h0.6M93.1,1072.8h0.6M116.7,1070.3h0.6M109.6,1067.0h0.6M95.4,1102.4h0.6M121.8,1080.0h0.6M109.1,1100.8h0.6M119.2,1094.7h0.6M83.8,1085.0h0.6M121.4,1073.1h0.6M87.9,1075.5h0.6M103.0,1103.4h0.6M102.5,1102.1h0.6M84.7,1081.1h0.6M83.8,1087.2h0.6M84.3,1086.8h0.6M118.0,1093.6h0.6M84.0,1090.2h0.6M88.3,1076.3h0.6M97.9,1104.3h0.6M122.9,1085.8h0.6M92.7,1102.9h0.6M121.7,1074.7h0.6M83.8,1087.6h0.6M91.0,1102.0h0.6M90.0,1075.6h0.6M103.1,1064.3h0.6M84.5,1097.2h0.6M86.3,1102.0h0.6M83.7,1092.8h0.6M98.5,1068.6h0.6M103.6,1064.7h0.6M115.5,1070.3h0.6M126.7,1077.7h0.6M100.5,1104.0h0.6M94.0,1103.2h0.6M87.0,1078.3h0.6M108.9,1063.3h0.6M114.8,1067.5h0.6M102.6,1105.1h0.6M115.4,1068.9h0.6M118.4,1071.8h0.6M116.7,1069.9h0.6M114.8,1096.3h0.6M88.6,1099.2h0.6M93.0,1102.2h0.6M84.8,1083.5h0.6M108.0,1067.8h0.6M121.4,1093.9h0.6M97.5,1103.6h0.6M117.9,1093.2h0.6M107.0,1101.3h0.6M85.8,1098.8h0.6M119.5,1070.7h0.6M95.2,1068.8h0.6M85.9,1075.9h0.6M92.9,1101.8h0.6M120.1,1072.8h0.6M116.3,1065.3h0.6M89.6,1073.8h0.6M113.2,1065.5h0.6M101.8,1065.0h0.6M100.7,1065.9h0.6M124.8,1076.1h0.6M85.6,1094.4h0.6M124.5,1087.9h0.6M112.9,1097.3h0.6M98.6,1066.7h0.6M87.6,1076.5h0.6M117.6,1070.4h0.6M119.8,1092.4h0.6M96.1,1107.0h0.6M120.1,1071.0h0.6M98.5,1102.9h0.6M89.4,1099.2h0.6M104.6,1103.0h0.6M105.7,1065.9h0.6M83.6,1086.4h0.6M97.3,1069.8h0.6M120.4,1092.9h0.6M84.6,1092.4h0.6M86.2,1079.1h0.6M104.2,1066.5h0.6M87.3,1098.1h0.6M84.0,1082.2h0.6M98.7,1102.3h0.6M107.8,1067.6h0.6M79.1,1084.8h0.6M84.5,1095.3h0.6M105.4,1067.0h0.6M122.9,1088.4h0.6M122.5,1087.0h0.6M113.2,1066.3h0.6M117.4,1067.6h0.6M84.4,1086.1h0.6M84.0,1092.7h0.6M116.0,1068.2h0.6M86.2,1096.4h0.6M96.4,1070.3h0.6M98.3,1068.2h0.6M95.0,1066.4h0.6M100.7,1103.9h0.6M124.3,1082.1h0.6M118.2,1069.7h0.6M117.5,1093.9h0.6M100.6,1102.3h0.6M116.1,1066.3h0.6M95.1,1071.2h0.6M86.8,1079.3h0.6M90.5,1073.7h0.6M116.4,1095.5h0.6M90.4,1073.4h0.6M100.6,1102.9h0.6M84.7,1082.0h0.6M109.4,1102.7h0.6M100.7,1103.3h0.6M103.6,1067.2h0.6M123.0,1082.0h0.6M120.1,1072.9h0.6M92.7,1070.2h0.6M91.9,1072.8h0.6M85.2,1097.8h0.6M125.2,1076.8h0.6M83.6,1090.8h0.6M86.2,1096.9h0.6M85.0,1082.8h0.6M108.2,1101.1h0.6M110.7,1068.0h0.6M115.2,1096.1h0.6M103.5,1102.8h0.6M85.0,1083.3h0.6M110.1,1067.0h0.6M110.1,1067.1h0.6M87.8,1077.1h0.6M120.8,1093.2h0.6M118.4,1092.9h0.6M99.9,1065.5h0.6M88.0,1097.9h0.6M118.9,1069.7h0.6M94.3,1071.8h0.6M91.6,1072.6h0.6M98.3,1066.0h0.6M99.9,1066.9h0.6M120.7,1072.6h0.6M114.4,1097.0h0.6M97.1,1102.4h0.6M105.4,1065.2h0.6M96.9,1070.0h0.6M108.8,1099.8h0.6M85.5,1093.9h0.6M95.7,1070.0h0.6M105.4,1065.9h0.6M92.9,1072.6h0.6M90.4,1100.2h0.6M108.8,1099.9h0.6M108.6,1068.0h0.6M84.6,1090.3h0.6M103.4,1067.7h0.6M124.1,1077.0h0.6M117.1,1093.6h0.6M111.2,1066.2h0.6M113.6,1097.8h0.6M106.9,1101.1h0.6M119.7,1093.7h0.6M97.8,1069.2h0.6M81.5,1090.7h0.6M122.9,1076.3h0.6M120.1,1072.6h0.6M118.5,1069.5h0.6M117.1,1071.2h0.6M98.1,1102.9h0.6M111.8,1066.7h0.6M107.0,1067.0h0.6M84.5,1086.6h0.6M122.2,1070.2h0.6M106.7,1101.4h0.6M121.1,1085.9h0.6M83.8,1087.7h0.6M86.3,1078.4h0.6M88.5,1101.7h0.6M118.3,1070.7h0.6M83.1,1089.6h0.6M96.8,1067.9h0.6M121.7,1073.7h0.6M120.9,1076.4h0.6M81.7,1093.0h0.6M120.2,1073.2h0.6M104.8,1103.6h0.6M108.2,1066.6h0.6M120.9,1086.8h0.6M113.5,1069.1h0.6M113.0,1068.3h0.6M103.4,1066.4h0.6M100.1,1102.5h0.6M121.5,1075.7h0.6M81.2,1093.4h0.6M125.2,1088.2h0.6M110.0,1099.1h0.6M123.4,1073.6h0.6M105.9,1102.3h0.6M109.8,1099.4h0.6M88.9,1103.3h0.6M121.3,1077.8h0.6M83.3,1091.3h0.6M87.6,1078.5h0.6M114.0,1065.8h0.6M119.0,1091.5h0.6M91.9,1102.0h0.6M97.8,1068.4h0.6M101.3,1105.2h0.6M110.5,1064.7h0.6M104.1,1102.7h0.6M93.7,1102.1h0.6M100.4,1105.5h0.6M100.8,1102.4h0.6M119.0,1074.6h0.6M87.0,1077.5h0.6M90.9,1101.4h0.6M86.7,1080.0h0.6M88.7,1100.6h0.6M121.2,1086.1h0.6M88.7,1075.7h0.6M83.7,1095.2h0.6M95.1,1071.4h0.6M92.8,1070.0h0.6M83.0,1091.5h0.6M90.0,1074.3h0.6M106.2,1067.2h0.6M81.8,1083.6h0.6M83.1,1082.8h0.6M107.1,1066.2h0.6M96.9,1102.8h0.6M88.0,1099.6h0.6M122.7,1080.4h0.6M123.1,1077.1h0.6M124.6,1082.6h0.6M88.5,1100.1h0.6M102.2,1102.2h0.6M96.8,1103.4h0.6M82.5,1081.0h0.6M87.3,1099.8h0.6M90.3,1071.3h0.6M97.8,1068.8h0.6M90.5,1100.1h0.6M86.0,1096.4h0.6M87.9,1098.6h0.6M111.1,1100.8h0.6M120.9,1073.5h0.6M121.4,1072.9h0.6M96.0,1069.8h0.6M99.9,1105.9h0.6M87.1,1097.4h0.6M123.1,1078.6h0.6M97.5,1104.6h0.6M113.4,1098.6h0.6M122.2,1086.7h0.6M118.5,1093.4h0.6M112.3,1098.7h0.6M118.1,1070.7h0.6M108.1,1101.4h0.6M123.6,1079.6h0.6M87.1,1098.1h0.6M81.6,1084.3h0.6M85.4,1096.4h0.6M122.1,1074.5h0.6M121.5,1073.3h0.6M111.4,1066.6h0.6M115.6,1068.2h0.6M83.1,1091.1h0.6M104.0,1102.2h0.6M83.8,1081.1h0.6M89.6,1074.5h0.6M97.6,1103.0h0.6M83.6,1092.7h0.6M85.3,1094.2h0.6M85.4,1097.6h0.6M118.4,1070.7h0.6M106.9,1065.9h0.6M82.9,1092.8h0.6M81.0,1089.9h0.6M87.0,1098.0h0.6M95.9,1102.4h0.6M83.3,1085.9h0.6M122.2,1088.2h0.6M93.5,1072.4h0.6M121.9,1079.5h0.6M83.0,1091.9h0.6M103.4,1103.0h0.6M114.1,1069.3h0.6M120.9,1072.5h0.6M116.0,1068.3h0.6M122.5,1082.5h0.6M119.3,1068.1h0.6M119.2,1091.7h0.6M88.9,1074.4h0.6M124.4,1075.8h0.6M81.2,1088.6h0.6M95.2,1103.0h0.6M104.9,1101.4h0.6M86.7,1097.1h0.6M94.8,1070.9h0.6M120.9,1072.9h0.6M89.7,1075.0h0.6M90.8,1073.0h0.6M109.8,1064.5h0.6M103.0,1101.8h0.6M90.1,1073.0h0.6M122.6,1078.6h0.6M85.3,1093.3h0.6M107.9,1101.4h0.6M92.3,1071.3h0.6M103.3,1103.2h0.6M88.1,1076.0h0.6M101.2,1103.6h0.6M99.6,1102.3h0.6M105.6,1104.1h0.6M101.9,1103.3h0.6M119.6,1068.5h0.6M117.5,1095.4h0.6M96.3,1069.8h0.6M108.4,1066.7h0.6M121.4,1092.0h0.6M85.3,1080.9h0.6M87.7,1077.8h0.6M101.3,1102.5h0.6M113.8,1096.6h0.6M90.0,1072.5h0.6M86.9,1079.7h0.6M83.7,1095.2h0.6M122.8,1082.3h0.6M119.7,1090.5h0.6M105.1,1105.4h0.6M116.2,1068.7h0.6M120.9,1088.9h0.6M85.2,1098.2h0.6M110.4,1099.8h0.6M107.4,1065.2h0.6M95.0,1103.3h0.6M116.5,1069.0h0.6M111.8,1100.4h0.6M86.9,1079.8h0.6M95.8,1104.7h0.6M84.9,1096.2h0.6M122.1,1073.2h0.6M87.4,1097.5h0.6M115.5,1066.8h0.6M116.2,1070.6h0.6M90.0,1074.3h0.6M85.1,1092.7h0.6M87.8,1072.0h0.6M121.8,1080.0h0.6M121.9,1091.8h0.6M124.7,1080.9h0.6M124.5,1085.8h0.6M116.1,1094.9h0.6M107.4,1100.4h0.6M116.4,1094.2h0.6M119.1,1093.3h0.6M123.7,1082.2h0.6M121.8,1088.3h0.6M123.7,1085.2h0.6M121.9,1079.9h0.6M90.2,1099.9h0.6M104.4,1102.4h0.6M86.6,1097.9h0.6M101.9,1065.9h0.6M92.0,1102.7h0.6M87.8,1075.6h0.6M111.1,1098.7h0.6M121.6,1082.1h0.6M123.1,1084.2h0.6M113.9,1096.5h0.6M120.8,1076.0h0.6M103.9,1067.4h0.6M91.0,1100.1h0.6M90.3,1073.6h0.6M101.0,1065.6h0.6M87.3,1097.6h0.6M115.8,1067.4h0.6M83.9,1078.7h0.6M85.3,1093.7h0.6M121.4,1082.8h0.6M93.9,1070.9h0.6M121.7,1079.7h0.6M85.3,1095.0h0.6M116.5,1065.3h0.6M93.5,1071.0h0.6M117.2,1095.4h0.6M105.7,1103.2h0.6M83.4,1098.0h0.6M85.4,1097.4h0.6M116.7,1067.6h0.6M102.8,1064.8h0.6M113.9,1097.8h0.6M121.3,1087.9h0.6M86.4,1096.4h0.6M105.1,1102.0h0.6M87.1,1077.5h0.6M83.6,1084.8h0.6M88.7,1099.9h0.6M120.5,1092.7h0.6M98.8,1067.3h0.6M121.8,1090.7h0.6M122.3,1080.4h0.6M97.6,1103.9h0.6M123.8,1073.8h0.6M98.3,1104.3h0.6M111.6,1098.3h0.6M87.2,1099.3h0.6M121.1,1083.9h0.6M83.7,1096.3h0.6M88.8,1075.3h0.6M88.5,1102.9h0.6M123.6,1070.0h0.6M120.1,1072.5h0.6M102.1,1067.6h0.6M126.5,1082.9h0.6M105.9,1066.9h0.6M126.4,1081.5h0.6M105.6,1063.7h0.6M122.6,1075.4h0.6M86.3,1080.4h0.6M80.9,1089.5h0.6M88.9,1100.3h0.6M108.8,1099.9h0.6M117.6,1069.4h0.6M84.3,1087.9h0.6M88.1,1101.6h0.6M122.3,1083.0h0.6M85.1,1094.3h0.6M123.1,1083.5h0.6M103.6,1103.6h0.6M82.1,1085.7h0.6M92.7,1102.0h0.6M91.8,1070.0h0.6M102.2,1103.7h0.6M121.9,1072.6h0.6M120.7,1072.4h0.6M111.3,1066.0h0.6M98.2,1102.2h0.6M123.4,1079.9h0.6M88.3,1076.4h0.6M89.2,1102.2h0.6M123.9,1079.2h0.6M87.0,1079.1h0.6M122.2,1084.4h0.6M95.6,1070.9h0.6M112.3,1064.5h0.6M123.2,1074.5h0.6M111.2,1067.3h0.6M85.8,1097.1h0.6M112.3,1100.3h0.6M104.9,1102.2h0.6M85.7,1097.1h0.6M121.0,1071.9h0.6M103.6,1065.9h0.6M104.5,1104.0h0.6M91.8,1069.7h0.6M122.3,1092.1h0.6M108.5,1100.7h0.6M96.0,1102.4h0.6M104.1,1103.8h0.6M84.7,1082.4h0.6M86.6,1096.4h0.6M90.1,1102.2h0.6M102.0,1065.0h0.6M85.9,1081.2h0.6M89.3,1101.0h0.6M82.6,1088.9h0.6M90.9,1101.1h0.6M86.2,1096.4h0.6M86.5,1079.4h0.6M90.5,1101.6h0.6M94.0,1101.5h0.6M114.3,1068.0h0.6M90.8,1103.6h0.6M107.0,1103.3h0.6M122.5,1086.4h0.6M99.3,1103.6h0.6M116.0,1069.2h0.6M82.1,1091.3h0.6M113.3,1099.6h0.6M97.8,1069.1h0.6M85.5,1095.1h0.6M86.0,1080.5h0.6M93.2,1068.9h0.6M109.8,1100.6h0.6M94.7,1069.7h0.6M97.2,1102.2h0.6M112.2,1065.6h0.6M111.5,1066.8h0.6M121.9,1072.1h0.6M95.5,1069.6h0.6M84.2,1086.7h0.6M88.2,1098.5h0.6M84.8,1084.8h0.6M90.7,1073.8h0.6M112.9,1097.6h0.6M120.7,1074.8h0.6M84.8,1082.2h0.6M86.9,1099.8h0.6M86.7,1096.2h0.6M107.6,1065.2h0.6M109.7,1101.9h0.6M86.6,1078.8h0.6M115.1,1096.4h0.6M97.4,1069.8h0.6M104.4,1102.2h0.6M98.8,1106.5h0.6M94.9,1101.9h0.6M86.5,1080.3h0.6M103.2,1066.0h0.6M82.3,1091.7h0.6M105.8,1064.6h0.6M103.2,1067.7h0.6M87.3,1077.5h0.6M85.7,1081.5h0.6M121.9,1084.3h0.6M116.9,1071.7h0.6M116.5,1095.2h0.6M114.3,1096.4h0.6M124.1,1080.8h0.6M83.5,1091.8h0.6M87.8,1075.5h0.6M93.7,1103.8h0.6M117.6,1096.9h0.6M83.9,1096.0h0.6M98.7,1104.0h0.6M84.1,1085.6h0.6M101.5,1103.0h0.6M103.1,1068.0h0.6M92.2,1071.6h0.6M122.9,1089.5h0.6M121.1,1090.5h0.6M84.2,1095.2h0.6M85.3,1083.7h0.6M98.2,1066.6h0.6M116.1,1069.1h0.6M120.9,1089.3h0.6M89.6,1072.4h0.6M127.0,1077.8h0.6M103.9,1068.1h0.6M121.3,1086.2h0.6M88.3,1099.7h0.6M121.8,1083.8h0.6M103.2,1066.9h0.6M117.9,1096.1h0.6M121.6,1087.9h0.6M92.3,1072.8h0.6M112.8,1067.5h0.6M86.9,1079.3h0.6M113.9,1098.5h0.6M90.8,1104.1h0.6M108.2,1100.9h0.6M113.4,1101.7h0.6M102.6,1104.1h0.6M102.5,1104.6h0.6M118.5,1068.8h0.6M97.0,1102.2h0.6M114.1,1096.6h0.6M116.6,1071.0h0.6M84.0,1089.7h0.6M103.4,1065.6h0.6M116.3,1070.7h0.6M84.5,1085.0h0.6M114.5,1096.6h0.6M100.9,1067.8h0.6M114.5,1097.2h0.6M99.3,1065.2h0.6M86.2,1098.1h0.6M97.9,1102.7h0.6M94.1,1103.3h0.6M101.9,1065.9h0.6M90.8,1102.7h0.6M91.2,1104.3h0.6M123.2,1085.2h0.6M121.2,1083.3h0.6M84.8,1082.3h0.6M110.9,1064.5h0.6M85.0,1093.2h0.6M85.1,1082.7h0.6M93.5,1101.9h0.6M83.8,1086.0h0.6M119.6,1074.7h0.6M102.9,1068.2h0.6M90.7,1073.8h0.6M84.0,1094.9h0.6M121.5,1076.1h0.6M120.6,1072.1h0.6M123.8,1075.7h0.6M121.7,1088.0h0.6M104.8,1065.2h0.6M109.4,1099.7h0.6M92.1,1102.4h0.6M120.6,1089.4h0.6M102.5,1102.9h0.6M83.8,1102.7h0.6M123.8,1081.5h0.6M107.4,1102.0h0.6M122.0,1077.3h0.6M90.1,1099.7h0.6M86.9,1097.6h0.6M103.2,1068.4h0.6M99.5,1065.7h0.6M114.4,1069.0h0.6M83.5,1083.9h0.6M95.0,1071.0h0.6M94.2,1101.8h0.6M105.4,1062.1h0.6M85.1,1076.7h0.6M117.2,1065.6h0.6M118.4,1066.3h0.6M114.0,1067.2h0.6M124.4,1069.7h0.6M103.8,1062.7h0.6M110.2,1064.2h0.6M103.0,1064.0h0.6M104.5,1063.3h0.6M113.5,1065.5h0.6M118.7,1069.7h0.6M126.7,1086.7h0.6M108.5,1063.0h0.6M123.6,1075.8h0.6M120.6,1065.7h0.6M110.7,1061.6h0.6M125.9,1075.1h0.6M113.1,1064.4h0.6M115.6,1064.7h0.6M112.3,1064.0h0.6M111.6,1063.2h0.6M106.5,1063.0h0.6M110.5,1062.1h0.6M118.0,1068.4h0.6M116.3,1068.3h0.6M110.8,1066.1h0.6M100.8,1063.4h0.6M127.0,1074.2h0.6M113.6,1066.3h0.6M112.6,1065.8h0.6M114.7,1064.4h0.6M100.7,1066.6h0.6M90.2,1069.3h0.6M121.7,1092.8h0.6M122.0,1074.0h0.6M109.1,1065.3h0.6M124.2,1071.2h0.6M103.2,1063.9h0.6M114.2,1066.0h0.6M121.9,1071.5h0.6M123.8,1074.5h0.6M119.2,1067.9h0.6M119.6,1062.9h0.6M118.4,1068.9h0.6M99.1,1066.9h0.6M121.5,1069.8h0.6M124.2,1090.6h0.6M104.5,1065.6h0.6M114.0,1066.5h0.6M126.0,1069.8h0.6M112.2,1065.8h0.6M119.5,1067.4h0.6M113.8,1065.7h0.6M124.5,1083.2h0.6M127.2,1075.3h0.6M111.2,1065.5h0.6M120.2,1071.7h0.6M108.2,1062.6h0.6M102.0,1065.3h0.6M107.9,1059.0h0.6M124.9,1080.1h0.6M121.2,1073.4h0.6M121.4,1070.9h0.6M126.8,1069.2h0.6M123.7,1084.4h0.6M121.1,1069.0h0.6M110.2,1064.6h0.6M102.4,1064.9h0.6M124.5,1079.9h0.6M115.2,1103.7h0.6M113.4,1064.2h0.6M115.8,1067.3h0.6M113.3,1064.2h0.6M104.9,1064.2h0.6M127.6,1073.5h0.6M120.5,1065.9h0.6M95.5,1066.2h0.6M118.7,1069.0h0.6M121.1,1065.4h0.6M110.0,1065.9h0.6M112.8,1066.6h0.6M112.4,1065.8h0.6M112.4,1061.6h0.6M113.3,1066.2h0.6M119.5,1070.0h0.6M120.1,1070.0h0.6M107.7,1059.5h0.6M122.2,1066.2h0.6M103.2,1064.9h0.6M124.4,1080.7h0.6M126.8,1078.7h0.6M114.6,1065.8h0.6M118.9,1068.0h0.6M103.3,1066.2h0.6M115.6,1065.7h0.6M122.7,1088.8h0.6M116.7,1062.8h0.6M99.6,1065.8h0.6M106.5,1065.4h0.6M124.7,1066.3h0.6M120.8,1094.2h0.6M112.6,1063.2h0.6M123.2,1068.7h0.6M123.8,1092.6h0.6M125.3,1085.7h0.6M122.7,1068.8h0.6M119.5,1064.7h0.6M124.1,1070.8h0.6M113.6,1066.2h0.6M118.0,1069.5h0.6M118.9,1063.3h0.6M122.1,1070.6h0.6M122.0,1067.6h0.6M115.5,1067.1h0.6M123.4,1087.9h0.6M120.4,1067.8h0.6M112.3,1066.0h0.6M111.2,1064.9h0.6M108.5,1065.7h0.6M125.6,1078.9h0.6M104.7,1062.9h0.6M126.2,1083.8h0.6M100.9,1065.7h0.6M127.6,1076.8h0.6M118.6,1066.9h0.6M111.2,1062.8h0.6M121.7,1072.8h0.6M112.2,1063.9h0.6M117.0,1065.2h0.6M114.1,1066.5h0.6M104.9,1065.7h0.6M124.0,1066.9h0.6M106.9,1064.3h0.6M117.1,1065.0h0.6M94.9,1068.1h0.6M115.2,1067.0h0.6M94.9,1067.0h0.6M118.5,1069.2h0.6M118.8,1068.7h0.6M103.1,1063.3h0.6M107.7,1064.1h0.6M123.4,1070.0h0.6M119.0,1067.9h0.6M120.9,1070.7h0.6M108.6,1064.1h0.6M128.0,1074.5h0.6M121.1,1071.2h0.6M121.5,1068.9h0.6M117.1,1067.4h0.6M127.1,1077.4h0.6M98.2,1063.0h0.6M126.3,1073.8h0.6M123.3,1082.9h0.6M125.8,1073.3h0.6M113.2,1065.5h0.6M117.8,1067.7h0.6M106.7,1063.1h0.6M122.8,1074.8h0.6M113.2,1063.4h0.6M123.0,1078.1h0.6M123.4,1086.5h0.6M109.7,1060.3h0.6M103.6,1065.9h0.6M120.7,1070.0h0.6M123.5,1079.0h0.6M122.8,1077.5h0.6M111.6,1065.9h0.6M124.3,1074.0h0.6M124.8,1068.4h0.6M120.0,1070.7h0.6M124.7,1086.3h0.6M124.4,1081.5h0.6M124.7,1070.4h0.6M118.1,1069.8h0.6M124.5,1078.5h0.6M117.9,1068.7h0.6M116.5,1064.7h0.6M127.7,1078.5h0.6M122.2,1072.4h0.6M113.9,1061.6h0.6M109.5,1065.8h0.6M96.7,1067.6h0.6M99.8,1065.8h0.6M124.7,1070.0h0.6M125.3,1076.2h0.6M123.0,1074.4h0.6M102.3,1063.4h0.6M115.7,1067.4h0.6M122.3,1070.8h0.6M124.4,1076.0h0.6M108.3,1064.0h0.6M108.4,1065.3h0.6M107.2,1059.5h0.6M122.6,1075.6h0.6M121.2,1072.9h0.6M123.9,1069.0h0.6M116.8,1068.4h0.6M115.1,1066.5h0.6M124.9,1071.1h0.6M125.8,1084.8h0.6M123.6,1082.9h0.6M99.8,1063.7h0.6M125.6,1074.2h0.6M97.5,1065.9h0.6M123.4,1075.3h0.6M108.3,1062.4h0.6M120.6,1065.5h0.6M103.1,1065.0h0.6M108.9,1061.3h0.6M108.4,1065.2h0.6M122.0,1071.7h0.6M116.7,1065.5h0.6M124.7,1061.0h0.6M125.9,1080.4h0.6M125.5,1076.0h0.6M109.1,1065.2h0.6M125.2,1082.7h0.6M115.4,1063.2h0.6M93.3,1069.5h0.6M124.1,1078.5h0.6M117.3,1063.5h0.6M106.2,1065.3h0.6M125.6,1073.6h0.6M106.3,1063.7h0.6M113.9,1067.1h0.6M106.9,1060.0h0.6M126.1,1083.8h0.6M119.8,1065.6h0.6M125.4,1070.4h0.6M122.4,1074.3h0.6M114.4,1066.4h0.6M115.0,1067.1h0.6M120.9,1069.5h0.6M125.6,1075.8h0.6M93.8,1068.6h0.6M102.5,1066.4h0.6M117.0,1067.6h0.6M126.0,1077.6h0.6M124.1,1072.2h0.6M120.6,1068.2h0.6M91.0,1067.7h0.6M121.8,1073.9h0.6M110.1,1062.0h0.6M116.4,1067.8h0.6M116.8,1067.2h0.6M115.1,1064.0h0.6M124.0,1074.9h0.6M104.8,1065.9h0.6M122.2,1074.7h0.6M125.6,1089.2h0.6M124.9,1084.1h0.6M124.1,1077.4h0.6M121.2,1069.9h0.6M124.2,1072.3h0.6M116.3,1067.8h0.6M120.6,1069.4h0.6M116.6,1067.9h0.6M96.4,1066.9h0.6M115.4,1065.3h0.6M122.0,1073.2h0.6M108.4,1065.3h0.6M127.2,1082.5h0.6M106.7,1064.6h0.6M109.0,1065.6h0.6M113.3,1066.6h0.6M118.0,1069.6h0.6M123.0,1076.7h0.6M110.6,1063.5h0.6M114.6,1066.8h0.6M113.0,1066.0h0.6M125.7,1073.2h0.6M108.9,1063.7h0.6M124.3,1069.5h0.6M103.8,1065.1h0.6M116.0,1066.3h0.6M124.4,1066.8h0.6M125.0,1080.8h0.6M119.3,1069.4h0.6M121.2,1069.2h0.6M118.2,1060.4h0.6M108.9,1064.7h0.6M100.4,1065.7h0.6M113.6,1064.9h0.6M118.8,1068.0h0.6M124.3,1070.8h0.6M111.3,1066.4h0.6M122.4,1074.9h0.6M120.2,1070.0h0.6M107.8,1064.7h0.6M120.0,1070.7h0.6M124.1,1073.0h0.6M112.1,1065.1h0.6M108.7,1061.4h0.6M116.9,1068.7h0.6M116.1,1066.3h0.6M110.9,1061.5h0.6M123.0,1074.0h0.6M100.0,1066.1h0.6M126.5,1078.7h0.6M122.0,1071.6h0.6M106.4,1064.3h0.6M114.5,1066.1h0.6M116.9,1064.3h0.6M124.3,1076.5h0.6M120.8,1071.9h0.6M99.1,1065.7h0.6M106.8,1064.7h0.6M121.8,1068.0h0.6M110.4,1065.6h0.6M123.8,1075.1h0.6M114.7,1067.7h0.6M123.7,1068.3h0.6M120.7,1072.3h0.6M124.0,1075.3h0.6M115.2,1065.6h0.6M125.6,1075.4h0.6M107.5,1065.4h0.6M111.8,1066.2h0.6M117.9,1068.8h0.6M125.6,1075.7h0.6M126.3,1085.0h0.6M122.4,1073.0h0.6M113.5,1064.4h0.6M114.8,1064.4h0.6M102.6,1064.7h0.6M120.3,1071.1h0.6M123.0,1084.3h0.6M116.1,1061.7h0.6M123.7,1081.7h0.6M123.7,1080.8h0.6M99.5,1063.8h0.6M127.6,1076.4h0.6M126.7,1075.3h0.6M109.6,1065.5h0.6M125.3,1082.5h0.6M133.0,1071.3h0.6M124.5,1077.4h0.6M123.7,1078.8h0.6M120.5,1072.1h0.6M115.1,1063.6h0.6M124.5,1078.9h0.6M127.1,1079.6h0.6M123.0,1070.9h0.6M110.6,1065.7h0.6M96.7,1066.6h0.6M112.6,1061.9h0.6M108.8,1063.1h0.6M103.3,1066.2h0.6M112.1,1063.9h0.6M114.7,1066.5h0.6M117.2,1068.6h0.6M119.1,1068.9h0.6M123.1,1073.1h0.6M122.3,1074.1h0.6M120.9,1068.3h0.6M122.7,1072.4h0.6M115.3,1066.9h0.6M113.1,1063.1h0.6M117.3,1068.8h0.6M105.2,1064.9h0.6M102.2,1061.6h0.6M118.7,1065.4h0.6M108.0,1065.8h0.6M123.4,1065.7h0.6M109.2,1060.7h0.6M125.4,1078.3h0.6M115.7,1067.0h0.6M105.4,1064.9h0.6M117.3,1069.1h0.6M103.7,1065.2h0.6M119.6,1069.5h0.6M120.9,1069.9h0.6M104.3,1066.1h0.6M122.6,1076.9h0.6M104.9,1064.9h0.6M124.1,1077.8h0.6M102.0,1063.5h0.6M125.3,1086.9h0.6M124.1,1082.1h0.6M106.9,1065.1h0.6M123.2,1086.9h0.6M111.4,1065.3h0.6M115.4,1064.6h0.6M102.4,1064.6h0.6M99.5,1064.8h0.6M113.8,1063.4h0.6M124.1,1073.3h0.6M123.1,1076.2h0.6M88.8,1068.9h0.6M98.7,1066.5h0.6M113.0,1064.5h0.6M113.1,1066.9h0.6M110.5,1063.5h0.6M119.0,1069.5h0.6M107.6,1065.4h0.6M115.6,1066.3h0.6M126.1,1075.9h0.6M119.0,1070.6h0.6M126.9,1074.0h0.6M115.4,1062.4h0.6M124.4,1087.5h0.6M115.6,1066.4h0.6M123.8,1071.0h0.6M118.2,1063.4h0.6M120.1,1066.8h0.6M114.3,1064.8h0.6M94.4,1066.5h0.6M125.4,1076.7h0.6M103.7,1064.0h0.6M122.0,1089.8h0.6M123.9,1075.9h0.6M117.3,1069.1h0.6M119.2,1068.9h0.6M126.1,1067.0h0.6M88.7,1071.9h0.6M112.8,1066.9h0.6M101.9,1064.5h0.6M96.7,1063.1h0.6M125.5,1077.0h0.6M116.4,1065.4h0.6M124.2,1088.6h0.6M139.4,1084.7h0.6M101.3,1090.7h0.6M93.0,1097.5h0.6M127.2,1093.8h0.6M82.9,1104.7h0.6M72.7,1075.6h0.6M136.2,1088.0h0.6M77.6,1071.7h0.6M81.8,1100.6h0.6M115.4,1086.0h0.6M95.2,1083.2h0.6M125.1,1095.6h0.6M137.7,1077.7h0.6M115.3,1090.0h0.6M70.8,1109.8h0.6M121.9,1093.1h0.6M104.7,1058.9h0.6M91.9,1089.3h0.6M150.5,1103.4h0.6M72.4,1084.9h0.6M120.0,1076.9h0.6M74.3,1072.1h0.6M62.4,1091.1h0.6M92.5,1107.1h0.6M102.9,1085.2h0.6M93.3,1080.5h0.6M140.7,1098.3h0.6M78.4,1097.2h0.6M94.6,1077.6h0.6M107.1,1105.6h0.6M89.8,1086.8h0.6M87.1,1071.0h0.6M45.4,1110.1h0.6M101.1,1047.4h0.6M108.9,1078.2h0.6M112.5,1081.6h0.6M129.3,1107.8h0.6M104.8,1055.8h0.6M46.3,1086.5h0.6M112.1,1080.6h0.6M114.6,1085.6h0.6M104.7,1082.9h0.6M115.4,1059.9h0.6M113.9,1071.8h0.6M79.9,1094.8h0.6M120.0,1077.0h0.6M66.3,1103.0h0.6M121.4,1116.4h0.6M85.6,1074.3h0.6M149.4,1108.1h0.6M81.0,1085.7h0.6M59.0,1086.1h0.6M120.8,1073.0h0.6M116.8,1096.3h0.6M117.2,1098.9h0.6M51.0,1079.9h0.6M79.6,1097.0h0.6M135.2,1096.3h0.6M161.5,1095.4h0.6M58.6,1081.9h0.6M85.6,1108.8h0.6M92.2,1107.7h0.6M120.2,1108.7h0.6M88.3,1108.3h0.6M102.0,1108.0h0.6M125.2,1108.0h0.6M96.4,1108.1h0.6M118.2,1108.3h0.6M78.7,1108.1h0.6M101.3,1108.3h0.6M114.3,1107.2h0.6M111.3,1107.9h0.6M105.2,1107.7h0.6M91.5,1108.6h0.6M107.6,1108.8h0.6M116.5,1108.3h0.6M91.7,1107.8h0.6M119.9,1108.7h0.6M93.2,1108.3h0.6M113.4,1108.5h0.6M109.0,1108.2h0.6M114.7,1108.7h0.6M86.3,1108.2h0.6M114.0,1107.6h0.6M118.5,1107.7h0.6M109.4,1108.3h0.6M117.3,1108.3h0.6M110.9,1107.5h0.6M120.2,1107.6h0.6M95.8,1107.5h0.6M78.2,1104.4h0.6M78.4,1085.1h0.6M78.0,1098.1h0.6M78.9,1082.1h0.6M80.0,1088.0h0.6M78.6,1096.6h0.6M79.6,1072.8h0.6M79.8,1079.2h0.6M78.9,1098.2h0.6M78.5,1086.2h0.6M79.1,1089.7h0.6M78.0,1083.0h0.6M78.5,1090.2h0.6M78.1,1096.3h0.6M78.3,1101.9h0.6M79.9,1105.1h0.6M78.9,1075.5h0.6M78.1,1107.3h0.6" stroke="#000" stroke-width="0.6" fill="none"/>
<path d="M113.6,1047.4h1.8M105.9,1042.8h1.8M103.6,1044.9h1.8M105.8,1045.9h1.8M113.0,1047.4h1.8M102.8,1041.4h1.8M106.8,1046.9h1.8M101.1,1049.4h1.8M111.4,1048.6h1.8M101.8,1043.7h1.8M119.5,1049.2h1.8M99.4,1047.5h1.8M95.3,1038.8h1.8M109.6,1048.4h1.8M100.6,1051.3h1.8M110.2,1045.1h1.8M105.6,1043.2h1.8M101.8,1047.7h1.8M110.4,1047.5h1.8M102.7,1042.0h1.8M98.6,1050.0h1.8M110.3,1044.0h1.8M106.0,1044.5h1.8M101.0,1047.7h1.8M112.2,1044.8h1.8M111.3,1047.0h1.8M101.2,1051.2h1.8M102.1,1047.9h1.8M103.2,1049.3h1.8M104.4,1045.4h1.8M110.4,1048.2h1.8M102.7,1048.7h1.8M114.1,1044.7h1.8M92.2,1043.8h1.8M101.2,1051.6h1.8M99.3,1044.0h1.8M106.7,1043.0h1.8M102.3,1050.0h1.8M103.7,1045.6h1.8M108.9,1046.1h1.8M96.4,1049.6h1.8M96.0,1044.2h1.8M96.4,1044.7h1.8M105.2,1051.3h1.8M103.7,1052.3h1.8M105.0,1042.8h1.8M110.0,1050.2h1.8M96.9,1045.8h1.8M98.8,1049.8h1.8M101.9,1043.3h1.8M103.4,1049.8h1.8M110.9,1047.2h1.8M99.2,1048.8h1.8M111.5,1044.8h1.8M103.1,1048.3h1.8M110.8,1048.3h1.8M111.8,1050.1h1.8M109.3,1048.1h1.8M96.1,1046.6h1.8M99.0,1046.5h1.8M109.7,1046.9h1.8M99.9,1050.6h1.8M114.1,1047.3h1.8M111.2,1042.5h1.8M103.7,1051.4h1.8M115.6,1049.5h1.8M93.5,1048.2h1.8M97.3,1046.8h1.8M112.9,1047.2h1.8M109.2,1046.7h1.8M95.4,1044.2h1.8M103.1,1043.9h1.8M110.9,1047.2h1.8M101.4,1050.6h1.8M117.7,1050.3h1.8M109.5,1051.0h1.8M108.5,1044.4h1.8M108.7,1046.0h1.8M106.5,1040.7h1.8M104.3,1052.4h1.8" stroke="#ff1010" stroke-width="1.8" fill="none"/>
<path d="M155.3,1079.8h1.8M153.9,1083.0h1.8M162.4,1084.4h1.8M159.5,1080.3h1.8M157.0,1076.9h1.8M160.4,1081.5h1.8M154.5,1083.5h1.8M161.8,1077.2h1.8M157.4,1077.8h1.8M156.3,1077.0h1.8M159.3,1092.2h1.8M154.0,1072.1h1.8M150.9,1076.1h1.8M157.4,1081.9h1.8M153.8,1080.4h1.8M156.8,1087.8h1.8M157.0,1083.8h1.8M156.5,1077.8h1.8M152.5,1080.5h1.8M154.8,1083.5h1.8M153.1,1082.9h1.8M155.8,1086.4h1.8M157.1,1084.8h1.8M156.0,1074.1h1.8M153.5,1083.0h1.8M155.6,1076.9h1.8M159.9,1088.8h1.8M154.1,1090.0h1.8M150.1,1088.5h1.8M155.9,1080.0h1.8M152.5,1084.4h1.8M152.9,1082.6h1.8M153.8,1088.8h1.8M149.4,1086.0h1.8" stroke="#1878ee" stroke-width="1.8" fill="none"/>
</g>
<rect x="77.5" y="1021.5" width="104.3" height="88.3" fill="none" stroke="#333" stroke-width="0.9"/>
<text transform="translate(69.4,1070) rotate(-90)" font-size="18" text-anchor="middle">V<tspan class="ser" font-size="19">δ</tspan>1</text>
<text x="129.6" y="1132.6" font-size="18" text-anchor="middle">V<tspan class="ser" font-size="19">δ</tspan>2</text>
<clipPath id="e3"><rect x="227.3" y="1020.3" width="103" height="87.5"/></clipPath>
<g clip-path="url(#e3)">
<ellipse cx="253" cy="1085" rx="18.9" ry="15.49" transform="rotate(-28.65 253 1085)" fill="#000"/>
<path d="M269.7,1089.2h0.6M268.9,1073.8h0.6M258.9,1098.5h0.6M264.2,1096.4h0.6M272.5,1076.7h0.6M267.4,1094.7h0.6M243.9,1102.2h0.6M234.3,1083.9h0.6M272.6,1078.6h0.6M254.7,1068.8h0.6M269.7,1087.8h0.6M269.5,1091.0h0.6M264.2,1095.3h0.6M257.0,1068.4h0.6M271.1,1075.3h0.6M236.1,1081.1h0.6M253.4,1067.5h0.6M250.6,1104.4h0.6M261.1,1097.4h0.6M251.6,1068.1h0.6M244.7,1070.8h0.6M243.7,1073.2h0.6M263.7,1071.0h0.6M255.9,1101.2h0.6M259.9,1101.7h0.6M269.2,1072.7h0.6M271.2,1085.9h0.6M248.8,1101.2h0.6M234.4,1090.5h0.6M240.8,1097.8h0.6M243.8,1072.8h0.6M260.5,1097.5h0.6M236.2,1083.3h0.6M236.1,1080.5h0.6M258.0,1067.3h0.6M252.0,1069.2h0.6M245.2,1099.9h0.6M265.4,1069.9h0.6M269.5,1074.8h0.6M270.8,1070.7h0.6M271.2,1078.4h0.6M269.4,1086.1h0.6M232.1,1088.0h0.6M249.3,1070.4h0.6M266.9,1094.3h0.6M255.5,1067.0h0.6M270.3,1078.8h0.6M269.0,1094.2h0.6M241.4,1072.1h0.6M259.9,1070.2h0.6M237.4,1079.5h0.6M257.3,1067.1h0.6M237.0,1080.6h0.6M239.6,1098.2h0.6M252.0,1069.6h0.6M257.3,1067.1h0.6M242.9,1099.1h0.6M249.7,1070.4h0.6M269.8,1079.3h0.6M244.5,1072.4h0.6M271.6,1080.0h0.6M252.2,1068.5h0.6M265.3,1095.6h0.6M251.1,1101.0h0.6M234.7,1091.2h0.6M236.5,1082.2h0.6M270.1,1087.4h0.6M266.9,1095.0h0.6M248.5,1101.2h0.6M236.1,1093.4h0.6M270.8,1088.1h0.6M238.3,1073.6h0.6M244.2,1072.5h0.6M238.7,1097.5h0.6M248.4,1069.9h0.6M255.1,1099.8h0.6M271.3,1080.1h0.6M274.2,1077.1h0.6M249.8,1070.4h0.6M243.4,1071.3h0.6M273.6,1085.7h0.6M233.2,1082.6h0.6M270.2,1087.9h0.6M251.2,1102.0h0.6M238.3,1078.6h0.6M272.9,1079.3h0.6M244.4,1071.6h0.6M255.3,1068.6h0.6M241.6,1098.5h0.6M235.8,1084.3h0.6M251.0,1101.0h0.6M237.4,1095.0h0.6M267.1,1069.5h0.6M238.7,1097.7h0.6M265.3,1068.3h0.6M270.5,1086.3h0.6M250.7,1066.9h0.6M245.1,1072.2h0.6M237.8,1077.8h0.6M253.1,1066.6h0.6M263.3,1070.3h0.6M243.2,1073.7h0.6M235.6,1090.0h0.6M237.5,1098.1h0.6M237.6,1095.1h0.6M236.0,1081.8h0.6M268.9,1069.5h0.6M241.8,1071.4h0.6M262.7,1097.1h0.6M263.5,1067.6h0.6M265.2,1094.8h0.6M258.4,1067.9h0.6M272.7,1079.8h0.6M248.8,1070.5h0.6M255.2,1067.2h0.6M233.6,1087.8h0.6M269.2,1092.6h0.6M271.5,1088.0h0.6M258.6,1100.4h0.6M269.1,1075.1h0.6M267.5,1096.8h0.6M272.4,1075.2h0.6M249.5,1101.2h0.6M265.0,1069.2h0.6M271.8,1085.9h0.6M262.0,1097.9h0.6M260.1,1098.2h0.6M240.2,1098.7h0.6M263.2,1096.1h0.6M249.9,1069.6h0.6M270.9,1088.8h0.6M243.3,1072.7h0.6M237.4,1078.6h0.6M237.5,1079.9h0.6M271.0,1074.9h0.6M268.9,1090.1h0.6M262.1,1097.9h0.6M255.1,1065.4h0.6M257.9,1067.5h0.6M234.5,1091.3h0.6M271.4,1084.6h0.6M271.8,1080.0h0.6M261.4,1097.1h0.6M259.9,1068.2h0.6M248.6,1070.3h0.6M240.5,1072.4h0.6M266.3,1095.4h0.6M244.5,1099.5h0.6M238.1,1096.2h0.6M237.3,1078.0h0.6M265.7,1072.2h0.6M270.5,1091.7h0.6M234.3,1093.7h0.6M266.4,1093.7h0.6M272.3,1087.4h0.6M259.5,1068.3h0.6M246.1,1070.4h0.6M271.9,1086.9h0.6M233.3,1084.9h0.6M273.0,1081.6h0.6M258.4,1067.1h0.6M270.5,1081.0h0.6M241.8,1101.3h0.6M249.4,1100.8h0.6M247.8,1070.7h0.6M235.4,1085.8h0.6M250.2,1100.4h0.6M242.0,1073.1h0.6M266.0,1094.0h0.6M273.2,1080.5h0.6M235.8,1093.3h0.6M254.4,1100.6h0.6M234.3,1082.7h0.6M252.9,1067.1h0.6M258.7,1068.1h0.6M247.7,1101.0h0.6M246.1,1100.5h0.6M265.2,1070.6h0.6M234.5,1084.3h0.6M234.8,1101.3h0.6M267.2,1093.9h0.6M268.0,1074.4h0.6M247.3,1100.6h0.6M248.4,1100.9h0.6M249.6,1069.2h0.6M245.6,1100.3h0.6M251.7,1069.2h0.6M238.5,1098.5h0.6M235.9,1083.0h0.6M268.8,1074.4h0.6M240.6,1099.0h0.6M260.7,1097.5h0.6M242.2,1099.6h0.6M262.8,1095.8h0.6M269.4,1096.3h0.6M271.3,1086.5h0.6M247.1,1069.9h0.6M261.4,1069.3h0.6M265.2,1070.2h0.6M235.3,1090.2h0.6M236.9,1099.2h0.6M238.1,1077.3h0.6M236.8,1093.2h0.6M235.6,1087.0h0.6M237.5,1076.1h0.6M238.1,1096.9h0.6M255.9,1100.7h0.6M262.4,1097.9h0.6M271.5,1087.8h0.6M258.6,1068.3h0.6M269.4,1076.2h0.6M242.1,1099.5h0.6M242.1,1100.7h0.6M258.6,1068.5h0.6M240.8,1098.0h0.6M272.1,1081.7h0.6M268.5,1070.1h0.6M267.7,1096.3h0.6M266.2,1069.9h0.6M265.0,1068.7h0.6M267.0,1096.7h0.6M236.2,1080.9h0.6M261.0,1097.2h0.6M258.9,1098.5h0.6M269.5,1072.5h0.6M234.7,1082.2h0.6M239.7,1076.8h0.6M235.7,1093.4h0.6M268.1,1094.8h0.6M271.5,1080.8h0.6M245.6,1100.6h0.6M241.6,1074.3h0.6M266.4,1073.5h0.6M239.8,1076.9h0.6M258.2,1099.1h0.6M263.8,1097.1h0.6M271.8,1086.4h0.6M247.3,1102.0h0.6M244.4,1099.7h0.6M235.8,1080.4h0.6M249.3,1070.1h0.6M271.0,1075.0h0.6M272.1,1090.6h0.6M271.6,1084.1h0.6M267.0,1095.1h0.6M236.0,1083.8h0.6M255.8,1101.1h0.6M253.3,1067.4h0.6M238.8,1077.6h0.6M257.5,1068.7h0.6M270.0,1075.4h0.6M240.5,1100.5h0.6M241.8,1072.4h0.6M242.8,1071.1h0.6M253.8,1101.6h0.6M276.1,1082.5h0.6M239.1,1076.2h0.6M260.5,1068.5h0.6M248.4,1068.7h0.6M273.7,1090.5h0.6M263.9,1096.3h0.6M241.4,1102.1h0.6M236.2,1080.2h0.6M263.7,1096.7h0.6M243.2,1100.8h0.6M269.6,1088.1h0.6M272.5,1087.3h0.6M247.0,1100.9h0.6M247.2,1069.7h0.6M239.5,1073.7h0.6M256.0,1066.2h0.6M241.0,1097.8h0.6M233.3,1086.1h0.6M266.9,1072.5h0.6M242.0,1074.5h0.6M266.2,1068.8h0.6M258.5,1099.8h0.6M249.1,1101.4h0.6M238.9,1074.3h0.6M271.6,1092.2h0.6M233.8,1086.5h0.6M257.1,1069.0h0.6M238.7,1075.9h0.6M275.0,1079.9h0.6M255.1,1100.4h0.6M234.9,1087.6h0.6M242.2,1100.4h0.6M268.5,1073.0h0.6M261.0,1099.0h0.6M234.7,1086.7h0.6M272.2,1091.4h0.6M272.7,1080.7h0.6M248.3,1070.0h0.6M263.1,1071.1h0.6M262.3,1097.3h0.6M261.7,1096.9h0.6M247.8,1100.4h0.6M252.5,1066.5h0.6M234.8,1094.8h0.6M270.2,1077.1h0.6M237.4,1077.3h0.6M236.3,1082.4h0.6M238.8,1097.7h0.6M236.2,1094.0h0.6M240.8,1075.4h0.6M252.8,1100.5h0.6M237.6,1079.0h0.6M238.1,1095.2h0.6M235.6,1090.4h0.6M234.2,1089.6h0.6M241.1,1071.9h0.6M236.0,1093.2h0.6M271.8,1080.7h0.6M232.7,1087.4h0.6M262.9,1066.3h0.6M241.8,1101.9h0.6M263.7,1098.3h0.6M236.7,1079.1h0.6M234.6,1085.6h0.6M266.7,1070.1h0.6M264.3,1068.8h0.6M270.6,1085.7h0.6M243.0,1072.6h0.6M260.5,1097.6h0.6M270.8,1093.6h0.6M237.7,1078.2h0.6M269.4,1075.9h0.6M260.7,1068.3h0.6M252.4,1068.9h0.6M235.6,1092.3h0.6M259.6,1069.3h0.6M251.0,1100.4h0.6M268.6,1072.8h0.6M234.4,1088.1h0.6M236.7,1094.3h0.6M269.0,1093.1h0.6M240.6,1074.1h0.6M241.1,1098.7h0.6M270.0,1090.1h0.6M242.7,1072.2h0.6M250.8,1101.0h0.6M255.0,1099.7h0.6M234.6,1086.2h0.6M234.9,1086.3h0.6M267.1,1071.5h0.6M237.1,1096.6h0.6M235.8,1091.4h0.6M234.3,1085.8h0.6M266.6,1094.5h0.6M261.8,1067.4h0.6M254.0,1064.7h0.6M241.0,1097.7h0.6M236.4,1080.5h0.6M235.2,1086.7h0.6M238.1,1096.8h0.6M267.5,1091.5h0.6M270.0,1081.3h0.6M249.0,1069.8h0.6M239.4,1096.9h0.6M246.2,1100.0h0.6M237.0,1095.6h0.6M263.7,1095.2h0.6M257.7,1099.1h0.6M245.5,1101.2h0.6M265.3,1096.0h0.6M238.3,1096.7h0.6M239.6,1097.4h0.6M259.8,1067.5h0.6M260.7,1064.7h0.6M272.1,1084.5h0.6M240.2,1075.0h0.6M273.6,1081.2h0.6M259.9,1068.0h0.6M265.6,1071.3h0.6M272.9,1077.9h0.6M251.5,1069.0h0.6M246.1,1071.1h0.6M255.3,1066.9h0.6M240.5,1099.3h0.6M247.2,1101.7h0.6M248.8,1102.6h0.6M268.9,1091.3h0.6M270.5,1086.4h0.6M271.1,1089.9h0.6M267.0,1071.9h0.6M260.1,1097.7h0.6M237.6,1075.7h0.6M270.6,1088.0h0.6M245.1,1071.1h0.6M269.7,1087.3h0.6M249.8,1068.0h0.6M260.9,1069.9h0.6M263.3,1097.4h0.6M269.5,1087.2h0.6M249.7,1070.0h0.6M243.4,1099.2h0.6M265.9,1067.6h0.6M251.4,1068.3h0.6M257.8,1099.5h0.6M266.7,1095.7h0.6M265.5,1094.9h0.6M234.0,1084.8h0.6M253.9,1100.2h0.6M271.7,1090.2h0.6M244.9,1069.9h0.6M266.0,1071.2h0.6M244.2,1101.4h0.6M245.9,1069.1h0.6M240.2,1098.7h0.6M243.0,1102.3h0.6M240.7,1098.7h0.6M251.3,1067.5h0.6M236.7,1093.1h0.6M245.4,1068.4h0.6M274.6,1082.3h0.6M252.5,1100.9h0.6M263.8,1069.2h0.6M262.2,1099.9h0.6M233.9,1091.7h0.6M247.1,1100.5h0.6M261.6,1070.5h0.6M234.7,1090.3h0.6M242.3,1071.2h0.6M246.3,1069.9h0.6M240.3,1097.2h0.6M255.2,1068.1h0.6M258.4,1068.5h0.6M272.6,1080.8h0.6M239.4,1076.4h0.6M235.9,1085.2h0.6M238.8,1074.7h0.6M264.2,1070.2h0.6M251.4,1066.8h0.6M251.0,1102.1h0.6M237.2,1095.2h0.6M236.2,1095.8h0.6M270.6,1080.9h0.6M246.4,1070.8h0.6M269.5,1089.9h0.6M250.7,1069.5h0.6M254.3,1100.3h0.6M239.9,1097.8h0.6M266.7,1093.7h0.6M271.1,1083.9h0.6M271.2,1082.6h0.6M257.7,1066.1h0.6M251.8,1100.3h0.6M234.6,1082.4h0.6M270.1,1077.7h0.6M266.0,1070.8h0.6M259.1,1068.4h0.6M251.4,1100.7h0.6M250.0,1068.1h0.6M238.7,1078.1h0.6M269.9,1080.9h0.6M239.1,1098.2h0.6M255.5,1068.2h0.6M249.6,1103.6h0.6M265.6,1072.5h0.6M248.4,1101.3h0.6M248.4,1101.5h0.6M240.2,1098.4h0.6M269.6,1087.1h0.6M239.1,1096.9h0.6M257.7,1099.6h0.6M269.3,1092.3h0.6M273.7,1073.9h0.6M270.7,1085.6h0.6M242.1,1099.5h0.6M268.4,1094.5h0.6M237.9,1078.6h0.6M237.5,1096.7h0.6M267.8,1073.9h0.6M232.9,1090.3h0.6M239.7,1097.3h0.6M243.6,1100.4h0.6M238.4,1078.8h0.6M255.9,1067.2h0.6M271.7,1082.8h0.6M270.4,1076.7h0.6M268.2,1095.2h0.6M267.2,1093.5h0.6M271.0,1082.9h0.6M247.2,1069.4h0.6M275.1,1082.0h0.6M258.4,1099.1h0.6M270.0,1077.7h0.6M242.4,1100.6h0.6M234.3,1094.5h0.6M264.9,1095.9h0.6M267.5,1071.3h0.6M242.2,1071.3h0.6M245.9,1070.6h0.6M249.6,1101.6h0.6M253.3,1100.7h0.6M234.6,1080.4h0.6M244.4,1070.9h0.6M271.0,1087.8h0.6M249.2,1101.1h0.6M269.2,1093.6h0.6M251.5,1101.5h0.6M239.1,1076.3h0.6M268.1,1092.5h0.6M272.5,1087.5h0.6M235.2,1087.8h0.6M236.9,1096.9h0.6M242.0,1072.0h0.6M250.1,1069.6h0.6M268.4,1076.0h0.6M256.1,1067.7h0.6M235.6,1079.0h0.6M268.1,1093.2h0.6M252.6,1069.3h0.6M268.3,1094.8h0.6M252.0,1102.2h0.6M238.7,1076.2h0.6M269.8,1088.7h0.6M242.0,1073.6h0.6M258.5,1068.7h0.6M270.8,1080.0h0.6M244.3,1099.5h0.6M241.4,1069.7h0.6M262.0,1069.5h0.6M271.7,1088.6h0.6M236.3,1079.6h0.6M270.3,1079.9h0.6M239.8,1075.4h0.6M265.8,1095.8h0.6M257.0,1066.8h0.6M233.6,1087.6h0.6M236.3,1092.2h0.6M238.9,1078.0h0.6M267.0,1093.5h0.6M270.8,1090.0h0.6M236.9,1079.4h0.6M264.2,1096.5h0.6M246.8,1100.5h0.6M243.3,1073.1h0.6M273.4,1087.4h0.6M243.9,1072.4h0.6M254.7,1100.4h0.6M243.9,1099.5h0.6M271.5,1085.4h0.6M240.0,1075.0h0.6M274.6,1078.3h0.6M257.4,1068.9h0.6M239.1,1077.2h0.6M235.8,1095.5h0.6M250.3,1102.4h0.6M274.1,1077.4h0.6M263.1,1067.8h0.6M232.5,1080.5h0.6M236.4,1079.7h0.6M242.7,1073.3h0.6M268.2,1068.5h0.6M253.6,1102.2h0.6M233.8,1087.1h0.6M240.3,1098.4h0.6M271.0,1084.5h0.6M265.9,1066.7h0.6M268.4,1092.4h0.6M263.4,1069.3h0.6M235.2,1083.7h0.6M270.7,1083.3h0.6M248.2,1068.8h0.6M243.6,1071.7h0.6M260.9,1068.8h0.6M244.2,1100.1h0.6M239.1,1077.7h0.6M242.9,1069.7h0.6M237.6,1094.8h0.6M270.9,1082.4h0.6M236.0,1095.4h0.6M236.4,1078.4h0.6M247.4,1101.0h0.6M239.6,1099.2h0.6M257.7,1099.9h0.6M249.2,1100.5h0.6M269.0,1094.9h0.6M263.2,1068.3h0.6M259.2,1098.3h0.6M264.1,1095.2h0.6M235.5,1092.5h0.6M272.8,1083.6h0.6M265.9,1094.0h0.6M270.3,1086.6h0.6M253.7,1067.8h0.6M235.3,1091.2h0.6M235.0,1084.6h0.6M270.7,1077.4h0.6M263.6,1095.8h0.6M267.9,1065.5h0.6M256.7,1066.5h0.6M235.6,1079.9h0.6M271.9,1077.5h0.6M238.3,1096.4h0.6M244.8,1071.9h0.6M250.4,1069.5h0.6M256.1,1066.7h0.6M234.3,1089.4h0.6M261.0,1069.2h0.6M236.0,1080.6h0.6M240.4,1076.1h0.6M262.7,1071.0h0.6M244.8,1071.4h0.6M270.8,1076.7h0.6M270.2,1075.6h0.6M236.5,1094.6h0.6M234.4,1080.5h0.6M265.1,1071.6h0.6M233.9,1089.5h0.6M265.9,1068.2h0.6M252.7,1100.8h0.6M236.8,1093.0h0.6M253.1,1067.5h0.6M237.8,1077.8h0.6M268.0,1073.5h0.6M237.1,1096.0h0.6M255.6,1101.2h0.6M267.3,1071.0h0.6M235.1,1088.7h0.6M255.3,1068.0h0.6M271.1,1085.5h0.6M255.5,1100.3h0.6M269.2,1070.7h0.6M235.5,1080.9h0.6M252.3,1101.1h0.6M243.6,1099.5h0.6M241.7,1074.8h0.6M267.8,1074.1h0.6M266.3,1096.3h0.6M245.9,1071.6h0.6M266.9,1071.3h0.6M241.5,1098.8h0.6M246.4,1070.5h0.6M248.7,1101.6h0.6M262.2,1098.3h0.6M264.7,1072.1h0.6M267.8,1075.6h0.6M263.7,1069.0h0.6M259.2,1064.2h0.6M245.6,1070.3h0.6M250.0,1102.4h0.6M236.7,1077.5h0.6M245.3,1071.7h0.6M238.4,1096.9h0.6M243.1,1099.2h0.6M264.9,1095.6h0.6M270.5,1083.8h0.6M269.7,1087.9h0.6M237.5,1094.0h0.6M273.8,1083.4h0.6M271.5,1089.6h0.6M233.9,1087.9h0.6M262.6,1065.2h0.6M266.3,1094.1h0.6M270.2,1092.2h0.6M254.2,1103.4h0.6M247.3,1070.3h0.6M255.8,1067.4h0.6M246.6,1101.4h0.6M235.5,1087.0h0.6M242.2,1072.4h0.6M272.0,1085.2h0.6M260.3,1099.5h0.6M264.3,1071.0h0.6M269.3,1092.9h0.6M257.0,1099.7h0.6M270.3,1073.1h0.6M243.9,1099.9h0.6M248.6,1069.4h0.6M243.2,1099.1h0.6M271.3,1082.6h0.6M252.6,1068.1h0.6M270.5,1085.0h0.6M238.1,1078.2h0.6M253.6,1100.6h0.6M258.8,1067.5h0.6M234.4,1091.4h0.6M239.2,1074.4h0.6M254.3,1099.9h0.6M238.6,1096.4h0.6M240.5,1074.5h0.6M234.8,1084.3h0.6M259.8,1098.9h0.6M237.6,1099.4h0.6M255.7,1068.6h0.6M238.5,1096.7h0.6M237.3,1098.1h0.6M239.6,1074.7h0.6M242.8,1101.4h0.6M235.0,1083.7h0.6M250.2,1070.2h0.6M271.5,1086.4h0.6M246.9,1102.1h0.6M272.3,1088.8h0.6M234.5,1091.2h0.6M235.1,1091.4h0.6M251.5,1068.8h0.6M236.2,1093.6h0.6M272.2,1083.1h0.6M268.5,1093.2h0.6M265.0,1069.7h0.6M242.8,1073.9h0.6M237.2,1096.7h0.6M240.0,1098.8h0.6M272.6,1075.2h0.6M243.4,1099.9h0.6M240.5,1100.1h0.6M234.0,1086.5h0.6M251.6,1101.4h0.6M266.2,1095.4h0.6M252.1,1100.5h0.6M246.8,1071.5h0.6M258.3,1099.2h0.6M271.2,1086.9h0.6M272.5,1079.6h0.6M256.9,1099.2h0.6M264.3,1096.1h0.6M259.4,1067.4h0.6M251.2,1068.4h0.6M268.9,1092.4h0.6M263.9,1070.0h0.6M261.9,1097.4h0.6M238.3,1098.7h0.6M233.6,1093.0h0.6M257.4,1101.0h0.6M272.1,1090.6h0.6M270.6,1085.6h0.6M262.2,1099.9h0.6M250.6,1101.0h0.6M265.8,1094.9h0.6M248.9,1100.8h0.6M254.4,1066.5h0.6M251.7,1101.8h0.6M243.2,1101.0h0.6M237.6,1078.5h0.6M257.9,1066.7h0.6M268.0,1073.9h0.6M237.3,1095.9h0.6M238.4,1072.3h0.6M265.4,1096.6h0.6M236.1,1092.9h0.6M270.2,1081.8h0.6M246.1,1070.4h0.6M240.2,1101.0h0.6M255.0,1067.9h0.6M256.5,1066.5h0.6M268.2,1090.6h0.6M264.5,1070.2h0.6M264.5,1071.3h0.6M241.3,1097.9h0.6M248.1,1102.4h0.6M236.0,1100.0h0.6M235.3,1088.8h0.6M270.8,1083.6h0.6M240.5,1100.0h0.6M252.8,1102.7h0.6M247.9,1069.0h0.6M253.3,1102.0h0.6M267.2,1094.5h0.6M261.9,1097.8h0.6M235.4,1094.2h0.6M236.0,1083.2h0.6M241.9,1074.1h0.6M259.8,1101.1h0.6M256.6,1068.0h0.6M234.5,1084.4h0.6M252.5,1066.1h0.6M267.7,1095.3h0.6M246.3,1070.7h0.6M243.3,1100.8h0.6M265.6,1098.5h0.6M269.6,1084.6h0.6M267.2,1069.9h0.6M234.4,1087.7h0.6M234.6,1077.4h0.6M269.9,1078.4h0.6M235.7,1084.9h0.6M257.2,1099.4h0.6M242.7,1072.2h0.6M262.2,1067.7h0.6M255.5,1066.7h0.6M248.5,1068.8h0.6M250.5,1100.9h0.6M241.8,1099.6h0.6M250.7,1101.2h0.6M256.8,1067.7h0.6M239.6,1074.8h0.6M234.8,1082.5h0.6M267.1,1096.4h0.6M269.1,1090.1h0.6M236.5,1077.3h0.6M269.0,1091.4h0.6M235.8,1082.8h0.6M269.3,1070.2h0.6M269.5,1074.8h0.6M265.5,1094.7h0.6M235.3,1092.0h0.6M258.8,1068.0h0.6M245.2,1099.8h0.6M275.3,1080.8h0.6M275.2,1090.7h0.6M239.0,1097.5h0.6M260.9,1067.5h0.6M269.4,1085.9h0.6M252.4,1069.0h0.6M260.8,1068.8h0.6M272.0,1074.7h0.6M235.8,1090.6h0.6M264.0,1071.7h0.6M271.2,1084.3h0.6M245.6,1103.3h0.6M242.2,1072.4h0.6M245.6,1100.0h0.6M271.6,1084.9h0.6M272.2,1078.5h0.6M252.4,1068.7h0.6M247.9,1100.9h0.6M237.2,1096.5h0.6M271.7,1088.4h0.6M250.6,1101.0h0.6M269.7,1093.2h0.6M273.1,1084.2h0.6M261.4,1097.5h0.6M266.5,1094.3h0.6M264.5,1095.5h0.6M269.9,1077.7h0.6M244.3,1072.4h0.6M238.2,1077.9h0.6M251.0,1100.7h0.6M236.6,1081.7h0.6M233.4,1087.4h0.6M250.3,1102.0h0.6M263.8,1070.7h0.6M256.9,1069.1h0.6M273.7,1085.7h0.6M264.6,1096.7h0.6M256.3,1069.4h0.6M249.2,1101.8h0.6M256.2,1099.7h0.6M244.7,1099.7h0.6M260.3,1065.0h0.6M233.2,1082.9h0.6M241.0,1074.3h0.6M258.5,1068.4h0.6M245.3,1071.5h0.6M260.9,1098.5h0.6M273.0,1083.5h0.6M255.1,1068.6h0.6M262.8,1070.3h0.6M239.6,1096.8h0.6M254.9,1102.2h0.6M272.2,1077.6h0.6M261.2,1098.4h0.6M258.0,1098.7h0.6M246.3,1101.4h0.6M245.0,1101.0h0.6M255.8,1099.6h0.6M247.1,1069.2h0.6M269.8,1072.7h0.6M267.7,1097.0h0.6M260.2,1098.4h0.6M266.5,1070.1h0.6M268.6,1073.3h0.6M254.4,1068.5h0.6M267.9,1075.7h0.6M250.6,1100.7h0.6M249.6,1070.1h0.6M248.6,1068.4h0.6M246.8,1100.3h0.6M269.4,1076.6h0.6M270.5,1093.5h0.6M243.3,1071.8h0.6M233.7,1089.7h0.6M259.8,1064.2h0.6M252.3,1069.3h0.6M256.0,1099.8h0.6M242.4,1073.9h0.6M273.7,1084.5h0.6M252.6,1066.6h0.6M269.2,1088.4h0.6M256.2,1099.9h0.6M246.4,1069.3h0.6M275.2,1079.4h0.6M254.6,1102.5h0.6M252.8,1101.9h0.6M235.9,1082.3h0.6M238.0,1076.8h0.6M269.1,1094.3h0.6M263.6,1070.1h0.6M267.6,1073.1h0.6M265.3,1071.1h0.6M271.8,1085.4h0.6M262.7,1096.9h0.6M272.4,1076.0h0.6M238.9,1077.9h0.6M268.5,1090.5h0.6M239.6,1097.9h0.6M235.1,1085.1h0.6M239.6,1100.8h0.6M235.7,1082.4h0.6M259.1,1100.1h0.6M270.5,1074.9h0.6M253.9,1068.7h0.6M235.9,1083.7h0.6M235.2,1089.5h0.6M236.1,1081.4h0.6M237.8,1097.3h0.6M236.0,1081.4h0.6M258.7,1098.9h0.6M251.5,1068.7h0.6M271.6,1073.5h0.6M270.9,1086.9h0.6M272.4,1086.9h0.6M236.2,1092.7h0.6M260.8,1068.4h0.6M234.8,1090.7h0.6M235.4,1085.9h0.6M270.3,1077.2h0.6M239.8,1075.5h0.6M253.3,1064.8h0.6M242.4,1071.5h0.6M238.5,1100.7h0.6M233.5,1092.7h0.6M236.6,1080.4h0.6M264.2,1069.4h0.6M259.3,1100.2h0.6M271.5,1083.8h0.6M241.5,1074.0h0.6M262.7,1098.3h0.6M249.3,1100.7h0.6M270.5,1083.9h0.6M268.4,1070.4h0.6M269.2,1075.7h0.6M268.5,1090.6h0.6M242.3,1099.4h0.6M265.5,1071.8h0.6M242.7,1070.8h0.6M269.0,1093.0h0.6M271.6,1079.3h0.6M264.4,1095.0h0.6M256.4,1069.4h0.6M234.4,1087.1h0.6M235.9,1089.7h0.6M272.7,1084.6h0.6M251.7,1067.4h0.6M261.0,1068.0h0.6M235.0,1084.2h0.6M256.4,1102.2h0.6M232.5,1089.2h0.6M234.1,1085.8h0.6M233.7,1084.8h0.6M246.9,1100.9h0.6M235.9,1083.4h0.6M269.1,1088.2h0.6M232.9,1090.1h0.6M247.1,1101.4h0.6M237.8,1079.4h0.6M245.3,1100.3h0.6M271.3,1077.4h0.6M238.0,1097.3h0.6M234.9,1089.0h0.6M252.0,1101.0h0.6M250.6,1069.5h0.6M270.4,1091.3h0.6M236.4,1081.3h0.6M256.6,1064.6h0.6M242.2,1072.2h0.6M271.0,1080.0h0.6M248.2,1069.7h0.6M256.1,1069.4h0.6M240.0,1074.1h0.6M234.0,1089.7h0.6M266.2,1073.3h0.6M240.9,1075.7h0.6M269.5,1071.3h0.6M236.2,1093.0h0.6M260.1,1069.3h0.6M252.3,1100.6h0.6M240.9,1101.8h0.6M246.7,1070.5h0.6M237.0,1076.0h0.6M253.0,1068.9h0.6M234.3,1088.1h0.6M239.7,1074.5h0.6M238.7,1076.7h0.6M255.0,1101.3h0.6M235.5,1092.8h0.6M239.6,1100.3h0.6M263.5,1068.4h0.6M238.9,1074.6h0.6M263.2,1068.7h0.6M270.5,1082.6h0.6M256.7,1099.2h0.6M270.6,1085.2h0.6M253.8,1069.1h0.6M269.2,1090.4h0.6M244.0,1072.9h0.6M234.6,1093.1h0.6M246.0,1100.1h0.6M259.7,1099.6h0.6M258.1,1098.7h0.6M247.1,1070.1h0.6M238.9,1096.0h0.6M243.9,1072.6h0.6M250.4,1069.6h0.6M254.6,1068.3h0.6M260.8,1097.3h0.6M234.7,1092.6h0.6M272.4,1083.0h0.6M270.2,1081.2h0.6M274.9,1082.5h0.6M252.6,1067.8h0.6M268.5,1092.4h0.6M258.7,1066.1h0.6M233.7,1088.7h0.6M271.5,1086.6h0.6M255.0,1099.8h0.6M252.5,1103.2h0.6M262.4,1069.4h0.6M256.6,1102.1h0.6M244.5,1071.8h0.6M245.5,1099.9h0.6M271.8,1077.5h0.6M235.0,1087.2h0.6M235.5,1087.7h0.6M268.5,1093.1h0.6M235.0,1091.0h0.6M262.6,1067.6h0.6M268.0,1094.4h0.6M233.9,1085.0h0.6M269.2,1094.3h0.6M256.5,1067.6h0.6M236.0,1091.3h0.6M239.6,1076.7h0.6M237.9,1078.7h0.6M271.3,1087.8h0.6M267.8,1092.9h0.6M261.3,1098.5h0.6M244.0,1100.8h0.6M235.2,1088.6h0.6M252.5,1066.6h0.6M236.2,1092.2h0.6M254.7,1100.8h0.6M241.4,1098.0h0.6M254.3,1067.5h0.6M271.6,1079.1h0.6M254.7,1099.8h0.6M257.4,1099.3h0.6M244.4,1072.4h0.6M239.7,1074.9h0.6M245.2,1071.1h0.6M245.4,1102.0h0.6M241.0,1073.3h0.6M247.1,1101.9h0.6M243.8,1073.1h0.6M259.6,1067.4h0.6M257.2,1099.9h0.6M238.7,1074.0h0.6M247.7,1068.7h0.6M235.7,1093.6h0.6M249.4,1070.4h0.6M255.9,1068.3h0.6M238.0,1076.6h0.6M273.6,1078.2h0.6M248.5,1101.0h0.6M272.3,1089.0h0.6M257.9,1099.7h0.6M262.2,1097.3h0.6M235.6,1086.6h0.6M254.9,1067.8h0.6M264.2,1070.6h0.6M268.7,1072.3h0.6M264.6,1067.8h0.6M245.4,1072.0h0.6M241.0,1073.1h0.6M266.2,1070.6h0.6M274.1,1083.0h0.6M238.5,1078.3h0.6M239.0,1096.0h0.6M267.0,1071.2h0.6M246.0,1102.6h0.6M238.4,1095.5h0.6M271.2,1077.2h0.6M240.0,1098.6h0.6M265.6,1068.7h0.6M267.4,1094.3h0.6M270.5,1084.7h0.6M271.4,1079.1h0.6M242.5,1072.3h0.6M261.7,1097.3h0.6M234.5,1087.5h0.6M254.4,1066.7h0.6M259.9,1097.9h0.6M271.9,1082.7h0.6M234.6,1082.5h0.6M255.3,1104.0h0.6M241.2,1098.6h0.6M235.4,1094.8h0.6M262.0,1098.2h0.6M235.3,1081.1h0.6M246.7,1069.1h0.6M247.9,1070.7h0.6M237.6,1096.8h0.6M267.0,1092.7h0.6M251.5,1100.4h0.6M255.1,1102.0h0.6M264.3,1095.7h0.6M270.4,1074.0h0.6M252.3,1065.3h0.6M254.0,1066.8h0.6M254.5,1103.8h0.6M236.7,1080.3h0.6M255.3,1102.0h0.6M247.6,1070.4h0.6M254.9,1069.0h0.6M252.5,1069.5h0.6M243.7,1073.1h0.6M236.9,1078.5h0.6M249.1,1100.7h0.6M240.9,1074.2h0.6M259.3,1101.0h0.6M248.4,1070.9h0.6M261.3,1068.9h0.6M266.1,1069.2h0.6M272.6,1078.7h0.6M249.1,1100.8h0.6M265.7,1095.9h0.6M261.5,1069.1h0.6M265.7,1070.1h0.6M258.2,1099.1h0.6M234.6,1084.7h0.6M249.0,1100.9h0.6M264.7,1095.9h0.6M248.4,1101.7h0.6M253.4,1068.2h0.6M266.7,1093.2h0.6M250.6,1101.7h0.6M239.6,1099.2h0.6M234.8,1086.7h0.6M262.2,1070.7h0.6M270.2,1084.5h0.6M262.7,1070.1h0.6M270.5,1080.6h0.6M270.5,1074.7h0.6M236.5,1092.1h0.6M274.0,1090.0h0.6M272.3,1075.7h0.6M251.0,1101.3h0.6M261.4,1066.0h0.6M264.2,1070.4h0.6M257.1,1100.8h0.6M233.9,1091.9h0.6M247.3,1070.7h0.6M241.2,1099.6h0.6M238.3,1095.2h0.6M263.7,1068.9h0.6M250.8,1101.5h0.6M259.9,1101.6h0.6M244.4,1102.6h0.6M236.3,1079.0h0.6M236.1,1091.5h0.6M269.6,1088.9h0.6M241.2,1074.8h0.6M239.7,1098.7h0.6M237.1,1080.4h0.6M270.3,1089.6h0.6M272.2,1088.1h0.6M271.6,1072.8h0.6M270.0,1075.0h0.6M242.7,1074.0h0.6M237.5,1094.3h0.6M266.7,1092.7h0.6M271.9,1084.0h0.6M238.2,1075.8h0.6M248.2,1070.9h0.6M272.2,1082.6h0.6M248.6,1070.4h0.6M238.2,1098.1h0.6M261.8,1099.7h0.6M260.3,1066.9h0.6M234.2,1085.0h0.6M270.7,1082.9h0.6M260.0,1068.3h0.6M236.1,1095.0h0.6M236.2,1080.1h0.6M234.3,1091.4h0.6M262.6,1096.4h0.6M268.7,1072.4h0.6M240.0,1097.0h0.6M264.4,1067.5h0.6M250.4,1100.9h0.6M253.8,1101.9h0.6M235.3,1093.6h0.6M258.7,1099.3h0.6M254.7,1101.9h0.6M234.1,1086.7h0.6M249.7,1070.2h0.6M249.6,1101.7h0.6M271.7,1081.8h0.6M266.7,1070.2h0.6M265.3,1094.9h0.6M268.5,1091.0h0.6M252.3,1101.2h0.6M232.0,1089.2h0.6M244.4,1099.7h0.6M270.6,1089.5h0.6M237.3,1096.0h0.6M258.7,1099.4h0.6M246.7,1070.4h0.6M249.4,1100.8h0.6M243.2,1072.9h0.6M255.0,1100.3h0.6M235.7,1086.4h0.6M235.1,1083.1h0.6M234.8,1082.8h0.6M260.3,1098.6h0.6M262.9,1067.3h0.6M257.7,1100.4h0.6M236.7,1079.8h0.6M274.5,1078.0h0.6M245.8,1071.7h0.6M269.1,1074.4h0.6M262.7,1096.4h0.6M254.2,1066.0h0.6M241.9,1074.6h0.6M258.0,1065.5h0.6M234.9,1088.7h0.6M269.2,1090.3h0.6M270.3,1077.7h0.6M266.9,1072.3h0.6M238.9,1097.7h0.6M243.6,1100.8h0.6M261.5,1097.5h0.6M271.8,1076.1h0.6M235.5,1087.1h0.6M251.6,1066.4h0.6M246.5,1069.0h0.6M237.2,1077.7h0.6M271.7,1092.4h0.6M255.7,1099.8h0.6M234.0,1096.5h0.6M252.2,1101.2h0.6M248.1,1101.0h0.6M249.0,1101.8h0.6M268.2,1073.7h0.6M251.4,1102.1h0.6M237.7,1094.5h0.6M272.1,1080.2h0.6M273.5,1080.6h0.6M232.8,1086.5h0.6M244.2,1099.4h0.6M237.3,1097.5h0.6M236.8,1081.3h0.6M236.8,1082.0h0.6M269.3,1076.7h0.6M270.6,1083.1h0.6M268.6,1092.7h0.6M269.3,1092.2h0.6M242.5,1073.1h0.6M256.0,1099.6h0.6M236.2,1095.2h0.6M238.7,1097.6h0.6M240.8,1098.6h0.6M235.3,1092.4h0.6M247.1,1102.0h0.6M267.3,1073.0h0.6M258.9,1067.1h0.6M263.8,1069.1h0.6M254.8,1100.2h0.6M254.4,1100.0h0.6M253.5,1101.8h0.6M244.7,1071.3h0.6M255.1,1100.1h0.6M246.6,1100.1h0.6M246.5,1071.0h0.6M250.6,1100.4h0.6M252.6,1102.2h0.6M270.1,1072.3h0.6M235.6,1081.3h0.6M272.7,1078.2h0.6M250.4,1101.6h0.6M248.1,1101.0h0.6M262.2,1098.7h0.6M251.2,1102.7h0.6M236.7,1081.4h0.6M255.4,1100.7h0.6M253.7,1068.3h0.6M234.5,1083.7h0.6M254.5,1069.0h0.6M248.7,1101.2h0.6M245.8,1071.8h0.6M234.6,1091.1h0.6M235.3,1088.7h0.6M240.8,1072.9h0.6M235.6,1086.4h0.6M263.7,1097.0h0.6M271.6,1079.3h0.6M250.0,1100.7h0.6M238.8,1074.4h0.6M247.5,1100.5h0.6M244.8,1101.1h0.6M263.5,1069.7h0.6M242.1,1100.1h0.6M236.7,1095.3h0.6M263.3,1069.8h0.6M233.1,1091.5h0.6M265.4,1071.3h0.6M270.3,1092.0h0.6M240.9,1075.5h0.6M240.4,1098.5h0.6M239.6,1074.8h0.6M244.6,1071.4h0.6M270.4,1094.3h0.6M247.2,1070.8h0.6M255.9,1101.5h0.6M263.8,1096.1h0.6M236.5,1082.6h0.6M261.5,1070.2h0.6M270.8,1083.1h0.6M260.6,1100.9h0.6M267.3,1071.5h0.6M235.1,1086.5h0.6M259.3,1067.9h0.6M245.5,1100.3h0.6M264.9,1067.2h0.6M235.6,1089.5h0.6M239.0,1074.9h0.6M258.1,1100.7h0.6M246.8,1100.8h0.6M239.8,1098.4h0.6M243.1,1072.6h0.6M263.8,1096.9h0.6M265.0,1095.5h0.6M243.8,1071.5h0.6M236.2,1080.1h0.6M266.9,1092.7h0.6M236.8,1096.5h0.6M269.7,1087.4h0.6M237.2,1076.9h0.6M255.2,1068.2h0.6M238.5,1098.0h0.6M239.7,1075.2h0.6M235.6,1096.2h0.6M265.3,1097.7h0.6M265.3,1095.0h0.6M272.4,1089.0h0.6M270.9,1080.8h0.6M235.4,1083.0h0.6M243.6,1100.4h0.6M256.6,1068.5h0.6M264.0,1095.0h0.6M267.2,1073.6h0.6M234.6,1085.8h0.6M261.0,1069.7h0.6M237.7,1096.6h0.6M248.0,1070.0h0.6M272.4,1080.7h0.6M268.8,1091.8h0.6M250.7,1069.9h0.6M269.0,1073.1h0.6M263.3,1095.9h0.6M235.7,1091.4h0.6M265.4,1094.3h0.6M266.3,1072.3h0.6M272.2,1079.3h0.6M250.7,1067.0h0.6M272.0,1078.5h0.6M241.2,1100.9h0.6M257.5,1068.3h0.6M239.8,1074.2h0.6M234.3,1082.0h0.6M257.0,1069.5h0.6M266.5,1068.9h0.6M270.1,1083.2h0.6M266.8,1072.8h0.6M235.6,1094.2h0.6M261.5,1098.0h0.6M268.4,1071.4h0.6M240.9,1099.6h0.6M246.4,1102.7h0.6M266.5,1094.8h0.6M243.5,1099.5h0.6M257.4,1100.3h0.6M241.9,1074.7h0.6M263.6,1096.0h0.6M266.8,1093.8h0.6M234.7,1086.7h0.6M267.7,1090.8h0.6M240.5,1100.2h0.6M249.6,1100.6h0.6M242.4,1099.6h0.6M251.4,1101.0h0.6M247.6,1071.2h0.6M242.8,1100.1h0.6M237.9,1078.6h0.6M234.6,1084.6h0.6M234.6,1085.2h0.6M241.7,1100.1h0.6M266.5,1071.0h0.6M246.8,1070.0h0.6M249.5,1103.2h0.6M235.2,1084.0h0.6M243.7,1071.2h0.6M241.3,1098.7h0.6M249.3,1102.4h0.6M254.2,1104.2h0.6M266.0,1095.3h0.6M235.6,1081.1h0.6M236.3,1093.4h0.6M247.5,1100.7h0.6M243.5,1073.2h0.6M271.4,1084.6h0.6M236.4,1093.1h0.6M250.9,1065.9h0.6M248.3,1070.2h0.6M262.7,1065.3h0.6M257.9,1067.8h0.6M239.7,1077.0h0.6M232.8,1088.0h0.6M248.2,1070.2h0.6M268.2,1094.3h0.6M265.5,1072.7h0.6M270.7,1086.4h0.6M236.3,1095.8h0.6M254.9,1100.8h0.6M267.6,1098.0h0.6M245.3,1070.0h0.6M267.1,1093.4h0.6M267.0,1092.4h0.6M270.7,1073.5h0.6M249.0,1100.8h0.6M272.8,1080.1h0.6M260.9,1097.5h0.6M268.7,1092.3h0.6M274.2,1085.1h0.6M235.1,1086.0h0.6M269.7,1071.9h0.6M258.3,1068.1h0.6M272.3,1081.9h0.6M249.9,1069.7h0.6M247.2,1101.1h0.6M258.8,1067.2h0.6M271.1,1078.0h0.6M251.6,1100.7h0.6M236.1,1083.3h0.6M250.1,1068.8h0.6M251.2,1067.8h0.6M236.7,1078.2h0.6M247.6,1069.2h0.6M236.4,1092.4h0.6M242.0,1074.2h0.6M237.1,1077.5h0.6M234.7,1088.5h0.6M237.4,1094.8h0.6M236.2,1091.4h0.6M254.1,1069.1h0.6M257.4,1068.8h0.6M271.1,1089.4h0.6M268.7,1091.4h0.6M238.7,1075.2h0.6M250.6,1069.2h0.6M258.1,1066.8h0.6M242.9,1071.9h0.6M242.4,1072.5h0.6M271.4,1081.6h0.6M250.8,1102.7h0.6M271.6,1089.3h0.6M262.7,1098.3h0.6M252.7,1066.5h0.6M247.8,1070.6h0.6M258.3,1100.8h0.6M233.8,1087.4h0.6M267.5,1096.4h0.6M251.6,1068.3h0.6M256.8,1067.8h0.6M271.5,1079.5h0.6M265.7,1094.8h0.6M271.7,1081.4h0.6M260.4,1097.8h0.6M266.4,1069.8h0.6M236.1,1097.7h0.6M245.7,1070.0h0.6M244.1,1072.1h0.6M235.5,1091.6h0.6M273.0,1083.4h0.6M242.1,1071.3h0.6M253.4,1102.9h0.6M272.0,1081.2h0.6M254.4,1068.9h0.6M271.5,1079.2h0.6M269.6,1091.3h0.6M238.8,1098.4h0.6M250.3,1100.4h0.6M271.3,1078.1h0.6M244.6,1069.9h0.6M239.9,1097.1h0.6M250.5,1069.0h0.6M234.8,1090.0h0.6M271.1,1084.6h0.6M238.9,1096.6h0.6M256.6,1065.9h0.6M252.1,1067.0h0.6M272.4,1082.7h0.6M270.3,1077.2h0.6M261.2,1070.3h0.6M248.5,1069.6h0.6M254.2,1101.5h0.6M266.1,1094.8h0.6M245.8,1071.7h0.6M254.0,1063.6h0.6M236.3,1092.8h0.6M254.0,1067.4h0.6M269.8,1077.7h0.6M236.2,1082.2h0.6M257.9,1099.0h0.6M236.3,1081.2h0.6M269.1,1093.0h0.6M275.2,1083.6h0.6M257.5,1068.1h0.6M235.1,1090.5h0.6M269.6,1087.6h0.6M271.9,1081.7h0.6M240.7,1097.5h0.6M239.0,1076.9h0.6M272.3,1083.1h0.6M271.8,1089.7h0.6M241.4,1074.8h0.6M233.7,1096.2h0.6M256.6,1100.0h0.6M256.9,1101.5h0.6M251.4,1068.8h0.6M251.1,1068.6h0.6M271.6,1076.3h0.6M239.1,1099.1h0.6M236.0,1093.4h0.6M244.9,1102.0h0.6M236.3,1092.6h0.6M256.5,1100.4h0.6M260.2,1066.9h0.6M235.6,1085.8h0.6M274.5,1077.3h0.6M249.4,1101.1h0.6M268.8,1092.2h0.6M234.8,1085.0h0.6M271.5,1087.6h0.6M256.2,1068.1h0.6M240.3,1076.4h0.6M268.7,1089.9h0.6M261.3,1068.6h0.6M267.3,1070.9h0.6M242.4,1072.3h0.6M240.2,1098.8h0.6M234.6,1092.8h0.6M270.6,1071.7h0.6M265.9,1094.5h0.6M262.4,1066.3h0.6M272.7,1079.3h0.6M267.6,1074.2h0.6M253.9,1069.6h0.6M255.2,1067.9h0.6M265.3,1071.5h0.6M260.2,1099.2h0.6M244.7,1072.4h0.6M235.9,1083.8h0.6M270.1,1085.8h0.6M235.8,1089.5h0.6M271.6,1088.3h0.6M261.9,1096.9h0.6M242.5,1101.4h0.6M266.9,1093.6h0.6M272.5,1079.4h0.6M253.3,1067.8h0.6M244.0,1072.2h0.6M248.4,1104.0h0.6M252.0,1065.5h0.6M251.4,1102.1h0.6M240.2,1073.6h0.6M258.2,1099.9h0.6M235.5,1088.8h0.6M260.6,1099.3h0.6M236.6,1095.6h0.6M262.3,1066.3h0.6M236.3,1082.9h0.6M248.3,1068.4h0.6M238.6,1096.8h0.6M273.0,1086.6h0.6M238.0,1078.4h0.6M265.5,1067.4h0.6M270.0,1089.8h0.6M271.4,1079.5h0.6M235.8,1091.7h0.6M238.0,1097.5h0.6M269.8,1089.7h0.6M261.3,1070.2h0.6M255.8,1066.3h0.6M270.2,1074.2h0.6M266.7,1073.5h0.6M235.1,1087.2h0.6M243.4,1100.6h0.6M264.2,1095.6h0.6M258.6,1099.7h0.6M245.5,1069.6h0.6M252.2,1068.6h0.6M238.8,1077.6h0.6M261.5,1069.6h0.6M237.8,1095.8h0.6M239.9,1097.4h0.6M235.6,1095.3h0.6M262.8,1097.2h0.6M236.8,1095.9h0.6M254.7,1100.5h0.6M236.3,1078.8h0.6M269.2,1092.6h0.6M257.5,1065.2h0.6M233.4,1092.5h0.6M234.4,1091.7h0.6M262.2,1069.5h0.6M253.0,1067.3h0.6M273.8,1092.6h0.6M252.2,1101.9h0.6M237.3,1077.4h0.6M260.5,1068.1h0.6M252.5,1103.3h0.6M237.3,1097.4h0.6M254.3,1066.5h0.6M263.9,1098.6h0.6M256.1,1065.8h0.6M247.2,1070.4h0.6M236.7,1081.9h0.6M247.1,1070.2h0.6M237.8,1098.0h0.6M270.1,1075.1h0.6M268.7,1094.4h0.6M274.7,1079.5h0.6M258.0,1068.9h0.6M237.2,1078.6h0.6M235.4,1087.7h0.6M245.9,1071.7h0.6M254.2,1100.8h0.6M248.8,1100.4h0.6M242.0,1100.6h0.6M250.8,1100.7h0.6M259.8,1098.7h0.6M273.2,1082.9h0.6M237.2,1094.6h0.6M264.0,1096.4h0.6M235.8,1091.4h0.6M250.4,1101.6h0.6M235.7,1093.9h0.6M272.4,1077.7h0.6M252.7,1100.4h0.6M259.7,1099.2h0.6M253.3,1067.9h0.6M242.5,1101.2h0.6M243.8,1072.1h0.6M260.7,1101.4h0.6M249.0,1070.7h0.6M267.5,1074.6h0.6M249.5,1069.7h0.6M239.4,1074.2h0.6M237.6,1080.2h0.6M248.5,1068.5h0.6M267.5,1073.0h0.6M234.9,1088.5h0.6M239.2,1075.7h0.6M272.3,1084.7h0.6M233.1,1089.8h0.6M270.6,1084.0h0.6M263.7,1070.4h0.6M269.9,1076.2h0.6M258.6,1100.7h0.6M253.8,1101.4h0.6M258.0,1069.4h0.6M262.5,1066.8h0.6M235.0,1092.1h0.6M239.1,1076.8h0.6M263.8,1069.7h0.6M266.1,1094.5h0.6M264.7,1097.8h0.6M236.4,1093.6h0.6M261.9,1066.0h0.6M235.7,1081.0h0.6M257.2,1100.4h0.6M248.5,1101.9h0.6M260.0,1098.5h0.6M238.2,1078.5h0.6M263.3,1096.5h0.6M267.8,1095.2h0.6M260.7,1098.3h0.6M248.4,1070.3h0.6M266.2,1072.1h0.6M235.2,1089.3h0.6M235.8,1094.4h0.6M251.3,1101.1h0.6M257.2,1102.0h0.6M259.4,1068.5h0.6M235.1,1083.3h0.6M234.5,1091.2h0.6M240.9,1098.3h0.6M235.8,1084.5h0.6M270.3,1072.2h0.6M269.7,1076.0h0.6M234.8,1089.8h0.6M272.6,1081.8h0.6M240.2,1075.3h0.6M235.9,1082.8h0.6M263.3,1066.7h0.6M272.9,1082.3h0.6M263.1,1070.5h0.6M234.4,1092.2h0.6M240.9,1100.3h0.6M257.9,1100.3h0.6M273.2,1074.6h0.6M258.8,1101.6h0.6M252.9,1100.4h0.6M260.5,1069.4h0.6M252.2,1067.3h0.6M236.5,1096.1h0.6M242.7,1099.8h0.6M241.9,1073.8h0.6M238.6,1096.4h0.6M236.7,1078.9h0.6M263.3,1067.5h0.6M236.3,1082.6h0.6M270.6,1076.8h0.6M245.0,1102.5h0.6M264.8,1095.1h0.6M255.4,1069.1h0.6M266.8,1067.7h0.6M246.3,1071.2h0.6M253.9,1102.1h0.6M272.1,1076.0h0.6M269.2,1073.3h0.6M244.6,1072.0h0.6M260.7,1068.9h0.6M261.9,1068.2h0.6M268.2,1069.7h0.6M252.4,1103.0h0.6M239.8,1097.2h0.6M252.9,1067.0h0.6M270.3,1084.3h0.6M238.2,1077.9h0.6M260.4,1068.5h0.6M268.6,1073.2h0.6M236.2,1094.6h0.6M250.8,1102.0h0.6M243.5,1071.4h0.6M238.6,1098.1h0.6M237.2,1094.7h0.6M249.4,1069.8h0.6M271.6,1071.9h0.6M269.3,1089.7h0.6M270.7,1089.0h0.6M262.7,1068.6h0.6M267.8,1096.6h0.6M238.2,1076.6h0.6M238.3,1077.9h0.6M262.1,1067.6h0.6M267.3,1072.3h0.6M235.1,1087.5h0.6M248.7,1067.5h0.6M250.8,1100.4h0.6M234.4,1093.1h0.6M239.9,1096.9h0.6M270.3,1074.8h0.6M247.9,1101.0h0.6M233.8,1090.8h0.6M235.7,1091.3h0.6M241.1,1074.0h0.6M239.3,1096.5h0.6M270.5,1089.6h0.6M236.3,1092.1h0.6M256.8,1100.7h0.6M245.3,1099.9h0.6M260.2,1098.4h0.6M246.6,1102.2h0.6M270.6,1071.0h0.6M267.5,1074.0h0.6M236.8,1081.3h0.6M264.1,1069.9h0.6M256.2,1068.2h0.6M236.7,1093.5h0.6M237.3,1098.3h0.6M251.1,1067.4h0.6M272.2,1079.9h0.6M265.7,1071.2h0.6M251.7,1068.7h0.6M267.4,1072.2h0.6M271.9,1075.1h0.6M270.8,1089.7h0.6M252.9,1101.0h0.6M245.5,1100.0h0.6M237.0,1097.2h0.6M251.3,1067.4h0.6M234.4,1091.8h0.6M260.9,1098.1h0.6M270.1,1074.3h0.6M234.4,1087.8h0.6M235.4,1093.2h0.6M261.9,1067.5h0.6M234.5,1087.7h0.6M257.0,1101.1h0.6M241.2,1098.5h0.6M270.7,1077.0h0.6M267.6,1092.8h0.6M266.8,1071.3h0.6M243.8,1072.6h0.6M245.1,1100.1h0.6M230.7,1084.6h0.6M257.2,1101.5h0.6M262.8,1096.4h0.6M260.1,1098.3h0.6M243.6,1072.2h0.6M238.7,1078.1h0.6M256.2,1099.7h0.6M235.3,1093.5h0.6M235.5,1090.7h0.6M273.2,1089.8h0.6M237.3,1095.0h0.6M243.4,1071.8h0.6M268.6,1093.5h0.6M258.8,1098.5h0.6M274.9,1087.7h0.6M256.4,1068.1h0.6M250.8,1101.5h0.6M264.8,1095.9h0.6M256.6,1067.7h0.6M234.7,1087.0h0.6M246.4,1102.1h0.6M272.2,1085.8h0.6M266.3,1093.0h0.6M264.2,1066.7h0.6M265.5,1071.1h0.6M235.2,1083.6h0.6M255.9,1099.9h0.6M269.7,1072.7h0.6M261.2,1097.6h0.6M268.8,1070.7h0.6M236.4,1097.4h0.6M272.0,1089.3h0.6M255.4,1068.5h0.6M242.3,1099.6h0.6M260.2,1098.1h0.6M257.0,1101.6h0.6M255.3,1068.8h0.6M234.2,1090.6h0.6M267.9,1092.0h0.6M243.9,1072.0h0.6M244.5,1099.5h0.6M259.4,1068.6h0.6M238.3,1101.1h0.6M242.4,1072.5h0.6M236.9,1095.0h0.6M239.4,1099.0h0.6M240.0,1076.0h0.6M237.1,1094.2h0.6M235.5,1087.6h0.6M238.3,1098.7h0.6M271.6,1073.5h0.6M251.4,1067.1h0.6M241.1,1099.5h0.6M269.8,1092.3h0.6M239.3,1074.3h0.6M271.4,1082.9h0.6M238.7,1097.3h0.6M271.5,1092.0h0.6M260.8,1070.3h0.6M271.8,1079.7h0.6M258.0,1068.0h0.6M237.0,1095.0h0.6M238.5,1076.4h0.6M264.8,1097.1h0.6M235.2,1083.2h0.6M253.5,1101.6h0.6M253.2,1067.4h0.6M252.6,1068.7h0.6M266.3,1092.8h0.6M246.4,1070.7h0.6M232.3,1081.5h0.6M265.2,1072.2h0.6M254.1,1101.6h0.6M266.2,1094.6h0.6M275.2,1081.9h0.6M258.2,1067.4h0.6M239.1,1077.6h0.6M252.8,1067.6h0.6M267.2,1093.0h0.6M267.8,1092.0h0.6M237.6,1094.3h0.6M236.1,1079.7h0.6M235.2,1088.6h0.6M236.5,1081.1h0.6M236.7,1093.6h0.6M240.0,1075.3h0.6M269.5,1078.3h0.6M252.5,1100.3h0.6M237.8,1078.0h0.6M259.9,1098.9h0.6M262.8,1096.0h0.6M269.0,1092.0h0.6M236.5,1093.4h0.6M234.8,1086.5h0.6M261.9,1063.9h0.6M236.7,1096.0h0.6M265.0,1071.1h0.6M271.0,1081.6h0.6M254.3,1067.4h0.6M238.8,1096.2h0.6M236.6,1092.6h0.6M239.6,1074.0h0.6M238.6,1076.6h0.6M269.3,1091.9h0.6M262.0,1067.2h0.6M243.0,1073.0h0.6M248.2,1101.6h0.6M270.5,1076.9h0.6M269.0,1089.0h0.6M243.7,1070.7h0.6M262.7,1069.2h0.6M260.6,1097.4h0.6M241.9,1073.9h0.6M254.9,1100.2h0.6M250.5,1069.8h0.6M249.8,1069.2h0.6M272.1,1077.4h0.6M242.0,1100.3h0.6M267.3,1091.8h0.6M268.0,1070.7h0.6M235.4,1082.3h0.6M241.6,1072.7h0.6M263.0,1096.7h0.6M247.5,1071.1h0.6M268.6,1090.8h0.6M257.6,1099.0h0.6M254.8,1069.1h0.6M255.6,1099.8h0.6M249.7,1070.5h0.6M252.3,1067.3h0.6M235.5,1080.9h0.6M250.4,1068.1h0.6M272.3,1084.1h0.6M261.8,1068.8h0.6M259.0,1098.2h0.6M273.2,1079.4h0.6M270.5,1078.4h0.6M235.4,1082.8h0.6M257.1,1099.4h0.6M235.6,1087.0h0.6M244.8,1072.4h0.6M262.3,1096.8h0.6M244.5,1101.2h0.6M259.2,1100.4h0.6M238.3,1077.6h0.6M255.7,1100.1h0.6M234.7,1094.0h0.6M270.9,1079.9h0.6M271.2,1087.0h0.6M237.2,1080.7h0.6M261.0,1098.6h0.6M245.9,1102.1h0.6M251.0,1102.2h0.6M246.4,1100.1h0.6M260.4,1068.5h0.6M271.5,1090.1h0.6M234.8,1092.0h0.6M250.9,1068.5h0.6M266.2,1071.5h0.6M252.2,1067.8h0.6M242.8,1072.0h0.6M265.9,1096.0h0.6M271.6,1087.8h0.6M240.8,1073.9h0.6M235.0,1088.2h0.6M240.1,1074.0h0.6M254.1,1067.8h0.6M257.3,1100.1h0.6M248.1,1070.3h0.6M268.9,1096.1h0.6M239.6,1098.2h0.6M260.1,1100.0h0.6M267.2,1091.9h0.6M264.0,1070.2h0.6M244.6,1101.9h0.6M255.4,1067.9h0.6M264.1,1068.9h0.6M234.0,1081.7h0.6M242.1,1099.2h0.6M237.3,1077.8h0.6M239.7,1097.0h0.6M237.5,1078.8h0.6M271.2,1091.8h0.6M265.5,1094.9h0.6M257.3,1067.1h0.6M242.7,1099.0h0.6M254.5,1067.3h0.6M273.0,1083.7h0.6M256.8,1100.5h0.6M256.1,1067.5h0.6M248.8,1068.2h0.6M262.0,1096.9h0.6M270.4,1088.6h0.6M254.9,1100.1h0.6M271.3,1090.4h0.6M234.4,1092.0h0.6M238.1,1095.1h0.6M267.6,1095.1h0.6M269.2,1093.0h0.6M263.2,1095.7h0.6M249.4,1100.4h0.6M263.4,1095.5h0.6M243.2,1071.8h0.6M253.0,1066.0h0.6M268.7,1093.1h0.6M240.9,1098.9h0.6M241.4,1072.0h0.6M234.2,1089.8h0.6M252.4,1069.0h0.6M234.1,1082.2h0.6M267.0,1092.6h0.6M260.4,1098.1h0.6M235.9,1083.2h0.6M271.3,1082.7h0.6M245.3,1069.9h0.6M271.7,1081.1h0.6M253.5,1101.1h0.6M255.6,1100.9h0.6M234.6,1089.6h0.6M270.1,1075.8h0.6M265.3,1094.0h0.6M245.9,1100.4h0.6M265.8,1069.3h0.6M271.4,1074.8h0.6M248.7,1069.1h0.6M248.6,1101.1h0.6M266.7,1072.3h0.6M248.1,1102.6h0.6M235.9,1091.1h0.6M252.1,1067.1h0.6M272.1,1078.8h0.6M257.5,1066.9h0.6M270.7,1076.7h0.6M257.4,1068.2h0.6M249.8,1104.1h0.6M234.3,1085.5h0.6M266.9,1072.4h0.6M241.1,1071.6h0.6M250.5,1101.3h0.6M239.5,1099.9h0.6M248.2,1101.1h0.6M244.0,1068.6h0.6M259.4,1068.2h0.6M235.7,1098.2h0.6M258.6,1067.8h0.6M255.9,1106.0h0.6M270.8,1083.6h0.6M233.6,1086.9h0.6M237.1,1097.2h0.6M259.5,1098.6h0.6M263.8,1070.1h0.6M240.7,1099.7h0.6M235.8,1090.5h0.6M234.1,1088.3h0.6M242.1,1074.2h0.6M271.2,1079.1h0.6M244.1,1100.1h0.6M268.0,1091.3h0.6M247.2,1101.1h0.6M234.7,1089.6h0.6M240.8,1073.3h0.6M271.9,1083.7h0.6M273.0,1086.9h0.6M259.6,1067.1h0.6M236.8,1081.4h0.6M258.8,1099.0h0.6M263.9,1071.0h0.6M244.8,1071.6h0.6M262.2,1096.6h0.6M236.7,1094.9h0.6M257.0,1069.4h0.6M236.5,1081.4h0.6M269.6,1073.2h0.6M249.2,1101.7h0.6M235.6,1086.8h0.6M270.9,1086.9h0.6M235.4,1088.2h0.6M270.7,1082.9h0.6M269.6,1074.9h0.6M269.6,1087.5h0.6M265.4,1069.3h0.6M273.8,1082.3h0.6M267.0,1073.1h0.6M270.6,1079.4h0.6M249.7,1100.6h0.6M264.9,1070.1h0.6M264.7,1071.6h0.6M255.6,1099.8h0.6M270.9,1077.5h0.6M234.3,1090.7h0.6M243.0,1100.3h0.6M235.2,1079.2h0.6M240.4,1097.2h0.6M259.2,1098.2h0.6M235.9,1082.6h0.6M234.8,1082.1h0.6M272.5,1078.2h0.6M240.7,1071.8h0.6M267.8,1071.2h0.6M242.6,1098.8h0.6M271.0,1082.5h0.6M248.7,1070.2h0.6M245.8,1070.3h0.6M266.5,1094.7h0.6M270.2,1079.5h0.6M248.7,1069.1h0.6M245.1,1070.5h0.6M266.3,1072.2h0.6M263.8,1068.9h0.6M254.6,1100.0h0.6M243.5,1100.5h0.6M240.6,1098.6h0.6M273.7,1085.6h0.6M260.6,1099.4h0.6M232.3,1088.6h0.6M235.0,1077.0h0.6M246.9,1103.1h0.6M235.6,1086.6h0.6M266.5,1093.9h0.6M256.1,1067.7h0.6M238.2,1074.4h0.6M271.8,1084.1h0.6M265.6,1070.7h0.6M258.8,1069.5h0.6M242.8,1099.5h0.6M236.2,1096.9h0.6M235.2,1091.1h0.6M237.7,1096.1h0.6M260.8,1066.2h0.6M241.8,1072.1h0.6M236.8,1080.7h0.6M241.5,1098.6h0.6M269.9,1076.7h0.6M264.9,1066.8h0.6M265.2,1071.7h0.6M240.2,1074.9h0.6M253.2,1100.2h0.6M235.0,1086.1h0.6M270.5,1089.0h0.6M236.4,1081.1h0.6M269.7,1089.9h0.6M238.3,1077.2h0.6M234.8,1079.4h0.6M237.3,1094.6h0.6M266.8,1072.1h0.6M234.3,1085.4h0.6M263.4,1069.7h0.6M265.3,1071.5h0.6M262.5,1070.4h0.6M272.5,1083.1h0.6M268.7,1074.9h0.6M239.2,1076.3h0.6M238.5,1074.2h0.6M239.0,1099.8h0.6M266.6,1096.4h0.6M242.0,1073.0h0.6M269.0,1076.5h0.6M241.9,1073.6h0.6M233.9,1086.1h0.6M253.3,1101.6h0.6M251.2,1101.2h0.6M270.8,1090.5h0.6M254.4,1067.4h0.6M267.8,1069.6h0.6M272.7,1080.6h0.6M248.4,1101.5h0.6M235.3,1081.9h0.6M266.6,1094.3h0.6M263.0,1098.0h0.6M270.2,1087.9h0.6M241.9,1099.1h0.6M235.2,1082.5h0.6M272.3,1078.0h0.6M238.7,1075.1h0.6M270.5,1074.9h0.6M255.0,1101.3h0.6M236.7,1079.5h0.6M238.5,1075.6h0.6M260.0,1099.3h0.6M256.5,1100.3h0.6M237.2,1076.8h0.6M243.7,1071.6h0.6M272.0,1088.9h0.6M237.2,1076.4h0.6M269.7,1073.4h0.6M234.3,1087.6h0.6M236.4,1076.4h0.6M241.4,1071.1h0.6M244.0,1071.1h0.6M234.0,1094.0h0.6M253.5,1100.2h0.6M269.1,1094.0h0.6M241.7,1099.7h0.6M237.5,1078.4h0.6M244.6,1102.3h0.6M248.9,1069.6h0.6M265.9,1071.1h0.6M237.4,1098.4h0.6M249.3,1068.6h0.6M262.8,1097.6h0.6M249.8,1069.5h0.6M246.8,1071.6h0.6M253.1,1101.1h0.6M268.4,1073.4h0.6M247.9,1100.3h0.6M239.2,1096.3h0.6M235.1,1085.1h0.6M272.3,1073.3h0.6M241.1,1100.1h0.6M269.6,1070.5h0.6M265.4,1068.7h0.6M253.6,1101.9h0.6M261.2,1066.3h0.6M254.9,1066.2h0.6M239.0,1074.6h0.6M250.3,1102.0h0.6M268.6,1090.9h0.6M255.2,1101.5h0.6M237.8,1097.3h0.6M261.3,1097.2h0.6M230.7,1086.8h0.6M238.4,1076.7h0.6M248.7,1067.9h0.6M236.7,1093.2h0.6M270.2,1091.6h0.6M266.0,1071.7h0.6M265.5,1070.9h0.6M270.0,1090.5h0.6M249.6,1101.8h0.6M277.1,1079.4h0.6M270.9,1082.0h0.6M255.6,1066.4h0.6M237.0,1079.6h0.6M259.9,1066.8h0.6M270.2,1093.2h0.6M261.7,1070.0h0.6M235.4,1082.6h0.6M259.9,1067.3h0.6M234.2,1087.4h0.6M238.7,1098.3h0.6M235.6,1095.9h0.6M259.7,1097.9h0.6M273.9,1080.1h0.6M237.9,1077.6h0.6M241.5,1071.3h0.6M257.7,1069.5h0.6M252.0,1100.4h0.6M256.7,1101.9h0.6M239.2,1077.5h0.6M236.7,1080.7h0.6M235.3,1084.5h0.6M233.1,1085.1h0.6M270.6,1089.3h0.6M260.1,1065.6h0.6M243.6,1099.2h0.6M260.7,1066.9h0.6M249.4,1102.6h0.6M271.3,1085.5h0.6M270.1,1076.9h0.6M269.2,1076.4h0.6M240.1,1097.2h0.6M271.8,1086.0h0.6M253.1,1065.3h0.6M251.4,1067.8h0.6M258.6,1100.2h0.6M273.5,1081.3h0.6M271.4,1085.7h0.6M257.1,1100.5h0.6M268.6,1072.2h0.6M241.9,1100.1h0.6M271.6,1079.9h0.6M271.7,1089.0h0.6M270.5,1076.1h0.6M265.9,1072.1h0.6M270.4,1075.0h0.6M270.6,1077.7h0.6M238.5,1075.6h0.6M245.1,1068.8h0.6M245.4,1100.9h0.6M262.9,1096.6h0.6M255.4,1063.2h0.6M268.4,1074.9h0.6M262.8,1096.7h0.6M238.4,1100.3h0.6M235.6,1094.0h0.6M256.2,1102.9h0.6M270.4,1085.8h0.6M249.6,1102.2h0.6M245.6,1100.4h0.6M267.6,1093.3h0.6M245.6,1070.1h0.6M269.2,1073.3h0.6M270.2,1089.8h0.6M258.9,1101.9h0.6M257.4,1099.2h0.6M272.7,1088.4h0.6M271.3,1080.1h0.6M237.5,1094.6h0.6M234.9,1079.3h0.6M264.0,1069.4h0.6M266.0,1072.8h0.6M235.2,1085.5h0.6M239.1,1097.8h0.6M234.3,1087.4h0.6M246.2,1102.3h0.6M245.5,1102.7h0.6M266.5,1093.3h0.6M259.0,1098.8h0.6M251.6,1100.6h0.6M272.6,1088.8h0.6M271.4,1091.4h0.6M244.4,1100.5h0.6M243.6,1103.0h0.6M267.3,1093.1h0.6M262.1,1066.8h0.6M271.1,1081.0h0.6M271.3,1077.5h0.6M262.9,1068.9h0.6M243.4,1100.8h0.6M267.2,1069.0h0.6M270.8,1078.1h0.6M237.9,1097.8h0.6M232.7,1086.1h0.6M270.0,1087.3h0.6M264.9,1095.1h0.6M234.7,1091.2h0.6M256.3,1067.1h0.6M268.6,1095.9h0.6M233.4,1090.4h0.6M273.6,1082.7h0.6M235.5,1086.7h0.6M269.5,1091.4h0.6M257.6,1100.5h0.6M240.7,1100.3h0.6M260.5,1098.1h0.6M240.5,1100.3h0.6M264.7,1095.8h0.6M273.5,1077.3h0.6M240.6,1076.0h0.6M246.8,1070.9h0.6M248.5,1101.4h0.6M235.9,1091.1h0.6M233.4,1087.5h0.6M263.8,1067.8h0.6M252.9,1065.7h0.6M247.4,1070.1h0.6M269.2,1090.7h0.6M264.7,1095.6h0.6M235.3,1092.3h0.6M272.1,1074.2h0.6M258.1,1098.7h0.6M272.8,1079.7h0.6M271.6,1078.7h0.6M233.1,1084.8h0.6M263.5,1068.3h0.6M240.6,1075.9h0.6M270.5,1074.0h0.6M240.4,1074.4h0.6M271.0,1085.2h0.6M265.4,1095.1h0.6M245.6,1100.2h0.6M268.3,1075.1h0.6M270.6,1092.1h0.6M270.4,1081.8h0.6M235.3,1087.0h0.6M258.5,1069.4h0.6M260.0,1099.9h0.6M235.7,1076.2h0.6M265.6,1095.1h0.6M271.1,1089.2h0.6M234.0,1086.5h0.6M257.0,1067.0h0.6M271.1,1089.1h0.6M247.0,1070.8h0.6M236.1,1090.9h0.6M233.5,1080.5h0.6M272.5,1083.1h0.6M236.7,1081.3h0.6M265.4,1069.7h0.6M245.3,1100.3h0.6M257.9,1098.8h0.6M241.0,1075.0h0.6M236.0,1090.8h0.6M238.4,1076.9h0.6M235.8,1083.9h0.6M253.9,1067.9h0.6M234.7,1089.1h0.6M271.1,1084.8h0.6M261.8,1097.7h0.6M271.1,1088.6h0.6M236.1,1080.1h0.6M235.9,1082.6h0.6M266.4,1069.0h0.6M251.6,1067.2h0.6M262.5,1066.8h0.6M269.9,1081.2h0.6M235.4,1081.3h0.6M238.3,1079.0h0.6M258.1,1068.5h0.6M260.4,1068.6h0.6M266.5,1095.8h0.6M245.2,1101.8h0.6M269.2,1093.5h0.6M235.3,1087.6h0.6M253.0,1068.5h0.6M256.6,1100.3h0.6M232.0,1092.6h0.6M271.4,1083.2h0.6M235.7,1087.3h0.6M260.3,1099.3h0.6M250.9,1069.4h0.6M266.3,1094.6h0.6M265.7,1066.8h0.6M252.5,1100.5h0.6M238.7,1099.2h0.6M237.0,1095.6h0.6M236.9,1081.2h0.6M232.4,1092.7h0.6M235.5,1090.7h0.6M236.1,1080.6h0.6M240.6,1099.1h0.6M247.0,1071.5h0.6M243.5,1100.5h0.6M264.8,1068.7h0.6M263.3,1069.6h0.6M253.6,1102.3h0.6M248.3,1070.2h0.6M273.0,1088.9h0.6M240.5,1076.0h0.6M234.5,1084.6h0.6M235.6,1086.5h0.6M239.7,1098.4h0.6M252.6,1101.8h0.6M259.0,1102.0h0.6M269.5,1075.8h0.6M265.5,1095.4h0.6M272.2,1081.6h0.6M237.8,1078.0h0.6M262.6,1069.0h0.6M270.6,1078.4h0.6M243.6,1099.6h0.6M265.8,1094.6h0.6M239.4,1076.0h0.6M251.3,1102.6h0.6M243.2,1072.6h0.6M264.4,1069.3h0.6M241.3,1101.7h0.6M271.7,1078.1h0.6M241.3,1098.9h0.6M257.3,1067.8h0.6M260.5,1097.7h0.6M232.0,1091.4h0.6M252.5,1066.9h0.6M240.6,1097.7h0.6M254.6,1068.8h0.6M238.6,1096.3h0.6M245.3,1069.9h0.6M269.4,1073.1h0.6M261.1,1070.0h0.6M267.3,1092.3h0.6M235.3,1079.5h0.6M251.1,1069.7h0.6M235.9,1080.4h0.6M242.2,1071.8h0.6M236.8,1081.8h0.6M253.0,1103.9h0.6M268.9,1073.8h0.6M241.0,1098.6h0.6M251.5,1102.3h0.6M257.4,1101.1h0.6M274.5,1078.3h0.6M250.1,1067.2h0.6M244.4,1100.1h0.6M235.0,1094.9h0.6M237.1,1095.4h0.6M272.4,1075.4h0.6M265.5,1094.7h0.6M270.6,1086.3h0.6M264.0,1067.0h0.6M261.5,1068.6h0.6M238.6,1073.8h0.6M238.4,1096.3h0.6M246.7,1102.1h0.6M260.8,1068.5h0.6M261.6,1067.7h0.6M235.5,1083.9h0.6M267.6,1094.7h0.6M236.0,1082.5h0.6M266.7,1093.0h0.6M234.5,1088.9h0.6M241.5,1072.0h0.6M245.3,1099.8h0.6M239.5,1075.0h0.6M235.6,1087.6h0.6M263.0,1070.3h0.6M267.1,1094.6h0.6M249.8,1101.4h0.6M272.1,1079.7h0.6M237.7,1079.8h0.6M258.6,1098.8h0.6M271.6,1077.8h0.6M234.7,1079.7h0.6M251.1,1067.0h0.6M259.2,1067.9h0.6M256.8,1099.4h0.6M240.9,1075.6h0.6M266.4,1069.5h0.6M237.9,1096.4h0.6M260.4,1068.8h0.6M269.8,1076.4h0.6M235.9,1080.8h0.6M233.9,1093.8h0.6M270.7,1080.1h0.6M251.0,1068.3h0.6M245.2,1070.6h0.6M255.9,1100.8h0.6M267.8,1074.5h0.6M243.0,1070.3h0.6M236.0,1091.3h0.6M272.4,1082.5h0.6M271.5,1087.1h0.6M234.8,1089.7h0.6M234.5,1079.7h0.6M268.7,1092.5h0.6M271.3,1085.4h0.6M243.5,1072.4h0.6M263.2,1071.1h0.6M242.5,1072.2h0.6M257.4,1099.3h0.6M272.1,1091.5h0.6M255.9,1069.4h0.6M260.6,1098.1h0.6M236.4,1095.1h0.6M262.6,1097.2h0.6M270.2,1093.9h0.6M235.6,1080.2h0.6M262.5,1067.6h0.6M251.7,1100.9h0.6M235.7,1090.0h0.6M240.9,1075.5h0.6M251.7,1068.6h0.6M236.1,1096.5h0.6M246.0,1100.6h0.6M240.6,1074.8h0.6M272.2,1072.9h0.6M265.9,1073.1h0.6M269.4,1072.9h0.6M272.7,1079.9h0.6M255.1,1068.2h0.6M244.3,1071.4h0.6M245.1,1101.3h0.6M242.3,1074.1h0.6M241.4,1074.9h0.6M265.8,1071.7h0.6M269.4,1091.2h0.6M271.0,1083.3h0.6M249.7,1101.4h0.6M239.0,1097.3h0.6M250.3,1069.9h0.6M256.5,1100.6h0.6M267.8,1090.9h0.6M250.2,1069.9h0.6M243.4,1072.6h0.6M271.2,1087.9h0.6M266.0,1069.1h0.6M238.9,1096.0h0.6M243.8,1071.5h0.6M270.3,1088.4h0.6M254.0,1068.3h0.6M253.2,1065.2h0.6M272.0,1085.2h0.6M265.3,1071.9h0.6M255.1,1099.9h0.6M249.7,1100.7h0.6M266.2,1094.9h0.6M246.5,1071.6h0.6M248.2,1103.4h0.6M272.3,1076.7h0.6M270.0,1071.7h0.6M237.1,1080.2h0.6M248.6,1100.5h0.6M237.9,1097.9h0.6M266.6,1070.1h0.6M239.9,1097.3h0.6M257.6,1067.0h0.6M242.8,1099.5h0.6M259.9,1099.4h0.6M272.3,1080.5h0.6M233.0,1090.8h0.6M234.9,1088.5h0.6M274.9,1081.5h0.6M260.4,1067.8h0.6M258.7,1066.2h0.6M259.6,1066.2h0.6M273.7,1081.6h0.6M274.9,1080.8h0.6M265.1,1069.6h0.6M260.3,1063.1h0.6M265.5,1069.9h0.6M269.8,1070.1h0.6M272.2,1080.7h0.6M272.5,1081.6h0.6M247.6,1066.7h0.6M274.2,1079.0h0.6M272.1,1079.4h0.6M267.2,1066.9h0.6M269.7,1095.7h0.6M262.5,1063.8h0.6M264.7,1066.5h0.6M278.5,1074.7h0.6M272.5,1080.8h0.6M275.0,1078.9h0.6M269.4,1066.6h0.6M273.3,1082.9h0.6M271.4,1074.3h0.6M270.9,1068.6h0.6M257.8,1067.2h0.6M254.9,1067.3h0.6M270.6,1075.9h0.6M277.4,1079.6h0.6M272.1,1083.6h0.6M269.1,1065.4h0.6M263.7,1066.5h0.6M261.8,1068.4h0.6M258.5,1065.0h0.6M269.6,1072.3h0.6M264.8,1069.1h0.6M268.1,1072.3h0.6M274.3,1082.7h0.6M256.9,1066.1h0.6M274.6,1085.1h0.6M272.6,1079.5h0.6M266.0,1065.3h0.6M261.3,1065.0h0.6M271.5,1074.8h0.6M276.7,1077.7h0.6M272.5,1072.3h0.6M274.6,1079.3h0.6M272.7,1068.9h0.6M266.8,1070.9h0.6M271.3,1076.3h0.6M264.1,1067.5h0.6M271.5,1074.3h0.6M267.0,1071.5h0.6M272.3,1072.4h0.6M271.3,1078.0h0.6M260.1,1067.5h0.6M266.8,1096.1h0.6M273.8,1071.8h0.6M270.9,1069.8h0.6M273.4,1067.8h0.6M271.8,1086.1h0.6M275.7,1071.4h0.6M257.4,1066.3h0.6M272.5,1074.4h0.6M266.7,1070.5h0.6M272.3,1078.9h0.6M272.7,1073.3h0.6M264.2,1069.2h0.6M265.8,1068.1h0.6M272.1,1088.1h0.6M275.4,1077.6h0.6M270.7,1064.6h0.6M266.8,1070.1h0.6M271.1,1072.0h0.6M253.4,1064.9h0.6M249.7,1067.7h0.6M269.4,1067.5h0.6M258.5,1065.9h0.6M271.6,1078.2h0.6M275.2,1073.5h0.6M274.4,1079.4h0.6M264.9,1068.6h0.6M268.3,1068.3h0.6M267.0,1066.3h0.6M258.1,1067.0h0.6M255.1,1065.6h0.6M274.2,1085.3h0.6M259.3,1065.0h0.6M266.7,1070.7h0.6M269.3,1072.1h0.6M273.5,1074.9h0.6M271.2,1075.8h0.6M267.6,1068.0h0.6M256.0,1065.1h0.6M272.8,1080.0h0.6M268.6,1069.8h0.6M278.7,1081.0h0.6M261.9,1066.7h0.6M271.0,1071.6h0.6M266.9,1068.1h0.6M265.3,1069.4h0.6M268.3,1066.8h0.6M253.2,1067.1h0.6M252.8,1065.0h0.6M274.1,1082.3h0.6M262.2,1068.2h0.6M271.5,1071.5h0.6M256.2,1065.3h0.6M270.7,1074.7h0.6M266.0,1070.0h0.6M270.2,1074.5h0.6M270.3,1072.1h0.6M273.5,1081.6h0.6M267.9,1068.5h0.6M276.8,1077.1h0.6M272.4,1076.9h0.6M267.4,1071.5h0.6M266.4,1069.6h0.6M271.3,1072.6h0.6M270.6,1075.5h0.6M273.4,1077.7h0.6M267.3,1069.4h0.6M269.6,1074.2h0.6M273.8,1085.6h0.6M278.0,1084.1h0.6M272.2,1075.8h0.6M270.5,1069.5h0.6M272.3,1086.5h0.6M250.1,1064.4h0.6M275.5,1076.4h0.6M263.0,1067.8h0.6M261.8,1068.1h0.6M271.6,1071.3h0.6M274.6,1089.8h0.6M272.8,1086.2h0.6M268.7,1071.1h0.6M261.4,1067.7h0.6M262.9,1067.1h0.6M264.6,1068.2h0.6M261.2,1067.9h0.6M275.1,1087.6h0.6M271.6,1078.3h0.6M269.0,1070.7h0.6M269.7,1071.9h0.6M271.7,1079.3h0.6M275.5,1077.7h0.6M266.2,1070.8h0.6M262.6,1067.8h0.6M258.9,1067.3h0.6M268.1,1071.2h0.6M272.4,1070.5h0.6M270.6,1068.3h0.6M268.6,1065.0h0.6M270.7,1071.0h0.6M268.1,1071.6h0.6M272.6,1084.2h0.6M271.2,1072.1h0.6M260.9,1066.1h0.6M269.7,1071.2h0.6M266.4,1065.0h0.6M271.5,1074.7h0.6M272.7,1074.5h0.6M258.4,1067.7h0.6M265.8,1065.1h0.6M272.4,1083.7h0.6M270.4,1074.7h0.6M273.2,1085.8h0.6M268.7,1072.8h0.6M251.1,1065.9h0.6M267.8,1067.4h0.6M268.3,1071.2h0.6M267.7,1070.2h0.6M249.1,1065.3h0.6M248.6,1067.5h0.6M273.1,1070.0h0.6M264.3,1068.0h0.6M275.2,1074.7h0.6M262.6,1068.4h0.6M272.5,1072.9h0.6M252.9,1066.7h0.6M266.5,1068.4h0.6M242.4,1068.2h0.6M252.2,1064.0h0.6M268.1,1070.8h0.6M272.0,1072.2h0.6M253.9,1066.4h0.6M272.6,1072.6h0.6M278.0,1081.9h0.6M271.2,1075.3h0.6M255.2,1066.4h0.6M266.5,1070.9h0.6M254.9,1066.8h0.6M263.5,1065.2h0.6M266.3,1070.3h0.6M274.4,1073.6h0.6M267.2,1067.1h0.6M269.8,1074.6h0.6M259.1,1067.2h0.6M273.0,1075.5h0.6M268.5,1096.3h0.6M270.4,1071.3h0.6M271.8,1087.0h0.6M269.6,1072.0h0.6M263.3,1069.1h0.6M276.7,1081.5h0.6M256.8,1066.7h0.6M271.6,1074.0h0.6M270.4,1071.9h0.6M276.8,1079.5h0.6M272.3,1079.5h0.6M268.9,1070.6h0.6M272.3,1078.9h0.6M269.1,1072.9h0.6M273.8,1080.4h0.6M262.6,1068.3h0.6M272.2,1074.8h0.6M277.5,1079.4h0.6M269.6,1069.6h0.6M269.1,1072.2h0.6M274.8,1083.3h0.6M263.7,1065.6h0.6M267.8,1065.4h0.6M270.1,1091.4h0.6M258.4,1066.7h0.6M257.3,1067.7h0.6M264.1,1069.5h0.6M266.6,1069.5h0.6M267.2,1071.1h0.6M267.6,1070.4h0.6M267.6,1068.5h0.6M272.8,1087.9h0.6M269.5,1073.8h0.6M262.3,1066.5h0.6M248.7,1067.9h0.6M242.9,1068.7h0.6M271.3,1069.6h0.6M262.8,1068.9h0.6M260.8,1066.9h0.6M271.6,1078.7h0.6M274.9,1076.5h0.6M268.5,1069.6h0.6M260.2,1066.6h0.6M270.3,1075.3h0.6M272.3,1079.5h0.6M251.8,1066.7h0.6M280.5,1078.2h0.6M266.9,1069.1h0.6M258.0,1061.8h0.6M244.0,1069.2h0.6M262.6,1066.7h0.6M260.6,1065.9h0.6M272.5,1078.0h0.6M237.8,1072.8h0.6M273.3,1074.0h0.6M273.4,1078.8h0.6M272.5,1081.6h0.6M270.4,1075.2h0.6M272.1,1086.0h0.6M265.5,1068.8h0.6M269.6,1073.3h0.6M255.2,1065.1h0.6M266.3,1065.5h0.6M269.4,1072.2h0.6M269.3,1068.3h0.6M265.2,1067.1h0.6M256.9,1067.4h0.6M264.9,1068.7h0.6M270.0,1070.5h0.6M272.7,1077.5h0.6M271.6,1088.0h0.6M273.2,1070.6h0.6M268.5,1071.1h0.6M260.2,1066.6h0.6M260.2,1065.1h0.6M267.0,1069.9h0.6M272.6,1071.2h0.6M274.6,1076.5h0.6M269.4,1074.0h0.6M276.0,1081.1h0.6M277.8,1070.4h0.6M271.2,1075.6h0.6M253.0,1063.7h0.6M255.7,1065.8h0.6M273.0,1080.5h0.6M255.2,1065.2h0.6M270.7,1073.4h0.6M250.5,1067.6h0.6M267.2,1069.3h0.6M261.4,1066.3h0.6M272.0,1085.1h0.6M275.3,1074.7h0.6M271.2,1077.4h0.6M267.5,1071.8h0.6M257.8,1066.1h0.6M255.2,1062.5h0.6M272.1,1081.3h0.6M272.0,1074.2h0.6M264.3,1068.9h0.6M273.5,1085.6h0.6M273.6,1081.1h0.6M267.4,1068.9h0.6M271.9,1075.0h0.6M263.5,1068.7h0.6M258.9,1067.1h0.6M270.3,1075.3h0.6M271.5,1076.5h0.6M275.3,1080.1h0.6M266.3,1070.7h0.6M263.2,1067.9h0.6M270.0,1069.8h0.6M269.7,1072.3h0.6M250.3,1068.0h0.6M268.7,1070.3h0.6M273.5,1081.4h0.6M258.0,1067.1h0.6M255.8,1065.9h0.6M259.5,1063.5h0.6M273.1,1077.1h0.6M275.1,1080.9h0.6M270.2,1072.2h0.6M259.1,1067.7h0.6M243.9,1068.9h0.6M268.1,1068.6h0.6M264.0,1066.9h0.6M264.9,1068.0h0.6M271.4,1075.1h0.6M267.5,1066.9h0.6M258.5,1066.9h0.6M242.8,1068.7h0.6M269.1,1069.3h0.6M275.2,1085.0h0.6M273.7,1073.6h0.6M259.7,1066.5h0.6M263.2,1064.0h0.6M270.7,1072.3h0.6M256.1,1066.6h0.6M273.6,1079.5h0.6M275.0,1076.8h0.6M259.9,1064.4h0.6M271.2,1074.0h0.6M260.2,1065.7h0.6M245.1,1070.0h0.6M271.5,1072.5h0.6M255.4,1065.0h0.6M271.7,1067.7h0.6M278.2,1080.5h0.6M235.9,1074.9h0.6M277.4,1074.7h0.6M257.3,1062.9h0.6M276.0,1090.9h0.6M276.6,1081.2h0.6M260.5,1068.1h0.6M261.6,1064.9h0.6M267.8,1064.7h0.6M259.7,1100.1h0.6M251.3,1067.2h0.6M272.3,1077.1h0.6M250.5,1066.5h0.6M268.7,1072.4h0.6M263.5,1069.1h0.6M271.5,1069.7h0.6M264.0,1068.1h0.6M274.3,1077.0h0.6M270.0,1074.8h0.6M261.2,1067.6h0.6M260.5,1064.4h0.6M267.7,1069.2h0.6M269.9,1074.8h0.6M268.0,1069.5h0.6M261.6,1067.5h0.6M272.3,1081.1h0.6M258.5,1066.2h0.6M270.9,1076.3h0.6M266.8,1067.1h0.6M245.5,1067.5h0.6M270.4,1071.7h0.6M273.4,1070.8h0.6M261.2,1067.4h0.6M251.1,1064.5h0.6M251.7,1062.2h0.6M256.7,1065.8h0.6M274.3,1085.5h0.6M272.7,1081.9h0.6M268.2,1072.4h0.6M272.9,1076.5h0.6M273.6,1073.2h0.6M257.1,1064.1h0.6M272.8,1076.0h0.6M260.5,1067.8h0.6M266.7,1071.1h0.6M253.7,1066.0h0.6M271.3,1076.0h0.6M273.4,1083.7h0.6M265.7,1067.1h0.6M264.8,1069.9h0.6M265.8,1066.8h0.6M258.9,1066.9h0.6M271.6,1073.4h0.6M273.4,1070.9h0.6M262.9,1068.0h0.6M260.1,1065.4h0.6M271.8,1080.1h0.6M257.6,1067.1h0.6M272.2,1075.9h0.6M272.0,1084.1h0.6M261.4,1067.2h0.6M263.0,1068.8h0.6M268.9,1068.4h0.6M265.0,1069.6h0.6M253.7,1066.0h0.6M267.5,1068.6h0.6M268.0,1069.5h0.6M253.5,1067.7h0.6M261.5,1067.8h0.6M277.3,1078.2h0.6M271.9,1077.5h0.6M255.6,1065.6h0.6M269.7,1070.9h0.6M266.1,1070.8h0.6M228.3,1091.2h0.6M276.4,1076.6h0.6M224.0,1088.5h0.6M284.2,1074.3h0.6M276.4,1079.4h0.6M258.0,1104.1h0.6M224.8,1077.2h0.6M263.8,1089.0h0.6M236.4,1098.0h0.6M261.3,1095.7h0.6M267.5,1077.4h0.6M262.6,1077.9h0.6M239.1,1081.3h0.6M243.9,1095.9h0.6M238.2,1097.1h0.6M260.4,1106.5h0.6M224.3,1118.6h0.6M278.7,1070.2h0.6M275.9,1082.5h0.6M247.3,1074.0h0.6M242.9,1082.4h0.6M234.8,1077.7h0.6M227.2,1071.3h0.6M263.8,1077.3h0.6M193.5,1090.1h0.6M301.8,1105.1h0.6M268.5,1103.1h0.6M235.5,1095.3h0.6M266.5,1075.7h0.6M269.1,1068.7h0.6M262.7,1099.8h0.6M293.3,1050.8h0.6M284.6,1072.3h0.6M275.5,1078.9h0.6M287.4,1104.9h0.6M233.3,1068.9h0.6M249.1,1104.2h0.6M239.6,1092.9h0.6M245.5,1076.6h0.6M235.0,1054.0h0.6M259.9,1072.6h0.6M255.9,1084.0h0.6M235.4,1074.5h0.6M273.5,1080.4h0.6M258.1,1072.6h0.6M277.5,1072.0h0.6M256.1,1098.4h0.6M236.5,1100.8h0.6M223.3,1093.3h0.6M291.9,1101.7h0.6M241.8,1065.6h0.6M251.8,1065.3h0.6M236.3,1069.3h0.6M289.7,1074.2h0.6M248.8,1084.0h0.6M230.9,1084.4h0.6M237.5,1094.4h0.6M275.2,1087.1h0.6M241.8,1087.8h0.6M292.1,1068.1h0.6M272.0,1106.6h0.6M239.4,1106.6h0.6M238.1,1106.5h0.6M229.9,1106.7h0.6M248.7,1107.3h0.6M270.8,1107.0h0.6M229.7,1107.1h0.6M246.1,1107.1h0.6M235.1,1106.6h0.6M240.8,1106.1h0.6M241.2,1106.0h0.6M254.7,1107.2h0.6M234.7,1105.6h0.6M237.7,1106.9h0.6M238.9,1105.4h0.6M249.8,1105.5h0.6M265.8,1106.9h0.6M265.8,1105.7h0.6M244.6,1107.1h0.6M255.6,1107.2h0.6M243.8,1106.7h0.6M245.0,1107.2h0.6M228.3,1106.8h0.6M255.3,1106.9h0.6M266.3,1105.7h0.6M232.6,1105.1h0.6M260.8,1106.1h0.6M231.1,1106.7h0.6M267.5,1107.2h0.6M256.8,1107.2h0.6M228.5,1085.8h0.6M228.2,1078.8h0.6M227.9,1089.5h0.6M228.3,1084.2h0.6M228.0,1091.3h0.6M227.6,1087.5h0.6M227.4,1101.1h0.6M227.9,1085.3h0.6M228.1,1083.7h0.6M229.1,1091.1h0.6M227.6,1088.6h0.6M228.3,1087.8h0.6M227.5,1071.2h0.6M227.4,1068.3h0.6M227.7,1080.6h0.6M227.3,1090.8h0.6M227.9,1081.7h0.6M227.6,1066.4h0.6" stroke="#000" stroke-width="0.6" fill="none"/>
<path d="M256.4,1047.3h1.8M261.1,1046.5h1.8M255.5,1046.3h1.8M259.4,1043.8h1.8M256.4,1047.4h1.8M254.8,1043.3h1.8M248.4,1047.4h1.8M251.9,1045.5h1.8M256.2,1045.5h1.8M253.5,1045.8h1.8M263.2,1048.2h1.8M256.9,1046.2h1.8M255.4,1047.0h1.8M260.4,1047.0h1.8M250.0,1043.0h1.8M248.9,1043.2h1.8M250.6,1043.5h1.8M261.1,1045.6h1.8M263.3,1049.3h1.8M253.7,1040.4h1.8M261.5,1046.1h1.8M267.7,1047.3h1.8M252.6,1044.9h1.8M255.4,1045.6h1.8M250.0,1047.8h1.8M256.5,1046.7h1.8M259.7,1048.8h1.8M254.2,1047.0h1.8M249.6,1044.8h1.8M252.5,1046.2h1.8M253.4,1047.3h1.8M253.5,1040.4h1.8M255.8,1047.9h1.8M257.5,1048.8h1.8" stroke="#ff1010" stroke-width="1.8" fill="none"/>
<path d="M306.3,1086.8h1.8M297.2,1082.0h1.8M299.1,1086.2h1.8M300.0,1082.3h1.8M307.5,1087.6h1.8M302.4,1083.4h1.8M301.8,1084.4h1.8M301.5,1083.9h1.8M302.2,1088.2h1.8M303.9,1079.7h1.8M302.5,1089.1h1.8M305.4,1085.5h1.8M300.5,1074.6h1.8M302.2,1079.7h1.8M305.0,1080.8h1.8M305.0,1090.8h1.8M300.5,1078.9h1.8M306.5,1075.6h1.8M304.0,1084.3h1.8M303.6,1082.0h1.8M301.9,1087.2h1.8M304.5,1086.0h1.8M302.3,1081.5h1.8M303.1,1087.2h1.8M299.2,1081.3h1.8M302.9,1090.1h1.8M305.5,1084.4h1.8M301.6,1088.1h1.8M304.1,1086.3h1.8M300.9,1093.0h1.8M306.0,1074.1h1.8M306.7,1084.9h1.8M301.1,1081.6h1.8M304.8,1089.4h1.8M302.6,1086.0h1.8M299.6,1081.8h1.8" stroke="#1878ee" stroke-width="1.8" fill="none"/>
</g>
<rect x="226.8" y="1019.8" width="104" height="88.5" fill="none" stroke="#333" stroke-width="0.9"/>
<text transform="translate(219.2,1067.8) rotate(-90)" font-size="18" text-anchor="middle">V<tspan class="ser" font-size="19">δ</tspan>1</text>
<text x="278.2" y="1131.5" font-size="18" text-anchor="middle">V<tspan class="ser" font-size="19">δ</tspan>2</text>
</g>
<g id="panelF">
<text x="430.2" y="867.8" font-size="28" font-weight="bold">F</text>
<text x="604.6" y="896.2" font-size="14.2" font-weight="bold" text-anchor="middle">BM-day 30</text>
<line x1="486.8" y1="915.7" x2="486.8" y2="1065.8" stroke="#8c8c8c" stroke-width="1.4"/>
<line x1="486.1" y1="1065.8" x2="723" y2="1065.8" stroke="#8c8c8c" stroke-width="1.4"/>
<line x1="482.8" y1="1065.8" x2="486.8" y2="1065.8" stroke="#8c8c8c" stroke-width="1.1"/>
<text x="480.4" y="1069.6" font-size="10.8" font-weight="bold" text-anchor="end">0.0</text>
<line x1="482.8" y1="1028.38" x2="486.8" y2="1028.38" stroke="#8c8c8c" stroke-width="1.1"/>
<text x="480.4" y="1032.17" font-size="10.8" font-weight="bold" text-anchor="end">0.5</text>
<line x1="482.8" y1="990.95" x2="486.8" y2="990.95" stroke="#8c8c8c" stroke-width="1.1"/>
<text x="480.4" y="994.75" font-size="10.8" font-weight="bold" text-anchor="end">1.0</text>
<line x1="482.8" y1="953.52" x2="486.8" y2="953.52" stroke="#8c8c8c" stroke-width="1.1"/>
<text x="480.4" y="957.32" font-size="10.8" font-weight="bold" text-anchor="end">1.5</text>
<line x1="482.8" y1="916.1" x2="486.8" y2="916.1" stroke="#8c8c8c" stroke-width="1.1"/>
<text x="480.4" y="919.9" font-size="10.8" font-weight="bold" text-anchor="end">2.0</text>
<text transform="translate(458,1026) rotate(-90)" font-size="12.2" font-weight="bold">% <tspan class="ser" font-weight="normal" font-size="12.6">γδ</tspan> T-cells</text>
<line x1="511.3" y1="1065.8" x2="511.3" y2="1070.4" stroke="#8c8c8c" stroke-width="1.1"/>
<line x1="548.8" y1="1065.8" x2="548.8" y2="1070.4" stroke="#8c8c8c" stroke-width="1.1"/>
<line x1="586.3" y1="1065.8" x2="586.3" y2="1070.4" stroke="#8c8c8c" stroke-width="1.1"/>
<line x1="623.4" y1="1065.8" x2="623.4" y2="1070.4" stroke="#8c8c8c" stroke-width="1.1"/>
<line x1="660.6" y1="1065.8" x2="660.6" y2="1070.4" stroke="#8c8c8c" stroke-width="1.1"/>
<line x1="697.6" y1="1065.8" x2="697.6" y2="1070.4" stroke="#8c8c8c" stroke-width="1.1"/>
<circle cx="502" cy="1065.8" r="2.7" fill="none" stroke="#ff1a1a" stroke-width="0.9"/>
<circle cx="508.3" cy="1065.8" r="2.7" fill="none" stroke="#ff1a1a" stroke-width="0.9"/>
<circle cx="514.5" cy="1065.8" r="2.7" fill="none" stroke="#ff1a1a" stroke-width="0.9"/>
<circle cx="520.8" cy="1065.8" r="2.7" fill="none" stroke="#ff1a1a" stroke-width="0.9"/>
<circle cx="539.5" cy="1065.8" r="2.7" fill="none" stroke="#1fc41f" stroke-width="0.9"/>
<circle cx="545.8" cy="1065.8" r="2.7" fill="none" stroke="#1fc41f" stroke-width="0.9"/>
<circle cx="552" cy="1065.8" r="2.7" fill="none" stroke="#1fc41f" stroke-width="0.9"/>
<circle cx="558.3" cy="1065.8" r="2.7" fill="none" stroke="#1fc41f" stroke-width="0.9"/>
<path d="M573.9,1039.5h24.8M586.3,1037.6V1041.6M581.1,1037.6h10.4M581.1,1041.6h10.4" stroke="#1e90ff" stroke-width="0.9" fill="none"/>
<circle cx="576.8" cy="1036.5" r="2.7" fill="none" stroke="#1e90ff" stroke-width="0.9"/>
<circle cx="595.8" cy="1036.5" r="2.7" fill="none" stroke="#1e90ff" stroke-width="0.9"/>
<circle cx="583" cy="1043.5" r="2.7" fill="none" stroke="#1e90ff" stroke-width="0.9"/>
<circle cx="589.6" cy="1043.5" r="2.7" fill="none" stroke="#1e90ff" stroke-width="0.9"/>
<circle cx="614.3" cy="1065.8" r="3" fill="#ff1a1a"/>
<circle cx="620.5" cy="1065.8" r="3" fill="#ff1a1a"/>
<circle cx="626.8" cy="1065.8" r="3" fill="#ff1a1a"/>
<circle cx="633" cy="1065.8" r="3" fill="#ff1a1a"/>
<circle cx="651.3" cy="1065.8" r="3" fill="#1fc41f"/>
<circle cx="657.5" cy="1065.8" r="3" fill="#1fc41f"/>
<circle cx="663.8" cy="1065.8" r="3" fill="#1fc41f"/>
<circle cx="670" cy="1065.8" r="3" fill="#1fc41f"/>
<path d="M685.3,1021h24.6M697.6,998.3V1044M691.7,998.3h11.8M691.7,1044h11.8" stroke="#1e90ff" stroke-width="0.9" fill="none"/>
<path d="M697.6,950.8L700.45,956.05L694.75,956.05Z" fill="none" stroke="#1e90ff" stroke-width="0.9"/>
<path d="M693,1033.5L695.85,1038.75L690.15,1038.75Z" fill="none" stroke="#1e90ff" stroke-width="0.9"/>
<path d="M702.5,1033.5L705.35,1038.75L699.65,1038.75Z" fill="none" stroke="#1e90ff" stroke-width="0.9"/>
<path d="M697.6,1055.5L700.45,1060.75L694.75,1060.75Z" fill="none" stroke="#1e90ff" stroke-width="0.9"/>
<text x="493" y="1084" font-size="11.2" font-weight="bold" text-anchor="end">CAR:</text>
<text x="493" y="1102" font-size="11.2" font-weight="bold" text-anchor="end">IL15:</text>
<text x="511.6" y="1084" font-size="10.6" font-weight="bold" text-anchor="middle">-</text>
<text x="549.1" y="1084" font-size="10.6" font-weight="bold" text-anchor="middle">-</text>
<text x="586.6" y="1084" font-size="10.6" font-weight="bold" text-anchor="middle">-</text>
<text x="623.7" y="1084" font-size="10.6" font-weight="bold" text-anchor="middle">+</text>
<text x="660.9" y="1084" font-size="10.6" font-weight="bold" text-anchor="middle">+</text>
<text x="697.9" y="1084" font-size="10.6" font-weight="bold" text-anchor="middle">+</text>
<text x="511.9" y="1102" font-size="10.6" font-weight="bold" text-anchor="middle">-</text>
<text x="549.2" y="1102" font-size="10.6" font-weight="bold" text-anchor="middle">3d</text>
<text x="586.7" y="1102" font-size="10.6" font-weight="bold" text-anchor="middle">Daily</text>
<text x="624" y="1102" font-size="10.6" font-weight="bold" text-anchor="middle">-</text>
<text x="661" y="1102" font-size="10.6" font-weight="bold" text-anchor="middle">3d</text>
<text x="698" y="1102" font-size="10.6" font-weight="bold" text-anchor="middle">Daily</text>
<line x1="510.5" y1="1106.6" x2="596.8" y2="1106.6" stroke="#000" stroke-width="1.3"/>
<line x1="623.3" y1="1106.6" x2="709.5" y2="1106.6" stroke="#000" stroke-width="1.3"/>
<text x="552.8" y="1121" font-size="13.3" text-anchor="middle">Mock-DOT</text>
<text x="665.2" y="1121" font-size="13.3" text-anchor="middle">CAR-DOT</text>
</g>
</svg>
</body></html>
